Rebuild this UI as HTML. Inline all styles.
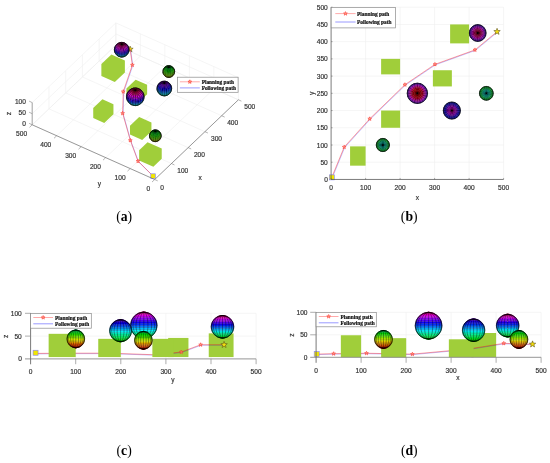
<!DOCTYPE html>
<html><head><meta charset="utf-8"><title>Path planning results</title>
<style>html,body{margin:0;padding:0;background:#fff;width:550px;height:463px;overflow:hidden}svg{display:block}</style>
</head><body>
<svg width="550" height="463" viewBox="0 0 550 463"><defs></defs><rect width="550" height="463" fill="#fff"/><line x1="365.6" y1="179.45" x2="365.6" y2="7.2" stroke="#efefef" stroke-width="0.6"/><line x1="400.1" y1="179.45" x2="400.1" y2="7.2" stroke="#efefef" stroke-width="0.6"/><line x1="434.6" y1="179.45" x2="434.6" y2="7.2" stroke="#efefef" stroke-width="0.6"/><line x1="469.1" y1="179.45" x2="469.1" y2="7.2" stroke="#efefef" stroke-width="0.6"/><line x1="503.6" y1="179.45" x2="503.6" y2="7.2" stroke="#efefef" stroke-width="0.6"/><line x1="331.1" y1="162.22" x2="503.6" y2="162.22" stroke="#efefef" stroke-width="0.6"/><line x1="331.1" y1="145" x2="503.6" y2="145" stroke="#efefef" stroke-width="0.6"/><line x1="331.1" y1="127.77" x2="503.6" y2="127.77" stroke="#efefef" stroke-width="0.6"/><line x1="331.1" y1="110.55" x2="503.6" y2="110.55" stroke="#efefef" stroke-width="0.6"/><line x1="331.1" y1="93.32" x2="503.6" y2="93.32" stroke="#efefef" stroke-width="0.6"/><line x1="331.1" y1="76.1" x2="503.6" y2="76.1" stroke="#efefef" stroke-width="0.6"/><line x1="331.1" y1="58.88" x2="503.6" y2="58.88" stroke="#efefef" stroke-width="0.6"/><line x1="331.1" y1="41.65" x2="503.6" y2="41.65" stroke="#efefef" stroke-width="0.6"/><line x1="331.1" y1="24.43" x2="503.6" y2="24.43" stroke="#efefef" stroke-width="0.6"/><line x1="331.1" y1="7.2" x2="503.6" y2="7.2" stroke="#efefef" stroke-width="0.6"/><rect x="350.08" y="146.38" width="15.52" height="19.29" fill="#a0ce3a"/><rect x="381.12" y="58.88" width="18.98" height="15.5" fill="#a0ce3a"/><rect x="381.12" y="110.55" width="18.98" height="17.22" fill="#a0ce3a"/><rect x="432.88" y="70.24" width="18.98" height="16.19" fill="#a0ce3a"/><rect x="450.12" y="24.43" width="18.98" height="18.95" fill="#a0ce3a"/><polyline points="332.24,177.83 344.66,147.52 370.19,119.27 405.38,85.16 435.4,64.84 475.42,50.37 497.5,32.11" fill="none" stroke="#0000ff" stroke-width="0.6" stroke-linejoin="round" stroke-opacity="0.4"/><polyline points="331.79,177.38 344.21,147.07 369.74,118.82 404.93,84.71 434.95,64.39 474.97,49.92 497.05,31.66" fill="none" stroke="#ff1010" stroke-width="0.65" stroke-linejoin="round" stroke-opacity="0.62"/><polygon points="344.21,145.07 344.7,146.39 346.11,146.45 345.01,147.33 345.39,148.69 344.21,147.91 343.03,148.69 343.41,147.33 342.31,146.45 343.72,146.39" fill="#f89a70" stroke="#ff3030" stroke-width="0.55" fill-opacity="0.75"/><polygon points="369.74,116.82 370.23,118.14 371.64,118.2 370.54,119.08 370.92,120.44 369.74,119.66 368.56,120.44 368.94,119.08 367.84,118.2 369.25,118.14" fill="#f89a70" stroke="#ff3030" stroke-width="0.55" fill-opacity="0.75"/><polygon points="404.93,82.71 405.42,84.03 406.83,84.09 405.73,84.97 406.11,86.33 404.93,85.55 403.75,86.33 404.13,84.97 403.03,84.09 404.44,84.03" fill="#f89a70" stroke="#ff3030" stroke-width="0.55" fill-opacity="0.75"/><polygon points="434.95,62.39 435.44,63.71 436.85,63.77 435.74,64.65 436.12,66.01 434.95,65.23 433.77,66.01 434.15,64.65 433.04,63.77 434.45,63.71" fill="#f89a70" stroke="#ff3030" stroke-width="0.55" fill-opacity="0.75"/><polygon points="474.97,47.92 475.46,49.24 476.87,49.3 475.76,50.18 476.14,51.54 474.97,50.76 473.79,51.54 474.17,50.18 473.06,49.3 474.47,49.24" fill="#f89a70" stroke="#ff3030" stroke-width="0.55" fill-opacity="0.75"/><path d="M376.2 145.0L376.6 147.0L376.7 147.0L376.3 145.0ZM376.6 147.0L377.5 148.9L377.6 148.8L376.7 147.0ZM377.5 148.9L379.0 150.3L379.0 150.3L377.6 148.8ZM379.0 150.3L380.8 151.3L380.8 151.2L379.0 150.3ZM380.8 151.3L382.9 151.6L382.9 151.5L380.8 151.2ZM382.9 151.6L384.9 151.3L384.9 151.2L382.9 151.5ZM384.9 151.3L386.7 150.3L386.7 150.3L384.9 151.2ZM386.7 150.3L388.2 148.9L388.1 148.8L386.7 150.3ZM388.2 148.9L389.1 147.0L389.0 147.0L388.1 148.8ZM389.1 147.0L389.5 145.0L389.4 145.0L389.0 147.0ZM389.5 145.0L389.1 143.0L389.0 143.0L389.4 145.0ZM389.1 143.0L388.2 141.1L388.1 141.2L389.0 143.0ZM388.2 141.1L386.7 139.7L386.7 139.7L388.1 141.2ZM386.7 139.7L384.9 138.7L384.9 138.8L386.7 139.7ZM384.9 138.7L382.9 138.4L382.9 138.5L384.9 138.8ZM382.9 138.4L380.8 138.7L380.8 138.8L382.9 138.5ZM380.8 138.7L379.0 139.7L379.0 139.7L380.8 138.8ZM379.0 139.7L377.5 141.1L377.6 141.2L379.0 139.7ZM377.5 141.1L376.6 143.0L376.7 143.0L377.6 141.2ZM376.6 143.0L376.2 145.0L376.3 145.0L376.7 143.0Z" fill="#00d91d" stroke="#000" stroke-opacity="0.85" stroke-width="0.25" stroke-linejoin="round"/><path d="M376.3 145.0L376.7 147.0L376.9 146.9L376.6 145.0ZM376.7 147.0L377.6 148.8L377.8 148.7L376.9 146.9ZM377.6 148.8L379.0 150.3L379.2 150.1L377.8 148.7ZM379.0 150.3L380.8 151.2L380.9 151.0L379.2 150.1ZM380.8 151.2L382.9 151.5L382.9 151.3L380.9 151.0ZM382.9 151.5L384.9 151.2L384.8 151.0L382.9 151.3ZM384.9 151.2L386.7 150.3L386.5 150.1L384.8 151.0ZM386.7 150.3L388.1 148.8L387.9 148.7L386.5 150.1ZM388.1 148.8L389.0 147.0L388.8 146.9L387.9 148.7ZM389.0 147.0L389.4 145.0L389.1 145.0L388.8 146.9ZM389.4 145.0L389.0 143.0L388.8 143.1L389.1 145.0ZM389.0 143.0L388.1 141.2L387.9 141.3L388.8 143.1ZM388.1 141.2L386.7 139.7L386.5 139.9L387.9 141.3ZM386.7 139.7L384.9 138.8L384.8 139.0L386.5 139.9ZM384.9 138.8L382.9 138.5L382.9 138.7L384.8 139.0ZM382.9 138.5L380.8 138.8L380.9 139.0L382.9 138.7ZM380.8 138.8L379.0 139.7L379.2 139.9L380.9 139.0ZM379.0 139.7L377.6 141.2L377.8 141.3L379.2 139.9ZM377.6 141.2L376.7 143.0L376.9 143.1L377.8 141.3ZM376.7 143.0L376.3 145.0L376.6 145.0L376.9 143.1Z" fill="#00d921" stroke="#000" stroke-opacity="0.85" stroke-width="0.25" stroke-linejoin="round"/><path d="M376.6 145.0L376.9 146.9L377.3 146.8L377.0 145.0ZM376.9 146.9L377.8 148.7L378.1 148.5L377.3 146.8ZM377.8 148.7L379.2 150.1L379.4 149.8L378.1 148.5ZM379.2 150.1L380.9 151.0L381.0 150.6L379.4 149.8ZM380.9 151.0L382.9 151.3L382.9 150.9L381.0 150.6ZM382.9 151.3L384.8 151.0L384.7 150.6L382.9 150.9ZM384.8 151.0L386.5 150.1L386.3 149.8L384.7 150.6ZM386.5 150.1L387.9 148.7L387.6 148.5L386.3 149.8ZM387.9 148.7L388.8 146.9L388.4 146.8L387.6 148.5ZM388.8 146.9L389.1 145.0L388.7 145.0L388.4 146.8ZM389.1 145.0L388.8 143.1L388.4 143.2L388.7 145.0ZM388.8 143.1L387.9 141.3L387.6 141.5L388.4 143.2ZM387.9 141.3L386.5 139.9L386.3 140.2L387.6 141.5ZM386.5 139.9L384.8 139.0L384.7 139.4L386.3 140.2ZM384.8 139.0L382.9 138.7L382.9 139.1L384.7 139.4ZM382.9 138.7L380.9 139.0L381.0 139.4L382.9 139.1ZM380.9 139.0L379.2 139.9L379.4 140.2L381.0 139.4ZM379.2 139.9L377.8 141.3L378.1 141.5L379.4 140.2ZM377.8 141.3L376.9 143.1L377.3 143.2L378.1 141.5ZM376.9 143.1L376.6 145.0L377.0 145.0L377.3 143.2Z" fill="#00d928" stroke="#000" stroke-opacity="0.85" stroke-width="0.25" stroke-linejoin="round"/><path d="M377.0 145.0L377.3 146.8L377.8 146.7L377.5 145.0ZM377.3 146.8L378.1 148.5L378.5 148.1L377.8 146.7ZM378.1 148.5L379.4 149.8L379.7 149.3L378.5 148.1ZM379.4 149.8L381.0 150.6L381.2 150.1L379.7 149.3ZM381.0 150.6L382.9 150.9L382.9 150.3L381.2 150.1ZM382.9 150.9L384.7 150.6L384.5 150.1L382.9 150.3ZM384.7 150.6L386.3 149.8L386.0 149.3L384.5 150.1ZM386.3 149.8L387.6 148.5L387.2 148.1L386.0 149.3ZM387.6 148.5L388.4 146.8L387.9 146.7L387.2 148.1ZM388.4 146.8L388.7 145.0L388.2 145.0L387.9 146.7ZM388.7 145.0L388.4 143.2L387.9 143.3L388.2 145.0ZM388.4 143.2L387.6 141.5L387.2 141.9L387.9 143.3ZM387.6 141.5L386.3 140.2L386.0 140.7L387.2 141.9ZM386.3 140.2L384.7 139.4L384.5 139.9L386.0 140.7ZM384.7 139.4L382.9 139.1L382.9 139.7L384.5 139.9ZM382.9 139.1L381.0 139.4L381.2 139.9L382.9 139.7ZM381.0 139.4L379.4 140.2L379.7 140.7L381.2 139.9ZM379.4 140.2L378.1 141.5L378.5 141.9L379.7 140.7ZM378.1 141.5L377.3 143.2L377.8 143.3L378.5 141.9ZM377.3 143.2L377.0 145.0L377.5 145.0L377.8 143.3Z" fill="#00d932" stroke="#000" stroke-opacity="0.85" stroke-width="0.25" stroke-linejoin="round"/><path d="M377.5 145.0L377.8 146.7L378.4 146.4L378.2 145.0ZM377.8 146.7L378.5 148.1L379.1 147.7L378.4 146.4ZM378.5 148.1L379.7 149.3L380.1 148.8L379.1 147.7ZM379.7 149.3L381.2 150.1L381.4 149.4L380.1 148.8ZM381.2 150.1L382.9 150.3L382.9 149.7L381.4 149.4ZM382.9 150.3L384.5 150.1L384.3 149.4L382.9 149.7ZM384.5 150.1L386.0 149.3L385.6 148.8L384.3 149.4ZM386.0 149.3L387.2 148.1L386.6 147.7L385.6 148.8ZM387.2 148.1L387.9 146.7L387.3 146.4L386.6 147.7ZM387.9 146.7L388.2 145.0L387.5 145.0L387.3 146.4ZM388.2 145.0L387.9 143.3L387.3 143.6L387.5 145.0ZM387.9 143.3L387.2 141.9L386.6 142.3L387.3 143.6ZM387.2 141.9L386.0 140.7L385.6 141.2L386.6 142.3ZM386.0 140.7L384.5 139.9L384.3 140.6L385.6 141.2ZM384.5 139.9L382.9 139.7L382.9 140.3L384.3 140.6ZM382.9 139.7L381.2 139.9L381.4 140.6L382.9 140.3ZM381.2 139.9L379.7 140.7L380.1 141.2L381.4 140.6ZM379.7 140.7L378.5 141.9L379.1 142.3L380.1 141.2ZM378.5 141.9L377.8 143.3L378.4 143.6L379.1 142.3ZM377.8 143.3L377.5 145.0L378.2 145.0L378.4 143.6Z" fill="#00d940" stroke="#000" stroke-opacity="0.85" stroke-width="0.25" stroke-linejoin="round"/><path d="M378.2 145.0L378.4 146.4L379.2 146.2L379.0 145.0ZM378.4 146.4L379.1 147.7L379.7 147.3L379.2 146.2ZM379.1 147.7L380.1 148.8L380.6 148.1L379.7 147.3ZM380.1 148.8L381.4 149.4L381.7 148.7L380.6 148.1ZM381.4 149.4L382.9 149.7L382.9 148.9L381.7 148.7ZM382.9 149.7L384.3 149.4L384.0 148.7L382.9 148.9ZM384.3 149.4L385.6 148.8L385.1 148.1L384.0 148.7ZM385.6 148.8L386.6 147.7L386.0 147.3L385.1 148.1ZM386.6 147.7L387.3 146.4L386.5 146.2L386.0 147.3ZM387.3 146.4L387.5 145.0L386.7 145.0L386.5 146.2ZM387.5 145.0L387.3 143.6L386.5 143.8L386.7 145.0ZM387.3 143.6L386.6 142.3L386.0 142.7L386.5 143.8ZM386.6 142.3L385.6 141.2L385.1 141.9L386.0 142.7ZM385.6 141.2L384.3 140.6L384.0 141.3L385.1 141.9ZM384.3 140.6L382.9 140.3L382.9 141.1L384.0 141.3ZM382.9 140.3L381.4 140.6L381.7 141.3L382.9 141.1ZM381.4 140.6L380.1 141.2L380.6 141.9L381.7 141.3ZM380.1 141.2L379.1 142.3L379.7 142.7L380.6 141.9ZM379.1 142.3L378.4 143.6L379.2 143.8L379.7 142.7ZM378.4 143.6L378.2 145.0L379.0 145.0L379.2 143.8Z" fill="#00d96d" stroke="#000" stroke-opacity="0.85" stroke-width="0.25" stroke-linejoin="round"/><path d="M379.0 145.0L379.2 146.2L380.0 145.9L379.9 145.0ZM379.2 146.2L379.7 147.3L380.4 146.8L380.0 145.9ZM379.7 147.3L380.6 148.1L381.1 147.4L380.4 146.8ZM380.6 148.1L381.7 148.7L381.9 147.8L381.1 147.4ZM381.7 148.7L382.9 148.9L382.9 148.0L381.9 147.8ZM382.9 148.9L384.0 148.7L383.8 147.8L382.9 148.0ZM384.0 148.7L385.1 148.1L384.6 147.4L383.8 147.8ZM385.1 148.1L386.0 147.3L385.3 146.8L384.6 147.4ZM386.0 147.3L386.5 146.2L385.7 145.9L385.3 146.8ZM386.5 146.2L386.7 145.0L385.8 145.0L385.7 145.9ZM386.7 145.0L386.5 143.8L385.7 144.1L385.8 145.0ZM386.5 143.8L386.0 142.7L385.3 143.2L385.7 144.1ZM386.0 142.7L385.1 141.9L384.6 142.6L385.3 143.2ZM385.1 141.9L384.0 141.3L383.8 142.2L384.6 142.6ZM384.0 141.3L382.9 141.1L382.9 142.0L383.8 142.2ZM382.9 141.1L381.7 141.3L381.9 142.2L382.9 142.0ZM381.7 141.3L380.6 141.9L381.1 142.6L381.9 142.2ZM380.6 141.9L379.7 142.7L380.4 143.2L381.1 142.6ZM379.7 142.7L379.2 143.8L380.0 144.1L380.4 143.2ZM379.2 143.8L379.0 145.0L379.9 145.0L380.0 144.1Z" fill="#00d9a4" stroke="#000" stroke-opacity="0.85" stroke-width="0.25" stroke-linejoin="round"/><path d="M379.9 145.0L380.0 145.9L380.9 145.6L380.8 145.0ZM380.0 145.9L380.4 146.8L381.2 146.2L380.9 145.6ZM380.4 146.8L381.1 147.4L381.7 146.7L381.2 146.2ZM381.1 147.4L381.9 147.8L382.2 146.9L381.7 146.7ZM381.9 147.8L382.9 148.0L382.9 147.0L382.2 146.9ZM382.9 148.0L383.8 147.8L383.5 146.9L382.9 147.0ZM383.8 147.8L384.6 147.4L384.0 146.7L383.5 146.9ZM384.6 147.4L385.3 146.8L384.5 146.2L384.0 146.7ZM385.3 146.8L385.7 145.9L384.8 145.6L384.5 146.2ZM385.7 145.9L385.8 145.0L384.9 145.0L384.8 145.6ZM385.8 145.0L385.7 144.1L384.8 144.4L384.9 145.0ZM385.7 144.1L385.3 143.2L384.5 143.8L384.8 144.4ZM385.3 143.2L384.6 142.6L384.0 143.3L384.5 143.8ZM384.6 142.6L383.8 142.2L383.5 143.1L384.0 143.3ZM383.8 142.2L382.9 142.0L382.9 143.0L383.5 143.1ZM382.9 142.0L381.9 142.2L382.2 143.1L382.9 143.0ZM381.9 142.2L381.1 142.6L381.7 143.3L382.2 143.1ZM381.1 142.6L380.4 143.2L381.2 143.8L381.7 143.3ZM380.4 143.2L380.0 144.1L380.9 144.4L381.2 143.8ZM380.0 144.1L379.9 145.0L380.8 145.0L380.9 144.4Z" fill="#00d9bc" stroke="#000" stroke-opacity="0.85" stroke-width="0.25" stroke-linejoin="round"/><path d="M380.8 145.0L380.9 145.6L381.9 145.3L381.8 145.0ZM380.9 145.6L381.2 146.2L382.0 145.6L381.9 145.3ZM381.2 146.2L381.7 146.7L382.2 145.8L382.0 145.6ZM381.7 146.7L382.2 146.9L382.5 146.0L382.2 145.8ZM382.2 146.9L382.9 147.0L382.9 146.0L382.5 146.0ZM382.9 147.0L383.5 146.9L383.2 146.0L382.9 146.0ZM383.5 146.9L384.0 146.7L383.5 145.8L383.2 146.0ZM384.0 146.7L384.5 146.2L383.7 145.6L383.5 145.8ZM384.5 146.2L384.8 145.6L383.8 145.3L383.7 145.6ZM384.8 145.6L384.9 145.0L383.9 145.0L383.8 145.3ZM384.9 145.0L384.8 144.4L383.8 144.7L383.9 145.0ZM384.8 144.4L384.5 143.8L383.7 144.4L383.8 144.7ZM384.5 143.8L384.0 143.3L383.5 144.2L383.7 144.4ZM384.0 143.3L383.5 143.1L383.2 144.0L383.5 144.2ZM383.5 143.1L382.9 143.0L382.9 144.0L383.2 144.0ZM382.9 143.0L382.2 143.1L382.5 144.0L382.9 144.0ZM382.2 143.1L381.7 143.3L382.2 144.2L382.5 144.0ZM381.7 143.3L381.2 143.8L382.0 144.4L382.2 144.2ZM381.2 143.8L380.9 144.4L381.9 144.7L382.0 144.4ZM380.9 144.4L380.8 145.0L381.8 145.0L381.9 144.7Z" fill="#00d9ce" stroke="#000" stroke-opacity="0.85" stroke-width="0.25" stroke-linejoin="round"/><path d="M381.8 145.0L381.9 145.3L382.9 145.0ZM381.9 145.3L382.0 145.6L382.9 145.0ZM382.0 145.6L382.2 145.8L382.9 145.0ZM382.2 145.8L382.5 146.0L382.9 145.0ZM382.5 146.0L382.9 146.0L382.9 145.0ZM382.9 146.0L383.2 146.0L382.9 145.0ZM383.2 146.0L383.5 145.8L382.9 145.0ZM383.5 145.8L383.7 145.6L382.9 145.0ZM383.7 145.6L383.8 145.3L382.9 145.0ZM383.8 145.3L383.9 145.0L382.9 145.0ZM383.9 145.0L383.8 144.7L382.9 145.0ZM383.8 144.7L383.7 144.4L382.9 145.0ZM383.7 144.4L383.5 144.2L382.9 145.0ZM383.5 144.2L383.2 144.0L382.9 145.0ZM383.2 144.0L382.9 144.0L382.9 145.0ZM382.9 144.0L382.5 144.0L382.9 145.0ZM382.5 144.0L382.2 144.2L382.9 145.0ZM382.2 144.2L382.0 144.4L382.9 145.0ZM382.0 144.4L381.9 144.7L382.9 145.0ZM381.9 144.7L381.8 145.0L382.9 145.0Z" fill="#00d0d9" stroke="#000" stroke-opacity="0.85" stroke-width="0.25" stroke-linejoin="round"/><circle cx="382.85" cy="145" r="6.6" fill="none" stroke="#000" stroke-width="0.5"/><path d="M479.5 93.3L479.8 95.5L479.9 95.4L479.5 93.3ZM479.8 95.5L480.8 97.4L480.8 97.3L479.9 95.4ZM480.8 97.4L482.3 98.9L482.3 98.8L480.8 97.3ZM482.3 98.9L484.2 99.9L484.2 99.8L482.3 98.8ZM484.2 99.9L486.4 100.2L486.4 100.1L484.2 99.8ZM486.4 100.2L488.5 99.9L488.5 99.8L486.4 100.1ZM488.5 99.9L490.4 98.9L490.4 98.8L488.5 99.8ZM490.4 98.9L491.9 97.4L491.9 97.3L490.4 98.8ZM491.9 97.4L492.9 95.5L492.8 95.4L491.9 97.3ZM492.9 95.5L493.2 93.3L493.2 93.3L492.8 95.4ZM493.2 93.3L492.9 91.2L492.8 91.2L493.2 93.3ZM492.9 91.2L491.9 89.3L491.9 89.3L492.8 91.2ZM491.9 89.3L490.4 87.7L490.4 87.8L491.9 89.3ZM490.4 87.7L488.5 86.8L488.5 86.8L490.4 87.8ZM488.5 86.8L486.4 86.4L486.4 86.5L488.5 86.8ZM486.4 86.4L484.2 86.8L484.2 86.8L486.4 86.5ZM484.2 86.8L482.3 87.7L482.3 87.8L484.2 86.8ZM482.3 87.7L480.8 89.3L480.8 89.3L482.3 87.8ZM480.8 89.3L479.8 91.2L479.9 91.2L480.8 89.3ZM479.8 91.2L479.5 93.3L479.5 93.3L479.9 91.2Z" fill="#00d91d" stroke="#000" stroke-opacity="0.85" stroke-width="0.25" stroke-linejoin="round"/><path d="M479.5 93.3L479.9 95.4L480.1 95.4L479.8 93.3ZM479.9 95.4L480.8 97.3L481.0 97.2L480.1 95.4ZM480.8 97.3L482.3 98.8L482.5 98.6L481.0 97.2ZM482.3 98.8L484.2 99.8L484.3 99.6L482.5 98.6ZM484.2 99.8L486.4 100.1L486.4 99.9L484.3 99.6ZM486.4 100.1L488.5 99.8L488.4 99.6L486.4 99.9ZM488.5 99.8L490.4 98.8L490.2 98.6L488.4 99.6ZM490.4 98.8L491.9 97.3L491.7 97.2L490.2 98.6ZM491.9 97.3L492.8 95.4L492.6 95.4L491.7 97.2ZM492.8 95.4L493.2 93.3L492.9 93.3L492.6 95.4ZM493.2 93.3L492.8 91.2L492.6 91.3L492.9 93.3ZM492.8 91.2L491.9 89.3L491.7 89.5L492.6 91.3ZM491.9 89.3L490.4 87.8L490.2 88.0L491.7 89.5ZM490.4 87.8L488.5 86.8L488.4 87.1L490.2 88.0ZM488.5 86.8L486.4 86.5L486.4 86.8L488.4 87.1ZM486.4 86.5L484.2 86.8L484.3 87.1L486.4 86.8ZM484.2 86.8L482.3 87.8L482.5 88.0L484.3 87.1ZM482.3 87.8L480.8 89.3L481.0 89.5L482.5 88.0ZM480.8 89.3L479.9 91.2L480.1 91.3L481.0 89.5ZM479.9 91.2L479.5 93.3L479.8 93.3L480.1 91.3Z" fill="#00d921" stroke="#000" stroke-opacity="0.85" stroke-width="0.25" stroke-linejoin="round"/><path d="M479.8 93.3L480.1 95.4L480.5 95.2L480.2 93.3ZM480.1 95.4L481.0 97.2L481.4 96.9L480.5 95.2ZM481.0 97.2L482.5 98.6L482.7 98.3L481.4 96.9ZM482.5 98.6L484.3 99.6L484.5 99.2L482.7 98.3ZM484.3 99.6L486.4 99.9L486.4 99.5L484.5 99.2ZM486.4 99.9L488.4 99.6L488.2 99.2L486.4 99.5ZM488.4 99.6L490.2 98.6L490.0 98.3L488.2 99.2ZM490.2 98.6L491.7 97.2L491.3 96.9L490.0 98.3ZM491.7 97.2L492.6 95.4L492.2 95.2L491.3 96.9ZM492.6 95.4L492.9 93.3L492.5 93.3L492.2 95.2ZM492.9 93.3L492.6 91.3L492.2 91.4L492.5 93.3ZM492.6 91.3L491.7 89.5L491.3 89.7L492.2 91.4ZM491.7 89.5L490.2 88.0L490.0 88.4L491.3 89.7ZM490.2 88.0L488.4 87.1L488.2 87.5L490.0 88.4ZM488.4 87.1L486.4 86.8L486.4 87.2L488.2 87.5ZM486.4 86.8L484.3 87.1L484.5 87.5L486.4 87.2ZM484.3 87.1L482.5 88.0L482.7 88.4L484.5 87.5ZM482.5 88.0L481.0 89.5L481.4 89.7L482.7 88.4ZM481.0 89.5L480.1 91.3L480.5 91.4L481.4 89.7ZM480.1 91.3L479.8 93.3L480.2 93.3L480.5 91.4Z" fill="#00d928" stroke="#000" stroke-opacity="0.85" stroke-width="0.25" stroke-linejoin="round"/><path d="M480.2 93.3L480.5 95.2L481.0 95.0L480.8 93.3ZM480.5 95.2L481.4 96.9L481.8 96.6L481.0 95.0ZM481.4 96.9L482.7 98.3L483.1 97.8L481.8 96.6ZM482.7 98.3L484.5 99.2L484.6 98.6L483.1 97.8ZM484.5 99.2L486.4 99.5L486.4 98.9L484.6 98.6ZM486.4 99.5L488.2 99.2L488.1 98.6L486.4 98.9ZM488.2 99.2L490.0 98.3L489.6 97.8L488.1 98.6ZM490.0 98.3L491.3 96.9L490.9 96.6L489.6 97.8ZM491.3 96.9L492.2 95.2L491.7 95.0L490.9 96.6ZM492.2 95.2L492.5 93.3L491.9 93.3L491.7 95.0ZM492.5 93.3L492.2 91.4L491.7 91.6L491.9 93.3ZM492.2 91.4L491.3 89.7L490.9 90.0L491.7 91.6ZM491.3 89.7L490.0 88.4L489.6 88.8L490.9 90.0ZM490.0 88.4L488.2 87.5L488.1 88.0L489.6 88.8ZM488.2 87.5L486.4 87.2L486.4 87.7L488.1 88.0ZM486.4 87.2L484.5 87.5L484.6 88.0L486.4 87.7ZM484.5 87.5L482.7 88.4L483.1 88.8L484.6 88.0ZM482.7 88.4L481.4 89.7L481.8 90.0L483.1 88.8ZM481.4 89.7L480.5 91.4L481.0 91.6L481.8 90.0ZM480.5 91.4L480.2 93.3L480.8 93.3L481.0 91.6Z" fill="#00d932" stroke="#000" stroke-opacity="0.85" stroke-width="0.25" stroke-linejoin="round"/><path d="M480.8 93.3L481.0 95.0L481.7 94.8L481.5 93.3ZM481.0 95.0L481.8 96.6L482.4 96.2L481.7 94.8ZM481.8 96.6L483.1 97.8L483.5 97.3L482.4 96.2ZM483.1 97.8L484.6 98.6L484.8 98.0L483.5 97.3ZM484.6 98.6L486.4 98.9L486.4 98.2L484.8 98.0ZM486.4 98.9L488.1 98.6L487.9 98.0L486.4 98.2ZM488.1 98.6L489.6 97.8L489.2 97.3L487.9 98.0ZM489.6 97.8L490.9 96.6L490.3 96.2L489.2 97.3ZM490.9 96.6L491.7 95.0L491.0 94.8L490.3 96.2ZM491.7 95.0L491.9 93.3L491.2 93.3L491.0 94.8ZM491.9 93.3L491.7 91.6L491.0 91.8L491.2 93.3ZM491.7 91.6L490.9 90.0L490.3 90.5L491.0 91.8ZM490.9 90.0L489.6 88.8L489.2 89.4L490.3 90.5ZM489.6 88.8L488.1 88.0L487.9 88.7L489.2 89.4ZM488.1 88.0L486.4 87.7L486.4 88.4L487.9 88.7ZM486.4 87.7L484.6 88.0L484.8 88.7L486.4 88.4ZM484.6 88.0L483.1 88.8L483.5 89.4L484.8 88.7ZM483.1 88.8L481.8 90.0L482.4 90.5L483.5 89.4ZM481.8 90.0L481.0 91.6L481.7 91.8L482.4 90.5ZM481.0 91.6L480.8 93.3L481.5 93.3L481.7 91.8Z" fill="#00d940" stroke="#000" stroke-opacity="0.85" stroke-width="0.25" stroke-linejoin="round"/><path d="M481.5 93.3L481.7 94.8L482.5 94.6L482.3 93.3ZM481.7 94.8L482.4 96.2L483.1 95.7L482.5 94.6ZM482.4 96.2L483.5 97.3L484.0 96.6L483.1 95.7ZM483.5 97.3L484.8 98.0L485.1 97.2L484.0 96.6ZM484.8 98.0L486.4 98.2L486.4 97.4L485.1 97.2ZM486.4 98.2L487.9 98.0L487.6 97.2L486.4 97.4ZM487.9 98.0L489.2 97.3L488.7 96.6L487.6 97.2ZM489.2 97.3L490.3 96.2L489.6 95.7L488.7 96.6ZM490.3 96.2L491.0 94.8L490.2 94.6L489.6 95.7ZM491.0 94.8L491.2 93.3L490.4 93.3L490.2 94.6ZM491.2 93.3L491.0 91.8L490.2 92.1L490.4 93.3ZM491.0 91.8L490.3 90.5L489.6 90.9L490.2 92.1ZM490.3 90.5L489.2 89.4L488.7 90.0L489.6 90.9ZM489.2 89.4L487.9 88.7L487.6 89.5L488.7 90.0ZM487.9 88.7L486.4 88.4L486.4 89.3L487.6 89.5ZM486.4 88.4L484.8 88.7L485.1 89.5L486.4 89.3ZM484.8 88.7L483.5 89.4L484.0 90.0L485.1 89.5ZM483.5 89.4L482.4 90.5L483.1 90.9L484.0 90.0ZM482.4 90.5L481.7 91.8L482.5 92.1L483.1 90.9ZM481.7 91.8L481.5 93.3L482.3 93.3L482.5 92.1Z" fill="#00d96d" stroke="#000" stroke-opacity="0.85" stroke-width="0.25" stroke-linejoin="round"/><path d="M482.3 93.3L482.5 94.6L483.4 94.3L483.2 93.3ZM482.5 94.6L483.1 95.7L483.8 95.2L483.4 94.3ZM483.1 95.7L484.0 96.6L484.5 95.9L483.8 95.2ZM484.0 96.6L485.1 97.2L485.4 96.3L484.5 95.9ZM485.1 97.2L486.4 97.4L486.4 96.5L485.4 96.3ZM486.4 97.4L487.6 97.2L487.3 96.3L486.4 96.5ZM487.6 97.2L488.7 96.6L488.2 95.9L487.3 96.3ZM488.7 96.6L489.6 95.7L488.9 95.2L488.2 95.9ZM489.6 95.7L490.2 94.6L489.3 94.3L488.9 95.2ZM490.2 94.6L490.4 93.3L489.5 93.3L489.3 94.3ZM490.4 93.3L490.2 92.1L489.3 92.4L489.5 93.3ZM490.2 92.1L489.6 90.9L488.9 91.5L489.3 92.4ZM489.6 90.9L488.7 90.0L488.2 90.8L488.9 91.5ZM488.7 90.0L487.6 89.5L487.3 90.3L488.2 90.8ZM487.6 89.5L486.4 89.3L486.4 90.2L487.3 90.3ZM486.4 89.3L485.1 89.5L485.4 90.3L486.4 90.2ZM485.1 89.5L484.0 90.0L484.5 90.8L485.4 90.3ZM484.0 90.0L483.1 90.9L483.8 91.5L484.5 90.8ZM483.1 90.9L482.5 92.1L483.4 92.4L483.8 91.5ZM482.5 92.1L482.3 93.3L483.2 93.3L483.4 92.4Z" fill="#00d9a4" stroke="#000" stroke-opacity="0.85" stroke-width="0.25" stroke-linejoin="round"/><path d="M483.2 93.3L483.4 94.3L484.3 94.0L484.2 93.3ZM483.4 94.3L483.8 95.2L484.6 94.6L484.3 94.0ZM483.8 95.2L484.5 95.9L485.1 95.0L484.6 94.6ZM484.5 95.9L485.4 96.3L485.7 95.4L485.1 95.0ZM485.4 96.3L486.4 96.5L486.4 95.5L485.7 95.4ZM486.4 96.5L487.3 96.3L487.0 95.4L486.4 95.5ZM487.3 96.3L488.2 95.9L487.6 95.0L487.0 95.4ZM488.2 95.9L488.9 95.2L488.1 94.6L487.6 95.0ZM488.9 95.2L489.3 94.3L488.4 94.0L488.1 94.6ZM489.3 94.3L489.5 93.3L488.5 93.3L488.4 94.0ZM489.5 93.3L489.3 92.4L488.4 92.7L488.5 93.3ZM489.3 92.4L488.9 91.5L488.1 92.1L488.4 92.7ZM488.9 91.5L488.2 90.8L487.6 91.6L488.1 92.1ZM488.2 90.8L487.3 90.3L487.0 91.3L487.6 91.6ZM487.3 90.3L486.4 90.2L486.4 91.2L487.0 91.3ZM486.4 90.2L485.4 90.3L485.7 91.3L486.4 91.2ZM485.4 90.3L484.5 90.8L485.1 91.6L485.7 91.3ZM484.5 90.8L483.8 91.5L484.6 92.1L485.1 91.6ZM483.8 91.5L483.4 92.4L484.3 92.7L484.6 92.1ZM483.4 92.4L483.2 93.3L484.2 93.3L484.3 92.7Z" fill="#00d9bc" stroke="#000" stroke-opacity="0.85" stroke-width="0.25" stroke-linejoin="round"/><path d="M484.2 93.3L484.3 94.0L485.3 93.7L485.3 93.3ZM484.3 94.0L484.6 94.6L485.5 94.0L485.3 93.7ZM484.6 94.6L485.1 95.0L485.7 94.2L485.5 94.0ZM485.1 95.0L485.7 95.4L486.0 94.4L485.7 94.2ZM485.7 95.4L486.4 95.5L486.4 94.4L486.0 94.4ZM486.4 95.5L487.0 95.4L486.7 94.4L486.4 94.4ZM487.0 95.4L487.6 95.0L487.0 94.2L486.7 94.4ZM487.6 95.0L488.1 94.6L487.2 94.0L487.0 94.2ZM488.1 94.6L488.4 94.0L487.4 93.7L487.2 94.0ZM488.4 94.0L488.5 93.3L487.4 93.3L487.4 93.7ZM488.5 93.3L488.4 92.7L487.4 93.0L487.4 93.3ZM488.4 92.7L488.1 92.1L487.2 92.7L487.4 93.0ZM488.1 92.1L487.6 91.6L487.0 92.5L487.2 92.7ZM487.6 91.6L487.0 91.3L486.7 92.3L487.0 92.5ZM487.0 91.3L486.4 91.2L486.4 92.2L486.7 92.3ZM486.4 91.2L485.7 91.3L486.0 92.3L486.4 92.2ZM485.7 91.3L485.1 91.6L485.7 92.5L486.0 92.3ZM485.1 91.6L484.6 92.1L485.5 92.7L485.7 92.5ZM484.6 92.1L484.3 92.7L485.3 93.0L485.5 92.7ZM484.3 92.7L484.2 93.3L485.3 93.3L485.3 93.0Z" fill="#00d9ce" stroke="#000" stroke-opacity="0.85" stroke-width="0.25" stroke-linejoin="round"/><path d="M485.3 93.3L485.3 93.7L486.4 93.3ZM485.3 93.7L485.5 94.0L486.4 93.3ZM485.5 94.0L485.7 94.2L486.4 93.3ZM485.7 94.2L486.0 94.4L486.4 93.3ZM486.0 94.4L486.4 94.4L486.4 93.3ZM486.4 94.4L486.7 94.4L486.4 93.3ZM486.7 94.4L487.0 94.2L486.4 93.3ZM487.0 94.2L487.2 94.0L486.4 93.3ZM487.2 94.0L487.4 93.7L486.4 93.3ZM487.4 93.7L487.4 93.3L486.4 93.3ZM487.4 93.3L487.4 93.0L486.4 93.3ZM487.4 93.0L487.2 92.7L486.4 93.3ZM487.2 92.7L487.0 92.5L486.4 93.3ZM487.0 92.5L486.7 92.3L486.4 93.3ZM486.7 92.3L486.4 92.2L486.4 93.3ZM486.4 92.2L486.0 92.3L486.4 93.3ZM486.0 92.3L485.7 92.5L486.4 93.3ZM485.7 92.5L485.5 92.7L486.4 93.3ZM485.5 92.7L485.3 93.0L486.4 93.3ZM485.3 93.0L485.3 93.3L486.4 93.3Z" fill="#00d0d9" stroke="#000" stroke-opacity="0.85" stroke-width="0.25" stroke-linejoin="round"/><circle cx="486.35" cy="93.32" r="6.9" fill="none" stroke="#000" stroke-width="0.5"/><path d="M407.2 93.3L407.6 96.5L407.8 96.4L407.3 93.3ZM407.6 96.5L409.1 99.3L409.2 99.2L407.8 96.4ZM409.1 99.3L411.4 101.6L411.4 101.5L409.2 99.2ZM411.4 101.6L414.2 103.0L414.2 102.9L411.4 101.5ZM414.2 103.0L417.4 103.5L417.4 103.4L414.2 102.9ZM417.4 103.5L420.5 103.0L420.5 102.9L417.4 103.4ZM420.5 103.0L423.3 101.6L423.3 101.5L420.5 102.9ZM423.3 101.6L425.6 99.3L425.5 99.2L423.3 101.5ZM425.6 99.3L427.1 96.5L426.9 96.4L425.5 99.2ZM427.1 96.5L427.6 93.3L427.4 93.3L426.9 96.4ZM427.6 93.3L427.1 90.2L426.9 90.2L427.4 93.3ZM427.1 90.2L425.6 87.3L425.5 87.4L426.9 90.2ZM425.6 87.3L423.3 85.1L423.3 85.2L425.5 87.4ZM423.3 85.1L420.5 83.6L420.5 83.7L423.3 85.2ZM420.5 83.6L417.4 83.1L417.4 83.3L420.5 83.7ZM417.4 83.1L414.2 83.6L414.2 83.7L417.4 83.3ZM414.2 83.6L411.4 85.1L411.4 85.2L414.2 83.7ZM411.4 85.1L409.1 87.3L409.2 87.4L411.4 85.2ZM409.1 87.3L407.6 90.2L407.8 90.2L409.2 87.4ZM407.6 90.2L407.2 93.3L407.3 93.3L407.8 90.2Z" fill="#2000d9" stroke="#000" stroke-opacity="0.85" stroke-width="0.25" stroke-linejoin="round"/><path d="M407.3 93.3L407.8 96.4L408.1 96.3L407.6 93.3ZM407.8 96.4L409.2 99.2L409.5 99.0L408.1 96.3ZM409.2 99.2L411.4 101.5L411.6 101.2L409.5 99.0ZM411.4 101.5L414.2 102.9L414.4 102.6L411.6 101.2ZM414.2 102.9L417.4 103.4L417.4 103.0L414.4 102.6ZM417.4 103.4L420.5 102.9L420.3 102.6L417.4 103.0ZM420.5 102.9L423.3 101.5L423.1 101.2L420.3 102.6ZM423.3 101.5L425.5 99.2L425.2 99.0L423.1 101.2ZM425.5 99.2L426.9 96.4L426.6 96.3L425.2 99.0ZM426.9 96.4L427.4 93.3L427.1 93.3L426.6 96.3ZM427.4 93.3L426.9 90.2L426.6 90.3L427.1 93.3ZM426.9 90.2L425.5 87.4L425.2 87.6L426.6 90.3ZM425.5 87.4L423.3 85.2L423.1 85.5L425.2 87.6ZM423.3 85.2L420.5 83.7L420.3 84.1L423.1 85.5ZM420.5 83.7L417.4 83.3L417.4 83.6L420.3 84.1ZM417.4 83.3L414.2 83.7L414.4 84.1L417.4 83.6ZM414.2 83.7L411.4 85.2L411.6 85.5L414.4 84.1ZM411.4 85.2L409.2 87.4L409.5 87.6L411.6 85.5ZM409.2 87.4L407.8 90.2L408.1 90.3L409.5 87.6ZM407.8 90.2L407.3 93.3L407.6 93.3L408.1 90.3Z" fill="#3800d9" stroke="#000" stroke-opacity="0.85" stroke-width="0.25" stroke-linejoin="round"/><path d="M407.6 93.3L408.1 96.3L408.7 96.1L408.3 93.3ZM408.1 96.3L409.5 99.0L410.0 98.7L408.7 96.1ZM409.5 99.0L411.6 101.2L412.0 100.7L410.0 98.7ZM411.6 101.2L414.4 102.6L414.5 102.0L412.0 100.7ZM414.4 102.6L417.4 103.0L417.4 102.4L414.5 102.0ZM417.4 103.0L420.3 102.6L420.2 102.0L417.4 102.4ZM420.3 102.6L423.1 101.2L422.7 100.7L420.2 102.0ZM423.1 101.2L425.2 99.0L424.7 98.7L422.7 100.7ZM425.2 99.0L426.6 96.3L426.0 96.1L424.7 98.7ZM426.6 96.3L427.1 93.3L426.4 93.3L426.0 96.1ZM427.1 93.3L426.6 90.3L426.0 90.5L426.4 93.3ZM426.6 90.3L425.2 87.6L424.7 88.0L426.0 90.5ZM425.2 87.6L423.1 85.5L422.7 86.0L424.7 88.0ZM423.1 85.5L420.3 84.1L420.2 84.7L422.7 86.0ZM420.3 84.1L417.4 83.6L417.4 84.2L420.2 84.7ZM417.4 83.6L414.4 84.1L414.5 84.7L417.4 84.2ZM414.4 84.1L411.6 85.5L412.0 86.0L414.5 84.7ZM411.6 85.5L409.5 87.6L410.0 88.0L412.0 86.0ZM409.5 87.6L408.1 90.3L408.7 90.5L410.0 88.0ZM408.1 90.3L407.6 93.3L408.3 93.3L408.7 90.5Z" fill="#6700d9" stroke="#000" stroke-opacity="0.85" stroke-width="0.25" stroke-linejoin="round"/><path d="M408.3 93.3L408.7 96.1L409.5 95.9L409.1 93.3ZM408.7 96.1L410.0 98.7L410.7 98.2L409.5 95.9ZM410.0 98.7L412.0 100.7L412.5 100.0L410.7 98.2ZM412.0 100.7L414.5 102.0L414.8 101.2L412.5 100.0ZM414.5 102.0L417.4 102.4L417.4 101.6L414.8 101.2ZM417.4 102.4L420.2 102.0L419.9 101.2L417.4 101.6ZM420.2 102.0L422.7 100.7L422.2 100.0L419.9 101.2ZM422.7 100.7L424.7 98.7L424.0 98.2L422.2 100.0ZM424.7 98.7L426.0 96.1L425.2 95.9L424.0 98.2ZM426.0 96.1L426.4 93.3L425.6 93.3L425.2 95.9ZM426.4 93.3L426.0 90.5L425.2 90.8L425.6 93.3ZM426.0 90.5L424.7 88.0L424.0 88.5L425.2 90.8ZM424.7 88.0L422.7 86.0L422.2 86.6L424.0 88.5ZM422.7 86.0L420.2 84.7L419.9 85.5L422.2 86.6ZM420.2 84.7L417.4 84.2L417.4 85.1L419.9 85.5ZM417.4 84.2L414.5 84.7L414.8 85.5L417.4 85.1ZM414.5 84.7L412.0 86.0L412.5 86.6L414.8 85.5ZM412.0 86.0L410.0 88.0L410.7 88.5L412.5 86.6ZM410.0 88.0L408.7 90.5L409.5 90.8L410.7 88.5ZM408.7 90.5L408.3 93.3L409.1 93.3L409.5 90.8Z" fill="#9b00d9" stroke="#000" stroke-opacity="0.85" stroke-width="0.25" stroke-linejoin="round"/><path d="M409.1 93.3L409.5 95.9L410.5 95.6L410.1 93.3ZM409.5 95.9L410.7 98.2L411.5 97.6L410.5 95.6ZM410.7 98.2L412.5 100.0L413.1 99.2L411.5 97.6ZM412.5 100.0L414.8 101.2L415.1 100.2L413.1 99.2ZM414.8 101.2L417.4 101.6L417.4 100.5L415.1 100.2ZM417.4 101.6L419.9 101.2L419.6 100.2L417.4 100.5ZM419.9 101.2L422.2 100.0L421.6 99.2L419.6 100.2ZM422.2 100.0L424.0 98.2L423.2 97.6L421.6 99.2ZM424.0 98.2L425.2 95.9L424.2 95.6L423.2 97.6ZM425.2 95.9L425.6 93.3L424.6 93.3L424.2 95.6ZM425.6 93.3L425.2 90.8L424.2 91.1L424.6 93.3ZM425.2 90.8L424.0 88.5L423.2 89.1L424.2 91.1ZM424.0 88.5L422.2 86.6L421.6 87.5L423.2 89.1ZM422.2 86.6L419.9 85.5L419.6 86.5L421.6 87.5ZM419.9 85.5L417.4 85.1L417.4 86.1L419.6 86.5ZM417.4 85.1L414.8 85.5L415.1 86.5L417.4 86.1ZM414.8 85.5L412.5 86.6L413.1 87.5L415.1 86.5ZM412.5 86.6L410.7 88.5L411.5 89.1L413.1 87.5ZM410.7 88.5L409.5 90.8L410.5 91.1L411.5 89.1ZM409.5 90.8L409.1 93.3L410.1 93.3L410.5 91.1Z" fill="#d200d9" stroke="#000" stroke-opacity="0.85" stroke-width="0.25" stroke-linejoin="round"/><path d="M410.1 93.3L410.5 95.6L411.6 95.2L411.4 93.3ZM410.5 95.6L411.5 97.6L412.5 96.8L411.6 95.2ZM411.5 97.6L413.1 99.2L413.8 98.2L412.5 96.8ZM413.1 99.2L415.1 100.2L415.5 99.0L413.8 98.2ZM415.1 100.2L417.4 100.5L417.4 99.3L415.5 99.0ZM417.4 100.5L419.6 100.2L419.2 99.0L417.4 99.3ZM419.6 100.2L421.6 99.2L420.9 98.2L419.2 99.0ZM421.6 99.2L423.2 97.6L422.2 96.8L420.9 98.2ZM423.2 97.6L424.2 95.6L423.1 95.2L422.2 96.8ZM424.2 95.6L424.6 93.3L423.3 93.3L423.1 95.2ZM424.6 93.3L424.2 91.1L423.1 91.5L423.3 93.3ZM424.2 91.1L423.2 89.1L422.2 89.8L423.1 91.5ZM423.2 89.1L421.6 87.5L420.9 88.5L422.2 89.8ZM421.6 87.5L419.6 86.5L419.2 87.6L420.9 88.5ZM419.6 86.5L417.4 86.1L417.4 87.3L419.2 87.6ZM417.4 86.1L415.1 86.5L415.5 87.6L417.4 87.3ZM415.1 86.5L413.1 87.5L413.8 88.5L415.5 87.6ZM413.1 87.5L411.5 89.1L412.5 89.8L413.8 88.5ZM411.5 89.1L410.5 91.1L411.6 91.5L412.5 89.8ZM410.5 91.1L410.1 93.3L411.4 93.3L411.6 91.5Z" fill="#d90084" stroke="#000" stroke-opacity="0.85" stroke-width="0.25" stroke-linejoin="round"/><path d="M411.4 93.3L411.6 95.2L412.9 94.8L412.7 93.3ZM411.6 95.2L412.5 96.8L413.6 96.0L412.9 94.8ZM412.5 96.8L413.8 98.2L414.6 97.1L413.6 96.0ZM413.8 98.2L415.5 99.0L415.9 97.7L414.6 97.1ZM415.5 99.0L417.4 99.3L417.4 98.0L415.9 97.7ZM417.4 99.3L419.2 99.0L418.8 97.7L417.4 98.0ZM419.2 99.0L420.9 98.2L420.1 97.1L418.8 97.7ZM420.9 98.2L422.2 96.8L421.1 96.0L420.1 97.1ZM422.2 96.8L423.1 95.2L421.8 94.8L421.1 96.0ZM423.1 95.2L423.3 93.3L422.0 93.3L421.8 94.8ZM423.3 93.3L423.1 91.5L421.8 91.9L422.0 93.3ZM423.1 91.5L422.2 89.8L421.1 90.6L421.8 91.9ZM422.2 89.8L420.9 88.5L420.1 89.6L421.1 90.6ZM420.9 88.5L419.2 87.6L418.8 88.9L420.1 89.6ZM419.2 87.6L417.4 87.3L417.4 88.7L418.8 88.9ZM417.4 87.3L415.5 87.6L415.9 88.9L417.4 88.7ZM415.5 87.6L413.8 88.5L414.6 89.6L415.9 88.9ZM413.8 88.5L412.5 89.8L413.6 90.6L414.6 89.6ZM412.5 89.8L411.6 91.5L412.9 91.9L413.6 90.6ZM411.6 91.5L411.4 93.3L412.7 93.3L412.9 91.9Z" fill="#d90035" stroke="#000" stroke-opacity="0.85" stroke-width="0.25" stroke-linejoin="round"/><path d="M412.7 93.3L412.9 94.8L414.4 94.3L414.2 93.3ZM412.9 94.8L413.6 96.0L414.8 95.2L414.4 94.3ZM413.6 96.0L414.6 97.1L415.5 95.9L414.8 95.2ZM414.6 97.1L415.9 97.7L416.4 96.3L415.5 95.9ZM415.9 97.7L417.4 98.0L417.4 96.5L416.4 96.3ZM417.4 98.0L418.8 97.7L418.3 96.3L417.4 96.5ZM418.8 97.7L420.1 97.1L419.2 95.9L418.3 96.3ZM420.1 97.1L421.1 96.0L419.9 95.2L419.2 95.9ZM421.1 96.0L421.8 94.8L420.3 94.3L419.9 95.2ZM421.8 94.8L422.0 93.3L420.5 93.3L420.3 94.3ZM422.0 93.3L421.8 91.9L420.3 92.4L420.5 93.3ZM421.8 91.9L421.1 90.6L419.9 91.5L420.3 92.4ZM421.1 90.6L420.1 89.6L419.2 90.8L419.9 91.5ZM420.1 89.6L418.8 88.9L418.3 90.3L419.2 90.8ZM418.8 88.9L417.4 88.7L417.4 90.2L418.3 90.3ZM417.4 88.7L415.9 88.9L416.4 90.3L417.4 90.2ZM415.9 88.9L414.6 89.6L415.5 90.8L416.4 90.3ZM414.6 89.6L413.6 90.6L414.8 91.5L415.5 90.8ZM413.6 90.6L412.9 91.9L414.4 92.4L414.8 91.5ZM412.9 91.9L412.7 93.3L414.2 93.3L414.4 92.4Z" fill="#d9000f" stroke="#000" stroke-opacity="0.85" stroke-width="0.25" stroke-linejoin="round"/><path d="M414.2 93.3L414.4 94.3L415.8 93.8L415.8 93.3ZM414.4 94.3L414.8 95.2L416.1 94.3L415.8 93.8ZM414.8 95.2L415.5 95.9L416.4 94.6L416.1 94.3ZM415.5 95.9L416.4 96.3L416.9 94.8L416.4 94.6ZM416.4 96.3L417.4 96.5L417.4 94.9L416.9 94.8ZM417.4 96.5L418.3 96.3L417.8 94.8L417.4 94.9ZM418.3 96.3L419.2 95.9L418.3 94.6L417.8 94.8ZM419.2 95.9L419.9 95.2L418.6 94.3L418.3 94.6ZM419.9 95.2L420.3 94.3L418.9 93.8L418.6 94.3ZM420.3 94.3L420.5 93.3L418.9 93.3L418.9 93.8ZM420.5 93.3L420.3 92.4L418.9 92.8L418.9 93.3ZM420.3 92.4L419.9 91.5L418.6 92.4L418.9 92.8ZM419.9 91.5L419.2 90.8L418.3 92.0L418.6 92.4ZM419.2 90.8L418.3 90.3L417.8 91.8L418.3 92.0ZM418.3 90.3L417.4 90.2L417.4 91.7L417.8 91.8ZM417.4 90.2L416.4 90.3L416.9 91.8L417.4 91.7ZM416.4 90.3L415.5 90.8L416.4 92.0L416.9 91.8ZM415.5 90.8L414.8 91.5L416.1 92.4L416.4 92.0ZM414.8 91.5L414.4 92.4L415.8 92.8L416.1 92.4ZM414.4 92.4L414.2 93.3L415.8 93.3L415.8 92.8Z" fill="#d90009" stroke="#000" stroke-opacity="0.85" stroke-width="0.25" stroke-linejoin="round"/><path d="M415.8 93.3L415.8 93.8L417.4 93.3ZM415.8 93.8L416.1 94.3L417.4 93.3ZM416.1 94.3L416.4 94.6L417.4 93.3ZM416.4 94.6L416.9 94.8L417.4 93.3ZM416.9 94.8L417.4 94.9L417.4 93.3ZM417.4 94.9L417.8 94.8L417.4 93.3ZM417.8 94.8L418.3 94.6L417.4 93.3ZM418.3 94.6L418.6 94.3L417.4 93.3ZM418.6 94.3L418.9 93.8L417.4 93.3ZM418.9 93.8L418.9 93.3L417.4 93.3ZM418.9 93.3L418.9 92.8L417.4 93.3ZM418.9 92.8L418.6 92.4L417.4 93.3ZM418.6 92.4L418.3 92.0L417.4 93.3ZM418.3 92.0L417.8 91.8L417.4 93.3ZM417.8 91.8L417.4 91.7L417.4 93.3ZM417.4 91.7L416.9 91.8L417.4 93.3ZM416.9 91.8L416.4 92.0L417.4 93.3ZM416.4 92.0L416.1 92.4L417.4 93.3ZM416.1 92.4L415.8 92.8L417.4 93.3ZM415.8 92.8L415.8 93.3L417.4 93.3Z" fill="#d90003" stroke="#000" stroke-opacity="0.85" stroke-width="0.25" stroke-linejoin="round"/><circle cx="417.35" cy="93.32" r="10.2" fill="none" stroke="#000" stroke-width="0.5"/><path d="M443.2 110.5L443.7 113.2L443.8 113.2L443.4 110.5ZM443.7 113.2L444.9 115.6L445.0 115.5L443.8 113.2ZM444.9 115.6L446.8 117.5L446.9 117.4L445.0 115.5ZM446.8 117.5L449.2 118.7L449.2 118.6L446.9 117.4ZM449.2 118.7L451.9 119.1L451.9 119.0L449.2 118.6ZM451.9 119.1L454.5 118.7L454.5 118.6L451.9 119.0ZM454.5 118.7L456.9 117.5L456.8 117.4L454.5 118.6ZM456.9 117.5L458.8 115.6L458.7 115.5L456.8 117.4ZM458.8 115.6L460.0 113.2L459.9 113.2L458.7 115.5ZM460.0 113.2L460.5 110.5L460.3 110.5L459.9 113.2ZM460.5 110.5L460.0 107.9L459.9 107.9L460.3 110.5ZM460.0 107.9L458.8 105.5L458.7 105.6L459.9 107.9ZM458.8 105.5L456.9 103.6L456.8 103.7L458.7 105.6ZM456.9 103.6L454.5 102.4L454.5 102.5L456.8 103.7ZM454.5 102.4L451.9 102.0L451.9 102.1L454.5 102.5ZM451.9 102.0L449.2 102.4L449.2 102.5L451.9 102.1ZM449.2 102.4L446.8 103.6L446.9 103.7L449.2 102.5ZM446.8 103.6L444.9 105.5L445.0 105.6L446.9 103.7ZM444.9 105.5L443.7 107.9L443.8 107.9L445.0 105.6ZM443.7 107.9L443.2 110.5L443.4 110.5L443.8 107.9Z" fill="#0012d9" stroke="#000" stroke-opacity="0.85" stroke-width="0.25" stroke-linejoin="round"/><path d="M443.4 110.5L443.8 113.2L444.1 113.1L443.7 110.5ZM443.8 113.2L445.0 115.5L445.2 115.4L444.1 113.1ZM445.0 115.5L446.9 117.4L447.0 117.2L445.2 115.4ZM446.9 117.4L449.2 118.6L449.3 118.3L447.0 117.2ZM449.2 118.6L451.9 119.0L451.9 118.7L449.3 118.3ZM451.9 119.0L454.5 118.6L454.4 118.3L451.9 118.7ZM454.5 118.6L456.8 117.4L456.7 117.2L454.4 118.3ZM456.8 117.4L458.7 115.5L458.5 115.4L456.7 117.2ZM458.7 115.5L459.9 113.2L459.6 113.1L458.5 115.4ZM459.9 113.2L460.3 110.5L460.0 110.5L459.6 113.1ZM460.3 110.5L459.9 107.9L459.6 108.0L460.0 110.5ZM459.9 107.9L458.7 105.6L458.5 105.7L459.6 108.0ZM458.7 105.6L456.8 103.7L456.7 103.9L458.5 105.7ZM456.8 103.7L454.5 102.5L454.4 102.8L456.7 103.9ZM454.5 102.5L451.9 102.1L451.9 102.4L454.4 102.8ZM451.9 102.1L449.2 102.5L449.3 102.8L451.9 102.4ZM449.2 102.5L446.9 103.7L447.0 103.9L449.3 102.8ZM446.9 103.7L445.0 105.6L445.2 105.7L447.0 103.9ZM445.0 105.6L443.8 107.9L444.1 108.0L445.2 105.7ZM443.8 107.9L443.4 110.5L443.7 110.5L444.1 108.0Z" fill="#000ed9" stroke="#000" stroke-opacity="0.85" stroke-width="0.25" stroke-linejoin="round"/><path d="M443.7 110.5L444.1 113.1L444.6 112.9L444.2 110.5ZM444.1 113.1L445.2 115.4L445.7 115.1L444.6 112.9ZM445.2 115.4L447.0 117.2L447.3 116.7L445.7 115.1ZM447.0 117.2L449.3 118.3L449.5 117.8L447.3 116.7ZM449.3 118.3L451.9 118.7L451.9 118.2L449.5 117.8ZM451.9 118.7L454.4 118.3L454.2 117.8L451.9 118.2ZM454.4 118.3L456.7 117.2L456.4 116.7L454.2 117.8ZM456.7 117.2L458.5 115.4L458.0 115.1L456.4 116.7ZM458.5 115.4L459.6 113.1L459.1 112.9L458.0 115.1ZM459.6 113.1L460.0 110.5L459.5 110.5L459.1 112.9ZM460.0 110.5L459.6 108.0L459.1 108.2L459.5 110.5ZM459.6 108.0L458.5 105.7L458.0 106.0L459.1 108.2ZM458.5 105.7L456.7 103.9L456.4 104.4L458.0 106.0ZM456.7 103.9L454.4 102.8L454.2 103.3L456.4 104.4ZM454.4 102.8L451.9 102.4L451.9 102.9L454.2 103.3ZM451.9 102.4L449.3 102.8L449.5 103.3L451.9 102.9ZM449.3 102.8L447.0 103.9L447.3 104.4L449.5 103.3ZM447.0 103.9L445.2 105.7L445.7 106.0L447.3 104.4ZM445.2 105.7L444.1 108.0L444.6 108.2L445.7 106.0ZM444.1 108.0L443.7 110.5L444.2 110.5L444.6 108.2Z" fill="#0007d9" stroke="#000" stroke-opacity="0.85" stroke-width="0.25" stroke-linejoin="round"/><path d="M444.2 110.5L444.6 112.9L445.2 112.7L444.9 110.5ZM444.6 112.9L445.7 115.1L446.2 114.6L445.2 112.7ZM445.7 115.1L447.3 116.7L447.8 116.2L446.2 114.6ZM447.3 116.7L449.5 117.8L449.7 117.2L447.8 116.2ZM449.5 117.8L451.9 118.2L451.9 117.5L449.7 117.2ZM451.9 118.2L454.2 117.8L454.0 117.2L451.9 117.5ZM454.2 117.8L456.4 116.7L455.9 116.2L454.0 117.2ZM456.4 116.7L458.0 115.1L457.5 114.6L455.9 116.2ZM458.0 115.1L459.1 112.9L458.5 112.7L457.5 114.6ZM459.1 112.9L459.5 110.5L458.8 110.5L458.5 112.7ZM459.5 110.5L459.1 108.2L458.5 108.4L458.8 110.5ZM459.1 108.2L458.0 106.0L457.5 106.5L458.5 108.4ZM458.0 106.0L456.4 104.4L455.9 104.9L457.5 106.5ZM456.4 104.4L454.2 103.3L454.0 103.9L455.9 104.9ZM454.2 103.3L451.9 102.9L451.9 103.6L454.0 103.9ZM451.9 102.9L449.5 103.3L449.7 103.9L451.9 103.6ZM449.5 103.3L447.3 104.4L447.8 104.9L449.7 103.9ZM447.3 104.4L445.7 106.0L446.2 106.5L447.8 104.9ZM445.7 106.0L444.6 108.2L445.2 108.4L446.2 106.5ZM444.6 108.2L444.2 110.5L444.9 110.5L445.2 108.4Z" fill="#0300d9" stroke="#000" stroke-opacity="0.85" stroke-width="0.25" stroke-linejoin="round"/><path d="M444.9 110.5L445.2 112.7L446.1 112.4L445.8 110.5ZM445.2 112.7L446.2 114.6L446.9 114.1L446.1 112.4ZM446.2 114.6L447.8 116.2L448.3 115.5L446.9 114.1ZM447.8 116.2L449.7 117.2L450.0 116.3L448.3 115.5ZM449.7 117.2L451.9 117.5L451.9 116.6L450.0 116.3ZM451.9 117.5L454.0 117.2L453.7 116.3L451.9 116.6ZM454.0 117.2L455.9 116.2L455.4 115.5L453.7 116.3ZM455.9 116.2L457.5 114.6L456.8 114.1L455.4 115.5ZM457.5 114.6L458.5 112.7L457.6 112.4L456.8 114.1ZM458.5 112.7L458.8 110.5L457.9 110.5L457.6 112.4ZM458.8 110.5L458.5 108.4L457.6 108.7L457.9 110.5ZM458.5 108.4L457.5 106.5L456.8 107.0L457.6 108.7ZM457.5 106.5L455.9 104.9L455.4 105.6L456.8 107.0ZM455.9 104.9L454.0 103.9L453.7 104.8L455.4 105.6ZM454.0 103.9L451.9 103.6L451.9 104.5L453.7 104.8ZM451.9 103.6L449.7 103.9L450.0 104.8L451.9 104.5ZM449.7 103.9L447.8 104.9L448.3 105.6L450.0 104.8ZM447.8 104.9L446.2 106.5L446.9 107.0L448.3 105.6ZM446.2 106.5L445.2 108.4L446.1 108.7L446.9 107.0ZM445.2 108.4L444.9 110.5L445.8 110.5L446.1 108.7Z" fill="#1100d9" stroke="#000" stroke-opacity="0.85" stroke-width="0.25" stroke-linejoin="round"/><path d="M445.8 110.5L446.1 112.4L447.0 112.1L446.8 110.5ZM446.1 112.4L446.9 114.1L447.8 113.5L447.0 112.1ZM446.9 114.1L448.3 115.5L448.9 114.6L447.8 113.5ZM448.3 115.5L450.0 116.3L450.3 115.4L448.9 114.6ZM450.0 116.3L451.9 116.6L451.9 115.6L450.3 115.4ZM451.9 116.6L453.7 116.3L453.4 115.4L451.9 115.6ZM453.7 116.3L455.4 115.5L454.8 114.6L453.4 115.4ZM455.4 115.5L456.8 114.1L455.9 113.5L454.8 114.6ZM456.8 114.1L457.6 112.4L456.7 112.1L455.9 113.5ZM457.6 112.4L457.9 110.5L456.9 110.5L456.7 112.1ZM457.9 110.5L457.6 108.7L456.7 109.0L456.9 110.5ZM457.6 108.7L456.8 107.0L455.9 107.6L456.7 109.0ZM456.8 107.0L455.4 105.6L454.8 106.5L455.9 107.6ZM455.4 105.6L453.7 104.8L453.4 105.7L454.8 106.5ZM453.7 104.8L451.9 104.5L451.9 105.5L453.4 105.7ZM451.9 104.5L450.0 104.8L450.3 105.7L451.9 105.5ZM450.0 104.8L448.3 105.6L448.9 106.5L450.3 105.7ZM448.3 105.6L446.9 107.0L447.8 107.6L448.9 106.5ZM446.9 107.0L446.1 108.7L447.0 109.0L447.8 107.6ZM446.1 108.7L445.8 110.5L446.8 110.5L447.0 109.0Z" fill="#5200d9" stroke="#000" stroke-opacity="0.85" stroke-width="0.25" stroke-linejoin="round"/><path d="M446.8 110.5L447.0 112.1L448.1 111.8L447.9 110.5ZM447.0 112.1L447.8 113.5L448.7 112.8L448.1 111.8ZM447.8 113.5L448.9 114.6L449.6 113.7L448.7 112.8ZM448.9 114.6L450.3 115.4L450.6 114.3L449.6 113.7ZM450.3 115.4L451.9 115.6L451.9 114.5L450.6 114.3ZM451.9 115.6L453.4 115.4L453.1 114.3L451.9 114.5ZM453.4 115.4L454.8 114.6L454.1 113.7L453.1 114.3ZM454.8 114.6L455.9 113.5L455.0 112.8L454.1 113.7ZM455.9 113.5L456.7 112.1L455.6 111.8L455.0 112.8ZM456.7 112.1L456.9 110.5L455.8 110.5L455.6 111.8ZM456.9 110.5L456.7 109.0L455.6 109.3L455.8 110.5ZM456.7 109.0L455.9 107.6L455.0 108.3L455.6 109.3ZM455.9 107.6L454.8 106.5L454.1 107.4L455.0 108.3ZM454.8 106.5L453.4 105.7L453.1 106.8L454.1 107.4ZM453.4 105.7L451.9 105.5L451.9 106.6L453.1 106.8ZM451.9 105.5L450.3 105.7L450.6 106.8L451.9 106.6ZM450.3 105.7L448.9 106.5L449.6 107.4L450.6 106.8ZM448.9 106.5L447.8 107.6L448.7 108.3L449.6 107.4ZM447.8 107.6L447.0 109.0L448.1 109.3L448.7 108.3ZM447.0 109.0L446.8 110.5L447.9 110.5L448.1 109.3Z" fill="#9800d9" stroke="#000" stroke-opacity="0.85" stroke-width="0.25" stroke-linejoin="round"/><path d="M447.9 110.5L448.1 111.8L449.3 111.4L449.2 110.5ZM448.1 111.8L448.7 112.8L449.7 112.1L449.3 111.4ZM448.7 112.8L449.6 113.7L450.3 112.7L449.7 112.1ZM449.6 113.7L450.6 114.3L451.0 113.1L450.3 112.7ZM450.6 114.3L451.9 114.5L451.9 113.2L451.0 113.1ZM451.9 114.5L453.1 114.3L452.7 113.1L451.9 113.2ZM453.1 114.3L454.1 113.7L453.4 112.7L452.7 113.1ZM454.1 113.7L455.0 112.8L454.0 112.1L453.4 112.7ZM455.0 112.8L455.6 111.8L454.4 111.4L454.0 112.1ZM455.6 111.8L455.8 110.5L454.5 110.5L454.4 111.4ZM455.8 110.5L455.6 109.3L454.4 109.7L454.5 110.5ZM455.6 109.3L455.0 108.3L454.0 109.0L454.4 109.7ZM455.0 108.3L454.1 107.4L453.4 108.4L454.0 109.0ZM454.1 107.4L453.1 106.8L452.7 108.0L453.4 108.4ZM453.1 106.8L451.9 106.6L451.9 107.9L452.7 108.0ZM451.9 106.6L450.6 106.8L451.0 108.0L451.9 107.9ZM450.6 106.8L449.6 107.4L450.3 108.4L451.0 108.0ZM449.6 107.4L448.7 108.3L449.7 109.0L450.3 108.4ZM448.7 108.3L448.1 109.3L449.3 109.7L449.7 109.0ZM448.1 109.3L447.9 110.5L449.2 110.5L449.3 109.7Z" fill="#c100d9" stroke="#000" stroke-opacity="0.85" stroke-width="0.25" stroke-linejoin="round"/><path d="M449.2 110.5L449.3 111.4L450.6 111.0L450.5 110.5ZM449.3 111.4L449.7 112.1L450.8 111.3L450.6 111.0ZM449.7 112.1L450.3 112.7L451.1 111.6L450.8 111.3ZM450.3 112.7L451.0 113.1L451.4 111.8L451.1 111.6ZM451.0 113.1L451.9 113.2L451.9 111.9L451.4 111.8ZM451.9 113.2L452.7 113.1L452.3 111.8L451.9 111.9ZM452.7 113.1L453.4 112.7L452.6 111.6L452.3 111.8ZM453.4 112.7L454.0 112.1L452.9 111.3L452.6 111.6ZM454.0 112.1L454.4 111.4L453.1 111.0L452.9 111.3ZM454.4 111.4L454.5 110.5L453.2 110.5L453.1 111.0ZM454.5 110.5L454.4 109.7L453.1 110.1L453.2 110.5ZM454.4 109.7L454.0 109.0L452.9 109.8L453.1 110.1ZM454.0 109.0L453.4 108.4L452.6 109.5L452.9 109.8ZM453.4 108.4L452.7 108.0L452.3 109.3L452.6 109.5ZM452.7 108.0L451.9 107.9L451.9 109.2L452.3 109.3ZM451.9 107.9L451.0 108.0L451.4 109.3L451.9 109.2ZM451.0 108.0L450.3 108.4L451.1 109.5L451.4 109.3ZM450.3 108.4L449.7 109.0L450.8 109.8L451.1 109.5ZM449.7 109.0L449.3 109.7L450.6 110.1L450.8 109.8ZM449.3 109.7L449.2 110.5L450.5 110.5L450.6 110.1Z" fill="#d900d1" stroke="#000" stroke-opacity="0.85" stroke-width="0.25" stroke-linejoin="round"/><path d="M450.5 110.5L450.6 111.0L451.9 110.5ZM450.6 111.0L450.8 111.3L451.9 110.5ZM450.8 111.3L451.1 111.6L451.9 110.5ZM451.1 111.6L451.4 111.8L451.9 110.5ZM451.4 111.8L451.9 111.9L451.9 110.5ZM451.9 111.9L452.3 111.8L451.9 110.5ZM452.3 111.8L452.6 111.6L451.9 110.5ZM452.6 111.6L452.9 111.3L451.9 110.5ZM452.9 111.3L453.1 111.0L451.9 110.5ZM453.1 111.0L453.2 110.5L451.9 110.5ZM453.2 110.5L453.1 110.1L451.9 110.5ZM453.1 110.1L452.9 109.8L451.9 110.5ZM452.9 109.8L452.6 109.5L451.9 110.5ZM452.6 109.5L452.3 109.3L451.9 110.5ZM452.3 109.3L451.9 109.2L451.9 110.5ZM451.9 109.2L451.4 109.3L451.9 110.5ZM451.4 109.3L451.1 109.5L451.9 110.5ZM451.1 109.5L450.8 109.8L451.9 110.5ZM450.8 109.8L450.6 110.1L451.9 110.5ZM450.6 110.1L450.5 110.5L451.9 110.5Z" fill="#d900be" stroke="#000" stroke-opacity="0.85" stroke-width="0.25" stroke-linejoin="round"/><circle cx="451.85" cy="110.55" r="8.6" fill="none" stroke="#000" stroke-width="0.5"/><path d="M469.3 33.0L469.7 35.6L469.8 35.6L469.4 33.0ZM469.7 35.6L470.9 38.0L471.0 37.9L469.8 35.6ZM470.9 38.0L472.8 39.8L472.8 39.7L471.0 37.9ZM472.8 39.8L475.1 41.0L475.2 40.9L472.8 39.7ZM475.1 41.0L477.7 41.4L477.7 41.3L475.2 40.9ZM477.7 41.4L480.3 41.0L480.3 40.9L477.7 41.3ZM480.3 41.0L482.7 39.8L482.6 39.7L480.3 40.9ZM482.7 39.8L484.5 38.0L484.4 37.9L482.6 39.7ZM484.5 38.0L485.7 35.6L485.6 35.6L484.4 37.9ZM485.7 35.6L486.1 33.0L486.0 33.0L485.6 35.6ZM486.1 33.0L485.7 30.4L485.6 30.5L486.0 33.0ZM485.7 30.4L484.5 28.1L484.4 28.2L485.6 30.5ZM484.5 28.1L482.7 26.2L482.6 26.3L484.4 28.2ZM482.7 26.2L480.3 25.0L480.3 25.1L482.6 26.3ZM480.3 25.0L477.7 24.6L477.7 24.7L480.3 25.1ZM477.7 24.6L475.1 25.0L475.2 25.1L477.7 24.7ZM475.1 25.0L472.8 26.2L472.8 26.3L475.2 25.1ZM472.8 26.2L470.9 28.1L471.0 28.2L472.8 26.3ZM470.9 28.1L469.7 30.4L469.8 30.5L471.0 28.2ZM469.7 30.4L469.3 33.0L469.4 33.0L469.8 30.5Z" fill="#2600d9" stroke="#000" stroke-opacity="0.85" stroke-width="0.25" stroke-linejoin="round"/><path d="M469.4 33.0L469.8 35.6L470.1 35.5L469.7 33.0ZM469.8 35.6L471.0 37.9L471.3 37.7L470.1 35.5ZM471.0 37.9L472.8 39.7L473.0 39.5L471.3 37.7ZM472.8 39.7L475.2 40.9L475.3 40.6L473.0 39.5ZM475.2 40.9L477.7 41.3L477.7 41.0L475.3 40.6ZM477.7 41.3L480.3 40.9L480.2 40.6L477.7 41.0ZM480.3 40.9L482.6 39.7L482.4 39.5L480.2 40.6ZM482.6 39.7L484.4 37.9L484.2 37.7L482.4 39.5ZM484.4 37.9L485.6 35.6L485.3 35.5L484.2 37.7ZM485.6 35.6L486.0 33.0L485.7 33.0L485.3 35.5ZM486.0 33.0L485.6 30.5L485.3 30.6L485.7 33.0ZM485.6 30.5L484.4 28.2L484.2 28.3L485.3 30.6ZM484.4 28.2L482.6 26.3L482.4 26.6L484.2 28.3ZM482.6 26.3L480.3 25.1L480.2 25.4L482.4 26.6ZM480.3 25.1L477.7 24.7L477.7 25.0L480.2 25.4ZM477.7 24.7L475.2 25.1L475.3 25.4L477.7 25.0ZM475.2 25.1L472.8 26.3L473.0 26.6L475.3 25.4ZM472.8 26.3L471.0 28.2L471.3 28.3L473.0 26.6ZM471.0 28.2L469.8 30.5L470.1 30.6L471.3 28.3ZM469.8 30.5L469.4 33.0L469.7 33.0L470.1 30.6Z" fill="#3300d9" stroke="#000" stroke-opacity="0.85" stroke-width="0.25" stroke-linejoin="round"/><path d="M469.7 33.0L470.1 35.5L470.6 35.4L470.2 33.0ZM470.1 35.5L471.3 37.7L471.7 37.4L470.6 35.4ZM471.3 37.7L473.0 39.5L473.3 39.1L471.7 37.4ZM473.0 39.5L475.3 40.6L475.4 40.2L473.3 39.1ZM475.3 40.6L477.7 41.0L477.7 40.5L475.4 40.2ZM477.7 41.0L480.2 40.6L480.0 40.2L477.7 40.5ZM480.2 40.6L482.4 39.5L482.1 39.1L480.0 40.2ZM482.4 39.5L484.2 37.7L483.8 37.4L482.1 39.1ZM484.2 37.7L485.3 35.5L484.8 35.4L483.8 37.4ZM485.3 35.5L485.7 33.0L485.2 33.0L484.8 35.4ZM485.7 33.0L485.3 30.6L484.8 30.7L485.2 33.0ZM485.3 30.6L484.2 28.3L483.8 28.6L484.8 30.7ZM484.2 28.3L482.4 26.6L482.1 27.0L483.8 28.6ZM482.4 26.6L480.2 25.4L480.0 25.9L482.1 27.0ZM480.2 25.4L477.7 25.0L477.7 25.6L480.0 25.9ZM477.7 25.0L475.3 25.4L475.4 25.9L477.7 25.6ZM475.3 25.4L473.0 26.6L473.3 27.0L475.4 25.9ZM473.0 26.6L471.3 28.3L471.7 28.6L473.3 27.0ZM471.3 28.3L470.1 30.6L470.6 30.7L471.7 28.6ZM470.1 30.6L469.7 33.0L470.2 33.0L470.6 30.7Z" fill="#4d00d9" stroke="#000" stroke-opacity="0.85" stroke-width="0.25" stroke-linejoin="round"/><path d="M470.2 33.0L470.6 35.4L471.3 35.1L470.9 33.0ZM470.6 35.4L471.7 37.4L472.2 37.0L471.3 35.1ZM471.7 37.4L473.3 39.1L473.7 38.5L472.2 37.0ZM473.3 39.1L475.4 40.2L475.6 39.5L473.7 38.5ZM475.4 40.2L477.7 40.5L477.7 39.8L475.6 39.5ZM477.7 40.5L480.0 40.2L479.8 39.5L477.7 39.8ZM480.0 40.2L482.1 39.1L481.7 38.5L479.8 39.5ZM482.1 39.1L483.8 37.4L483.2 37.0L481.7 38.5ZM483.8 37.4L484.8 35.4L484.2 35.1L483.2 37.0ZM484.8 35.4L485.2 33.0L484.5 33.0L484.2 35.1ZM485.2 33.0L484.8 30.7L484.2 30.9L484.5 33.0ZM484.8 30.7L483.8 28.6L483.2 29.0L484.2 30.9ZM483.8 28.6L482.1 27.0L481.7 27.5L483.2 29.0ZM482.1 27.0L480.0 25.9L479.8 26.6L481.7 27.5ZM480.0 25.9L477.7 25.6L477.7 26.2L479.8 26.6ZM477.7 25.6L475.4 25.9L475.6 26.6L477.7 26.2ZM475.4 25.9L473.3 27.0L473.7 27.5L475.6 26.6ZM473.3 27.0L471.7 28.6L472.2 29.0L473.7 27.5ZM471.7 28.6L470.6 30.7L471.3 30.9L472.2 29.0ZM470.6 30.7L470.2 33.0L470.9 33.0L471.3 30.9Z" fill="#7400d9" stroke="#000" stroke-opacity="0.85" stroke-width="0.25" stroke-linejoin="round"/><path d="M470.9 33.0L471.3 35.1L472.1 34.9L471.8 33.0ZM471.3 35.1L472.2 37.0L472.9 36.5L472.1 34.9ZM472.2 37.0L473.7 38.5L474.2 37.8L472.9 36.5ZM473.7 38.5L475.6 39.5L475.9 38.7L474.2 37.8ZM475.6 39.5L477.7 39.8L477.7 39.0L475.9 38.7ZM477.7 39.8L479.8 39.5L479.6 38.7L477.7 39.0ZM479.8 39.5L481.7 38.5L481.2 37.8L479.6 38.7ZM481.7 38.5L483.2 37.0L482.5 36.5L481.2 37.8ZM483.2 37.0L484.2 35.1L483.4 34.9L482.5 36.5ZM484.2 35.1L484.5 33.0L483.7 33.0L483.4 34.9ZM484.5 33.0L484.2 30.9L483.4 31.2L483.7 33.0ZM484.2 30.9L483.2 29.0L482.5 29.5L483.4 31.2ZM483.2 29.0L481.7 27.5L481.2 28.2L482.5 29.5ZM481.7 27.5L479.8 26.6L479.6 27.4L481.2 28.2ZM479.8 26.6L477.7 26.2L477.7 27.1L479.6 27.4ZM477.7 26.2L475.6 26.6L475.9 27.4L477.7 27.1ZM475.6 26.6L473.7 27.5L474.2 28.2L475.9 27.4ZM473.7 27.5L472.2 29.0L472.9 29.5L474.2 28.2ZM472.2 29.0L471.3 30.9L472.1 31.2L472.9 29.5ZM471.3 30.9L470.9 33.0L471.8 33.0L472.1 31.2Z" fill="#a500d9" stroke="#000" stroke-opacity="0.85" stroke-width="0.25" stroke-linejoin="round"/><path d="M471.8 33.0L472.1 34.9L473.0 34.6L472.8 33.0ZM472.1 34.9L472.9 36.5L473.7 35.9L473.0 34.6ZM472.9 36.5L474.2 37.8L474.8 37.0L473.7 35.9ZM474.2 37.8L475.9 38.7L476.2 37.7L474.8 37.0ZM475.9 38.7L477.7 39.0L477.7 38.0L476.2 37.7ZM477.7 39.0L479.6 38.7L479.3 37.7L477.7 38.0ZM479.6 38.7L481.2 37.8L480.6 37.0L479.3 37.7ZM481.2 37.8L482.5 36.5L481.7 35.9L480.6 37.0ZM482.5 36.5L483.4 34.9L482.4 34.6L481.7 35.9ZM483.4 34.9L483.7 33.0L482.7 33.0L482.4 34.6ZM483.7 33.0L483.4 31.2L482.4 31.5L482.7 33.0ZM483.4 31.2L482.5 29.5L481.7 30.1L482.4 31.5ZM482.5 29.5L481.2 28.2L480.6 29.0L481.7 30.1ZM481.2 28.2L479.6 27.4L479.3 28.3L480.6 29.0ZM479.6 27.4L477.7 27.1L477.7 28.1L479.3 28.3ZM477.7 27.1L475.9 27.4L476.2 28.3L477.7 28.1ZM475.9 27.4L474.2 28.2L474.8 29.0L476.2 28.3ZM474.2 28.2L472.9 29.5L473.7 30.1L474.8 29.0ZM472.9 29.5L472.1 31.2L473.0 31.5L473.7 30.1ZM472.1 31.2L471.8 33.0L472.8 33.0L473.0 31.5Z" fill="#d900d5" stroke="#000" stroke-opacity="0.85" stroke-width="0.25" stroke-linejoin="round"/><path d="M472.8 33.0L473.0 34.6L474.1 34.2L473.9 33.0ZM473.0 34.6L473.7 35.9L474.6 35.3L474.1 34.2ZM473.7 35.9L474.8 37.0L475.5 36.1L474.6 35.3ZM474.8 37.0L476.2 37.7L476.5 36.7L475.5 36.1ZM476.2 37.7L477.7 38.0L477.7 36.9L476.5 36.7ZM477.7 38.0L479.3 37.7L478.9 36.7L477.7 36.9ZM479.3 37.7L480.6 37.0L480.0 36.1L478.9 36.7ZM480.6 37.0L481.7 35.9L480.8 35.3L480.0 36.1ZM481.7 35.9L482.4 34.6L481.4 34.2L480.8 35.3ZM482.4 34.6L482.7 33.0L481.5 33.0L481.4 34.2ZM482.7 33.0L482.4 31.5L481.4 31.9L481.5 33.0ZM482.4 31.5L481.7 30.1L480.8 30.8L481.4 31.9ZM481.7 30.1L480.6 29.0L480.0 30.0L480.8 30.8ZM480.6 29.0L479.3 28.3L478.9 29.4L480.0 30.0ZM479.3 28.3L477.7 28.1L477.7 29.2L478.9 29.4ZM477.7 28.1L476.2 28.3L476.5 29.4L477.7 29.2ZM476.2 28.3L474.8 29.0L475.5 30.0L476.5 29.4ZM474.8 29.0L473.7 30.1L474.6 30.8L475.5 30.0ZM473.7 30.1L473.0 31.5L474.1 31.9L474.6 30.8ZM473.0 31.5L472.8 33.0L473.9 33.0L474.1 31.9Z" fill="#d90099" stroke="#000" stroke-opacity="0.85" stroke-width="0.25" stroke-linejoin="round"/><path d="M473.9 33.0L474.1 34.2L475.3 33.8L475.1 33.0ZM474.1 34.2L474.6 35.3L475.6 34.6L475.3 33.8ZM474.6 35.3L475.5 36.1L476.2 35.1L475.6 34.6ZM475.5 36.1L476.5 36.7L476.9 35.5L476.2 35.1ZM476.5 36.7L477.7 36.9L477.7 35.6L476.9 35.5ZM477.7 36.9L478.9 36.7L478.5 35.5L477.7 35.6ZM478.9 36.7L480.0 36.1L479.3 35.1L478.5 35.5ZM480.0 36.1L480.8 35.3L479.8 34.6L479.3 35.1ZM480.8 35.3L481.4 34.2L480.2 33.8L479.8 34.6ZM481.4 34.2L481.5 33.0L480.3 33.0L480.2 33.8ZM481.5 33.0L481.4 31.9L480.2 32.2L480.3 33.0ZM481.4 31.9L480.8 30.8L479.8 31.5L480.2 32.2ZM480.8 30.8L480.0 30.0L479.3 30.9L479.8 31.5ZM480.0 30.0L478.9 29.4L478.5 30.6L479.3 30.9ZM478.9 29.4L477.7 29.2L477.7 30.4L478.5 30.6ZM477.7 29.2L476.5 29.4L476.9 30.6L477.7 30.4ZM476.5 29.4L475.5 30.0L476.2 30.9L476.9 30.6ZM475.5 30.0L474.6 30.8L475.6 31.5L476.2 30.9ZM474.6 30.8L474.1 31.9L475.3 32.2L475.6 31.5ZM474.1 31.9L473.9 33.0L475.1 33.0L475.3 32.2Z" fill="#d90066" stroke="#000" stroke-opacity="0.85" stroke-width="0.25" stroke-linejoin="round"/><path d="M475.1 33.0L475.3 33.8L476.5 33.4L476.4 33.0ZM475.3 33.8L475.6 34.6L476.7 33.8L476.5 33.4ZM475.6 34.6L476.2 35.1L477.0 34.1L476.7 33.8ZM476.2 35.1L476.9 35.5L477.3 34.3L477.0 34.1ZM476.9 35.5L477.7 35.6L477.7 34.4L477.3 34.3ZM477.7 35.6L478.5 35.5L478.1 34.3L477.7 34.4ZM478.5 35.5L479.3 35.1L478.5 34.1L478.1 34.3ZM479.3 35.1L479.8 34.6L478.8 33.8L478.5 34.1ZM479.8 34.6L480.2 33.8L479.0 33.4L478.8 33.8ZM480.2 33.8L480.3 33.0L479.0 33.0L479.0 33.4ZM480.3 33.0L480.2 32.2L479.0 32.6L479.0 33.0ZM480.2 32.2L479.8 31.5L478.8 32.3L479.0 32.6ZM479.8 31.5L479.3 30.9L478.5 32.0L478.8 32.3ZM479.3 30.9L478.5 30.6L478.1 31.8L478.5 32.0ZM478.5 30.6L477.7 30.4L477.7 31.7L478.1 31.8ZM477.7 30.4L476.9 30.6L477.3 31.8L477.7 31.7ZM476.9 30.6L476.2 30.9L477.0 32.0L477.3 31.8ZM476.2 30.9L475.6 31.5L476.7 32.3L477.0 32.0ZM475.6 31.5L475.3 32.2L476.5 32.6L476.7 32.3ZM475.3 32.2L475.1 33.0L476.4 33.0L476.5 32.6Z" fill="#d90044" stroke="#000" stroke-opacity="0.85" stroke-width="0.25" stroke-linejoin="round"/><path d="M476.4 33.0L476.5 33.4L477.7 33.0ZM476.5 33.4L476.7 33.8L477.7 33.0ZM476.7 33.8L477.0 34.1L477.7 33.0ZM477.0 34.1L477.3 34.3L477.7 33.0ZM477.3 34.3L477.7 34.4L477.7 33.0ZM477.7 34.4L478.1 34.3L477.7 33.0ZM478.1 34.3L478.5 34.1L477.7 33.0ZM478.5 34.1L478.8 33.8L477.7 33.0ZM478.8 33.8L479.0 33.4L477.7 33.0ZM479.0 33.4L479.0 33.0L477.7 33.0ZM479.0 33.0L479.0 32.6L477.7 33.0ZM479.0 32.6L478.8 32.3L477.7 33.0ZM478.8 32.3L478.5 32.0L477.7 33.0ZM478.5 32.0L478.1 31.8L477.7 33.0ZM478.1 31.8L477.7 31.7L477.7 33.0ZM477.7 31.7L477.3 31.8L477.7 33.0ZM477.3 31.8L477.0 32.0L477.7 33.0ZM477.0 32.0L476.7 32.3L477.7 33.0ZM476.7 32.3L476.5 32.6L477.7 33.0ZM476.5 32.6L476.4 33.0L477.7 33.0Z" fill="#d9003b" stroke="#000" stroke-opacity="0.85" stroke-width="0.25" stroke-linejoin="round"/><circle cx="477.73" cy="33.04" r="8.4" fill="none" stroke="#000" stroke-width="0.5"/><rect x="329.29" y="174.88" width="5" height="5" fill="#f2e600" stroke="#8080ff" stroke-width="0.6"/><polygon points="497.05,28.26 497.88,30.5 500.28,30.61 498.4,32.1 499.04,34.41 497.05,33.09 495.05,34.41 495.69,32.1 493.81,30.61 496.21,30.5" fill="#f2dc10" stroke="#4a4010" stroke-width="0.5"/><line x1="331.1" y1="179.45" x2="503.6" y2="179.45" stroke="#5a5a5a" stroke-width="0.8"/><line x1="331.1" y1="179.45" x2="331.1" y2="7.2" stroke="#5a5a5a" stroke-width="0.8"/><line x1="331.1" y1="179.45" x2="331.1" y2="177.95" stroke="#5a5a5a" stroke-width="0.5"/><text x="331.1" y="187.6" font-family="Liberation Sans, sans-serif" font-size="6.6" font-weight="normal" text-anchor="middle" dominant-baseline="central" fill="#333333" stroke="#333333" stroke-width="0.18">0</text><line x1="365.6" y1="179.45" x2="365.6" y2="177.95" stroke="#5a5a5a" stroke-width="0.5"/><text x="365.6" y="187.6" font-family="Liberation Sans, sans-serif" font-size="6.6" font-weight="normal" text-anchor="middle" dominant-baseline="central" fill="#333333" stroke="#333333" stroke-width="0.18">100</text><line x1="400.1" y1="179.45" x2="400.1" y2="177.95" stroke="#5a5a5a" stroke-width="0.5"/><text x="400.1" y="187.6" font-family="Liberation Sans, sans-serif" font-size="6.6" font-weight="normal" text-anchor="middle" dominant-baseline="central" fill="#333333" stroke="#333333" stroke-width="0.18">200</text><line x1="434.6" y1="179.45" x2="434.6" y2="177.95" stroke="#5a5a5a" stroke-width="0.5"/><text x="434.6" y="187.6" font-family="Liberation Sans, sans-serif" font-size="6.6" font-weight="normal" text-anchor="middle" dominant-baseline="central" fill="#333333" stroke="#333333" stroke-width="0.18">300</text><line x1="469.1" y1="179.45" x2="469.1" y2="177.95" stroke="#5a5a5a" stroke-width="0.5"/><text x="469.1" y="187.6" font-family="Liberation Sans, sans-serif" font-size="6.6" font-weight="normal" text-anchor="middle" dominant-baseline="central" fill="#333333" stroke="#333333" stroke-width="0.18">400</text><line x1="503.6" y1="179.45" x2="503.6" y2="177.95" stroke="#5a5a5a" stroke-width="0.5"/><text x="503.6" y="187.6" font-family="Liberation Sans, sans-serif" font-size="6.6" font-weight="normal" text-anchor="middle" dominant-baseline="central" fill="#333333" stroke="#333333" stroke-width="0.18">500</text><line x1="331.1" y1="179.45" x2="332.6" y2="179.45" stroke="#5a5a5a" stroke-width="0.5"/><text x="327.8" y="179.45" font-family="Liberation Sans, sans-serif" font-size="6.6" font-weight="normal" text-anchor="end" dominant-baseline="central" fill="#333333" stroke="#333333" stroke-width="0.18">0</text><line x1="331.1" y1="162.22" x2="332.6" y2="162.22" stroke="#5a5a5a" stroke-width="0.5"/><text x="327.8" y="162.22" font-family="Liberation Sans, sans-serif" font-size="6.6" font-weight="normal" text-anchor="end" dominant-baseline="central" fill="#333333" stroke="#333333" stroke-width="0.18">50</text><line x1="331.1" y1="145" x2="332.6" y2="145" stroke="#5a5a5a" stroke-width="0.5"/><text x="327.8" y="145" font-family="Liberation Sans, sans-serif" font-size="6.6" font-weight="normal" text-anchor="end" dominant-baseline="central" fill="#333333" stroke="#333333" stroke-width="0.18">100</text><line x1="331.1" y1="127.77" x2="332.6" y2="127.77" stroke="#5a5a5a" stroke-width="0.5"/><text x="327.8" y="127.77" font-family="Liberation Sans, sans-serif" font-size="6.6" font-weight="normal" text-anchor="end" dominant-baseline="central" fill="#333333" stroke="#333333" stroke-width="0.18">150</text><line x1="331.1" y1="110.55" x2="332.6" y2="110.55" stroke="#5a5a5a" stroke-width="0.5"/><text x="327.8" y="110.55" font-family="Liberation Sans, sans-serif" font-size="6.6" font-weight="normal" text-anchor="end" dominant-baseline="central" fill="#333333" stroke="#333333" stroke-width="0.18">200</text><line x1="331.1" y1="93.32" x2="332.6" y2="93.32" stroke="#5a5a5a" stroke-width="0.5"/><text x="327.8" y="93.32" font-family="Liberation Sans, sans-serif" font-size="6.6" font-weight="normal" text-anchor="end" dominant-baseline="central" fill="#333333" stroke="#333333" stroke-width="0.18">250</text><line x1="331.1" y1="76.1" x2="332.6" y2="76.1" stroke="#5a5a5a" stroke-width="0.5"/><text x="327.8" y="76.1" font-family="Liberation Sans, sans-serif" font-size="6.6" font-weight="normal" text-anchor="end" dominant-baseline="central" fill="#333333" stroke="#333333" stroke-width="0.18">300</text><line x1="331.1" y1="58.88" x2="332.6" y2="58.88" stroke="#5a5a5a" stroke-width="0.5"/><text x="327.8" y="58.88" font-family="Liberation Sans, sans-serif" font-size="6.6" font-weight="normal" text-anchor="end" dominant-baseline="central" fill="#333333" stroke="#333333" stroke-width="0.18">350</text><line x1="331.1" y1="41.65" x2="332.6" y2="41.65" stroke="#5a5a5a" stroke-width="0.5"/><text x="327.8" y="41.65" font-family="Liberation Sans, sans-serif" font-size="6.6" font-weight="normal" text-anchor="end" dominant-baseline="central" fill="#333333" stroke="#333333" stroke-width="0.18">400</text><line x1="331.1" y1="24.43" x2="332.6" y2="24.43" stroke="#5a5a5a" stroke-width="0.5"/><text x="327.8" y="24.43" font-family="Liberation Sans, sans-serif" font-size="6.6" font-weight="normal" text-anchor="end" dominant-baseline="central" fill="#333333" stroke="#333333" stroke-width="0.18">450</text><line x1="331.1" y1="7.2" x2="332.6" y2="7.2" stroke="#5a5a5a" stroke-width="0.5"/><text x="327.8" y="7.2" font-family="Liberation Sans, sans-serif" font-size="6.6" font-weight="normal" text-anchor="end" dominant-baseline="central" fill="#333333" stroke="#333333" stroke-width="0.18">500</text><text x="417.3" y="197.7" font-family="Liberation Sans, sans-serif" font-size="6.6" font-weight="normal" text-anchor="middle" dominant-baseline="central" fill="#333333" stroke="#333333" stroke-width="0.18">x</text><text x="311.7" y="93.4" font-family="Liberation Sans, sans-serif" font-size="6.6" font-weight="normal" text-anchor="middle" dominant-baseline="central" fill="#333333" stroke="#333333" stroke-width="0.18" transform="rotate(-90 311.7 93.4)">y</text><rect x="331.2" y="7.5" width="64.4" height="20.4" fill="#ffffff" stroke="#8a8a8a" stroke-width="0.7"/><line x1="335.3" y1="13.6" x2="355.6" y2="13.6" stroke="#ff7070" stroke-width="0.6"/><polygon points="345.45,11.6 345.94,12.92 347.35,12.98 346.25,13.86 346.63,15.22 345.45,14.44 344.27,15.22 344.65,13.86 343.55,12.98 344.96,12.92" fill="#f89a70" stroke="#ff3030" stroke-width="0.55" fill-opacity="0.75"/><line x1="335.3" y1="22" x2="355.6" y2="22" stroke="#8080ff" stroke-width="0.8"/><text x="357.1" y="13.6" font-family="Liberation Serif, sans-serif" font-size="5.35" font-weight="bold" text-anchor="start" dominant-baseline="central" fill="#111" stroke="#111" stroke-width="0.18">Planning path</text><text x="357.1" y="22" font-family="Liberation Serif, sans-serif" font-size="5.35" font-weight="bold" text-anchor="start" dominant-baseline="central" fill="#111" stroke="#111" stroke-width="0.18">Following path</text><line x1="75.7" y1="358.9" x2="75.7" y2="313.3" stroke="#efefef" stroke-width="0.6"/><line x1="120.8" y1="358.9" x2="120.8" y2="313.3" stroke="#efefef" stroke-width="0.6"/><line x1="165.9" y1="358.9" x2="165.9" y2="313.3" stroke="#efefef" stroke-width="0.6"/><line x1="211" y1="358.9" x2="211" y2="313.3" stroke="#efefef" stroke-width="0.6"/><line x1="256.1" y1="358.9" x2="256.1" y2="313.3" stroke="#efefef" stroke-width="0.6"/><line x1="30.6" y1="336.1" x2="256.1" y2="336.1" stroke="#efefef" stroke-width="0.6"/><line x1="30.6" y1="313.3" x2="256.1" y2="313.3" stroke="#efefef" stroke-width="0.6"/><rect x="168.16" y="337.92" width="20.29" height="19.15" fill="#a0ce3a"/><rect x="208.75" y="333.36" width="24.81" height="23.71" fill="#a0ce3a"/><polyline points="34.66,353.88 73.44,353.65 110.43,353.65 155.98,355.25 181.68,352.51 201.08,345.21 224.53,345.21" fill="none" stroke="#0000ff" stroke-width="0.6" stroke-linejoin="round" stroke-opacity="0.4"/><polyline points="34.21,353.43 72.99,353.2 109.98,353.2 155.53,354.8 181.23,352.06 200.63,344.76 224.08,344.76" fill="none" stroke="#ff1010" stroke-width="0.65" stroke-linejoin="round" stroke-opacity="0.62"/><polygon points="72.99,351.2 73.49,352.52 74.9,352.58 73.79,353.46 74.17,354.82 72.99,354.04 71.82,354.82 72.2,353.46 71.09,352.58 72.5,352.52" fill="#f89a70" stroke="#ff3030" stroke-width="0.55" fill-opacity="0.75"/><polygon points="109.98,351.2 110.47,352.52 111.88,352.58 110.77,353.46 111.15,354.82 109.98,354.04 108.8,354.82 109.18,353.46 108.07,352.58 109.48,352.52" fill="#f89a70" stroke="#ff3030" stroke-width="0.55" fill-opacity="0.75"/><polygon points="155.53,352.8 156.02,354.12 157.43,354.18 156.33,355.06 156.7,356.41 155.53,355.64 154.35,356.41 154.73,355.06 153.62,354.18 155.03,354.12" fill="#f89a70" stroke="#ff3030" stroke-width="0.55" fill-opacity="0.75"/><polygon points="181.23,350.06 181.73,351.38 183.14,351.44 182.03,352.32 182.41,353.68 181.23,352.9 180.06,353.68 180.44,352.32 179.33,351.44 180.74,351.38" fill="#f89a70" stroke="#ff3030" stroke-width="0.55" fill-opacity="0.75"/><polygon points="200.63,342.76 201.12,344.08 202.53,344.15 201.43,345.02 201.8,346.38 200.63,345.6 199.45,346.38 199.83,345.02 198.72,344.15 200.13,344.08" fill="#f89a70" stroke="#ff3030" stroke-width="0.55" fill-opacity="0.75"/><rect x="48.64" y="333.82" width="27.06" height="23.26" fill="#a0ce3a"/><rect x="98.25" y="338.84" width="22.55" height="18.24" fill="#a0ce3a"/><rect x="152.37" y="338.84" width="21.2" height="18.24" fill="#a0ce3a"/><rect x="33.06" y="350.24" width="5" height="5" fill="#f2e600" stroke="#8080ff" stroke-width="0.6"/><polygon points="224.08,341.36 224.92,343.61 227.31,343.71 225.44,345.21 226.08,347.51 224.08,346.19 222.08,347.51 222.72,345.21 220.85,343.71 223.24,343.61" fill="#f2dc10" stroke="#4a4010" stroke-width="0.5"/><path d="M143.8 338.7L141.7 338.5L141.8 338.5ZM143.8 338.7L141.8 338.5L141.7 338.5ZM143.8 338.7L142.1 338.5L141.8 338.5ZM143.8 338.7L142.6 338.5L142.1 338.5ZM143.8 338.7L143.2 338.5L142.6 338.5ZM143.8 338.7L143.8 338.5L143.2 338.5ZM143.8 338.7L144.4 338.5L143.8 338.5ZM143.8 338.7L145.0 338.5L144.4 338.5ZM143.8 338.7L145.5 338.5L145.0 338.5ZM143.8 338.7L145.8 338.5L145.5 338.5ZM143.8 338.7L145.9 338.5L145.8 338.5ZM143.8 338.7L145.8 338.5L145.9 338.5Z" fill="#00ff15" stroke="#00ff15" stroke-width="0.2"/><path d="M141.7 338.5L141.8 338.5L139.9 338.0L139.7 338.0ZM141.8 338.5L142.1 338.5L140.5 338.0L139.9 338.0ZM142.1 338.5L142.6 338.5L141.4 338.0L140.5 338.0ZM142.6 338.5L143.2 338.5L142.5 338.0L141.4 338.0ZM143.2 338.5L143.8 338.5L143.8 338.0L142.5 338.0ZM143.8 338.5L144.4 338.5L145.1 338.0L143.8 338.0ZM144.4 338.5L145.0 338.5L146.2 338.0L145.1 338.0ZM145.0 338.5L145.5 338.5L147.1 338.0L146.2 338.0ZM145.5 338.5L145.8 338.5L147.7 338.0L147.1 338.0ZM145.8 338.5L145.9 338.5L147.9 338.0L147.7 338.0Z" fill="#00ff1b" stroke="#00ff1b" stroke-width="0.2"/><path d="M139.7 338.0L139.9 338.0L138.1 337.3L137.8 337.3ZM139.9 338.0L140.5 338.0L138.9 337.3L138.1 337.3ZM140.5 338.0L141.4 338.0L140.3 337.3L138.9 337.3ZM141.4 338.0L142.5 338.0L141.9 337.3L140.3 337.3ZM142.5 338.0L143.8 338.0L143.8 337.3L141.9 337.3ZM143.8 338.0L145.1 338.0L145.7 337.3L143.8 337.3ZM145.1 338.0L146.2 338.0L147.3 337.3L145.7 337.3ZM146.2 338.0L147.1 338.0L148.7 337.3L147.3 337.3ZM147.1 338.0L147.7 338.0L149.5 337.3L148.7 337.3ZM147.7 338.0L147.9 338.0L149.8 337.3L149.5 337.3Z" fill="#00ff2b" stroke="#00ff2b" stroke-width="0.2"/><path d="M137.8 337.3L138.1 337.3L136.4 336.2L136.0 336.2ZM138.1 337.3L138.9 337.3L137.5 336.2L136.4 336.2ZM138.9 337.3L140.3 337.3L139.2 336.2L137.5 336.2ZM140.3 337.3L141.9 337.3L141.4 336.2L139.2 336.2ZM141.9 337.3L143.8 337.3L143.8 336.2L141.4 336.2ZM143.8 337.3L145.7 337.3L146.2 336.2L143.8 336.2ZM145.7 337.3L147.3 337.3L148.4 336.2L146.2 336.2ZM147.3 337.3L148.7 337.3L150.1 336.2L148.4 336.2ZM148.7 337.3L149.5 337.3L151.2 336.2L150.1 336.2ZM149.5 337.3L149.8 337.3L151.6 336.2L151.2 336.2Z" fill="#00ff45" stroke="#00ff45" stroke-width="0.2"/><path d="M136.0 336.2L136.4 336.2L134.9 334.8L134.4 334.8ZM136.4 336.2L137.5 336.2L136.2 334.8L134.9 334.8ZM137.5 336.2L139.2 336.2L138.3 334.8L136.2 334.8ZM139.2 336.2L141.4 336.2L140.9 334.8L138.3 334.8ZM141.4 336.2L143.8 336.2L143.8 334.8L140.9 334.8ZM143.8 336.2L146.2 336.2L146.7 334.8L143.8 334.8ZM146.2 336.2L148.4 336.2L149.3 334.8L146.7 334.8ZM148.4 336.2L150.1 336.2L151.4 334.8L149.3 334.8ZM150.1 336.2L151.2 336.2L152.7 334.8L151.4 334.8ZM151.2 336.2L151.6 336.2L153.2 334.8L152.7 334.8Z" fill="#00ff68" stroke="#00ff68" stroke-width="0.2"/><path d="M134.4 334.8L134.9 334.8L133.6 333.2L133.0 333.2ZM134.9 334.8L136.2 334.8L135.1 333.2L133.6 333.2ZM136.2 334.8L138.3 334.8L137.5 333.2L135.1 333.2ZM138.3 334.8L140.9 334.8L140.5 333.2L137.5 333.2ZM140.9 334.8L143.8 334.8L143.8 333.2L140.5 333.2ZM143.8 334.8L146.7 334.8L147.1 333.2L143.8 333.2ZM146.7 334.8L149.3 334.8L150.1 333.2L147.1 333.2ZM149.3 334.8L151.4 334.8L152.5 333.2L150.1 333.2ZM151.4 334.8L152.7 334.8L154.0 333.2L152.5 333.2ZM152.7 334.8L153.2 334.8L154.6 333.2L154.0 333.2Z" fill="#00ff95" stroke="#00ff95" stroke-width="0.2"/><path d="M133.0 333.2L133.6 333.2L132.5 331.4L131.9 331.4ZM133.6 333.2L135.1 333.2L134.2 331.4L132.5 331.4ZM135.1 333.2L137.5 333.2L136.8 331.4L134.2 331.4ZM137.5 333.2L140.5 333.2L140.1 331.4L136.8 331.4ZM140.5 333.2L143.8 333.2L143.8 331.4L140.1 331.4ZM143.8 333.2L147.1 333.2L147.5 331.4L143.8 331.4ZM147.1 333.2L150.1 333.2L150.8 331.4L147.5 331.4ZM150.1 333.2L152.5 333.2L153.4 331.4L150.8 331.4ZM152.5 333.2L154.0 333.2L155.1 331.4L153.4 331.4ZM154.0 333.2L154.6 333.2L155.7 331.4L155.1 331.4Z" fill="#00ffc9" stroke="#00ffc9" stroke-width="0.2"/><path d="M131.9 331.4L132.5 331.4L131.8 329.5L131.2 329.5ZM132.5 331.4L134.2 331.4L133.6 329.5L131.8 329.5ZM134.2 331.4L136.8 331.4L136.4 329.5L133.6 329.5ZM136.8 331.4L140.1 331.4L139.9 329.5L136.4 329.5ZM140.1 331.4L143.8 331.4L143.8 329.5L139.9 329.5ZM143.8 331.4L147.5 331.4L147.7 329.5L143.8 329.5ZM147.5 331.4L150.8 331.4L151.2 329.5L147.7 329.5ZM150.8 331.4L153.4 331.4L154.0 329.5L151.2 329.5ZM153.4 331.4L155.1 331.4L155.8 329.5L154.0 329.5ZM155.1 331.4L155.7 331.4L156.4 329.5L155.8 329.5Z" fill="#00fbff" stroke="#00fbff" stroke-width="0.2"/><path d="M131.2 329.5L131.8 329.5L131.3 327.5L130.7 327.5ZM131.8 329.5L133.6 329.5L133.2 327.5L131.3 327.5ZM133.6 329.5L136.4 329.5L136.1 327.5L133.2 327.5ZM136.4 329.5L139.9 329.5L139.7 327.5L136.1 327.5ZM139.9 329.5L143.8 329.5L143.8 327.5L139.7 327.5ZM143.8 329.5L147.7 329.5L147.9 327.5L143.8 327.5ZM147.7 329.5L151.2 329.5L151.5 327.5L147.9 327.5ZM151.2 329.5L154.0 329.5L154.4 327.5L151.5 327.5ZM154.0 329.5L155.8 329.5L156.3 327.5L154.4 327.5ZM155.8 329.5L156.4 329.5L156.9 327.5L156.3 327.5Z" fill="#00bcff" stroke="#00bcff" stroke-width="0.2"/><path d="M130.7 327.5L131.3 327.5L131.2 325.4L130.5 325.4ZM131.3 327.5L133.2 327.5L133.0 325.4L131.2 325.4ZM133.2 327.5L136.1 327.5L136.0 325.4L133.0 325.4ZM136.1 327.5L139.7 327.5L139.7 325.4L136.0 325.4ZM139.7 327.5L143.8 327.5L143.8 325.4L139.7 325.4ZM143.8 327.5L147.9 327.5L147.9 325.4L143.8 325.4ZM147.9 327.5L151.5 327.5L151.6 325.4L147.9 325.4ZM151.5 327.5L154.4 327.5L154.6 325.4L151.6 325.4ZM154.4 327.5L156.3 327.5L156.4 325.4L154.6 325.4ZM156.3 327.5L156.9 327.5L157.1 325.4L156.4 325.4Z" fill="#0079ff" stroke="#0079ff" stroke-width="0.2"/><path d="M130.5 325.4L131.2 325.4L131.3 323.3L130.7 323.3ZM131.2 325.4L133.0 325.4L133.2 323.3L131.3 323.3ZM133.0 325.4L136.0 325.4L136.1 323.3L133.2 323.3ZM136.0 325.4L139.7 325.4L139.7 323.3L136.1 323.3ZM139.7 325.4L143.8 325.4L143.8 323.3L139.7 323.3ZM143.8 325.4L147.9 325.4L147.9 323.3L143.8 323.3ZM147.9 325.4L151.6 325.4L151.5 323.3L147.9 323.3ZM151.6 325.4L154.6 325.4L154.4 323.3L151.5 323.3ZM154.6 325.4L156.4 325.4L156.3 323.3L154.4 323.3ZM156.4 325.4L157.1 325.4L156.9 323.3L156.3 323.3Z" fill="#0035ff" stroke="#0035ff" stroke-width="0.2"/><path d="M130.7 323.3L131.3 323.3L131.8 321.3L131.2 321.3ZM131.3 323.3L133.2 323.3L133.6 321.3L131.8 321.3ZM133.2 323.3L136.1 323.3L136.4 321.3L133.6 321.3ZM136.1 323.3L139.7 323.3L139.9 321.3L136.4 321.3ZM139.7 323.3L143.8 323.3L143.8 321.3L139.9 321.3ZM143.8 323.3L147.9 323.3L147.7 321.3L143.8 321.3ZM147.9 323.3L151.5 323.3L151.2 321.3L147.7 321.3ZM151.5 323.3L154.4 323.3L154.0 321.3L151.2 321.3ZM154.4 323.3L156.3 323.3L155.8 321.3L154.0 321.3ZM156.3 323.3L156.9 323.3L156.4 321.3L155.8 321.3Z" fill="#0f00ff" stroke="#0f00ff" stroke-width="0.2"/><path d="M131.2 321.3L131.8 321.3L132.5 319.4L131.9 319.4ZM131.8 321.3L133.6 321.3L134.2 319.4L132.5 319.4ZM133.6 321.3L136.4 321.3L136.8 319.4L134.2 319.4ZM136.4 321.3L139.9 321.3L140.1 319.4L136.8 319.4ZM139.9 321.3L143.8 321.3L143.8 319.4L140.1 319.4ZM143.8 321.3L147.7 321.3L147.5 319.4L143.8 319.4ZM147.7 321.3L151.2 321.3L150.8 319.4L147.5 319.4ZM151.2 321.3L154.0 321.3L153.4 319.4L150.8 319.4ZM154.0 321.3L155.8 321.3L155.1 319.4L153.4 319.4ZM155.8 321.3L156.4 321.3L155.7 319.4L155.1 319.4Z" fill="#5100ff" stroke="#5100ff" stroke-width="0.2"/><path d="M131.9 319.4L132.5 319.4L133.6 317.6L133.0 317.6ZM132.5 319.4L134.2 319.4L135.1 317.6L133.6 317.6ZM134.2 319.4L136.8 319.4L137.5 317.6L135.1 317.6ZM136.8 319.4L140.1 319.4L140.5 317.6L137.5 317.6ZM140.1 319.4L143.8 319.4L143.8 317.6L140.5 317.6ZM143.8 319.4L147.5 319.4L147.1 317.6L143.8 317.6ZM147.5 319.4L150.8 319.4L150.1 317.6L147.1 317.6ZM150.8 319.4L153.4 319.4L152.5 317.6L150.1 317.6ZM153.4 319.4L155.1 319.4L154.0 317.6L152.5 317.6ZM155.1 319.4L155.7 319.4L154.6 317.6L154.0 317.6Z" fill="#9100ff" stroke="#9100ff" stroke-width="0.2"/><path d="M133.0 317.6L133.6 317.6L134.9 316.0L134.4 316.0ZM133.6 317.6L135.1 317.6L136.2 316.0L134.9 316.0ZM135.1 317.6L137.5 317.6L138.3 316.0L136.2 316.0ZM137.5 317.6L140.5 317.6L140.9 316.0L138.3 316.0ZM140.5 317.6L143.8 317.6L143.8 316.0L140.9 316.0ZM143.8 317.6L147.1 317.6L146.7 316.0L143.8 316.0ZM147.1 317.6L150.1 317.6L149.3 316.0L146.7 316.0ZM150.1 317.6L152.5 317.6L151.4 316.0L149.3 316.0ZM152.5 317.6L154.0 317.6L152.7 316.0L151.4 316.0ZM154.0 317.6L154.6 317.6L153.2 316.0L152.7 316.0Z" fill="#cb00ff" stroke="#cb00ff" stroke-width="0.2"/><path d="M134.4 316.0L134.9 316.0L136.4 314.6L136.0 314.6ZM134.9 316.0L136.2 316.0L137.5 314.6L136.4 314.6ZM136.2 316.0L138.3 316.0L139.2 314.6L137.5 314.6ZM138.3 316.0L140.9 316.0L141.4 314.6L139.2 314.6ZM140.9 316.0L143.8 316.0L143.8 314.6L141.4 314.6ZM143.8 316.0L146.7 316.0L146.2 314.6L143.8 314.6ZM146.7 316.0L149.3 316.0L148.4 314.6L146.2 314.6ZM149.3 316.0L151.4 316.0L150.1 314.6L148.4 314.6ZM151.4 316.0L152.7 316.0L151.2 314.6L150.1 314.6ZM152.7 316.0L153.2 316.0L151.6 314.6L151.2 314.6Z" fill="#ff00ff" stroke="#ff00ff" stroke-width="0.2"/><path d="M136.0 314.6L136.4 314.6L138.1 313.5L137.8 313.5ZM136.4 314.6L137.5 314.6L138.9 313.5L138.1 313.5ZM137.5 314.6L139.2 314.6L140.3 313.5L138.9 313.5ZM139.2 314.6L141.4 314.6L141.9 313.5L140.3 313.5ZM141.4 314.6L143.8 314.6L143.8 313.5L141.9 313.5ZM143.8 314.6L146.2 314.6L145.7 313.5L143.8 313.5ZM146.2 314.6L148.4 314.6L147.3 313.5L145.7 313.5ZM148.4 314.6L150.1 314.6L148.7 313.5L147.3 313.5ZM150.1 314.6L151.2 314.6L149.5 313.5L148.7 313.5ZM151.2 314.6L151.6 314.6L149.8 313.5L149.5 313.5Z" fill="#ff00d3" stroke="#ff00d3" stroke-width="0.2"/><path d="M137.8 313.5L138.1 313.5L139.9 312.8L139.7 312.8ZM138.1 313.5L138.9 313.5L140.5 312.8L139.9 312.8ZM138.9 313.5L140.3 313.5L141.4 312.8L140.5 312.8ZM140.3 313.5L141.9 313.5L142.5 312.8L141.4 312.8ZM141.9 313.5L143.8 313.5L143.8 312.8L142.5 312.8ZM143.8 313.5L145.7 313.5L145.1 312.8L143.8 312.8ZM145.7 313.5L147.3 313.5L146.2 312.8L145.1 312.8ZM147.3 313.5L148.7 313.5L147.1 312.8L146.2 312.8ZM148.7 313.5L149.5 313.5L147.7 312.8L147.1 312.8ZM149.5 313.5L149.8 313.5L147.9 312.8L147.7 312.8Z" fill="#ff00af" stroke="#ff00af" stroke-width="0.2"/><path d="M139.7 312.8L139.9 312.8L141.8 312.3L141.7 312.3ZM139.9 312.8L140.5 312.8L142.1 312.3L141.8 312.3ZM140.5 312.8L141.4 312.8L142.6 312.3L142.1 312.3ZM141.4 312.8L142.5 312.8L143.2 312.3L142.6 312.3ZM142.5 312.8L143.8 312.8L143.8 312.3L143.2 312.3ZM143.8 312.8L145.1 312.8L144.4 312.3L143.8 312.3ZM145.1 312.8L146.2 312.8L145.0 312.3L144.4 312.3ZM146.2 312.8L147.1 312.8L145.5 312.3L145.0 312.3ZM147.1 312.8L147.7 312.8L145.8 312.3L145.5 312.3ZM147.7 312.8L147.9 312.8L145.9 312.3L145.8 312.3Z" fill="#ff0095" stroke="#ff0095" stroke-width="0.2"/><path d="M141.8 312.3L141.7 312.3L143.8 312.1ZM141.7 312.3L141.8 312.3L143.8 312.1ZM141.8 312.3L142.1 312.3L143.8 312.1ZM142.1 312.3L142.6 312.3L143.8 312.1ZM142.6 312.3L143.2 312.3L143.8 312.1ZM143.2 312.3L143.8 312.3L143.8 312.1ZM143.8 312.3L144.4 312.3L143.8 312.1ZM144.4 312.3L145.0 312.3L143.8 312.1ZM145.0 312.3L145.5 312.3L143.8 312.1ZM145.5 312.3L145.8 312.3L143.8 312.1ZM145.8 312.3L145.9 312.3L143.8 312.1ZM145.9 312.3L145.8 312.3L143.8 312.1Z" fill="#ff0085" stroke="#ff0085" stroke-width="0.2"/><path d="M143.8 338.7L141.7 338.5L139.7 338.0L137.8 337.3L136.0 336.2L134.4 334.8L133.0 333.2L131.9 331.4L131.2 329.5L130.7 327.5L130.5 325.4L130.7 323.3L131.2 321.3L131.9 319.4L133.0 317.6L134.4 316.0L136.0 314.6L137.8 313.5L139.7 312.8L141.7 312.3L143.8 312.1M143.8 338.7L141.8 338.5L139.9 338.0L138.1 337.3L136.4 336.2L134.9 334.8L133.6 333.2L132.5 331.4L131.8 329.5L131.3 327.5L131.2 325.4L131.3 323.3L131.8 321.3L132.5 319.4L133.6 317.6L134.9 316.0L136.4 314.6L138.1 313.5L139.9 312.8L141.8 312.3L143.8 312.1M143.8 338.7L142.1 338.5L140.5 338.0L138.9 337.3L137.5 336.2L136.2 334.8L135.1 333.2L134.2 331.4L133.6 329.5L133.2 327.5L133.0 325.4L133.2 323.3L133.6 321.3L134.2 319.4L135.1 317.6L136.2 316.0L137.5 314.6L138.9 313.5L140.5 312.8L142.1 312.3L143.8 312.1M143.8 338.7L142.6 338.5L141.4 338.0L140.3 337.3L139.2 336.2L138.3 334.8L137.5 333.2L136.8 331.4L136.4 329.5L136.1 327.5L136.0 325.4L136.1 323.3L136.4 321.3L136.8 319.4L137.5 317.6L138.3 316.0L139.2 314.6L140.3 313.5L141.4 312.8L142.6 312.3L143.8 312.1M143.8 338.7L143.2 338.5L142.5 338.0L141.9 337.3L141.4 336.2L140.9 334.8L140.5 333.2L140.1 331.4L139.9 329.5L139.7 327.5L139.7 325.4L139.7 323.3L139.9 321.3L140.1 319.4L140.5 317.6L140.9 316.0L141.4 314.6L141.9 313.5L142.5 312.8L143.2 312.3L143.8 312.1M143.8 338.7L143.8 338.5L143.8 338.0L143.8 337.3L143.8 336.2L143.8 334.8L143.8 333.2L143.8 331.4L143.8 329.5L143.8 327.5L143.8 325.4L143.8 323.3L143.8 321.3L143.8 319.4L143.8 317.6L143.8 316.0L143.8 314.6L143.8 313.5L143.8 312.8L143.8 312.3L143.8 312.1M143.8 338.7L144.4 338.5L145.1 338.0L145.7 337.3L146.2 336.2L146.7 334.8L147.1 333.2L147.5 331.4L147.7 329.5L147.9 327.5L147.9 325.4L147.9 323.3L147.7 321.3L147.5 319.4L147.1 317.6L146.7 316.0L146.2 314.6L145.7 313.5L145.1 312.8L144.4 312.3L143.8 312.1M143.8 338.7L145.0 338.5L146.2 338.0L147.3 337.3L148.4 336.2L149.3 334.8L150.1 333.2L150.8 331.4L151.2 329.5L151.5 327.5L151.6 325.4L151.5 323.3L151.2 321.3L150.8 319.4L150.1 317.6L149.3 316.0L148.4 314.6L147.3 313.5L146.2 312.8L145.0 312.3L143.8 312.1M143.8 338.7L145.5 338.5L147.1 338.0L148.7 337.3L150.1 336.2L151.4 334.8L152.5 333.2L153.4 331.4L154.0 329.5L154.4 327.5L154.6 325.4L154.4 323.3L154.0 321.3L153.4 319.4L152.5 317.6L151.4 316.0L150.1 314.6L148.7 313.5L147.1 312.8L145.5 312.3L143.8 312.1M143.8 338.7L145.8 338.5L147.7 338.0L149.5 337.3L151.2 336.2L152.7 334.8L154.0 333.2L155.1 331.4L155.8 329.5L156.3 327.5L156.4 325.4L156.3 323.3L155.8 321.3L155.1 319.4L154.0 317.6L152.7 316.0L151.2 314.6L149.5 313.5L147.7 312.8L145.8 312.3L143.8 312.1M143.8 338.7L145.9 338.5L147.9 338.0L149.8 337.3L151.6 336.2L153.2 334.8L154.6 333.2L155.7 331.4L156.4 329.5L156.9 327.5L157.1 325.4L156.9 323.3L156.4 321.3L155.7 319.4L154.6 317.6L153.2 316.0L151.6 314.6L149.8 313.5L147.9 312.8L145.9 312.3L143.8 312.1" fill="none" stroke="#000" stroke-opacity="0.95" stroke-width="0.38"/><path d="M141.7 338.5L141.8 338.5L142.1 338.5L142.6 338.5L143.2 338.5L143.8 338.5L144.4 338.5L145.0 338.5L145.5 338.5L145.8 338.5L145.9 338.5M139.7 338.0L139.9 338.0L140.5 338.0L141.4 338.0L142.5 338.0L143.8 338.0L145.1 338.0L146.2 338.0L147.1 338.0L147.7 338.0L147.9 338.0M137.8 337.3L138.1 337.3L138.9 337.3L140.3 337.3L141.9 337.3L143.8 337.3L145.7 337.3L147.3 337.3L148.7 337.3L149.5 337.3L149.8 337.3M136.0 336.2L136.4 336.2L137.5 336.2L139.2 336.2L141.4 336.2L143.8 336.2L146.2 336.2L148.4 336.2L150.1 336.2L151.2 336.2L151.6 336.2M134.4 334.8L134.9 334.8L136.2 334.8L138.3 334.8L140.9 334.8L143.8 334.8L146.7 334.8L149.3 334.8L151.4 334.8L152.7 334.8L153.2 334.8M133.0 333.2L133.6 333.2L135.1 333.2L137.5 333.2L140.5 333.2L143.8 333.2L147.1 333.2L150.1 333.2L152.5 333.2L154.0 333.2L154.6 333.2M131.9 331.4L132.5 331.4L134.2 331.4L136.8 331.4L140.1 331.4L143.8 331.4L147.5 331.4L150.8 331.4L153.4 331.4L155.1 331.4L155.7 331.4M131.2 329.5L131.8 329.5L133.6 329.5L136.4 329.5L139.9 329.5L143.8 329.5L147.7 329.5L151.2 329.5L154.0 329.5L155.8 329.5L156.4 329.5M130.7 327.5L131.3 327.5L133.2 327.5L136.1 327.5L139.7 327.5L143.8 327.5L147.9 327.5L151.5 327.5L154.4 327.5L156.3 327.5L156.9 327.5M130.5 325.4L131.2 325.4L133.0 325.4L136.0 325.4L139.7 325.4L143.8 325.4L147.9 325.4L151.6 325.4L154.6 325.4L156.4 325.4L157.1 325.4M130.7 323.3L131.3 323.3L133.2 323.3L136.1 323.3L139.7 323.3L143.8 323.3L147.9 323.3L151.5 323.3L154.4 323.3L156.3 323.3L156.9 323.3M131.2 321.3L131.8 321.3L133.6 321.3L136.4 321.3L139.9 321.3L143.8 321.3L147.7 321.3L151.2 321.3L154.0 321.3L155.8 321.3L156.4 321.3M131.9 319.4L132.5 319.4L134.2 319.4L136.8 319.4L140.1 319.4L143.8 319.4L147.5 319.4L150.8 319.4L153.4 319.4L155.1 319.4L155.7 319.4M133.0 317.6L133.6 317.6L135.1 317.6L137.5 317.6L140.5 317.6L143.8 317.6L147.1 317.6L150.1 317.6L152.5 317.6L154.0 317.6L154.6 317.6M134.4 316.0L134.9 316.0L136.2 316.0L138.3 316.0L140.9 316.0L143.8 316.0L146.7 316.0L149.3 316.0L151.4 316.0L152.7 316.0L153.2 316.0M136.0 314.6L136.4 314.6L137.5 314.6L139.2 314.6L141.4 314.6L143.8 314.6L146.2 314.6L148.4 314.6L150.1 314.6L151.2 314.6L151.6 314.6M137.8 313.5L138.1 313.5L138.9 313.5L140.3 313.5L141.9 313.5L143.8 313.5L145.7 313.5L147.3 313.5L148.7 313.5L149.5 313.5L149.8 313.5M139.7 312.8L139.9 312.8L140.5 312.8L141.4 312.8L142.5 312.8L143.8 312.8L145.1 312.8L146.2 312.8L147.1 312.8L147.7 312.8L147.9 312.8M141.7 312.3L141.8 312.3L142.1 312.3L142.6 312.3L143.2 312.3L143.8 312.3L144.4 312.3L145.0 312.3L145.5 312.3L145.8 312.3L145.9 312.3" fill="none" stroke="#000" stroke-opacity="0.75" stroke-width="0.25"/><circle cx="143.8" cy="325.4" r="13.3" fill="none" stroke="#000" stroke-width="0.5"/><path d="M75.8 347.8L74.4 347.6L74.5 347.6ZM75.8 347.8L74.5 347.6L74.4 347.6ZM75.8 347.8L74.7 347.6L74.5 347.6ZM75.8 347.8L75.0 347.6L74.7 347.6ZM75.8 347.8L75.4 347.6L75.0 347.6ZM75.8 347.8L75.8 347.6L75.4 347.6ZM75.8 347.8L76.2 347.6L75.8 347.6ZM75.8 347.8L76.6 347.6L76.2 347.6ZM75.8 347.8L76.9 347.6L76.6 347.6ZM75.8 347.8L77.1 347.6L76.9 347.6ZM75.8 347.8L77.2 347.6L77.1 347.6ZM75.8 347.8L77.1 347.6L77.2 347.6Z" fill="#ff0000" stroke="#ff0000" stroke-width="0.2"/><path d="M74.4 347.6L74.5 347.6L73.2 347.3L73.1 347.3ZM74.5 347.6L74.7 347.6L73.6 347.3L73.2 347.3ZM74.7 347.6L75.0 347.6L74.2 347.3L73.6 347.3ZM75.0 347.6L75.4 347.6L75.0 347.3L74.2 347.3ZM75.4 347.6L75.8 347.6L75.8 347.3L75.0 347.3ZM75.8 347.6L76.2 347.6L76.6 347.3L75.8 347.3ZM76.2 347.6L76.6 347.6L77.4 347.3L76.6 347.3ZM76.6 347.6L76.9 347.6L78.0 347.3L77.4 347.3ZM76.9 347.6L77.1 347.6L78.4 347.3L78.0 347.3ZM77.1 347.6L77.2 347.6L78.5 347.3L78.4 347.3Z" fill="#ff0400" stroke="#ff0400" stroke-width="0.2"/><path d="M73.1 347.3L73.2 347.3L72.0 346.8L71.8 346.8ZM73.2 347.3L73.6 347.3L72.5 346.8L72.0 346.8ZM73.6 347.3L74.2 347.3L73.4 346.8L72.5 346.8ZM74.2 347.3L75.0 347.3L74.6 346.8L73.4 346.8ZM75.0 347.3L75.8 347.3L75.8 346.8L74.6 346.8ZM75.8 347.3L76.6 347.3L77.0 346.8L75.8 346.8ZM76.6 347.3L77.4 347.3L78.2 346.8L77.0 346.8ZM77.4 347.3L78.0 347.3L79.1 346.8L78.2 346.8ZM78.0 347.3L78.4 347.3L79.6 346.8L79.1 346.8ZM78.4 347.3L78.5 347.3L79.8 346.8L79.6 346.8Z" fill="#ff1000" stroke="#ff1000" stroke-width="0.2"/><path d="M71.8 346.8L72.0 346.8L70.9 346.1L70.6 346.1ZM72.0 346.8L72.5 346.8L71.6 346.1L70.9 346.1ZM72.5 346.8L73.4 346.8L72.7 346.1L71.6 346.1ZM73.4 346.8L74.6 346.8L74.2 346.1L72.7 346.1ZM74.6 346.8L75.8 346.8L75.8 346.1L74.2 346.1ZM75.8 346.8L77.0 346.8L77.4 346.1L75.8 346.1ZM77.0 346.8L78.2 346.8L78.9 346.1L77.4 346.1ZM78.2 346.8L79.1 346.8L80.0 346.1L78.9 346.1ZM79.1 346.8L79.6 346.8L80.7 346.1L80.0 346.1ZM79.6 346.8L79.8 346.8L81.0 346.1L80.7 346.1Z" fill="#ff2300" stroke="#ff2300" stroke-width="0.2"/><path d="M70.6 346.1L70.9 346.1L69.8 345.2L69.5 345.2ZM70.9 346.1L71.6 346.1L70.7 345.2L69.8 345.2ZM71.6 346.1L72.7 346.1L72.1 345.2L70.7 345.2ZM72.7 346.1L74.2 346.1L73.9 345.2L72.1 345.2ZM74.2 346.1L75.8 346.1L75.8 345.2L73.9 345.2ZM75.8 346.1L77.4 346.1L77.7 345.2L75.8 345.2ZM77.4 346.1L78.9 346.1L79.5 345.2L77.7 345.2ZM78.9 346.1L80.0 346.1L80.9 345.2L79.5 345.2ZM80.0 346.1L80.7 346.1L81.8 345.2L80.9 345.2ZM80.7 346.1L81.0 346.1L82.1 345.2L81.8 345.2Z" fill="#ff3d00" stroke="#ff3d00" stroke-width="0.2"/><path d="M69.5 345.2L69.8 345.2L69.0 344.1L68.6 344.1ZM69.8 345.2L70.7 345.2L70.0 344.1L69.0 344.1ZM70.7 345.2L72.1 345.2L71.6 344.1L70.0 344.1ZM72.1 345.2L73.9 345.2L73.6 344.1L71.6 344.1ZM73.9 345.2L75.8 345.2L75.8 344.1L73.6 344.1ZM75.8 345.2L77.7 345.2L78.0 344.1L75.8 344.1ZM77.7 345.2L79.5 345.2L80.0 344.1L78.0 344.1ZM79.5 345.2L80.9 345.2L81.6 344.1L80.0 344.1ZM80.9 345.2L81.8 345.2L82.6 344.1L81.6 344.1ZM81.8 345.2L82.1 345.2L83.0 344.1L82.6 344.1Z" fill="#ff5d00" stroke="#ff5d00" stroke-width="0.2"/><path d="M68.6 344.1L69.0 344.1L68.3 342.9L67.9 342.9ZM69.0 344.1L70.0 344.1L69.4 342.9L68.3 342.9ZM70.0 344.1L71.6 344.1L71.2 342.9L69.4 342.9ZM71.6 344.1L73.6 344.1L73.4 342.9L71.2 342.9ZM73.6 344.1L75.8 344.1L75.8 342.9L73.4 342.9ZM75.8 344.1L78.0 344.1L78.2 342.9L75.8 342.9ZM78.0 344.1L80.0 344.1L80.4 342.9L78.2 342.9ZM80.0 344.1L81.6 344.1L82.2 342.9L80.4 342.9ZM81.6 344.1L82.6 344.1L83.3 342.9L82.2 342.9ZM82.6 344.1L83.0 344.1L83.7 342.9L83.3 342.9Z" fill="#ff8300" stroke="#ff8300" stroke-width="0.2"/><path d="M67.9 342.9L68.3 342.9L67.8 341.6L67.4 341.6ZM68.3 342.9L69.4 342.9L69.0 341.6L67.8 341.6ZM69.4 342.9L71.2 342.9L70.9 341.6L69.0 341.6ZM71.2 342.9L73.4 342.9L73.2 341.6L70.9 341.6ZM73.4 342.9L75.8 342.9L75.8 341.6L73.2 341.6ZM75.8 342.9L78.2 342.9L78.4 341.6L75.8 341.6ZM78.2 342.9L80.4 342.9L80.7 341.6L78.4 341.6ZM80.4 342.9L82.2 342.9L82.6 341.6L80.7 341.6ZM82.2 342.9L83.3 342.9L83.8 341.6L82.6 341.6ZM83.3 342.9L83.7 342.9L84.2 341.6L83.8 341.6Z" fill="#ffae00" stroke="#ffae00" stroke-width="0.2"/><path d="M67.4 341.6L67.8 341.6L67.5 340.3L67.1 340.3ZM67.8 341.6L69.0 341.6L68.7 340.3L67.5 340.3ZM69.0 341.6L70.9 341.6L70.7 340.3L68.7 340.3ZM70.9 341.6L73.2 341.6L73.1 340.3L70.7 340.3ZM73.2 341.6L75.8 341.6L75.8 340.3L73.1 340.3ZM75.8 341.6L78.4 341.6L78.5 340.3L75.8 340.3ZM78.4 341.6L80.7 341.6L80.9 340.3L78.5 340.3ZM80.7 341.6L82.6 341.6L82.9 340.3L80.9 340.3ZM82.6 341.6L83.8 341.6L84.1 340.3L82.9 340.3ZM83.8 341.6L84.2 341.6L84.5 340.3L84.1 340.3Z" fill="#ffdc00" stroke="#ffdc00" stroke-width="0.2"/><path d="M67.1 340.3L67.5 340.3L67.4 338.9L67.0 338.9ZM67.5 340.3L68.7 340.3L68.6 338.9L67.4 338.9ZM68.7 340.3L70.7 340.3L70.6 338.9L68.6 338.9ZM70.7 340.3L73.1 340.3L73.1 338.9L70.6 338.9ZM73.1 340.3L75.8 340.3L75.8 338.9L73.1 338.9ZM75.8 340.3L78.5 340.3L78.5 338.9L75.8 338.9ZM78.5 340.3L80.9 340.3L81.0 338.9L78.5 338.9ZM80.9 340.3L82.9 340.3L83.0 338.9L81.0 338.9ZM82.9 340.3L84.1 340.3L84.2 338.9L83.0 338.9ZM84.1 340.3L84.5 340.3L84.6 338.9L84.2 338.9Z" fill="#f1ff00" stroke="#f1ff00" stroke-width="0.2"/><path d="M67.0 338.9L67.4 338.9L67.5 337.5L67.1 337.5ZM67.4 338.9L68.6 338.9L68.7 337.5L67.5 337.5ZM68.6 338.9L70.6 338.9L70.7 337.5L68.7 337.5ZM70.6 338.9L73.1 338.9L73.1 337.5L70.7 337.5ZM73.1 338.9L75.8 338.9L75.8 337.5L73.1 337.5ZM75.8 338.9L78.5 338.9L78.5 337.5L75.8 337.5ZM78.5 338.9L81.0 338.9L80.9 337.5L78.5 337.5ZM81.0 338.9L83.0 338.9L82.9 337.5L80.9 337.5ZM83.0 338.9L84.2 338.9L84.1 337.5L82.9 337.5ZM84.2 338.9L84.6 338.9L84.5 337.5L84.1 337.5Z" fill="#bfff00" stroke="#bfff00" stroke-width="0.2"/><path d="M67.1 337.5L67.5 337.5L67.8 336.2L67.4 336.2ZM67.5 337.5L68.7 337.5L69.0 336.2L67.8 336.2ZM68.7 337.5L70.7 337.5L70.9 336.2L69.0 336.2ZM70.7 337.5L73.1 337.5L73.2 336.2L70.9 336.2ZM73.1 337.5L75.8 337.5L75.8 336.2L73.2 336.2ZM75.8 337.5L78.5 337.5L78.4 336.2L75.8 336.2ZM78.5 337.5L80.9 337.5L80.7 336.2L78.4 336.2ZM80.9 337.5L82.9 337.5L82.6 336.2L80.7 336.2ZM82.9 337.5L84.1 337.5L83.8 336.2L82.6 336.2ZM84.1 337.5L84.5 337.5L84.2 336.2L83.8 336.2Z" fill="#8dff00" stroke="#8dff00" stroke-width="0.2"/><path d="M67.4 336.2L67.8 336.2L68.3 334.9L67.9 334.9ZM67.8 336.2L69.0 336.2L69.4 334.9L68.3 334.9ZM69.0 336.2L70.9 336.2L71.2 334.9L69.4 334.9ZM70.9 336.2L73.2 336.2L73.4 334.9L71.2 334.9ZM73.2 336.2L75.8 336.2L75.8 334.9L73.4 334.9ZM75.8 336.2L78.4 336.2L78.2 334.9L75.8 334.9ZM78.4 336.2L80.7 336.2L80.4 334.9L78.2 334.9ZM80.7 336.2L82.6 336.2L82.2 334.9L80.4 334.9ZM82.6 336.2L83.8 336.2L83.3 334.9L82.2 334.9ZM83.8 336.2L84.2 336.2L83.7 334.9L83.3 334.9Z" fill="#5dff00" stroke="#5dff00" stroke-width="0.2"/><path d="M67.9 334.9L68.3 334.9L69.0 333.7L68.6 333.7ZM68.3 334.9L69.4 334.9L70.0 333.7L69.0 333.7ZM69.4 334.9L71.2 334.9L71.6 333.7L70.0 333.7ZM71.2 334.9L73.4 334.9L73.6 333.7L71.6 333.7ZM73.4 334.9L75.8 334.9L75.8 333.7L73.6 333.7ZM75.8 334.9L78.2 334.9L78.0 333.7L75.8 333.7ZM78.2 334.9L80.4 334.9L80.0 333.7L78.0 333.7ZM80.4 334.9L82.2 334.9L81.6 333.7L80.0 333.7ZM82.2 334.9L83.3 334.9L82.6 333.7L81.6 333.7ZM83.3 334.9L83.7 334.9L83.0 333.7L82.6 333.7Z" fill="#2fff00" stroke="#2fff00" stroke-width="0.2"/><path d="M68.6 333.7L69.0 333.7L69.8 332.6L69.5 332.6ZM69.0 333.7L70.0 333.7L70.7 332.6L69.8 332.6ZM70.0 333.7L71.6 333.7L72.1 332.6L70.7 332.6ZM71.6 333.7L73.6 333.7L73.9 332.6L72.1 332.6ZM73.6 333.7L75.8 333.7L75.8 332.6L73.9 332.6ZM75.8 333.7L78.0 333.7L77.7 332.6L75.8 332.6ZM78.0 333.7L80.0 333.7L79.5 332.6L77.7 332.6ZM80.0 333.7L81.6 333.7L80.9 332.6L79.5 332.6ZM81.6 333.7L82.6 333.7L81.8 332.6L80.9 332.6ZM82.6 333.7L83.0 333.7L82.1 332.6L81.8 332.6Z" fill="#04ff00" stroke="#04ff00" stroke-width="0.2"/><path d="M69.5 332.6L69.8 332.6L70.9 331.7L70.6 331.7ZM69.8 332.6L70.7 332.6L71.6 331.7L70.9 331.7ZM70.7 332.6L72.1 332.6L72.7 331.7L71.6 331.7ZM72.1 332.6L73.9 332.6L74.2 331.7L72.7 331.7ZM73.9 332.6L75.8 332.6L75.8 331.7L74.2 331.7ZM75.8 332.6L77.7 332.6L77.4 331.7L75.8 331.7ZM77.7 332.6L79.5 332.6L78.9 331.7L77.4 331.7ZM79.5 332.6L80.9 332.6L80.0 331.7L78.9 331.7ZM80.9 332.6L81.8 332.6L80.7 331.7L80.0 331.7ZM81.8 332.6L82.1 332.6L81.0 331.7L80.7 331.7Z" fill="#00ff22" stroke="#00ff22" stroke-width="0.2"/><path d="M70.6 331.7L70.9 331.7L72.0 331.0L71.8 331.0ZM70.9 331.7L71.6 331.7L72.5 331.0L72.0 331.0ZM71.6 331.7L72.7 331.7L73.4 331.0L72.5 331.0ZM72.7 331.7L74.2 331.7L74.6 331.0L73.4 331.0ZM74.2 331.7L75.8 331.7L75.8 331.0L74.6 331.0ZM75.8 331.7L77.4 331.7L77.0 331.0L75.8 331.0ZM77.4 331.7L78.9 331.7L78.2 331.0L77.0 331.0ZM78.9 331.7L80.0 331.7L79.1 331.0L78.2 331.0ZM80.0 331.7L80.7 331.7L79.6 331.0L79.1 331.0ZM80.7 331.7L81.0 331.7L79.8 331.0L79.6 331.0Z" fill="#00ff43" stroke="#00ff43" stroke-width="0.2"/><path d="M71.8 331.0L72.0 331.0L73.2 330.5L73.1 330.5ZM72.0 331.0L72.5 331.0L73.6 330.5L73.2 330.5ZM72.5 331.0L73.4 331.0L74.2 330.5L73.6 330.5ZM73.4 331.0L74.6 331.0L75.0 330.5L74.2 330.5ZM74.6 331.0L75.8 331.0L75.8 330.5L75.0 330.5ZM75.8 331.0L77.0 331.0L76.6 330.5L75.8 330.5ZM77.0 331.0L78.2 331.0L77.4 330.5L76.6 330.5ZM78.2 331.0L79.1 331.0L78.0 330.5L77.4 330.5ZM79.1 331.0L79.6 331.0L78.4 330.5L78.0 330.5ZM79.6 331.0L79.8 331.0L78.5 330.5L78.4 330.5Z" fill="#00ff5d" stroke="#00ff5d" stroke-width="0.2"/><path d="M73.1 330.5L73.2 330.5L74.5 330.2L74.4 330.2ZM73.2 330.5L73.6 330.5L74.7 330.2L74.5 330.2ZM73.6 330.5L74.2 330.5L75.0 330.2L74.7 330.2ZM74.2 330.5L75.0 330.5L75.4 330.2L75.0 330.2ZM75.0 330.5L75.8 330.5L75.8 330.2L75.4 330.2ZM75.8 330.5L76.6 330.5L76.2 330.2L75.8 330.2ZM76.6 330.5L77.4 330.5L76.6 330.2L76.2 330.2ZM77.4 330.5L78.0 330.5L76.9 330.2L76.6 330.2ZM78.0 330.5L78.4 330.5L77.1 330.2L76.9 330.2ZM78.4 330.5L78.5 330.5L77.2 330.2L77.1 330.2Z" fill="#00ff70" stroke="#00ff70" stroke-width="0.2"/><path d="M74.5 330.2L74.4 330.2L75.8 330.0ZM74.4 330.2L74.5 330.2L75.8 330.0ZM74.5 330.2L74.7 330.2L75.8 330.0ZM74.7 330.2L75.0 330.2L75.8 330.0ZM75.0 330.2L75.4 330.2L75.8 330.0ZM75.4 330.2L75.8 330.2L75.8 330.0ZM75.8 330.2L76.2 330.2L75.8 330.0ZM76.2 330.2L76.6 330.2L75.8 330.0ZM76.6 330.2L76.9 330.2L75.8 330.0ZM76.9 330.2L77.1 330.2L75.8 330.0ZM77.1 330.2L77.2 330.2L75.8 330.0ZM77.2 330.2L77.1 330.2L75.8 330.0Z" fill="#00ff7c" stroke="#00ff7c" stroke-width="0.2"/><path d="M75.8 347.8L74.4 347.6L73.1 347.3L71.8 346.8L70.6 346.1L69.5 345.2L68.6 344.1L67.9 342.9L67.4 341.6L67.1 340.3L67.0 338.9L67.1 337.5L67.4 336.2L67.9 334.9L68.6 333.7L69.5 332.6L70.6 331.7L71.8 331.0L73.1 330.5L74.4 330.2L75.8 330.0M75.8 347.8L74.5 347.6L73.2 347.3L72.0 346.8L70.9 346.1L69.8 345.2L69.0 344.1L68.3 342.9L67.8 341.6L67.5 340.3L67.4 338.9L67.5 337.5L67.8 336.2L68.3 334.9L69.0 333.7L69.8 332.6L70.9 331.7L72.0 331.0L73.2 330.5L74.5 330.2L75.8 330.0M75.8 347.8L74.7 347.6L73.6 347.3L72.5 346.8L71.6 346.1L70.7 345.2L70.0 344.1L69.4 342.9L69.0 341.6L68.7 340.3L68.6 338.9L68.7 337.5L69.0 336.2L69.4 334.9L70.0 333.7L70.7 332.6L71.6 331.7L72.5 331.0L73.6 330.5L74.7 330.2L75.8 330.0M75.8 347.8L75.0 347.6L74.2 347.3L73.4 346.8L72.7 346.1L72.1 345.2L71.6 344.1L71.2 342.9L70.9 341.6L70.7 340.3L70.6 338.9L70.7 337.5L70.9 336.2L71.2 334.9L71.6 333.7L72.1 332.6L72.7 331.7L73.4 331.0L74.2 330.5L75.0 330.2L75.8 330.0M75.8 347.8L75.4 347.6L75.0 347.3L74.6 346.8L74.2 346.1L73.9 345.2L73.6 344.1L73.4 342.9L73.2 341.6L73.1 340.3L73.1 338.9L73.1 337.5L73.2 336.2L73.4 334.9L73.6 333.7L73.9 332.6L74.2 331.7L74.6 331.0L75.0 330.5L75.4 330.2L75.8 330.0M75.8 347.8L75.8 347.6L75.8 347.3L75.8 346.8L75.8 346.1L75.8 345.2L75.8 344.1L75.8 342.9L75.8 341.6L75.8 340.3L75.8 338.9L75.8 337.5L75.8 336.2L75.8 334.9L75.8 333.7L75.8 332.6L75.8 331.7L75.8 331.0L75.8 330.5L75.8 330.2L75.8 330.0M75.8 347.8L76.2 347.6L76.6 347.3L77.0 346.8L77.4 346.1L77.7 345.2L78.0 344.1L78.2 342.9L78.4 341.6L78.5 340.3L78.5 338.9L78.5 337.5L78.4 336.2L78.2 334.9L78.0 333.7L77.7 332.6L77.4 331.7L77.0 331.0L76.6 330.5L76.2 330.2L75.8 330.0M75.8 347.8L76.6 347.6L77.4 347.3L78.2 346.8L78.9 346.1L79.5 345.2L80.0 344.1L80.4 342.9L80.7 341.6L80.9 340.3L81.0 338.9L80.9 337.5L80.7 336.2L80.4 334.9L80.0 333.7L79.5 332.6L78.9 331.7L78.2 331.0L77.4 330.5L76.6 330.2L75.8 330.0M75.8 347.8L76.9 347.6L78.0 347.3L79.1 346.8L80.0 346.1L80.9 345.2L81.6 344.1L82.2 342.9L82.6 341.6L82.9 340.3L83.0 338.9L82.9 337.5L82.6 336.2L82.2 334.9L81.6 333.7L80.9 332.6L80.0 331.7L79.1 331.0L78.0 330.5L76.9 330.2L75.8 330.0M75.8 347.8L77.1 347.6L78.4 347.3L79.6 346.8L80.7 346.1L81.8 345.2L82.6 344.1L83.3 342.9L83.8 341.6L84.1 340.3L84.2 338.9L84.1 337.5L83.8 336.2L83.3 334.9L82.6 333.7L81.8 332.6L80.7 331.7L79.6 331.0L78.4 330.5L77.1 330.2L75.8 330.0M75.8 347.8L77.2 347.6L78.5 347.3L79.8 346.8L81.0 346.1L82.1 345.2L83.0 344.1L83.7 342.9L84.2 341.6L84.5 340.3L84.6 338.9L84.5 337.5L84.2 336.2L83.7 334.9L83.0 333.7L82.1 332.6L81.0 331.7L79.8 331.0L78.5 330.5L77.2 330.2L75.8 330.0" fill="none" stroke="#000" stroke-opacity="0.95" stroke-width="0.38"/><path d="M74.4 347.6L74.5 347.6L74.7 347.6L75.0 347.6L75.4 347.6L75.8 347.6L76.2 347.6L76.6 347.6L76.9 347.6L77.1 347.6L77.2 347.6M73.1 347.3L73.2 347.3L73.6 347.3L74.2 347.3L75.0 347.3L75.8 347.3L76.6 347.3L77.4 347.3L78.0 347.3L78.4 347.3L78.5 347.3M71.8 346.8L72.0 346.8L72.5 346.8L73.4 346.8L74.6 346.8L75.8 346.8L77.0 346.8L78.2 346.8L79.1 346.8L79.6 346.8L79.8 346.8M70.6 346.1L70.9 346.1L71.6 346.1L72.7 346.1L74.2 346.1L75.8 346.1L77.4 346.1L78.9 346.1L80.0 346.1L80.7 346.1L81.0 346.1M69.5 345.2L69.8 345.2L70.7 345.2L72.1 345.2L73.9 345.2L75.8 345.2L77.7 345.2L79.5 345.2L80.9 345.2L81.8 345.2L82.1 345.2M68.6 344.1L69.0 344.1L70.0 344.1L71.6 344.1L73.6 344.1L75.8 344.1L78.0 344.1L80.0 344.1L81.6 344.1L82.6 344.1L83.0 344.1M67.9 342.9L68.3 342.9L69.4 342.9L71.2 342.9L73.4 342.9L75.8 342.9L78.2 342.9L80.4 342.9L82.2 342.9L83.3 342.9L83.7 342.9M67.4 341.6L67.8 341.6L69.0 341.6L70.9 341.6L73.2 341.6L75.8 341.6L78.4 341.6L80.7 341.6L82.6 341.6L83.8 341.6L84.2 341.6M67.1 340.3L67.5 340.3L68.7 340.3L70.7 340.3L73.1 340.3L75.8 340.3L78.5 340.3L80.9 340.3L82.9 340.3L84.1 340.3L84.5 340.3M67.0 338.9L67.4 338.9L68.6 338.9L70.6 338.9L73.1 338.9L75.8 338.9L78.5 338.9L81.0 338.9L83.0 338.9L84.2 338.9L84.6 338.9M67.1 337.5L67.5 337.5L68.7 337.5L70.7 337.5L73.1 337.5L75.8 337.5L78.5 337.5L80.9 337.5L82.9 337.5L84.1 337.5L84.5 337.5M67.4 336.2L67.8 336.2L69.0 336.2L70.9 336.2L73.2 336.2L75.8 336.2L78.4 336.2L80.7 336.2L82.6 336.2L83.8 336.2L84.2 336.2M67.9 334.9L68.3 334.9L69.4 334.9L71.2 334.9L73.4 334.9L75.8 334.9L78.2 334.9L80.4 334.9L82.2 334.9L83.3 334.9L83.7 334.9M68.6 333.7L69.0 333.7L70.0 333.7L71.6 333.7L73.6 333.7L75.8 333.7L78.0 333.7L80.0 333.7L81.6 333.7L82.6 333.7L83.0 333.7M69.5 332.6L69.8 332.6L70.7 332.6L72.1 332.6L73.9 332.6L75.8 332.6L77.7 332.6L79.5 332.6L80.9 332.6L81.8 332.6L82.1 332.6M70.6 331.7L70.9 331.7L71.6 331.7L72.7 331.7L74.2 331.7L75.8 331.7L77.4 331.7L78.9 331.7L80.0 331.7L80.7 331.7L81.0 331.7M71.8 331.0L72.0 331.0L72.5 331.0L73.4 331.0L74.6 331.0L75.8 331.0L77.0 331.0L78.2 331.0L79.1 331.0L79.6 331.0L79.8 331.0M73.1 330.5L73.2 330.5L73.6 330.5L74.2 330.5L75.0 330.5L75.8 330.5L76.6 330.5L77.4 330.5L78.0 330.5L78.4 330.5L78.5 330.5M74.4 330.2L74.5 330.2L74.7 330.2L75.0 330.2L75.4 330.2L75.8 330.2L76.2 330.2L76.6 330.2L76.9 330.2L77.1 330.2L77.2 330.2" fill="none" stroke="#000" stroke-opacity="0.75" stroke-width="0.25"/><circle cx="75.8" cy="338.9" r="8.85" fill="none" stroke="#000" stroke-width="0.5"/><path d="M120.6 341.7L118.9 341.6L119.0 341.6ZM120.6 341.7L119.0 341.6L118.9 341.6ZM120.6 341.7L119.2 341.6L119.0 341.6ZM120.6 341.7L119.6 341.6L119.2 341.6ZM120.6 341.7L120.1 341.6L119.6 341.6ZM120.6 341.7L120.6 341.6L120.1 341.6ZM120.6 341.7L121.1 341.6L120.6 341.6ZM120.6 341.7L121.6 341.6L121.1 341.6ZM120.6 341.7L122.0 341.6L121.6 341.6ZM120.6 341.7L122.2 341.6L122.0 341.6ZM120.6 341.7L122.3 341.6L122.2 341.6ZM120.6 341.7L122.2 341.6L122.3 341.6Z" fill="#15ff00" stroke="#15ff00" stroke-width="0.2"/><path d="M118.9 341.6L119.0 341.6L117.4 341.2L117.2 341.2ZM119.0 341.6L119.2 341.6L117.8 341.2L117.4 341.2ZM119.2 341.6L119.6 341.6L118.6 341.2L117.8 341.2ZM119.6 341.6L120.1 341.6L119.5 341.2L118.6 341.2ZM120.1 341.6L120.6 341.6L120.6 341.2L119.5 341.2ZM120.6 341.6L121.1 341.6L121.7 341.2L120.6 341.2ZM121.1 341.6L121.6 341.6L122.6 341.2L121.7 341.2ZM121.6 341.6L122.0 341.6L123.3 341.2L122.6 341.2ZM122.0 341.6L122.2 341.6L123.8 341.2L123.3 341.2ZM122.2 341.6L122.3 341.6L124.0 341.2L123.8 341.2Z" fill="#11ff00" stroke="#11ff00" stroke-width="0.2"/><path d="M117.2 341.2L117.4 341.2L115.9 340.5L115.6 340.5ZM117.4 341.2L117.8 341.2L116.6 340.5L115.9 340.5ZM117.8 341.2L118.6 341.2L117.7 340.5L116.6 340.5ZM118.6 341.2L119.5 341.2L119.1 340.5L117.7 340.5ZM119.5 341.2L120.6 341.2L120.6 340.5L119.1 340.5ZM120.6 341.2L121.7 341.2L122.1 340.5L120.6 340.5ZM121.7 341.2L122.6 341.2L123.5 340.5L122.1 340.5ZM122.6 341.2L123.3 341.2L124.6 340.5L123.5 340.5ZM123.3 341.2L123.8 341.2L125.3 340.5L124.6 340.5ZM123.8 341.2L124.0 341.2L125.6 340.5L125.3 340.5Z" fill="#05ff00" stroke="#05ff00" stroke-width="0.2"/><path d="M115.6 340.5L115.9 340.5L114.5 339.6L114.1 339.6ZM115.9 340.5L116.6 340.5L115.4 339.6L114.5 339.6ZM116.6 340.5L117.7 340.5L116.8 339.6L115.4 339.6ZM117.7 340.5L119.1 340.5L118.6 339.6L116.8 339.6ZM119.1 340.5L120.6 340.5L120.6 339.6L118.6 339.6ZM120.6 340.5L122.1 340.5L122.6 339.6L120.6 339.6ZM122.1 340.5L123.5 340.5L124.4 339.6L122.6 339.6ZM123.5 340.5L124.6 340.5L125.8 339.6L124.4 339.6ZM124.6 340.5L125.3 340.5L126.7 339.6L125.8 339.6ZM125.3 340.5L125.6 340.5L127.1 339.6L126.7 339.6Z" fill="#00ff0f" stroke="#00ff0f" stroke-width="0.2"/><path d="M114.1 339.6L114.5 339.6L113.2 338.5L112.8 338.5ZM114.5 339.6L115.4 339.6L114.3 338.5L113.2 338.5ZM115.4 339.6L116.8 339.6L116.0 338.5L114.3 338.5ZM116.8 339.6L118.6 339.6L118.2 338.5L116.0 338.5ZM118.6 339.6L120.6 339.6L120.6 338.5L118.2 338.5ZM120.6 339.6L122.6 339.6L123.0 338.5L120.6 338.5ZM122.6 339.6L124.4 339.6L125.2 338.5L123.0 338.5ZM124.4 339.6L125.8 339.6L126.9 338.5L125.2 338.5ZM125.8 339.6L126.7 339.6L128.0 338.5L126.9 338.5ZM126.7 339.6L127.1 339.6L128.4 338.5L128.0 338.5Z" fill="#00ff2a" stroke="#00ff2a" stroke-width="0.2"/><path d="M112.8 338.5L113.2 338.5L112.1 337.2L111.7 337.2ZM113.2 338.5L114.3 338.5L113.4 337.2L112.1 337.2ZM114.3 338.5L116.0 338.5L115.4 337.2L113.4 337.2ZM116.0 338.5L118.2 338.5L117.8 337.2L115.4 337.2ZM118.2 338.5L120.6 338.5L120.6 337.2L117.8 337.2ZM120.6 338.5L123.0 338.5L123.3 337.2L120.6 337.2ZM123.0 338.5L125.2 338.5L125.8 337.2L123.3 337.2ZM125.2 338.5L126.9 338.5L127.8 337.2L125.8 337.2ZM126.9 338.5L128.0 338.5L129.1 337.2L127.8 337.2ZM128.0 338.5L128.4 338.5L129.5 337.2L129.1 337.2Z" fill="#00ff4b" stroke="#00ff4b" stroke-width="0.2"/><path d="M111.7 337.2L112.1 337.2L111.3 335.7L110.8 335.7ZM112.1 337.2L113.4 337.2L112.7 335.7L111.3 335.7ZM113.4 337.2L115.4 337.2L114.8 335.7L112.7 335.7ZM115.4 337.2L117.8 337.2L117.6 335.7L114.8 335.7ZM117.8 337.2L120.6 337.2L120.6 335.7L117.6 335.7ZM120.6 337.2L123.3 337.2L123.6 335.7L120.6 335.7ZM123.3 337.2L125.8 337.2L126.4 335.7L123.6 335.7ZM125.8 337.2L127.8 337.2L128.5 335.7L126.4 335.7ZM127.8 337.2L129.1 337.2L129.9 335.7L128.5 335.7ZM129.1 337.2L129.5 337.2L130.4 335.7L129.9 335.7Z" fill="#00ff73" stroke="#00ff73" stroke-width="0.2"/><path d="M110.8 335.7L111.3 335.7L110.7 334.1L110.1 334.1ZM111.3 335.7L112.7 335.7L112.1 334.1L110.7 334.1ZM112.7 335.7L114.8 335.7L114.5 334.1L112.1 334.1ZM114.8 335.7L117.6 335.7L117.4 334.1L114.5 334.1ZM117.6 335.7L120.6 335.7L120.6 334.1L117.4 334.1ZM120.6 335.7L123.6 335.7L123.8 334.1L120.6 334.1ZM123.6 335.7L126.4 335.7L126.7 334.1L123.8 334.1ZM126.4 335.7L128.5 335.7L129.1 334.1L126.7 334.1ZM128.5 335.7L129.9 335.7L130.5 334.1L129.1 334.1ZM129.9 335.7L130.4 335.7L131.1 334.1L130.5 334.1Z" fill="#00ff9f" stroke="#00ff9f" stroke-width="0.2"/><path d="M110.1 334.1L110.7 334.1L110.3 332.4L109.7 332.4ZM110.7 334.1L112.1 334.1L111.8 332.4L110.3 332.4ZM112.1 334.1L114.5 334.1L114.2 332.4L111.8 332.4ZM114.5 334.1L117.4 334.1L117.2 332.4L114.2 332.4ZM117.4 334.1L120.6 334.1L120.6 332.4L117.2 332.4ZM120.6 334.1L123.8 334.1L124.0 332.4L120.6 332.4ZM123.8 334.1L126.7 334.1L127.0 332.4L124.0 332.4ZM126.7 334.1L129.1 334.1L129.4 332.4L127.0 332.4ZM129.1 334.1L130.5 334.1L130.9 332.4L129.4 332.4ZM130.5 334.1L131.1 334.1L131.5 332.4L130.9 332.4Z" fill="#00ffce" stroke="#00ffce" stroke-width="0.2"/><path d="M109.7 332.4L110.3 332.4L110.1 330.7L109.6 330.7ZM110.3 332.4L111.8 332.4L111.7 330.7L110.1 330.7ZM111.8 332.4L114.2 332.4L114.1 330.7L111.7 330.7ZM114.2 332.4L117.2 332.4L117.2 330.7L114.1 330.7ZM117.2 332.4L120.6 332.4L120.6 330.7L117.2 330.7ZM120.6 332.4L124.0 332.4L124.0 330.7L120.6 330.7ZM124.0 332.4L127.0 332.4L127.1 330.7L124.0 330.7ZM127.0 332.4L129.4 332.4L129.5 330.7L127.1 330.7ZM129.4 332.4L130.9 332.4L131.1 330.7L129.5 330.7ZM130.9 332.4L131.5 332.4L131.6 330.7L131.1 330.7Z" fill="#00fdff" stroke="#00fdff" stroke-width="0.2"/><path d="M109.6 330.7L110.1 330.7L110.3 329.0L109.7 329.0ZM110.1 330.7L111.7 330.7L111.8 329.0L110.3 329.0ZM111.7 330.7L114.1 330.7L114.2 329.0L111.8 329.0ZM114.1 330.7L117.2 330.7L117.2 329.0L114.2 329.0ZM117.2 330.7L120.6 330.7L120.6 329.0L117.2 329.0ZM120.6 330.7L124.0 330.7L124.0 329.0L120.6 329.0ZM124.0 330.7L127.1 330.7L127.0 329.0L124.0 329.0ZM127.1 330.7L129.5 330.7L129.4 329.0L127.0 329.0ZM129.5 330.7L131.1 330.7L130.9 329.0L129.4 329.0ZM131.1 330.7L131.6 330.7L131.5 329.0L130.9 329.0Z" fill="#00caff" stroke="#00caff" stroke-width="0.2"/><path d="M109.7 329.0L110.3 329.0L110.7 327.3L110.1 327.3ZM110.3 329.0L111.8 329.0L112.1 327.3L110.7 327.3ZM111.8 329.0L114.2 329.0L114.5 327.3L112.1 327.3ZM114.2 329.0L117.2 329.0L117.4 327.3L114.5 327.3ZM117.2 329.0L120.6 329.0L120.6 327.3L117.4 327.3ZM120.6 329.0L124.0 329.0L123.8 327.3L120.6 327.3ZM124.0 329.0L127.0 329.0L126.7 327.3L123.8 327.3ZM127.0 329.0L129.4 329.0L129.1 327.3L126.7 327.3ZM129.4 329.0L130.9 329.0L130.5 327.3L129.1 327.3ZM130.9 329.0L131.5 329.0L131.1 327.3L130.5 327.3Z" fill="#0096ff" stroke="#0096ff" stroke-width="0.2"/><path d="M110.1 327.3L110.7 327.3L111.3 325.7L110.8 325.7ZM110.7 327.3L112.1 327.3L112.7 325.7L111.3 325.7ZM112.1 327.3L114.5 327.3L114.8 325.7L112.7 325.7ZM114.5 327.3L117.4 327.3L117.6 325.7L114.8 325.7ZM117.4 327.3L120.6 327.3L120.6 325.7L117.6 325.7ZM120.6 327.3L123.8 327.3L123.6 325.7L120.6 325.7ZM123.8 327.3L126.7 327.3L126.4 325.7L123.6 325.7ZM126.7 327.3L129.1 327.3L128.5 325.7L126.4 325.7ZM129.1 327.3L130.5 327.3L129.9 325.7L128.5 325.7ZM130.5 327.3L131.1 327.3L130.4 325.7L129.9 325.7Z" fill="#0064ff" stroke="#0064ff" stroke-width="0.2"/><path d="M110.8 325.7L111.3 325.7L112.1 324.2L111.7 324.2ZM111.3 325.7L112.7 325.7L113.4 324.2L112.1 324.2ZM112.7 325.7L114.8 325.7L115.4 324.2L113.4 324.2ZM114.8 325.7L117.6 325.7L117.8 324.2L115.4 324.2ZM117.6 325.7L120.6 325.7L120.6 324.2L117.8 324.2ZM120.6 325.7L123.6 325.7L123.3 324.2L120.6 324.2ZM123.6 325.7L126.4 325.7L125.8 324.2L123.3 324.2ZM126.4 325.7L128.5 325.7L127.8 324.2L125.8 324.2ZM128.5 325.7L129.9 325.7L129.1 324.2L127.8 324.2ZM129.9 325.7L130.4 325.7L129.5 324.2L129.1 324.2Z" fill="#0034ff" stroke="#0034ff" stroke-width="0.2"/><path d="M111.7 324.2L112.1 324.2L113.2 322.9L112.8 322.9ZM112.1 324.2L113.4 324.2L114.3 322.9L113.2 322.9ZM113.4 324.2L115.4 324.2L116.0 322.9L114.3 322.9ZM115.4 324.2L117.8 324.2L118.2 322.9L116.0 322.9ZM117.8 324.2L120.6 324.2L120.6 322.9L118.2 322.9ZM120.6 324.2L123.3 324.2L123.0 322.9L120.6 322.9ZM123.3 324.2L125.8 324.2L125.2 322.9L123.0 322.9ZM125.8 324.2L127.8 324.2L126.9 322.9L125.2 322.9ZM127.8 324.2L129.1 324.2L128.0 322.9L126.9 322.9ZM129.1 324.2L129.5 324.2L128.4 322.9L128.0 322.9Z" fill="#0008ff" stroke="#0008ff" stroke-width="0.2"/><path d="M112.8 322.9L113.2 322.9L114.5 321.8L114.1 321.8ZM113.2 322.9L114.3 322.9L115.4 321.8L114.5 321.8ZM114.3 322.9L116.0 322.9L116.8 321.8L115.4 321.8ZM116.0 322.9L118.2 322.9L118.6 321.8L116.8 321.8ZM118.2 322.9L120.6 322.9L120.6 321.8L118.6 321.8ZM120.6 322.9L123.0 322.9L122.6 321.8L120.6 321.8ZM123.0 322.9L125.2 322.9L124.4 321.8L122.6 321.8ZM125.2 322.9L126.9 322.9L125.8 321.8L124.4 321.8ZM126.9 322.9L128.0 322.9L126.7 321.8L125.8 321.8ZM128.0 322.9L128.4 322.9L127.1 321.8L126.7 321.8Z" fill="#1f00ff" stroke="#1f00ff" stroke-width="0.2"/><path d="M114.1 321.8L114.5 321.8L115.9 320.9L115.6 320.9ZM114.5 321.8L115.4 321.8L116.6 320.9L115.9 320.9ZM115.4 321.8L116.8 321.8L117.7 320.9L116.6 320.9ZM116.8 321.8L118.6 321.8L119.1 320.9L117.7 320.9ZM118.6 321.8L120.6 321.8L120.6 320.9L119.1 320.9ZM120.6 321.8L122.6 321.8L122.1 320.9L120.6 320.9ZM122.6 321.8L124.4 321.8L123.5 320.9L122.1 320.9ZM124.4 321.8L125.8 321.8L124.6 320.9L123.5 320.9ZM125.8 321.8L126.7 321.8L125.3 320.9L124.6 320.9ZM126.7 321.8L127.1 321.8L125.6 320.9L125.3 320.9Z" fill="#4100ff" stroke="#4100ff" stroke-width="0.2"/><path d="M115.6 320.9L115.9 320.9L117.4 320.2L117.2 320.2ZM115.9 320.9L116.6 320.9L117.8 320.2L117.4 320.2ZM116.6 320.9L117.7 320.9L118.6 320.2L117.8 320.2ZM117.7 320.9L119.1 320.9L119.5 320.2L118.6 320.2ZM119.1 320.9L120.6 320.9L120.6 320.2L119.5 320.2ZM120.6 320.9L122.1 320.9L121.7 320.2L120.6 320.2ZM122.1 320.9L123.5 320.9L122.6 320.2L121.7 320.2ZM123.5 320.9L124.6 320.9L123.3 320.2L122.6 320.2ZM124.6 320.9L125.3 320.9L123.8 320.2L123.3 320.2ZM125.3 320.9L125.6 320.9L124.0 320.2L123.8 320.2Z" fill="#5c00ff" stroke="#5c00ff" stroke-width="0.2"/><path d="M117.2 320.2L117.4 320.2L119.0 319.8L118.9 319.8ZM117.4 320.2L117.8 320.2L119.2 319.8L119.0 319.8ZM117.8 320.2L118.6 320.2L119.6 319.8L119.2 319.8ZM118.6 320.2L119.5 320.2L120.1 319.8L119.6 319.8ZM119.5 320.2L120.6 320.2L120.6 319.8L120.1 319.8ZM120.6 320.2L121.7 320.2L121.1 319.8L120.6 319.8ZM121.7 320.2L122.6 320.2L121.6 319.8L121.1 319.8ZM122.6 320.2L123.3 320.2L122.0 319.8L121.6 319.8ZM123.3 320.2L123.8 320.2L122.2 319.8L122.0 319.8ZM123.8 320.2L124.0 320.2L122.3 319.8L122.2 319.8Z" fill="#6f00ff" stroke="#6f00ff" stroke-width="0.2"/><path d="M119.0 319.8L118.9 319.8L120.6 319.7ZM118.9 319.8L119.0 319.8L120.6 319.7ZM119.0 319.8L119.2 319.8L120.6 319.7ZM119.2 319.8L119.6 319.8L120.6 319.7ZM119.6 319.8L120.1 319.8L120.6 319.7ZM120.1 319.8L120.6 319.8L120.6 319.7ZM120.6 319.8L121.1 319.8L120.6 319.7ZM121.1 319.8L121.6 319.8L120.6 319.7ZM121.6 319.8L122.0 319.8L120.6 319.7ZM122.0 319.8L122.2 319.8L120.6 319.7ZM122.2 319.8L122.3 319.8L120.6 319.7ZM122.3 319.8L122.2 319.8L120.6 319.7Z" fill="#7b00ff" stroke="#7b00ff" stroke-width="0.2"/><path d="M120.6 341.7L118.9 341.6L117.2 341.2L115.6 340.5L114.1 339.6L112.8 338.5L111.7 337.2L110.8 335.7L110.1 334.1L109.7 332.4L109.6 330.7L109.7 329.0L110.1 327.3L110.8 325.7L111.7 324.2L112.8 322.9L114.1 321.8L115.6 320.9L117.2 320.2L118.9 319.8L120.6 319.7M120.6 341.7L119.0 341.6L117.4 341.2L115.9 340.5L114.5 339.6L113.2 338.5L112.1 337.2L111.3 335.7L110.7 334.1L110.3 332.4L110.1 330.7L110.3 329.0L110.7 327.3L111.3 325.7L112.1 324.2L113.2 322.9L114.5 321.8L115.9 320.9L117.4 320.2L119.0 319.8L120.6 319.7M120.6 341.7L119.2 341.6L117.8 341.2L116.6 340.5L115.4 339.6L114.3 338.5L113.4 337.2L112.7 335.7L112.1 334.1L111.8 332.4L111.7 330.7L111.8 329.0L112.1 327.3L112.7 325.7L113.4 324.2L114.3 322.9L115.4 321.8L116.6 320.9L117.8 320.2L119.2 319.8L120.6 319.7M120.6 341.7L119.6 341.6L118.6 341.2L117.7 340.5L116.8 339.6L116.0 338.5L115.4 337.2L114.8 335.7L114.5 334.1L114.2 332.4L114.1 330.7L114.2 329.0L114.5 327.3L114.8 325.7L115.4 324.2L116.0 322.9L116.8 321.8L117.7 320.9L118.6 320.2L119.6 319.8L120.6 319.7M120.6 341.7L120.1 341.6L119.5 341.2L119.1 340.5L118.6 339.6L118.2 338.5L117.8 337.2L117.6 335.7L117.4 334.1L117.2 332.4L117.2 330.7L117.2 329.0L117.4 327.3L117.6 325.7L117.8 324.2L118.2 322.9L118.6 321.8L119.1 320.9L119.5 320.2L120.1 319.8L120.6 319.7M120.6 341.7L120.6 341.6L120.6 341.2L120.6 340.5L120.6 339.6L120.6 338.5L120.6 337.2L120.6 335.7L120.6 334.1L120.6 332.4L120.6 330.7L120.6 329.0L120.6 327.3L120.6 325.7L120.6 324.2L120.6 322.9L120.6 321.8L120.6 320.9L120.6 320.2L120.6 319.8L120.6 319.7M120.6 341.7L121.1 341.6L121.7 341.2L122.1 340.5L122.6 339.6L123.0 338.5L123.3 337.2L123.6 335.7L123.8 334.1L124.0 332.4L124.0 330.7L124.0 329.0L123.8 327.3L123.6 325.7L123.3 324.2L123.0 322.9L122.6 321.8L122.1 320.9L121.7 320.2L121.1 319.8L120.6 319.7M120.6 341.7L121.6 341.6L122.6 341.2L123.5 340.5L124.4 339.6L125.2 338.5L125.8 337.2L126.4 335.7L126.7 334.1L127.0 332.4L127.1 330.7L127.0 329.0L126.7 327.3L126.4 325.7L125.8 324.2L125.2 322.9L124.4 321.8L123.5 320.9L122.6 320.2L121.6 319.8L120.6 319.7M120.6 341.7L122.0 341.6L123.3 341.2L124.6 340.5L125.8 339.6L126.9 338.5L127.8 337.2L128.5 335.7L129.1 334.1L129.4 332.4L129.5 330.7L129.4 329.0L129.1 327.3L128.5 325.7L127.8 324.2L126.9 322.9L125.8 321.8L124.6 320.9L123.3 320.2L122.0 319.8L120.6 319.7M120.6 341.7L122.2 341.6L123.8 341.2L125.3 340.5L126.7 339.6L128.0 338.5L129.1 337.2L129.9 335.7L130.5 334.1L130.9 332.4L131.1 330.7L130.9 329.0L130.5 327.3L129.9 325.7L129.1 324.2L128.0 322.9L126.7 321.8L125.3 320.9L123.8 320.2L122.2 319.8L120.6 319.7M120.6 341.7L122.3 341.6L124.0 341.2L125.6 340.5L127.1 339.6L128.4 338.5L129.5 337.2L130.4 335.7L131.1 334.1L131.5 332.4L131.6 330.7L131.5 329.0L131.1 327.3L130.4 325.7L129.5 324.2L128.4 322.9L127.1 321.8L125.6 320.9L124.0 320.2L122.3 319.8L120.6 319.7" fill="none" stroke="#000" stroke-opacity="0.95" stroke-width="0.38"/><path d="M118.9 341.6L119.0 341.6L119.2 341.6L119.6 341.6L120.1 341.6L120.6 341.6L121.1 341.6L121.6 341.6L122.0 341.6L122.2 341.6L122.3 341.6M117.2 341.2L117.4 341.2L117.8 341.2L118.6 341.2L119.5 341.2L120.6 341.2L121.7 341.2L122.6 341.2L123.3 341.2L123.8 341.2L124.0 341.2M115.6 340.5L115.9 340.5L116.6 340.5L117.7 340.5L119.1 340.5L120.6 340.5L122.1 340.5L123.5 340.5L124.6 340.5L125.3 340.5L125.6 340.5M114.1 339.6L114.5 339.6L115.4 339.6L116.8 339.6L118.6 339.6L120.6 339.6L122.6 339.6L124.4 339.6L125.8 339.6L126.7 339.6L127.1 339.6M112.8 338.5L113.2 338.5L114.3 338.5L116.0 338.5L118.2 338.5L120.6 338.5L123.0 338.5L125.2 338.5L126.9 338.5L128.0 338.5L128.4 338.5M111.7 337.2L112.1 337.2L113.4 337.2L115.4 337.2L117.8 337.2L120.6 337.2L123.3 337.2L125.8 337.2L127.8 337.2L129.1 337.2L129.5 337.2M110.8 335.7L111.3 335.7L112.7 335.7L114.8 335.7L117.6 335.7L120.6 335.7L123.6 335.7L126.4 335.7L128.5 335.7L129.9 335.7L130.4 335.7M110.1 334.1L110.7 334.1L112.1 334.1L114.5 334.1L117.4 334.1L120.6 334.1L123.8 334.1L126.7 334.1L129.1 334.1L130.5 334.1L131.1 334.1M109.7 332.4L110.3 332.4L111.8 332.4L114.2 332.4L117.2 332.4L120.6 332.4L124.0 332.4L127.0 332.4L129.4 332.4L130.9 332.4L131.5 332.4M109.6 330.7L110.1 330.7L111.7 330.7L114.1 330.7L117.2 330.7L120.6 330.7L124.0 330.7L127.1 330.7L129.5 330.7L131.1 330.7L131.6 330.7M109.7 329.0L110.3 329.0L111.8 329.0L114.2 329.0L117.2 329.0L120.6 329.0L124.0 329.0L127.0 329.0L129.4 329.0L130.9 329.0L131.5 329.0M110.1 327.3L110.7 327.3L112.1 327.3L114.5 327.3L117.4 327.3L120.6 327.3L123.8 327.3L126.7 327.3L129.1 327.3L130.5 327.3L131.1 327.3M110.8 325.7L111.3 325.7L112.7 325.7L114.8 325.7L117.6 325.7L120.6 325.7L123.6 325.7L126.4 325.7L128.5 325.7L129.9 325.7L130.4 325.7M111.7 324.2L112.1 324.2L113.4 324.2L115.4 324.2L117.8 324.2L120.6 324.2L123.3 324.2L125.8 324.2L127.8 324.2L129.1 324.2L129.5 324.2M112.8 322.9L113.2 322.9L114.3 322.9L116.0 322.9L118.2 322.9L120.6 322.9L123.0 322.9L125.2 322.9L126.9 322.9L128.0 322.9L128.4 322.9M114.1 321.8L114.5 321.8L115.4 321.8L116.8 321.8L118.6 321.8L120.6 321.8L122.6 321.8L124.4 321.8L125.8 321.8L126.7 321.8L127.1 321.8M115.6 320.9L115.9 320.9L116.6 320.9L117.7 320.9L119.1 320.9L120.6 320.9L122.1 320.9L123.5 320.9L124.6 320.9L125.3 320.9L125.6 320.9M117.2 320.2L117.4 320.2L117.8 320.2L118.6 320.2L119.5 320.2L120.6 320.2L121.7 320.2L122.6 320.2L123.3 320.2L123.8 320.2L124.0 320.2M118.9 319.8L119.0 319.8L119.2 319.8L119.6 319.8L120.1 319.8L120.6 319.8L121.1 319.8L121.6 319.8L122.0 319.8L122.2 319.8L122.3 319.8" fill="none" stroke="#000" stroke-opacity="0.75" stroke-width="0.25"/><circle cx="120.6" cy="330.7" r="11" fill="none" stroke="#000" stroke-width="0.5"/><path d="M222.5 338.1L220.7 338.0L220.8 338.0ZM222.5 338.1L220.8 338.0L220.7 338.0ZM222.5 338.1L221.1 338.0L220.8 338.0ZM222.5 338.1L221.5 338.0L221.1 338.0ZM222.5 338.1L222.0 338.0L221.5 338.0ZM222.5 338.1L222.5 338.0L222.0 338.0ZM222.5 338.1L223.0 338.0L222.5 338.0ZM222.5 338.1L223.5 338.0L223.0 338.0ZM222.5 338.1L223.9 338.0L223.5 338.0ZM222.5 338.1L224.2 338.0L223.9 338.0ZM222.5 338.1L224.3 338.0L224.2 338.0ZM222.5 338.1L224.2 338.0L224.3 338.0Z" fill="#00ff15" stroke="#00ff15" stroke-width="0.2"/><path d="M220.7 338.0L220.8 338.0L219.2 337.5L219.0 337.5ZM220.8 338.0L221.1 338.0L219.7 337.5L219.2 337.5ZM221.1 338.0L221.5 338.0L220.4 337.5L219.7 337.5ZM221.5 338.0L222.0 338.0L221.4 337.5L220.4 337.5ZM222.0 338.0L222.5 338.0L222.5 337.5L221.4 337.5ZM222.5 338.0L223.0 338.0L223.6 337.5L222.5 337.5ZM223.0 338.0L223.5 338.0L224.6 337.5L223.6 337.5ZM223.5 338.0L223.9 338.0L225.3 337.5L224.6 337.5ZM223.9 338.0L224.2 338.0L225.8 337.5L225.3 337.5ZM224.2 338.0L224.3 338.0L226.0 337.5L225.8 337.5Z" fill="#00ff1b" stroke="#00ff1b" stroke-width="0.2"/><path d="M219.0 337.5L219.2 337.5L217.6 336.9L217.4 336.9ZM219.2 337.5L219.7 337.5L218.3 336.9L217.6 336.9ZM219.7 337.5L220.4 337.5L219.5 336.9L218.3 336.9ZM220.4 337.5L221.4 337.5L220.9 336.9L219.5 336.9ZM221.4 337.5L222.5 337.5L222.5 336.9L220.9 336.9ZM222.5 337.5L223.6 337.5L224.1 336.9L222.5 336.9ZM223.6 337.5L224.6 337.5L225.5 336.9L224.1 336.9ZM224.6 337.5L225.3 337.5L226.7 336.9L225.5 336.9ZM225.3 337.5L225.8 337.5L227.4 336.9L226.7 336.9ZM225.8 337.5L226.0 337.5L227.6 336.9L227.4 336.9Z" fill="#00ff2b" stroke="#00ff2b" stroke-width="0.2"/><path d="M217.4 336.9L217.6 336.9L216.2 335.9L215.9 335.9ZM217.6 336.9L218.3 336.9L217.1 335.9L216.2 335.9ZM218.3 336.9L219.5 336.9L218.6 335.9L217.1 335.9ZM219.5 336.9L220.9 336.9L220.4 335.9L218.6 335.9ZM220.9 336.9L222.5 336.9L222.5 335.9L220.4 335.9ZM222.5 336.9L224.1 336.9L224.6 335.9L222.5 335.9ZM224.1 336.9L225.5 336.9L226.4 335.9L224.6 335.9ZM225.5 336.9L226.7 336.9L227.9 335.9L226.4 335.9ZM226.7 336.9L227.4 336.9L228.8 335.9L227.9 335.9ZM227.4 336.9L227.6 336.9L229.1 335.9L228.8 335.9Z" fill="#00ff45" stroke="#00ff45" stroke-width="0.2"/><path d="M215.9 335.9L216.2 335.9L214.9 334.8L214.5 334.8ZM216.2 335.9L217.1 335.9L216.0 334.8L214.9 334.8ZM217.1 335.9L218.6 335.9L217.8 334.8L216.0 334.8ZM218.6 335.9L220.4 335.9L220.0 334.8L217.8 334.8ZM220.4 335.9L222.5 335.9L222.5 334.8L220.0 334.8ZM222.5 335.9L224.6 335.9L225.0 334.8L222.5 334.8ZM224.6 335.9L226.4 335.9L227.2 334.8L225.0 334.8ZM226.4 335.9L227.9 335.9L229.0 334.8L227.2 334.8ZM227.9 335.9L228.8 335.9L230.1 334.8L229.0 334.8ZM228.8 335.9L229.1 335.9L230.5 334.8L230.1 334.8Z" fill="#00ff69" stroke="#00ff69" stroke-width="0.2"/><path d="M214.5 334.8L214.9 334.8L213.8 333.4L213.4 333.4ZM214.9 334.8L216.0 334.8L215.1 333.4L213.8 333.4ZM216.0 334.8L217.8 334.8L217.1 333.4L215.1 333.4ZM217.8 334.8L220.0 334.8L219.7 333.4L217.1 333.4ZM220.0 334.8L222.5 334.8L222.5 333.4L219.7 333.4ZM222.5 334.8L225.0 334.8L225.3 333.4L222.5 333.4ZM225.0 334.8L227.2 334.8L227.9 333.4L225.3 333.4ZM227.2 334.8L229.0 334.8L229.9 333.4L227.9 333.4ZM229.0 334.8L230.1 334.8L231.2 333.4L229.9 333.4ZM230.1 334.8L230.5 334.8L231.6 333.4L231.2 333.4Z" fill="#00ff96" stroke="#00ff96" stroke-width="0.2"/><path d="M213.4 333.4L213.8 333.4L212.9 331.9L212.4 331.9ZM213.8 333.4L215.1 333.4L214.4 331.9L212.9 331.9ZM215.1 333.4L217.1 333.4L216.6 331.9L214.4 331.9ZM217.1 333.4L219.7 333.4L219.4 331.9L216.6 331.9ZM219.7 333.4L222.5 333.4L222.5 331.9L219.4 331.9ZM222.5 333.4L225.3 333.4L225.6 331.9L222.5 331.9ZM225.3 333.4L227.9 333.4L228.4 331.9L225.6 331.9ZM227.9 333.4L229.9 333.4L230.6 331.9L228.4 331.9ZM229.9 333.4L231.2 333.4L232.1 331.9L230.6 331.9ZM231.2 333.4L231.6 333.4L232.6 331.9L232.1 331.9Z" fill="#00ffcb" stroke="#00ffcb" stroke-width="0.2"/><path d="M212.4 331.9L212.9 331.9L212.3 330.3L211.8 330.3ZM212.9 331.9L214.4 331.9L213.8 330.3L212.3 330.3ZM214.4 331.9L216.6 331.9L216.2 330.3L213.8 330.3ZM216.6 331.9L219.4 331.9L219.2 330.3L216.2 330.3ZM219.4 331.9L222.5 331.9L222.5 330.3L219.2 330.3ZM222.5 331.9L225.6 331.9L225.8 330.3L222.5 330.3ZM225.6 331.9L228.4 331.9L228.8 330.3L225.8 330.3ZM228.4 331.9L230.6 331.9L231.2 330.3L228.8 330.3ZM230.6 331.9L232.1 331.9L232.7 330.3L231.2 330.3ZM232.1 331.9L232.6 331.9L233.2 330.3L232.7 330.3Z" fill="#00f9ff" stroke="#00f9ff" stroke-width="0.2"/><path d="M211.8 330.3L212.3 330.3L211.9 328.6L211.3 328.6ZM212.3 330.3L213.8 330.3L213.5 328.6L211.9 328.6ZM213.8 330.3L216.2 330.3L215.9 328.6L213.5 328.6ZM216.2 330.3L219.2 330.3L219.1 328.6L215.9 328.6ZM219.2 330.3L222.5 330.3L222.5 328.6L219.1 328.6ZM222.5 330.3L225.8 330.3L225.9 328.6L222.5 328.6ZM225.8 330.3L228.8 330.3L229.1 328.6L225.9 328.6ZM228.8 330.3L231.2 330.3L231.5 328.6L229.1 328.6ZM231.2 330.3L232.7 330.3L233.1 328.6L231.5 328.6ZM232.7 330.3L233.2 330.3L233.7 328.6L233.1 328.6Z" fill="#00b9ff" stroke="#00b9ff" stroke-width="0.2"/><path d="M211.3 328.6L211.9 328.6L211.8 326.8L211.2 326.8ZM211.9 328.6L213.5 328.6L213.4 326.8L211.8 326.8ZM213.5 328.6L215.9 328.6L215.9 326.8L213.4 326.8ZM215.9 328.6L219.1 328.6L219.0 326.8L215.9 326.8ZM219.1 328.6L222.5 328.6L222.5 326.8L219.0 326.8ZM222.5 328.6L225.9 328.6L226.0 326.8L222.5 326.8ZM225.9 328.6L229.1 328.6L229.1 326.8L226.0 326.8ZM229.1 328.6L231.5 328.6L231.6 326.8L229.1 326.8ZM231.5 328.6L233.1 328.6L233.2 326.8L231.6 326.8ZM233.1 328.6L233.7 328.6L233.8 326.8L233.2 326.8Z" fill="#0076ff" stroke="#0076ff" stroke-width="0.2"/><path d="M211.2 326.8L211.8 326.8L211.9 325.0L211.3 325.0ZM211.8 326.8L213.4 326.8L213.5 325.0L211.9 325.0ZM213.4 326.8L215.9 326.8L215.9 325.0L213.5 325.0ZM215.9 326.8L219.0 326.8L219.1 325.0L215.9 325.0ZM219.0 326.8L222.5 326.8L222.5 325.0L219.1 325.0ZM222.5 326.8L226.0 326.8L225.9 325.0L222.5 325.0ZM226.0 326.8L229.1 326.8L229.1 325.0L225.9 325.0ZM229.1 326.8L231.6 326.8L231.5 325.0L229.1 325.0ZM231.6 326.8L233.2 326.8L233.1 325.0L231.5 325.0ZM233.2 326.8L233.8 326.8L233.7 325.0L233.1 325.0Z" fill="#0031ff" stroke="#0031ff" stroke-width="0.2"/><path d="M211.3 325.0L211.9 325.0L212.3 323.3L211.8 323.3ZM211.9 325.0L213.5 325.0L213.8 323.3L212.3 323.3ZM213.5 325.0L215.9 325.0L216.2 323.3L213.8 323.3ZM215.9 325.0L219.1 325.0L219.2 323.3L216.2 323.3ZM219.1 325.0L222.5 325.0L222.5 323.3L219.2 323.3ZM222.5 325.0L225.9 325.0L225.8 323.3L222.5 323.3ZM225.9 325.0L229.1 325.0L228.8 323.3L225.8 323.3ZM229.1 325.0L231.5 325.0L231.2 323.3L228.8 323.3ZM231.5 325.0L233.1 325.0L232.7 323.3L231.2 323.3ZM233.1 325.0L233.7 325.0L233.2 323.3L232.7 323.3Z" fill="#1400ff" stroke="#1400ff" stroke-width="0.2"/><path d="M211.8 323.3L212.3 323.3L212.9 321.7L212.4 321.7ZM212.3 323.3L213.8 323.3L214.4 321.7L212.9 321.7ZM213.8 323.3L216.2 323.3L216.6 321.7L214.4 321.7ZM216.2 323.3L219.2 323.3L219.4 321.7L216.6 321.7ZM219.2 323.3L222.5 323.3L222.5 321.7L219.4 321.7ZM222.5 323.3L225.8 323.3L225.6 321.7L222.5 321.7ZM225.8 323.3L228.8 323.3L228.4 321.7L225.6 321.7ZM228.8 323.3L231.2 323.3L230.6 321.7L228.4 321.7ZM231.2 323.3L232.7 323.3L232.1 321.7L230.6 321.7ZM232.7 323.3L233.2 323.3L232.6 321.7L232.1 321.7Z" fill="#5700ff" stroke="#5700ff" stroke-width="0.2"/><path d="M212.4 321.7L212.9 321.7L213.8 320.2L213.4 320.2ZM212.9 321.7L214.4 321.7L215.1 320.2L213.8 320.2ZM214.4 321.7L216.6 321.7L217.1 320.2L215.1 320.2ZM216.6 321.7L219.4 321.7L219.7 320.2L217.1 320.2ZM219.4 321.7L222.5 321.7L222.5 320.2L219.7 320.2ZM222.5 321.7L225.6 321.7L225.3 320.2L222.5 320.2ZM225.6 321.7L228.4 321.7L227.9 320.2L225.3 320.2ZM228.4 321.7L230.6 321.7L229.9 320.2L227.9 320.2ZM230.6 321.7L232.1 321.7L231.2 320.2L229.9 320.2ZM232.1 321.7L232.6 321.7L231.6 320.2L231.2 320.2Z" fill="#9700ff" stroke="#9700ff" stroke-width="0.2"/><path d="M213.4 320.2L213.8 320.2L214.9 318.8L214.5 318.8ZM213.8 320.2L215.1 320.2L216.0 318.8L214.9 318.8ZM215.1 320.2L217.1 320.2L217.8 318.8L216.0 318.8ZM217.1 320.2L219.7 320.2L220.0 318.8L217.8 318.8ZM219.7 320.2L222.5 320.2L222.5 318.8L220.0 318.8ZM222.5 320.2L225.3 320.2L225.0 318.8L222.5 318.8ZM225.3 320.2L227.9 320.2L227.2 318.8L225.0 318.8ZM227.9 320.2L229.9 320.2L229.0 318.8L227.2 318.8ZM229.9 320.2L231.2 320.2L230.1 318.8L229.0 318.8ZM231.2 320.2L231.6 320.2L230.5 318.8L230.1 318.8Z" fill="#d200ff" stroke="#d200ff" stroke-width="0.2"/><path d="M214.5 318.8L214.9 318.8L216.2 317.7L215.9 317.7ZM214.9 318.8L216.0 318.8L217.1 317.7L216.2 317.7ZM216.0 318.8L217.8 318.8L218.6 317.7L217.1 317.7ZM217.8 318.8L220.0 318.8L220.4 317.7L218.6 317.7ZM220.0 318.8L222.5 318.8L222.5 317.7L220.4 317.7ZM222.5 318.8L225.0 318.8L224.6 317.7L222.5 317.7ZM225.0 318.8L227.2 318.8L226.4 317.7L224.6 317.7ZM227.2 318.8L229.0 318.8L227.9 317.7L226.4 317.7ZM229.0 318.8L230.1 318.8L228.8 317.7L227.9 317.7ZM230.1 318.8L230.5 318.8L229.1 317.7L228.8 317.7Z" fill="#ff00f8" stroke="#ff00f8" stroke-width="0.2"/><path d="M215.9 317.7L216.2 317.7L217.6 316.7L217.4 316.7ZM216.2 317.7L217.1 317.7L218.3 316.7L217.6 316.7ZM217.1 317.7L218.6 317.7L219.5 316.7L218.3 316.7ZM218.6 317.7L220.4 317.7L220.9 316.7L219.5 316.7ZM220.4 317.7L222.5 317.7L222.5 316.7L220.9 316.7ZM222.5 317.7L224.6 317.7L224.1 316.7L222.5 316.7ZM224.6 317.7L226.4 317.7L225.5 316.7L224.1 316.7ZM226.4 317.7L227.9 317.7L226.7 316.7L225.5 316.7ZM227.9 317.7L228.8 317.7L227.4 316.7L226.7 316.7ZM228.8 317.7L229.1 317.7L227.6 316.7L227.4 316.7Z" fill="#ff00cb" stroke="#ff00cb" stroke-width="0.2"/><path d="M217.4 316.7L217.6 316.7L219.2 316.1L219.0 316.1ZM217.6 316.7L218.3 316.7L219.7 316.1L219.2 316.1ZM218.3 316.7L219.5 316.7L220.4 316.1L219.7 316.1ZM219.5 316.7L220.9 316.7L221.4 316.1L220.4 316.1ZM220.9 316.7L222.5 316.7L222.5 316.1L221.4 316.1ZM222.5 316.7L224.1 316.7L223.6 316.1L222.5 316.1ZM224.1 316.7L225.5 316.7L224.6 316.1L223.6 316.1ZM225.5 316.7L226.7 316.7L225.3 316.1L224.6 316.1ZM226.7 316.7L227.4 316.7L225.8 316.1L225.3 316.1ZM227.4 316.7L227.6 316.7L226.0 316.1L225.8 316.1Z" fill="#ff00a7" stroke="#ff00a7" stroke-width="0.2"/><path d="M219.0 316.1L219.2 316.1L220.8 315.6L220.7 315.6ZM219.2 316.1L219.7 316.1L221.1 315.6L220.8 315.6ZM219.7 316.1L220.4 316.1L221.5 315.6L221.1 315.6ZM220.4 316.1L221.4 316.1L222.0 315.6L221.5 315.6ZM221.4 316.1L222.5 316.1L222.5 315.6L222.0 315.6ZM222.5 316.1L223.6 316.1L223.0 315.6L222.5 315.6ZM223.6 316.1L224.6 316.1L223.5 315.6L223.0 315.6ZM224.6 316.1L225.3 316.1L223.9 315.6L223.5 315.6ZM225.3 316.1L225.8 316.1L224.2 315.6L223.9 315.6ZM225.8 316.1L226.0 316.1L224.3 315.6L224.2 315.6Z" fill="#ff008d" stroke="#ff008d" stroke-width="0.2"/><path d="M220.8 315.6L220.7 315.6L222.5 315.5ZM220.7 315.6L220.8 315.6L222.5 315.5ZM220.8 315.6L221.1 315.6L222.5 315.5ZM221.1 315.6L221.5 315.6L222.5 315.5ZM221.5 315.6L222.0 315.6L222.5 315.5ZM222.0 315.6L222.5 315.6L222.5 315.5ZM222.5 315.6L223.0 315.6L222.5 315.5ZM223.0 315.6L223.5 315.6L222.5 315.5ZM223.5 315.6L223.9 315.6L222.5 315.5ZM223.9 315.6L224.2 315.6L222.5 315.5ZM224.2 315.6L224.3 315.6L222.5 315.5ZM224.3 315.6L224.2 315.6L222.5 315.5Z" fill="#ff007c" stroke="#ff007c" stroke-width="0.2"/><path d="M222.5 338.1L220.7 338.0L219.0 337.5L217.4 336.9L215.9 335.9L214.5 334.8L213.4 333.4L212.4 331.9L211.8 330.3L211.3 328.6L211.2 326.8L211.3 325.0L211.8 323.3L212.4 321.7L213.4 320.2L214.5 318.8L215.9 317.7L217.4 316.7L219.0 316.1L220.7 315.6L222.5 315.5M222.5 338.1L220.8 338.0L219.2 337.5L217.6 336.9L216.2 335.9L214.9 334.8L213.8 333.4L212.9 331.9L212.3 330.3L211.9 328.6L211.8 326.8L211.9 325.0L212.3 323.3L212.9 321.7L213.8 320.2L214.9 318.8L216.2 317.7L217.6 316.7L219.2 316.1L220.8 315.6L222.5 315.5M222.5 338.1L221.1 338.0L219.7 337.5L218.3 336.9L217.1 335.9L216.0 334.8L215.1 333.4L214.4 331.9L213.8 330.3L213.5 328.6L213.4 326.8L213.5 325.0L213.8 323.3L214.4 321.7L215.1 320.2L216.0 318.8L217.1 317.7L218.3 316.7L219.7 316.1L221.1 315.6L222.5 315.5M222.5 338.1L221.5 338.0L220.4 337.5L219.5 336.9L218.6 335.9L217.8 334.8L217.1 333.4L216.6 331.9L216.2 330.3L215.9 328.6L215.9 326.8L215.9 325.0L216.2 323.3L216.6 321.7L217.1 320.2L217.8 318.8L218.6 317.7L219.5 316.7L220.4 316.1L221.5 315.6L222.5 315.5M222.5 338.1L222.0 338.0L221.4 337.5L220.9 336.9L220.4 335.9L220.0 334.8L219.7 333.4L219.4 331.9L219.2 330.3L219.1 328.6L219.0 326.8L219.1 325.0L219.2 323.3L219.4 321.7L219.7 320.2L220.0 318.8L220.4 317.7L220.9 316.7L221.4 316.1L222.0 315.6L222.5 315.5M222.5 338.1L222.5 338.0L222.5 337.5L222.5 336.9L222.5 335.9L222.5 334.8L222.5 333.4L222.5 331.9L222.5 330.3L222.5 328.6L222.5 326.8L222.5 325.0L222.5 323.3L222.5 321.7L222.5 320.2L222.5 318.8L222.5 317.7L222.5 316.7L222.5 316.1L222.5 315.6L222.5 315.5M222.5 338.1L223.0 338.0L223.6 337.5L224.1 336.9L224.6 335.9L225.0 334.8L225.3 333.4L225.6 331.9L225.8 330.3L225.9 328.6L226.0 326.8L225.9 325.0L225.8 323.3L225.6 321.7L225.3 320.2L225.0 318.8L224.6 317.7L224.1 316.7L223.6 316.1L223.0 315.6L222.5 315.5M222.5 338.1L223.5 338.0L224.6 337.5L225.5 336.9L226.4 335.9L227.2 334.8L227.9 333.4L228.4 331.9L228.8 330.3L229.1 328.6L229.1 326.8L229.1 325.0L228.8 323.3L228.4 321.7L227.9 320.2L227.2 318.8L226.4 317.7L225.5 316.7L224.6 316.1L223.5 315.6L222.5 315.5M222.5 338.1L223.9 338.0L225.3 337.5L226.7 336.9L227.9 335.9L229.0 334.8L229.9 333.4L230.6 331.9L231.2 330.3L231.5 328.6L231.6 326.8L231.5 325.0L231.2 323.3L230.6 321.7L229.9 320.2L229.0 318.8L227.9 317.7L226.7 316.7L225.3 316.1L223.9 315.6L222.5 315.5M222.5 338.1L224.2 338.0L225.8 337.5L227.4 336.9L228.8 335.9L230.1 334.8L231.2 333.4L232.1 331.9L232.7 330.3L233.1 328.6L233.2 326.8L233.1 325.0L232.7 323.3L232.1 321.7L231.2 320.2L230.1 318.8L228.8 317.7L227.4 316.7L225.8 316.1L224.2 315.6L222.5 315.5M222.5 338.1L224.3 338.0L226.0 337.5L227.6 336.9L229.1 335.9L230.5 334.8L231.6 333.4L232.6 331.9L233.2 330.3L233.7 328.6L233.8 326.8L233.7 325.0L233.2 323.3L232.6 321.7L231.6 320.2L230.5 318.8L229.1 317.7L227.6 316.7L226.0 316.1L224.3 315.6L222.5 315.5" fill="none" stroke="#000" stroke-opacity="0.95" stroke-width="0.38"/><path d="M220.7 338.0L220.8 338.0L221.1 338.0L221.5 338.0L222.0 338.0L222.5 338.0L223.0 338.0L223.5 338.0L223.9 338.0L224.2 338.0L224.3 338.0M219.0 337.5L219.2 337.5L219.7 337.5L220.4 337.5L221.4 337.5L222.5 337.5L223.6 337.5L224.6 337.5L225.3 337.5L225.8 337.5L226.0 337.5M217.4 336.9L217.6 336.9L218.3 336.9L219.5 336.9L220.9 336.9L222.5 336.9L224.1 336.9L225.5 336.9L226.7 336.9L227.4 336.9L227.6 336.9M215.9 335.9L216.2 335.9L217.1 335.9L218.6 335.9L220.4 335.9L222.5 335.9L224.6 335.9L226.4 335.9L227.9 335.9L228.8 335.9L229.1 335.9M214.5 334.8L214.9 334.8L216.0 334.8L217.8 334.8L220.0 334.8L222.5 334.8L225.0 334.8L227.2 334.8L229.0 334.8L230.1 334.8L230.5 334.8M213.4 333.4L213.8 333.4L215.1 333.4L217.1 333.4L219.7 333.4L222.5 333.4L225.3 333.4L227.9 333.4L229.9 333.4L231.2 333.4L231.6 333.4M212.4 331.9L212.9 331.9L214.4 331.9L216.6 331.9L219.4 331.9L222.5 331.9L225.6 331.9L228.4 331.9L230.6 331.9L232.1 331.9L232.6 331.9M211.8 330.3L212.3 330.3L213.8 330.3L216.2 330.3L219.2 330.3L222.5 330.3L225.8 330.3L228.8 330.3L231.2 330.3L232.7 330.3L233.2 330.3M211.3 328.6L211.9 328.6L213.5 328.6L215.9 328.6L219.1 328.6L222.5 328.6L225.9 328.6L229.1 328.6L231.5 328.6L233.1 328.6L233.7 328.6M211.2 326.8L211.8 326.8L213.4 326.8L215.9 326.8L219.0 326.8L222.5 326.8L226.0 326.8L229.1 326.8L231.6 326.8L233.2 326.8L233.8 326.8M211.3 325.0L211.9 325.0L213.5 325.0L215.9 325.0L219.1 325.0L222.5 325.0L225.9 325.0L229.1 325.0L231.5 325.0L233.1 325.0L233.7 325.0M211.8 323.3L212.3 323.3L213.8 323.3L216.2 323.3L219.2 323.3L222.5 323.3L225.8 323.3L228.8 323.3L231.2 323.3L232.7 323.3L233.2 323.3M212.4 321.7L212.9 321.7L214.4 321.7L216.6 321.7L219.4 321.7L222.5 321.7L225.6 321.7L228.4 321.7L230.6 321.7L232.1 321.7L232.6 321.7M213.4 320.2L213.8 320.2L215.1 320.2L217.1 320.2L219.7 320.2L222.5 320.2L225.3 320.2L227.9 320.2L229.9 320.2L231.2 320.2L231.6 320.2M214.5 318.8L214.9 318.8L216.0 318.8L217.8 318.8L220.0 318.8L222.5 318.8L225.0 318.8L227.2 318.8L229.0 318.8L230.1 318.8L230.5 318.8M215.9 317.7L216.2 317.7L217.1 317.7L218.6 317.7L220.4 317.7L222.5 317.7L224.6 317.7L226.4 317.7L227.9 317.7L228.8 317.7L229.1 317.7M217.4 316.7L217.6 316.7L218.3 316.7L219.5 316.7L220.9 316.7L222.5 316.7L224.1 316.7L225.5 316.7L226.7 316.7L227.4 316.7L227.6 316.7M219.0 316.1L219.2 316.1L219.7 316.1L220.4 316.1L221.4 316.1L222.5 316.1L223.6 316.1L224.6 316.1L225.3 316.1L225.8 316.1L226.0 316.1M220.7 315.6L220.8 315.6L221.1 315.6L221.5 315.6L222.0 315.6L222.5 315.6L223.0 315.6L223.5 315.6L223.9 315.6L224.2 315.6L224.3 315.6" fill="none" stroke="#000" stroke-opacity="0.75" stroke-width="0.25"/><circle cx="222.5" cy="326.8" r="11.3" fill="none" stroke="#000" stroke-width="0.5"/><path d="M143.4 349.2L142.0 349.0L142.1 349.0ZM143.4 349.2L142.1 349.0L142.0 349.0ZM143.4 349.2L142.3 349.0L142.1 349.0ZM143.4 349.2L142.6 349.0L142.3 349.0ZM143.4 349.2L143.0 349.0L142.6 349.0ZM143.4 349.2L143.4 349.0L143.0 349.0ZM143.4 349.2L143.8 349.0L143.4 349.0ZM143.4 349.2L144.2 349.0L143.8 349.0ZM143.4 349.2L144.5 349.0L144.2 349.0ZM143.4 349.2L144.7 349.0L144.5 349.0ZM143.4 349.2L144.8 349.0L144.7 349.0ZM143.4 349.2L144.7 349.0L144.8 349.0Z" fill="#ff0000" stroke="#ff0000" stroke-width="0.2"/><path d="M142.0 349.0L142.1 349.0L140.8 348.7L140.7 348.7ZM142.1 349.0L142.3 349.0L141.2 348.7L140.8 348.7ZM142.3 349.0L142.6 349.0L141.8 348.7L141.2 348.7ZM142.6 349.0L143.0 349.0L142.6 348.7L141.8 348.7ZM143.0 349.0L143.4 349.0L143.4 348.7L142.6 348.7ZM143.4 349.0L143.8 349.0L144.2 348.7L143.4 348.7ZM143.8 349.0L144.2 349.0L145.0 348.7L144.2 348.7ZM144.2 349.0L144.5 349.0L145.6 348.7L145.0 348.7ZM144.5 349.0L144.7 349.0L146.0 348.7L145.6 348.7ZM144.7 349.0L144.8 349.0L146.1 348.7L146.0 348.7Z" fill="#ff0400" stroke="#ff0400" stroke-width="0.2"/><path d="M140.7 348.7L140.8 348.7L139.6 348.2L139.4 348.2ZM140.8 348.7L141.2 348.7L140.1 348.2L139.6 348.2ZM141.2 348.7L141.8 348.7L141.0 348.2L140.1 348.2ZM141.8 348.7L142.6 348.7L142.2 348.2L141.0 348.2ZM142.6 348.7L143.4 348.7L143.4 348.2L142.2 348.2ZM143.4 348.7L144.2 348.7L144.6 348.2L143.4 348.2ZM144.2 348.7L145.0 348.7L145.8 348.2L144.6 348.2ZM145.0 348.7L145.6 348.7L146.7 348.2L145.8 348.2ZM145.6 348.7L146.0 348.7L147.2 348.2L146.7 348.2ZM146.0 348.7L146.1 348.7L147.4 348.2L147.2 348.2Z" fill="#ff1000" stroke="#ff1000" stroke-width="0.2"/><path d="M139.4 348.2L139.6 348.2L138.5 347.5L138.2 347.5ZM139.6 348.2L140.1 348.2L139.2 347.5L138.5 347.5ZM140.1 348.2L141.0 348.2L140.3 347.5L139.2 347.5ZM141.0 348.2L142.2 348.2L141.8 347.5L140.3 347.5ZM142.2 348.2L143.4 348.2L143.4 347.5L141.8 347.5ZM143.4 348.2L144.6 348.2L145.0 347.5L143.4 347.5ZM144.6 348.2L145.8 348.2L146.5 347.5L145.0 347.5ZM145.8 348.2L146.7 348.2L147.6 347.5L146.5 347.5ZM146.7 348.2L147.2 348.2L148.3 347.5L147.6 347.5ZM147.2 348.2L147.4 348.2L148.6 347.5L148.3 347.5Z" fill="#ff2300" stroke="#ff2300" stroke-width="0.2"/><path d="M138.2 347.5L138.5 347.5L137.4 346.6L137.1 346.6ZM138.5 347.5L139.2 347.5L138.3 346.6L137.4 346.6ZM139.2 347.5L140.3 347.5L139.7 346.6L138.3 346.6ZM140.3 347.5L141.8 347.5L141.5 346.6L139.7 346.6ZM141.8 347.5L143.4 347.5L143.4 346.6L141.5 346.6ZM143.4 347.5L145.0 347.5L145.3 346.6L143.4 346.6ZM145.0 347.5L146.5 347.5L147.1 346.6L145.3 346.6ZM146.5 347.5L147.6 347.5L148.5 346.6L147.1 346.6ZM147.6 347.5L148.3 347.5L149.4 346.6L148.5 346.6ZM148.3 347.5L148.6 347.5L149.7 346.6L149.4 346.6Z" fill="#ff3d00" stroke="#ff3d00" stroke-width="0.2"/><path d="M137.1 346.6L137.4 346.6L136.6 345.5L136.2 345.5ZM137.4 346.6L138.3 346.6L137.6 345.5L136.6 345.5ZM138.3 346.6L139.7 346.6L139.2 345.5L137.6 345.5ZM139.7 346.6L141.5 346.6L141.2 345.5L139.2 345.5ZM141.5 346.6L143.4 346.6L143.4 345.5L141.2 345.5ZM143.4 346.6L145.3 346.6L145.6 345.5L143.4 345.5ZM145.3 346.6L147.1 346.6L147.6 345.5L145.6 345.5ZM147.1 346.6L148.5 346.6L149.2 345.5L147.6 345.5ZM148.5 346.6L149.4 346.6L150.2 345.5L149.2 345.5ZM149.4 346.6L149.7 346.6L150.6 345.5L150.2 345.5Z" fill="#ff5d00" stroke="#ff5d00" stroke-width="0.2"/><path d="M136.2 345.5L136.6 345.5L135.9 344.3L135.5 344.3ZM136.6 345.5L137.6 345.5L137.0 344.3L135.9 344.3ZM137.6 345.5L139.2 345.5L138.8 344.3L137.0 344.3ZM139.2 345.5L141.2 345.5L141.0 344.3L138.8 344.3ZM141.2 345.5L143.4 345.5L143.4 344.3L141.0 344.3ZM143.4 345.5L145.6 345.5L145.8 344.3L143.4 344.3ZM145.6 345.5L147.6 345.5L148.0 344.3L145.8 344.3ZM147.6 345.5L149.2 345.5L149.8 344.3L148.0 344.3ZM149.2 345.5L150.2 345.5L150.9 344.3L149.8 344.3ZM150.2 345.5L150.6 345.5L151.3 344.3L150.9 344.3Z" fill="#ff8300" stroke="#ff8300" stroke-width="0.2"/><path d="M135.5 344.3L135.9 344.3L135.4 343.0L135.0 343.0ZM135.9 344.3L137.0 344.3L136.6 343.0L135.4 343.0ZM137.0 344.3L138.8 344.3L138.5 343.0L136.6 343.0ZM138.8 344.3L141.0 344.3L140.8 343.0L138.5 343.0ZM141.0 344.3L143.4 344.3L143.4 343.0L140.8 343.0ZM143.4 344.3L145.8 344.3L146.0 343.0L143.4 343.0ZM145.8 344.3L148.0 344.3L148.3 343.0L146.0 343.0ZM148.0 344.3L149.8 344.3L150.2 343.0L148.3 343.0ZM149.8 344.3L150.9 344.3L151.4 343.0L150.2 343.0ZM150.9 344.3L151.3 344.3L151.8 343.0L151.4 343.0Z" fill="#ffae00" stroke="#ffae00" stroke-width="0.2"/><path d="M135.0 343.0L135.4 343.0L135.1 341.7L134.7 341.7ZM135.4 343.0L136.6 343.0L136.3 341.7L135.1 341.7ZM136.6 343.0L138.5 343.0L138.3 341.7L136.3 341.7ZM138.5 343.0L140.8 343.0L140.7 341.7L138.3 341.7ZM140.8 343.0L143.4 343.0L143.4 341.7L140.7 341.7ZM143.4 343.0L146.0 343.0L146.1 341.7L143.4 341.7ZM146.0 343.0L148.3 343.0L148.5 341.7L146.1 341.7ZM148.3 343.0L150.2 343.0L150.5 341.7L148.5 341.7ZM150.2 343.0L151.4 343.0L151.7 341.7L150.5 341.7ZM151.4 343.0L151.8 343.0L152.1 341.7L151.7 341.7Z" fill="#ffdc00" stroke="#ffdc00" stroke-width="0.2"/><path d="M134.7 341.7L135.1 341.7L135.0 340.3L134.6 340.3ZM135.1 341.7L136.3 341.7L136.2 340.3L135.0 340.3ZM136.3 341.7L138.3 341.7L138.2 340.3L136.2 340.3ZM138.3 341.7L140.7 341.7L140.7 340.3L138.2 340.3ZM140.7 341.7L143.4 341.7L143.4 340.3L140.7 340.3ZM143.4 341.7L146.1 341.7L146.1 340.3L143.4 340.3ZM146.1 341.7L148.5 341.7L148.6 340.3L146.1 340.3ZM148.5 341.7L150.5 341.7L150.6 340.3L148.6 340.3ZM150.5 341.7L151.7 341.7L151.8 340.3L150.6 340.3ZM151.7 341.7L152.1 341.7L152.2 340.3L151.8 340.3Z" fill="#f1ff00" stroke="#f1ff00" stroke-width="0.2"/><path d="M134.6 340.3L135.0 340.3L135.1 338.9L134.7 338.9ZM135.0 340.3L136.2 340.3L136.3 338.9L135.1 338.9ZM136.2 340.3L138.2 340.3L138.3 338.9L136.3 338.9ZM138.2 340.3L140.7 340.3L140.7 338.9L138.3 338.9ZM140.7 340.3L143.4 340.3L143.4 338.9L140.7 338.9ZM143.4 340.3L146.1 340.3L146.1 338.9L143.4 338.9ZM146.1 340.3L148.6 340.3L148.5 338.9L146.1 338.9ZM148.6 340.3L150.6 340.3L150.5 338.9L148.5 338.9ZM150.6 340.3L151.8 340.3L151.7 338.9L150.5 338.9ZM151.8 340.3L152.2 340.3L152.1 338.9L151.7 338.9Z" fill="#bfff00" stroke="#bfff00" stroke-width="0.2"/><path d="M134.7 338.9L135.1 338.9L135.4 337.6L135.0 337.6ZM135.1 338.9L136.3 338.9L136.6 337.6L135.4 337.6ZM136.3 338.9L138.3 338.9L138.5 337.6L136.6 337.6ZM138.3 338.9L140.7 338.9L140.8 337.6L138.5 337.6ZM140.7 338.9L143.4 338.9L143.4 337.6L140.8 337.6ZM143.4 338.9L146.1 338.9L146.0 337.6L143.4 337.6ZM146.1 338.9L148.5 338.9L148.3 337.6L146.0 337.6ZM148.5 338.9L150.5 338.9L150.2 337.6L148.3 337.6ZM150.5 338.9L151.7 338.9L151.4 337.6L150.2 337.6ZM151.7 338.9L152.1 338.9L151.8 337.6L151.4 337.6Z" fill="#8dff00" stroke="#8dff00" stroke-width="0.2"/><path d="M135.0 337.6L135.4 337.6L135.9 336.3L135.5 336.3ZM135.4 337.6L136.6 337.6L137.0 336.3L135.9 336.3ZM136.6 337.6L138.5 337.6L138.8 336.3L137.0 336.3ZM138.5 337.6L140.8 337.6L141.0 336.3L138.8 336.3ZM140.8 337.6L143.4 337.6L143.4 336.3L141.0 336.3ZM143.4 337.6L146.0 337.6L145.8 336.3L143.4 336.3ZM146.0 337.6L148.3 337.6L148.0 336.3L145.8 336.3ZM148.3 337.6L150.2 337.6L149.8 336.3L148.0 336.3ZM150.2 337.6L151.4 337.6L150.9 336.3L149.8 336.3ZM151.4 337.6L151.8 337.6L151.3 336.3L150.9 336.3Z" fill="#5dff00" stroke="#5dff00" stroke-width="0.2"/><path d="M135.5 336.3L135.9 336.3L136.6 335.1L136.2 335.1ZM135.9 336.3L137.0 336.3L137.6 335.1L136.6 335.1ZM137.0 336.3L138.8 336.3L139.2 335.1L137.6 335.1ZM138.8 336.3L141.0 336.3L141.2 335.1L139.2 335.1ZM141.0 336.3L143.4 336.3L143.4 335.1L141.2 335.1ZM143.4 336.3L145.8 336.3L145.6 335.1L143.4 335.1ZM145.8 336.3L148.0 336.3L147.6 335.1L145.6 335.1ZM148.0 336.3L149.8 336.3L149.2 335.1L147.6 335.1ZM149.8 336.3L150.9 336.3L150.2 335.1L149.2 335.1ZM150.9 336.3L151.3 336.3L150.6 335.1L150.2 335.1Z" fill="#2fff00" stroke="#2fff00" stroke-width="0.2"/><path d="M136.2 335.1L136.6 335.1L137.4 334.0L137.1 334.0ZM136.6 335.1L137.6 335.1L138.3 334.0L137.4 334.0ZM137.6 335.1L139.2 335.1L139.7 334.0L138.3 334.0ZM139.2 335.1L141.2 335.1L141.5 334.0L139.7 334.0ZM141.2 335.1L143.4 335.1L143.4 334.0L141.5 334.0ZM143.4 335.1L145.6 335.1L145.3 334.0L143.4 334.0ZM145.6 335.1L147.6 335.1L147.1 334.0L145.3 334.0ZM147.6 335.1L149.2 335.1L148.5 334.0L147.1 334.0ZM149.2 335.1L150.2 335.1L149.4 334.0L148.5 334.0ZM150.2 335.1L150.6 335.1L149.7 334.0L149.4 334.0Z" fill="#04ff00" stroke="#04ff00" stroke-width="0.2"/><path d="M137.1 334.0L137.4 334.0L138.5 333.1L138.2 333.1ZM137.4 334.0L138.3 334.0L139.2 333.1L138.5 333.1ZM138.3 334.0L139.7 334.0L140.3 333.1L139.2 333.1ZM139.7 334.0L141.5 334.0L141.8 333.1L140.3 333.1ZM141.5 334.0L143.4 334.0L143.4 333.1L141.8 333.1ZM143.4 334.0L145.3 334.0L145.0 333.1L143.4 333.1ZM145.3 334.0L147.1 334.0L146.5 333.1L145.0 333.1ZM147.1 334.0L148.5 334.0L147.6 333.1L146.5 333.1ZM148.5 334.0L149.4 334.0L148.3 333.1L147.6 333.1ZM149.4 334.0L149.7 334.0L148.6 333.1L148.3 333.1Z" fill="#00ff22" stroke="#00ff22" stroke-width="0.2"/><path d="M138.2 333.1L138.5 333.1L139.6 332.4L139.4 332.4ZM138.5 333.1L139.2 333.1L140.1 332.4L139.6 332.4ZM139.2 333.1L140.3 333.1L141.0 332.4L140.1 332.4ZM140.3 333.1L141.8 333.1L142.2 332.4L141.0 332.4ZM141.8 333.1L143.4 333.1L143.4 332.4L142.2 332.4ZM143.4 333.1L145.0 333.1L144.6 332.4L143.4 332.4ZM145.0 333.1L146.5 333.1L145.8 332.4L144.6 332.4ZM146.5 333.1L147.6 333.1L146.7 332.4L145.8 332.4ZM147.6 333.1L148.3 333.1L147.2 332.4L146.7 332.4ZM148.3 333.1L148.6 333.1L147.4 332.4L147.2 332.4Z" fill="#00ff43" stroke="#00ff43" stroke-width="0.2"/><path d="M139.4 332.4L139.6 332.4L140.8 331.9L140.7 331.9ZM139.6 332.4L140.1 332.4L141.2 331.9L140.8 331.9ZM140.1 332.4L141.0 332.4L141.8 331.9L141.2 331.9ZM141.0 332.4L142.2 332.4L142.6 331.9L141.8 331.9ZM142.2 332.4L143.4 332.4L143.4 331.9L142.6 331.9ZM143.4 332.4L144.6 332.4L144.2 331.9L143.4 331.9ZM144.6 332.4L145.8 332.4L145.0 331.9L144.2 331.9ZM145.8 332.4L146.7 332.4L145.6 331.9L145.0 331.9ZM146.7 332.4L147.2 332.4L146.0 331.9L145.6 331.9ZM147.2 332.4L147.4 332.4L146.1 331.9L146.0 331.9Z" fill="#00ff5d" stroke="#00ff5d" stroke-width="0.2"/><path d="M140.7 331.9L140.8 331.9L142.1 331.6L142.0 331.6ZM140.8 331.9L141.2 331.9L142.3 331.6L142.1 331.6ZM141.2 331.9L141.8 331.9L142.6 331.6L142.3 331.6ZM141.8 331.9L142.6 331.9L143.0 331.6L142.6 331.6ZM142.6 331.9L143.4 331.9L143.4 331.6L143.0 331.6ZM143.4 331.9L144.2 331.9L143.8 331.6L143.4 331.6ZM144.2 331.9L145.0 331.9L144.2 331.6L143.8 331.6ZM145.0 331.9L145.6 331.9L144.5 331.6L144.2 331.6ZM145.6 331.9L146.0 331.9L144.7 331.6L144.5 331.6ZM146.0 331.9L146.1 331.9L144.8 331.6L144.7 331.6Z" fill="#00ff70" stroke="#00ff70" stroke-width="0.2"/><path d="M142.1 331.6L142.0 331.6L143.4 331.4ZM142.0 331.6L142.1 331.6L143.4 331.4ZM142.1 331.6L142.3 331.6L143.4 331.4ZM142.3 331.6L142.6 331.6L143.4 331.4ZM142.6 331.6L143.0 331.6L143.4 331.4ZM143.0 331.6L143.4 331.6L143.4 331.4ZM143.4 331.6L143.8 331.6L143.4 331.4ZM143.8 331.6L144.2 331.6L143.4 331.4ZM144.2 331.6L144.5 331.6L143.4 331.4ZM144.5 331.6L144.7 331.6L143.4 331.4ZM144.7 331.6L144.8 331.6L143.4 331.4ZM144.8 331.6L144.7 331.6L143.4 331.4Z" fill="#00ff7c" stroke="#00ff7c" stroke-width="0.2"/><path d="M143.4 349.2L142.0 349.0L140.7 348.7L139.4 348.2L138.2 347.5L137.1 346.6L136.2 345.5L135.5 344.3L135.0 343.0L134.7 341.7L134.6 340.3L134.7 338.9L135.0 337.6L135.5 336.3L136.2 335.1L137.1 334.0L138.2 333.1L139.4 332.4L140.7 331.9L142.0 331.6L143.4 331.4M143.4 349.2L142.1 349.0L140.8 348.7L139.6 348.2L138.5 347.5L137.4 346.6L136.6 345.5L135.9 344.3L135.4 343.0L135.1 341.7L135.0 340.3L135.1 338.9L135.4 337.6L135.9 336.3L136.6 335.1L137.4 334.0L138.5 333.1L139.6 332.4L140.8 331.9L142.1 331.6L143.4 331.4M143.4 349.2L142.3 349.0L141.2 348.7L140.1 348.2L139.2 347.5L138.3 346.6L137.6 345.5L137.0 344.3L136.6 343.0L136.3 341.7L136.2 340.3L136.3 338.9L136.6 337.6L137.0 336.3L137.6 335.1L138.3 334.0L139.2 333.1L140.1 332.4L141.2 331.9L142.3 331.6L143.4 331.4M143.4 349.2L142.6 349.0L141.8 348.7L141.0 348.2L140.3 347.5L139.7 346.6L139.2 345.5L138.8 344.3L138.5 343.0L138.3 341.7L138.2 340.3L138.3 338.9L138.5 337.6L138.8 336.3L139.2 335.1L139.7 334.0L140.3 333.1L141.0 332.4L141.8 331.9L142.6 331.6L143.4 331.4M143.4 349.2L143.0 349.0L142.6 348.7L142.2 348.2L141.8 347.5L141.5 346.6L141.2 345.5L141.0 344.3L140.8 343.0L140.7 341.7L140.7 340.3L140.7 338.9L140.8 337.6L141.0 336.3L141.2 335.1L141.5 334.0L141.8 333.1L142.2 332.4L142.6 331.9L143.0 331.6L143.4 331.4M143.4 349.2L143.4 349.0L143.4 348.7L143.4 348.2L143.4 347.5L143.4 346.6L143.4 345.5L143.4 344.3L143.4 343.0L143.4 341.7L143.4 340.3L143.4 338.9L143.4 337.6L143.4 336.3L143.4 335.1L143.4 334.0L143.4 333.1L143.4 332.4L143.4 331.9L143.4 331.6L143.4 331.4M143.4 349.2L143.8 349.0L144.2 348.7L144.6 348.2L145.0 347.5L145.3 346.6L145.6 345.5L145.8 344.3L146.0 343.0L146.1 341.7L146.1 340.3L146.1 338.9L146.0 337.6L145.8 336.3L145.6 335.1L145.3 334.0L145.0 333.1L144.6 332.4L144.2 331.9L143.8 331.6L143.4 331.4M143.4 349.2L144.2 349.0L145.0 348.7L145.8 348.2L146.5 347.5L147.1 346.6L147.6 345.5L148.0 344.3L148.3 343.0L148.5 341.7L148.6 340.3L148.5 338.9L148.3 337.6L148.0 336.3L147.6 335.1L147.1 334.0L146.5 333.1L145.8 332.4L145.0 331.9L144.2 331.6L143.4 331.4M143.4 349.2L144.5 349.0L145.6 348.7L146.7 348.2L147.6 347.5L148.5 346.6L149.2 345.5L149.8 344.3L150.2 343.0L150.5 341.7L150.6 340.3L150.5 338.9L150.2 337.6L149.8 336.3L149.2 335.1L148.5 334.0L147.6 333.1L146.7 332.4L145.6 331.9L144.5 331.6L143.4 331.4M143.4 349.2L144.7 349.0L146.0 348.7L147.2 348.2L148.3 347.5L149.4 346.6L150.2 345.5L150.9 344.3L151.4 343.0L151.7 341.7L151.8 340.3L151.7 338.9L151.4 337.6L150.9 336.3L150.2 335.1L149.4 334.0L148.3 333.1L147.2 332.4L146.0 331.9L144.7 331.6L143.4 331.4M143.4 349.2L144.8 349.0L146.1 348.7L147.4 348.2L148.6 347.5L149.7 346.6L150.6 345.5L151.3 344.3L151.8 343.0L152.1 341.7L152.2 340.3L152.1 338.9L151.8 337.6L151.3 336.3L150.6 335.1L149.7 334.0L148.6 333.1L147.4 332.4L146.1 331.9L144.8 331.6L143.4 331.4" fill="none" stroke="#000" stroke-opacity="0.95" stroke-width="0.38"/><path d="M142.0 349.0L142.1 349.0L142.3 349.0L142.6 349.0L143.0 349.0L143.4 349.0L143.8 349.0L144.2 349.0L144.5 349.0L144.7 349.0L144.8 349.0M140.7 348.7L140.8 348.7L141.2 348.7L141.8 348.7L142.6 348.7L143.4 348.7L144.2 348.7L145.0 348.7L145.6 348.7L146.0 348.7L146.1 348.7M139.4 348.2L139.6 348.2L140.1 348.2L141.0 348.2L142.2 348.2L143.4 348.2L144.6 348.2L145.8 348.2L146.7 348.2L147.2 348.2L147.4 348.2M138.2 347.5L138.5 347.5L139.2 347.5L140.3 347.5L141.8 347.5L143.4 347.5L145.0 347.5L146.5 347.5L147.6 347.5L148.3 347.5L148.6 347.5M137.1 346.6L137.4 346.6L138.3 346.6L139.7 346.6L141.5 346.6L143.4 346.6L145.3 346.6L147.1 346.6L148.5 346.6L149.4 346.6L149.7 346.6M136.2 345.5L136.6 345.5L137.6 345.5L139.2 345.5L141.2 345.5L143.4 345.5L145.6 345.5L147.6 345.5L149.2 345.5L150.2 345.5L150.6 345.5M135.5 344.3L135.9 344.3L137.0 344.3L138.8 344.3L141.0 344.3L143.4 344.3L145.8 344.3L148.0 344.3L149.8 344.3L150.9 344.3L151.3 344.3M135.0 343.0L135.4 343.0L136.6 343.0L138.5 343.0L140.8 343.0L143.4 343.0L146.0 343.0L148.3 343.0L150.2 343.0L151.4 343.0L151.8 343.0M134.7 341.7L135.1 341.7L136.3 341.7L138.3 341.7L140.7 341.7L143.4 341.7L146.1 341.7L148.5 341.7L150.5 341.7L151.7 341.7L152.1 341.7M134.6 340.3L135.0 340.3L136.2 340.3L138.2 340.3L140.7 340.3L143.4 340.3L146.1 340.3L148.6 340.3L150.6 340.3L151.8 340.3L152.2 340.3M134.7 338.9L135.1 338.9L136.3 338.9L138.3 338.9L140.7 338.9L143.4 338.9L146.1 338.9L148.5 338.9L150.5 338.9L151.7 338.9L152.1 338.9M135.0 337.6L135.4 337.6L136.6 337.6L138.5 337.6L140.8 337.6L143.4 337.6L146.0 337.6L148.3 337.6L150.2 337.6L151.4 337.6L151.8 337.6M135.5 336.3L135.9 336.3L137.0 336.3L138.8 336.3L141.0 336.3L143.4 336.3L145.8 336.3L148.0 336.3L149.8 336.3L150.9 336.3L151.3 336.3M136.2 335.1L136.6 335.1L137.6 335.1L139.2 335.1L141.2 335.1L143.4 335.1L145.6 335.1L147.6 335.1L149.2 335.1L150.2 335.1L150.6 335.1M137.1 334.0L137.4 334.0L138.3 334.0L139.7 334.0L141.5 334.0L143.4 334.0L145.3 334.0L147.1 334.0L148.5 334.0L149.4 334.0L149.7 334.0M138.2 333.1L138.5 333.1L139.2 333.1L140.3 333.1L141.8 333.1L143.4 333.1L145.0 333.1L146.5 333.1L147.6 333.1L148.3 333.1L148.6 333.1M139.4 332.4L139.6 332.4L140.1 332.4L141.0 332.4L142.2 332.4L143.4 332.4L144.6 332.4L145.8 332.4L146.7 332.4L147.2 332.4L147.4 332.4M140.7 331.9L140.8 331.9L141.2 331.9L141.8 331.9L142.6 331.9L143.4 331.9L144.2 331.9L145.0 331.9L145.6 331.9L146.0 331.9L146.1 331.9M142.0 331.6L142.1 331.6L142.3 331.6L142.6 331.6L143.0 331.6L143.4 331.6L143.8 331.6L144.2 331.6L144.5 331.6L144.7 331.6L144.8 331.6" fill="none" stroke="#000" stroke-opacity="0.75" stroke-width="0.25"/><circle cx="143.4" cy="340.3" r="8.85" fill="none" stroke="#000" stroke-width="0.5"/><line x1="25" y1="358.9" x2="256.1" y2="358.9" stroke="#8a8a8a" stroke-width="0.9"/><line x1="30.6" y1="313.3" x2="30.6" y2="364.3" stroke="#6a6a6a" stroke-width="0.9"/><line x1="75.7" y1="358.9" x2="75.7" y2="364.2" stroke="#8a8a8a" stroke-width="0.7"/><line x1="120.8" y1="358.9" x2="120.8" y2="364.2" stroke="#8a8a8a" stroke-width="0.7"/><line x1="165.9" y1="358.9" x2="165.9" y2="364.2" stroke="#8a8a8a" stroke-width="0.7"/><line x1="211" y1="358.9" x2="211" y2="364.2" stroke="#8a8a8a" stroke-width="0.7"/><line x1="256.1" y1="358.9" x2="256.1" y2="364.2" stroke="#8a8a8a" stroke-width="0.7"/><line x1="25" y1="336.1" x2="30.6" y2="336.1" stroke="#8a8a8a" stroke-width="0.7"/><line x1="25" y1="313.3" x2="30.6" y2="313.3" stroke="#8a8a8a" stroke-width="0.7"/><text x="30.6" y="371.5" font-family="Liberation Sans, sans-serif" font-size="6.6" font-weight="normal" text-anchor="middle" dominant-baseline="central" fill="#333333" stroke="#333333" stroke-width="0.18">0</text><text x="75.7" y="371.5" font-family="Liberation Sans, sans-serif" font-size="6.6" font-weight="normal" text-anchor="middle" dominant-baseline="central" fill="#333333" stroke="#333333" stroke-width="0.18">100</text><text x="120.8" y="371.5" font-family="Liberation Sans, sans-serif" font-size="6.6" font-weight="normal" text-anchor="middle" dominant-baseline="central" fill="#333333" stroke="#333333" stroke-width="0.18">200</text><text x="165.9" y="371.5" font-family="Liberation Sans, sans-serif" font-size="6.6" font-weight="normal" text-anchor="middle" dominant-baseline="central" fill="#333333" stroke="#333333" stroke-width="0.18">300</text><text x="211" y="371.5" font-family="Liberation Sans, sans-serif" font-size="6.6" font-weight="normal" text-anchor="middle" dominant-baseline="central" fill="#333333" stroke="#333333" stroke-width="0.18">400</text><text x="256.1" y="371.5" font-family="Liberation Sans, sans-serif" font-size="6.6" font-weight="normal" text-anchor="middle" dominant-baseline="central" fill="#333333" stroke="#333333" stroke-width="0.18">500</text><text x="21.8" y="358.9" font-family="Liberation Sans, sans-serif" font-size="6.6" font-weight="normal" text-anchor="end" dominant-baseline="central" fill="#333333" stroke="#333333" stroke-width="0.18">0</text><text x="21.8" y="336.1" font-family="Liberation Sans, sans-serif" font-size="6.6" font-weight="normal" text-anchor="end" dominant-baseline="central" fill="#333333" stroke="#333333" stroke-width="0.18">50</text><text x="21.8" y="313.3" font-family="Liberation Sans, sans-serif" font-size="6.6" font-weight="normal" text-anchor="end" dominant-baseline="central" fill="#333333" stroke="#333333" stroke-width="0.18">100</text><text x="172.9" y="379.3" font-family="Liberation Sans, sans-serif" font-size="6.6" font-weight="normal" text-anchor="middle" dominant-baseline="central" fill="#333333" stroke="#333333" stroke-width="0.18">y</text><text x="5.2" y="336.3" font-family="Liberation Sans, sans-serif" font-size="6.6" font-weight="normal" text-anchor="middle" dominant-baseline="central" fill="#333333" stroke="#333333" stroke-width="0.18" transform="rotate(-90 5.2 336.3)">z</text><rect x="30.6" y="313.5" width="60.7" height="14.7" fill="#ffffff" stroke="#8a8a8a" stroke-width="0.7"/><line x1="33.3" y1="317.5" x2="53" y2="317.5" stroke="#ff7070" stroke-width="0.6"/><polygon points="43.15,315.5 43.64,316.82 45.05,316.88 43.95,317.76 44.33,319.12 43.15,318.34 41.97,319.12 42.35,317.76 41.25,316.88 42.66,316.82" fill="#f89a70" stroke="#ff3030" stroke-width="0.55" fill-opacity="0.75"/><line x1="33.3" y1="323.8" x2="53" y2="323.8" stroke="#8080ff" stroke-width="0.8"/><text x="55" y="317.5" font-family="Liberation Serif, sans-serif" font-size="5.35" font-weight="bold" text-anchor="start" dominant-baseline="central" fill="#111" stroke="#111" stroke-width="0.18">Planning path</text><text x="55" y="323.8" font-family="Liberation Serif, sans-serif" font-size="5.35" font-weight="bold" text-anchor="start" dominant-baseline="central" fill="#111" stroke="#111" stroke-width="0.18">Following path</text><line x1="361.1" y1="357.3" x2="361.1" y2="312.3" stroke="#efefef" stroke-width="0.6"/><line x1="406.1" y1="357.3" x2="406.1" y2="312.3" stroke="#efefef" stroke-width="0.6"/><line x1="451.1" y1="357.3" x2="451.1" y2="312.3" stroke="#efefef" stroke-width="0.6"/><line x1="496.1" y1="357.3" x2="496.1" y2="312.3" stroke="#efefef" stroke-width="0.6"/><line x1="541.1" y1="357.3" x2="541.1" y2="312.3" stroke="#efefef" stroke-width="0.6"/><line x1="316.1" y1="334.8" x2="541.1" y2="334.8" stroke="#efefef" stroke-width="0.6"/><line x1="316.1" y1="312.3" x2="541.1" y2="312.3" stroke="#efefef" stroke-width="0.6"/><rect x="471.35" y="333" width="24.75" height="24.3" fill="#a0ce3a"/><rect x="381.35" y="338.4" width="24.75" height="18.9" fill="#a0ce3a"/><polyline points="317,354.6 334.1,354.15 366.95,353.7 412.85,354.6 452,351 473.6,348.75 504.2,343.8 533,344.7" fill="none" stroke="#0000ff" stroke-width="0.6" stroke-linejoin="round" stroke-opacity="0.4"/><polyline points="316.55,354.15 333.65,353.7 366.5,353.25 412.4,354.15 451.55,350.55 473.15,348.3 503.75,343.35 532.55,344.25" fill="none" stroke="#ff1010" stroke-width="0.65" stroke-linejoin="round" stroke-opacity="0.62"/><rect x="448.85" y="339.3" width="24.75" height="18" fill="#a0ce3a"/><rect x="381.35" y="338.4" width="24.75" height="18.9" fill="#a0ce3a"/><rect x="340.85" y="335.25" width="20.25" height="22.05" fill="#a0ce3a"/><polygon points="333.65,351.7 334.14,353.02 335.55,353.08 334.45,353.96 334.83,355.32 333.65,354.54 332.47,355.32 332.85,353.96 331.75,353.08 333.16,353.02" fill="#f89a70" stroke="#ff3030" stroke-width="0.55" fill-opacity="0.75"/><polygon points="366.5,351.25 366.99,352.57 368.4,352.63 367.3,353.51 367.68,354.87 366.5,354.09 365.32,354.87 365.7,353.51 364.6,352.63 366.01,352.57" fill="#f89a70" stroke="#ff3030" stroke-width="0.55" fill-opacity="0.75"/><polygon points="412.4,352.15 412.89,353.47 414.3,353.53 413.2,354.41 413.58,355.77 412.4,354.99 411.22,355.77 411.6,354.41 410.5,353.53 411.91,353.47" fill="#f89a70" stroke="#ff3030" stroke-width="0.55" fill-opacity="0.75"/><polygon points="503.75,341.35 504.24,342.67 505.65,342.73 504.55,343.61 504.93,344.97 503.75,344.19 502.57,344.97 502.95,343.61 501.85,342.73 503.26,342.67" fill="#f89a70" stroke="#ff3030" stroke-width="0.55" fill-opacity="0.75"/><rect x="314.19" y="351.65" width="5" height="5" fill="#f2e600" stroke="#8080ff" stroke-width="0.6"/><polygon points="532.55,340.85 533.39,343.09 535.78,343.2 533.91,344.69 534.55,347 532.55,345.68 530.55,347 531.19,344.69 529.32,343.2 531.71,343.09" fill="#f2dc10" stroke="#4a4010" stroke-width="0.5"/><path d="M507.7 336.9L506.0 336.8L505.9 336.8ZM507.7 336.9L506.3 336.8L506.0 336.8ZM507.7 336.9L506.7 336.8L506.3 336.8ZM507.7 336.9L507.2 336.8L506.7 336.8ZM507.7 336.9L507.7 336.8L507.2 336.8ZM507.7 336.9L508.2 336.8L507.7 336.8ZM507.7 336.9L508.7 336.8L508.2 336.8ZM507.7 336.9L509.1 336.8L508.7 336.8ZM507.7 336.9L509.4 336.8L509.1 336.8ZM507.7 336.9L509.5 336.8L509.4 336.8ZM507.7 336.9L509.4 336.8L509.5 336.8ZM507.7 336.9L505.9 336.8L506.0 336.8Z" fill="#00ff15" stroke="#00ff15" stroke-width="0.2"/><path d="M505.9 336.8L506.0 336.8L504.4 336.3L504.2 336.3ZM506.0 336.8L506.3 336.8L504.9 336.3L504.4 336.3ZM506.3 336.8L506.7 336.8L505.6 336.3L504.9 336.3ZM506.7 336.8L507.2 336.8L506.6 336.3L505.6 336.3ZM507.2 336.8L507.7 336.8L507.7 336.3L506.6 336.3ZM507.7 336.8L508.2 336.8L508.8 336.3L507.7 336.3ZM508.2 336.8L508.7 336.8L509.8 336.3L508.8 336.3ZM508.7 336.8L509.1 336.8L510.5 336.3L509.8 336.3ZM509.1 336.8L509.4 336.8L511.0 336.3L510.5 336.3ZM509.4 336.8L509.5 336.8L511.2 336.3L511.0 336.3Z" fill="#00ff1b" stroke="#00ff1b" stroke-width="0.2"/><path d="M504.2 336.3L504.4 336.3L502.8 335.7L502.6 335.7ZM504.4 336.3L504.9 336.3L503.5 335.7L502.8 335.7ZM504.9 336.3L505.6 336.3L504.7 335.7L503.5 335.7ZM505.6 336.3L506.6 336.3L506.1 335.7L504.7 335.7ZM506.6 336.3L507.7 336.3L507.7 335.7L506.1 335.7ZM507.7 336.3L508.8 336.3L509.3 335.7L507.7 335.7ZM508.8 336.3L509.8 336.3L510.7 335.7L509.3 335.7ZM509.8 336.3L510.5 336.3L511.9 335.7L510.7 335.7ZM510.5 336.3L511.0 336.3L512.6 335.7L511.9 335.7ZM511.0 336.3L511.2 336.3L512.8 335.7L512.6 335.7Z" fill="#00ff2b" stroke="#00ff2b" stroke-width="0.2"/><path d="M502.6 335.7L502.8 335.7L501.4 334.7L501.1 334.7ZM502.8 335.7L503.5 335.7L502.3 334.7L501.4 334.7ZM503.5 335.7L504.7 335.7L503.8 334.7L502.3 334.7ZM504.7 335.7L506.1 335.7L505.6 334.7L503.8 334.7ZM506.1 335.7L507.7 335.7L507.7 334.7L505.6 334.7ZM507.7 335.7L509.3 335.7L509.8 334.7L507.7 334.7ZM509.3 335.7L510.7 335.7L511.6 334.7L509.8 334.7ZM510.7 335.7L511.9 335.7L513.1 334.7L511.6 334.7ZM511.9 335.7L512.6 335.7L514.0 334.7L513.1 334.7ZM512.6 335.7L512.8 335.7L514.3 334.7L514.0 334.7Z" fill="#00ff45" stroke="#00ff45" stroke-width="0.2"/><path d="M501.1 334.7L501.4 334.7L500.1 333.6L499.7 333.6ZM501.4 334.7L502.3 334.7L501.2 333.6L500.1 333.6ZM502.3 334.7L503.8 334.7L503.0 333.6L501.2 333.6ZM503.8 334.7L505.6 334.7L505.2 333.6L503.0 333.6ZM505.6 334.7L507.7 334.7L507.7 333.6L505.2 333.6ZM507.7 334.7L509.8 334.7L510.2 333.6L507.7 333.6ZM509.8 334.7L511.6 334.7L512.4 333.6L510.2 333.6ZM511.6 334.7L513.1 334.7L514.2 333.6L512.4 333.6ZM513.1 334.7L514.0 334.7L515.3 333.6L514.2 333.6ZM514.0 334.7L514.3 334.7L515.7 333.6L515.3 333.6Z" fill="#00ff69" stroke="#00ff69" stroke-width="0.2"/><path d="M499.7 333.6L500.1 333.6L499.0 332.2L498.6 332.2ZM500.1 333.6L501.2 333.6L500.3 332.2L499.0 332.2ZM501.2 333.6L503.0 333.6L502.3 332.2L500.3 332.2ZM503.0 333.6L505.2 333.6L504.9 332.2L502.3 332.2ZM505.2 333.6L507.7 333.6L507.7 332.2L504.9 332.2ZM507.7 333.6L510.2 333.6L510.5 332.2L507.7 332.2ZM510.2 333.6L512.4 333.6L513.1 332.2L510.5 332.2ZM512.4 333.6L514.2 333.6L515.1 332.2L513.1 332.2ZM514.2 333.6L515.3 333.6L516.4 332.2L515.1 332.2ZM515.3 333.6L515.7 333.6L516.8 332.2L516.4 332.2Z" fill="#00ff96" stroke="#00ff96" stroke-width="0.2"/><path d="M498.6 332.2L499.0 332.2L498.1 330.7L497.6 330.7ZM499.0 332.2L500.3 332.2L499.6 330.7L498.1 330.7ZM500.3 332.2L502.3 332.2L501.8 330.7L499.6 330.7ZM502.3 332.2L504.9 332.2L504.6 330.7L501.8 330.7ZM504.9 332.2L507.7 332.2L507.7 330.7L504.6 330.7ZM507.7 332.2L510.5 332.2L510.8 330.7L507.7 330.7ZM510.5 332.2L513.1 332.2L513.6 330.7L510.8 330.7ZM513.1 332.2L515.1 332.2L515.8 330.7L513.6 330.7ZM515.1 332.2L516.4 332.2L517.3 330.7L515.8 330.7ZM516.4 332.2L516.8 332.2L517.8 330.7L517.3 330.7Z" fill="#00ffcb" stroke="#00ffcb" stroke-width="0.2"/><path d="M497.6 330.7L498.1 330.7L497.5 329.1L497.0 329.1ZM498.1 330.7L499.6 330.7L499.0 329.1L497.5 329.1ZM499.6 330.7L501.8 330.7L501.4 329.1L499.0 329.1ZM501.8 330.7L504.6 330.7L504.4 329.1L501.4 329.1ZM504.6 330.7L507.7 330.7L507.7 329.1L504.4 329.1ZM507.7 330.7L510.8 330.7L511.0 329.1L507.7 329.1ZM510.8 330.7L513.6 330.7L514.0 329.1L511.0 329.1ZM513.6 330.7L515.8 330.7L516.4 329.1L514.0 329.1ZM515.8 330.7L517.3 330.7L517.9 329.1L516.4 329.1ZM517.3 330.7L517.8 330.7L518.4 329.1L517.9 329.1Z" fill="#00f9ff" stroke="#00f9ff" stroke-width="0.2"/><path d="M497.0 329.1L497.5 329.1L497.1 327.4L496.5 327.4ZM497.5 329.1L499.0 329.1L498.7 327.4L497.1 327.4ZM499.0 329.1L501.4 329.1L501.1 327.4L498.7 327.4ZM501.4 329.1L504.4 329.1L504.3 327.4L501.1 327.4ZM504.4 329.1L507.7 329.1L507.7 327.4L504.3 327.4ZM507.7 329.1L511.0 329.1L511.1 327.4L507.7 327.4ZM511.0 329.1L514.0 329.1L514.3 327.4L511.1 327.4ZM514.0 329.1L516.4 329.1L516.7 327.4L514.3 327.4ZM516.4 329.1L517.9 329.1L518.3 327.4L516.7 327.4ZM517.9 329.1L518.4 329.1L518.9 327.4L518.3 327.4Z" fill="#00b9ff" stroke="#00b9ff" stroke-width="0.2"/><path d="M496.5 327.4L497.1 327.4L497.0 325.6L496.4 325.6ZM497.1 327.4L498.7 327.4L498.6 325.6L497.0 325.6ZM498.7 327.4L501.1 327.4L501.1 325.6L498.6 325.6ZM501.1 327.4L504.3 327.4L504.2 325.6L501.1 325.6ZM504.3 327.4L507.7 327.4L507.7 325.6L504.2 325.6ZM507.7 327.4L511.1 327.4L511.2 325.6L507.7 325.6ZM511.1 327.4L514.3 327.4L514.3 325.6L511.2 325.6ZM514.3 327.4L516.7 327.4L516.8 325.6L514.3 325.6ZM516.7 327.4L518.3 327.4L518.4 325.6L516.8 325.6ZM518.3 327.4L518.9 327.4L519.0 325.6L518.4 325.6Z" fill="#0076ff" stroke="#0076ff" stroke-width="0.2"/><path d="M496.4 325.6L497.0 325.6L497.1 323.8L496.5 323.8ZM497.0 325.6L498.6 325.6L498.7 323.8L497.1 323.8ZM498.6 325.6L501.1 325.6L501.1 323.8L498.7 323.8ZM501.1 325.6L504.2 325.6L504.3 323.8L501.1 323.8ZM504.2 325.6L507.7 325.6L507.7 323.8L504.3 323.8ZM507.7 325.6L511.2 325.6L511.1 323.8L507.7 323.8ZM511.2 325.6L514.3 325.6L514.3 323.8L511.1 323.8ZM514.3 325.6L516.8 325.6L516.7 323.8L514.3 323.8ZM516.8 325.6L518.4 325.6L518.3 323.8L516.7 323.8ZM518.4 325.6L519.0 325.6L518.9 323.8L518.3 323.8Z" fill="#0031ff" stroke="#0031ff" stroke-width="0.2"/><path d="M496.5 323.8L497.1 323.8L497.5 322.1L497.0 322.1ZM497.1 323.8L498.7 323.8L499.0 322.1L497.5 322.1ZM498.7 323.8L501.1 323.8L501.4 322.1L499.0 322.1ZM501.1 323.8L504.3 323.8L504.4 322.1L501.4 322.1ZM504.3 323.8L507.7 323.8L507.7 322.1L504.4 322.1ZM507.7 323.8L511.1 323.8L511.0 322.1L507.7 322.1ZM511.1 323.8L514.3 323.8L514.0 322.1L511.0 322.1ZM514.3 323.8L516.7 323.8L516.4 322.1L514.0 322.1ZM516.7 323.8L518.3 323.8L517.9 322.1L516.4 322.1ZM518.3 323.8L518.9 323.8L518.4 322.1L517.9 322.1Z" fill="#1400ff" stroke="#1400ff" stroke-width="0.2"/><path d="M497.0 322.1L497.5 322.1L498.1 320.5L497.6 320.5ZM497.5 322.1L499.0 322.1L499.6 320.5L498.1 320.5ZM499.0 322.1L501.4 322.1L501.8 320.5L499.6 320.5ZM501.4 322.1L504.4 322.1L504.6 320.5L501.8 320.5ZM504.4 322.1L507.7 322.1L507.7 320.5L504.6 320.5ZM507.7 322.1L511.0 322.1L510.8 320.5L507.7 320.5ZM511.0 322.1L514.0 322.1L513.6 320.5L510.8 320.5ZM514.0 322.1L516.4 322.1L515.8 320.5L513.6 320.5ZM516.4 322.1L517.9 322.1L517.3 320.5L515.8 320.5ZM517.9 322.1L518.4 322.1L517.8 320.5L517.3 320.5Z" fill="#5700ff" stroke="#5700ff" stroke-width="0.2"/><path d="M497.6 320.5L498.1 320.5L499.0 319.0L498.6 319.0ZM498.1 320.5L499.6 320.5L500.3 319.0L499.0 319.0ZM499.6 320.5L501.8 320.5L502.3 319.0L500.3 319.0ZM501.8 320.5L504.6 320.5L504.9 319.0L502.3 319.0ZM504.6 320.5L507.7 320.5L507.7 319.0L504.9 319.0ZM507.7 320.5L510.8 320.5L510.5 319.0L507.7 319.0ZM510.8 320.5L513.6 320.5L513.1 319.0L510.5 319.0ZM513.6 320.5L515.8 320.5L515.1 319.0L513.1 319.0ZM515.8 320.5L517.3 320.5L516.4 319.0L515.1 319.0ZM517.3 320.5L517.8 320.5L516.8 319.0L516.4 319.0Z" fill="#9700ff" stroke="#9700ff" stroke-width="0.2"/><path d="M498.6 319.0L499.0 319.0L500.1 317.6L499.7 317.6ZM499.0 319.0L500.3 319.0L501.2 317.6L500.1 317.6ZM500.3 319.0L502.3 319.0L503.0 317.6L501.2 317.6ZM502.3 319.0L504.9 319.0L505.2 317.6L503.0 317.6ZM504.9 319.0L507.7 319.0L507.7 317.6L505.2 317.6ZM507.7 319.0L510.5 319.0L510.2 317.6L507.7 317.6ZM510.5 319.0L513.1 319.0L512.4 317.6L510.2 317.6ZM513.1 319.0L515.1 319.0L514.2 317.6L512.4 317.6ZM515.1 319.0L516.4 319.0L515.3 317.6L514.2 317.6ZM516.4 319.0L516.8 319.0L515.7 317.6L515.3 317.6Z" fill="#d200ff" stroke="#d200ff" stroke-width="0.2"/><path d="M499.7 317.6L500.1 317.6L501.4 316.5L501.1 316.5ZM500.1 317.6L501.2 317.6L502.3 316.5L501.4 316.5ZM501.2 317.6L503.0 317.6L503.8 316.5L502.3 316.5ZM503.0 317.6L505.2 317.6L505.6 316.5L503.8 316.5ZM505.2 317.6L507.7 317.6L507.7 316.5L505.6 316.5ZM507.7 317.6L510.2 317.6L509.8 316.5L507.7 316.5ZM510.2 317.6L512.4 317.6L511.6 316.5L509.8 316.5ZM512.4 317.6L514.2 317.6L513.1 316.5L511.6 316.5ZM514.2 317.6L515.3 317.6L514.0 316.5L513.1 316.5ZM515.3 317.6L515.7 317.6L514.3 316.5L514.0 316.5Z" fill="#ff00f8" stroke="#ff00f8" stroke-width="0.2"/><path d="M501.1 316.5L501.4 316.5L502.8 315.5L502.6 315.5ZM501.4 316.5L502.3 316.5L503.5 315.5L502.8 315.5ZM502.3 316.5L503.8 316.5L504.7 315.5L503.5 315.5ZM503.8 316.5L505.6 316.5L506.1 315.5L504.7 315.5ZM505.6 316.5L507.7 316.5L507.7 315.5L506.1 315.5ZM507.7 316.5L509.8 316.5L509.3 315.5L507.7 315.5ZM509.8 316.5L511.6 316.5L510.7 315.5L509.3 315.5ZM511.6 316.5L513.1 316.5L511.9 315.5L510.7 315.5ZM513.1 316.5L514.0 316.5L512.6 315.5L511.9 315.5ZM514.0 316.5L514.3 316.5L512.8 315.5L512.6 315.5Z" fill="#ff00cb" stroke="#ff00cb" stroke-width="0.2"/><path d="M502.6 315.5L502.8 315.5L504.4 314.9L504.2 314.9ZM502.8 315.5L503.5 315.5L504.9 314.9L504.4 314.9ZM503.5 315.5L504.7 315.5L505.6 314.9L504.9 314.9ZM504.7 315.5L506.1 315.5L506.6 314.9L505.6 314.9ZM506.1 315.5L507.7 315.5L507.7 314.9L506.6 314.9ZM507.7 315.5L509.3 315.5L508.8 314.9L507.7 314.9ZM509.3 315.5L510.7 315.5L509.8 314.9L508.8 314.9ZM510.7 315.5L511.9 315.5L510.5 314.9L509.8 314.9ZM511.9 315.5L512.6 315.5L511.0 314.9L510.5 314.9ZM512.6 315.5L512.8 315.5L511.2 314.9L511.0 314.9Z" fill="#ff00a7" stroke="#ff00a7" stroke-width="0.2"/><path d="M504.2 314.9L504.4 314.9L506.0 314.4L505.9 314.4ZM504.4 314.9L504.9 314.9L506.3 314.4L506.0 314.4ZM504.9 314.9L505.6 314.9L506.7 314.4L506.3 314.4ZM505.6 314.9L506.6 314.9L507.2 314.4L506.7 314.4ZM506.6 314.9L507.7 314.9L507.7 314.4L507.2 314.4ZM507.7 314.9L508.8 314.9L508.2 314.4L507.7 314.4ZM508.8 314.9L509.8 314.9L508.7 314.4L508.2 314.4ZM509.8 314.9L510.5 314.9L509.1 314.4L508.7 314.4ZM510.5 314.9L511.0 314.9L509.4 314.4L509.1 314.4ZM511.0 314.9L511.2 314.9L509.5 314.4L509.4 314.4Z" fill="#ff008d" stroke="#ff008d" stroke-width="0.2"/><path d="M505.9 314.4L506.0 314.4L507.7 314.3ZM506.0 314.4L506.3 314.4L507.7 314.3ZM506.3 314.4L506.7 314.4L507.7 314.3ZM506.7 314.4L507.2 314.4L507.7 314.3ZM507.2 314.4L507.7 314.4L507.7 314.3ZM507.7 314.4L508.2 314.4L507.7 314.3ZM508.2 314.4L508.7 314.4L507.7 314.3ZM508.7 314.4L509.1 314.4L507.7 314.3ZM509.1 314.4L509.4 314.4L507.7 314.3ZM509.4 314.4L509.5 314.4L507.7 314.3ZM509.5 314.4L509.4 314.4L507.7 314.3ZM506.0 314.4L505.9 314.4L507.7 314.3Z" fill="#ff007c" stroke="#ff007c" stroke-width="0.2"/><path d="M507.7 336.9L505.9 336.8L504.2 336.3L502.6 335.7L501.1 334.7L499.7 333.6L498.6 332.2L497.6 330.7L497.0 329.1L496.5 327.4L496.4 325.6L496.5 323.8L497.0 322.1L497.6 320.5L498.6 319.0L499.7 317.6L501.1 316.5L502.6 315.5L504.2 314.9L505.9 314.4L507.7 314.3M507.7 336.9L506.0 336.8L504.4 336.3L502.8 335.7L501.4 334.7L500.1 333.6L499.0 332.2L498.1 330.7L497.5 329.1L497.1 327.4L497.0 325.6L497.1 323.8L497.5 322.1L498.1 320.5L499.0 319.0L500.1 317.6L501.4 316.5L502.8 315.5L504.4 314.9L506.0 314.4L507.7 314.3M507.7 336.9L506.3 336.8L504.9 336.3L503.5 335.7L502.3 334.7L501.2 333.6L500.3 332.2L499.6 330.7L499.0 329.1L498.7 327.4L498.6 325.6L498.7 323.8L499.0 322.1L499.6 320.5L500.3 319.0L501.2 317.6L502.3 316.5L503.5 315.5L504.9 314.9L506.3 314.4L507.7 314.3M507.7 336.9L506.7 336.8L505.6 336.3L504.7 335.7L503.8 334.7L503.0 333.6L502.3 332.2L501.8 330.7L501.4 329.1L501.1 327.4L501.1 325.6L501.1 323.8L501.4 322.1L501.8 320.5L502.3 319.0L503.0 317.6L503.8 316.5L504.7 315.5L505.6 314.9L506.7 314.4L507.7 314.3M507.7 336.9L507.2 336.8L506.6 336.3L506.1 335.7L505.6 334.7L505.2 333.6L504.9 332.2L504.6 330.7L504.4 329.1L504.3 327.4L504.2 325.6L504.3 323.8L504.4 322.1L504.6 320.5L504.9 319.0L505.2 317.6L505.6 316.5L506.1 315.5L506.6 314.9L507.2 314.4L507.7 314.3M507.7 336.9L507.7 336.8L507.7 336.3L507.7 335.7L507.7 334.7L507.7 333.6L507.7 332.2L507.7 330.7L507.7 329.1L507.7 327.4L507.7 325.6L507.7 323.8L507.7 322.1L507.7 320.5L507.7 319.0L507.7 317.6L507.7 316.5L507.7 315.5L507.7 314.9L507.7 314.4L507.7 314.3M507.7 336.9L508.2 336.8L508.8 336.3L509.3 335.7L509.8 334.7L510.2 333.6L510.5 332.2L510.8 330.7L511.0 329.1L511.1 327.4L511.2 325.6L511.1 323.8L511.0 322.1L510.8 320.5L510.5 319.0L510.2 317.6L509.8 316.5L509.3 315.5L508.8 314.9L508.2 314.4L507.7 314.3M507.7 336.9L508.7 336.8L509.8 336.3L510.7 335.7L511.6 334.7L512.4 333.6L513.1 332.2L513.6 330.7L514.0 329.1L514.3 327.4L514.3 325.6L514.3 323.8L514.0 322.1L513.6 320.5L513.1 319.0L512.4 317.6L511.6 316.5L510.7 315.5L509.8 314.9L508.7 314.4L507.7 314.3M507.7 336.9L509.1 336.8L510.5 336.3L511.9 335.7L513.1 334.7L514.2 333.6L515.1 332.2L515.8 330.7L516.4 329.1L516.7 327.4L516.8 325.6L516.7 323.8L516.4 322.1L515.8 320.5L515.1 319.0L514.2 317.6L513.1 316.5L511.9 315.5L510.5 314.9L509.1 314.4L507.7 314.3M507.7 336.9L509.4 336.8L511.0 336.3L512.6 335.7L514.0 334.7L515.3 333.6L516.4 332.2L517.3 330.7L517.9 329.1L518.3 327.4L518.4 325.6L518.3 323.8L517.9 322.1L517.3 320.5L516.4 319.0L515.3 317.6L514.0 316.5L512.6 315.5L511.0 314.9L509.4 314.4L507.7 314.3M507.7 336.9L509.5 336.8L511.2 336.3L512.8 335.7L514.3 334.7L515.7 333.6L516.8 332.2L517.8 330.7L518.4 329.1L518.9 327.4L519.0 325.6L518.9 323.8L518.4 322.1L517.8 320.5L516.8 319.0L515.7 317.6L514.3 316.5L512.8 315.5L511.2 314.9L509.5 314.4L507.7 314.3" fill="none" stroke="#000" stroke-opacity="0.95" stroke-width="0.38"/><path d="M505.9 336.8L506.0 336.8L506.3 336.8L506.7 336.8L507.2 336.8L507.7 336.8L508.2 336.8L508.7 336.8L509.1 336.8L509.4 336.8L509.5 336.8M504.2 336.3L504.4 336.3L504.9 336.3L505.6 336.3L506.6 336.3L507.7 336.3L508.8 336.3L509.8 336.3L510.5 336.3L511.0 336.3L511.2 336.3M502.6 335.7L502.8 335.7L503.5 335.7L504.7 335.7L506.1 335.7L507.7 335.7L509.3 335.7L510.7 335.7L511.9 335.7L512.6 335.7L512.8 335.7M501.1 334.7L501.4 334.7L502.3 334.7L503.8 334.7L505.6 334.7L507.7 334.7L509.8 334.7L511.6 334.7L513.1 334.7L514.0 334.7L514.3 334.7M499.7 333.6L500.1 333.6L501.2 333.6L503.0 333.6L505.2 333.6L507.7 333.6L510.2 333.6L512.4 333.6L514.2 333.6L515.3 333.6L515.7 333.6M498.6 332.2L499.0 332.2L500.3 332.2L502.3 332.2L504.9 332.2L507.7 332.2L510.5 332.2L513.1 332.2L515.1 332.2L516.4 332.2L516.8 332.2M497.6 330.7L498.1 330.7L499.6 330.7L501.8 330.7L504.6 330.7L507.7 330.7L510.8 330.7L513.6 330.7L515.8 330.7L517.3 330.7L517.8 330.7M497.0 329.1L497.5 329.1L499.0 329.1L501.4 329.1L504.4 329.1L507.7 329.1L511.0 329.1L514.0 329.1L516.4 329.1L517.9 329.1L518.4 329.1M496.5 327.4L497.1 327.4L498.7 327.4L501.1 327.4L504.3 327.4L507.7 327.4L511.1 327.4L514.3 327.4L516.7 327.4L518.3 327.4L518.9 327.4M496.4 325.6L497.0 325.6L498.6 325.6L501.1 325.6L504.2 325.6L507.7 325.6L511.2 325.6L514.3 325.6L516.8 325.6L518.4 325.6L519.0 325.6M496.5 323.8L497.1 323.8L498.7 323.8L501.1 323.8L504.3 323.8L507.7 323.8L511.1 323.8L514.3 323.8L516.7 323.8L518.3 323.8L518.9 323.8M497.0 322.1L497.5 322.1L499.0 322.1L501.4 322.1L504.4 322.1L507.7 322.1L511.0 322.1L514.0 322.1L516.4 322.1L517.9 322.1L518.4 322.1M497.6 320.5L498.1 320.5L499.6 320.5L501.8 320.5L504.6 320.5L507.7 320.5L510.8 320.5L513.6 320.5L515.8 320.5L517.3 320.5L517.8 320.5M498.6 319.0L499.0 319.0L500.3 319.0L502.3 319.0L504.9 319.0L507.7 319.0L510.5 319.0L513.1 319.0L515.1 319.0L516.4 319.0L516.8 319.0M499.7 317.6L500.1 317.6L501.2 317.6L503.0 317.6L505.2 317.6L507.7 317.6L510.2 317.6L512.4 317.6L514.2 317.6L515.3 317.6L515.7 317.6M501.1 316.5L501.4 316.5L502.3 316.5L503.8 316.5L505.6 316.5L507.7 316.5L509.8 316.5L511.6 316.5L513.1 316.5L514.0 316.5L514.3 316.5M502.6 315.5L502.8 315.5L503.5 315.5L504.7 315.5L506.1 315.5L507.7 315.5L509.3 315.5L510.7 315.5L511.9 315.5L512.6 315.5L512.8 315.5M504.2 314.9L504.4 314.9L504.9 314.9L505.6 314.9L506.6 314.9L507.7 314.9L508.8 314.9L509.8 314.9L510.5 314.9L511.0 314.9L511.2 314.9M505.9 314.4L506.0 314.4L506.3 314.4L506.7 314.4L507.2 314.4L507.7 314.4L508.2 314.4L508.7 314.4L509.1 314.4L509.4 314.4L509.5 314.4" fill="none" stroke="#000" stroke-opacity="0.75" stroke-width="0.25"/><circle cx="507.7" cy="325.6" r="11.3" fill="none" stroke="#000" stroke-width="0.5"/><path d="M428.6 339.1L426.6 338.9L426.5 338.9ZM428.6 339.1L426.9 338.9L426.6 338.9ZM428.6 339.1L427.4 338.9L426.9 338.9ZM428.6 339.1L428.0 338.9L427.4 338.9ZM428.6 339.1L428.6 338.9L428.0 338.9ZM428.6 339.1L429.2 338.9L428.6 338.9ZM428.6 339.1L429.8 338.9L429.2 338.9ZM428.6 339.1L430.3 338.9L429.8 338.9ZM428.6 339.1L430.6 338.9L430.3 338.9ZM428.6 339.1L430.7 338.9L430.6 338.9ZM428.6 339.1L430.6 338.9L430.7 338.9ZM428.6 339.1L426.5 338.9L426.6 338.9Z" fill="#00ff15" stroke="#00ff15" stroke-width="0.2"/><path d="M426.5 338.9L426.6 338.9L424.7 338.4L424.5 338.4ZM426.6 338.9L426.9 338.9L425.2 338.4L424.7 338.4ZM426.9 338.9L427.4 338.9L426.2 338.4L425.2 338.4ZM427.4 338.9L428.0 338.9L427.3 338.4L426.2 338.4ZM428.0 338.9L428.6 338.9L428.6 338.4L427.3 338.4ZM428.6 338.9L429.2 338.9L429.9 338.4L428.6 338.4ZM429.2 338.9L429.8 338.9L431.0 338.4L429.9 338.4ZM429.8 338.9L430.3 338.9L432.0 338.4L431.0 338.4ZM430.3 338.9L430.6 338.9L432.5 338.4L432.0 338.4ZM430.6 338.9L430.7 338.9L432.7 338.4L432.5 338.4Z" fill="#00ff1b" stroke="#00ff1b" stroke-width="0.2"/><path d="M424.5 338.4L424.7 338.4L422.8 337.6L422.5 337.6ZM424.7 338.4L425.2 338.4L423.7 337.6L422.8 337.6ZM425.2 338.4L426.2 338.4L425.0 337.6L423.7 337.6ZM426.2 338.4L427.3 338.4L426.7 337.6L425.0 337.6ZM427.3 338.4L428.6 338.4L428.6 337.6L426.7 337.6ZM428.6 338.4L429.9 338.4L430.5 337.6L428.6 337.6ZM429.9 338.4L431.0 338.4L432.2 337.6L430.5 337.6ZM431.0 338.4L432.0 338.4L433.5 337.6L432.2 337.6ZM432.0 338.4L432.5 338.4L434.4 337.6L433.5 337.6ZM432.5 338.4L432.7 338.4L434.7 337.6L434.4 337.6Z" fill="#00ff2b" stroke="#00ff2b" stroke-width="0.2"/><path d="M422.5 337.6L422.8 337.6L421.1 336.5L420.7 336.5ZM422.8 337.6L423.7 337.6L422.2 336.5L421.1 336.5ZM423.7 337.6L425.0 337.6L424.0 336.5L422.2 336.5ZM425.0 337.6L426.7 337.6L426.2 336.5L424.0 336.5ZM426.7 337.6L428.6 337.6L428.6 336.5L426.2 336.5ZM428.6 337.6L430.5 337.6L431.0 336.5L428.6 336.5ZM430.5 337.6L432.2 337.6L433.2 336.5L431.0 336.5ZM432.2 337.6L433.5 337.6L435.0 336.5L433.2 336.5ZM433.5 337.6L434.4 337.6L436.1 336.5L435.0 336.5ZM434.4 337.6L434.7 337.6L436.5 336.5L436.1 336.5Z" fill="#00ff45" stroke="#00ff45" stroke-width="0.2"/><path d="M420.7 336.5L421.1 336.5L419.6 335.2L419.1 335.2ZM421.1 336.5L422.2 336.5L420.9 335.2L419.6 335.2ZM422.2 336.5L424.0 336.5L423.0 335.2L420.9 335.2ZM424.0 336.5L426.2 336.5L425.7 335.2L423.0 335.2ZM426.2 336.5L428.6 336.5L428.6 335.2L425.7 335.2ZM428.6 336.5L431.0 336.5L431.5 335.2L428.6 335.2ZM431.0 336.5L433.2 336.5L434.2 335.2L431.5 335.2ZM433.2 336.5L435.0 336.5L436.3 335.2L434.2 335.2ZM435.0 336.5L436.1 336.5L437.6 335.2L436.3 335.2ZM436.1 336.5L436.5 336.5L438.1 335.2L437.6 335.2Z" fill="#00ff68" stroke="#00ff68" stroke-width="0.2"/><path d="M419.1 335.2L419.6 335.2L418.3 333.6L417.8 333.6ZM419.6 335.2L420.9 335.2L419.8 333.6L418.3 333.6ZM420.9 335.2L423.0 335.2L422.2 333.6L419.8 333.6ZM423.0 335.2L425.7 335.2L425.2 333.6L422.2 333.6ZM425.7 335.2L428.6 335.2L428.6 333.6L425.2 333.6ZM428.6 335.2L431.5 335.2L432.0 333.6L428.6 333.6ZM431.5 335.2L434.2 335.2L435.0 333.6L432.0 333.6ZM434.2 335.2L436.3 335.2L437.4 333.6L435.0 333.6ZM436.3 335.2L437.6 335.2L438.9 333.6L437.4 333.6ZM437.6 335.2L438.1 335.2L439.4 333.6L438.9 333.6Z" fill="#00ff95" stroke="#00ff95" stroke-width="0.2"/><path d="M417.8 333.6L418.3 333.6L417.2 331.8L416.7 331.8ZM418.3 333.6L419.8 333.6L418.9 331.8L417.2 331.8ZM419.8 333.6L422.2 333.6L421.6 331.8L418.9 331.8ZM422.2 333.6L425.2 333.6L424.9 331.8L421.6 331.8ZM425.2 333.6L428.6 333.6L428.6 331.8L424.9 331.8ZM428.6 333.6L432.0 333.6L432.3 331.8L428.6 331.8ZM432.0 333.6L435.0 333.6L435.6 331.8L432.3 331.8ZM435.0 333.6L437.4 333.6L438.3 331.8L435.6 331.8ZM437.4 333.6L438.9 333.6L440.0 331.8L438.3 331.8ZM438.9 333.6L439.4 333.6L440.5 331.8L440.0 331.8Z" fill="#00ffc9" stroke="#00ffc9" stroke-width="0.2"/><path d="M416.7 331.8L417.2 331.8L416.5 329.8L415.9 329.8ZM417.2 331.8L418.9 331.8L418.3 329.8L416.5 329.8ZM418.9 331.8L421.6 331.8L421.1 329.8L418.3 329.8ZM421.6 331.8L424.9 331.8L424.7 329.8L421.1 329.8ZM424.9 331.8L428.6 331.8L428.6 329.8L424.7 329.8ZM428.6 331.8L432.3 331.8L432.5 329.8L428.6 329.8ZM432.3 331.8L435.6 331.8L436.1 329.8L432.5 329.8ZM435.6 331.8L438.3 331.8L438.9 329.8L436.1 329.8ZM438.3 331.8L440.0 331.8L440.7 329.8L438.9 329.8ZM440.0 331.8L440.5 331.8L441.3 329.8L440.7 329.8Z" fill="#00fbff" stroke="#00fbff" stroke-width="0.2"/><path d="M415.9 329.8L416.5 329.8L416.0 327.8L415.4 327.8ZM416.5 329.8L418.3 329.8L417.9 327.8L416.0 327.8ZM418.3 329.8L421.1 329.8L420.8 327.8L417.9 327.8ZM421.1 329.8L424.7 329.8L424.5 327.8L420.8 327.8ZM424.7 329.8L428.6 329.8L428.6 327.8L424.5 327.8ZM428.6 329.8L432.5 329.8L432.7 327.8L428.6 327.8ZM432.5 329.8L436.1 329.8L436.4 327.8L432.7 327.8ZM436.1 329.8L438.9 329.8L439.3 327.8L436.4 327.8ZM438.9 329.8L440.7 329.8L441.2 327.8L439.3 327.8ZM440.7 329.8L441.3 329.8L441.8 327.8L441.2 327.8Z" fill="#00bcff" stroke="#00bcff" stroke-width="0.2"/><path d="M415.4 327.8L416.0 327.8L415.9 325.7L415.2 325.7ZM416.0 327.8L417.9 327.8L417.8 325.7L415.9 325.7ZM417.9 327.8L420.8 327.8L420.7 325.7L417.8 325.7ZM420.8 327.8L424.5 327.8L424.5 325.7L420.7 325.7ZM424.5 327.8L428.6 327.8L428.6 325.7L424.5 325.7ZM428.6 327.8L432.7 327.8L432.7 325.7L428.6 325.7ZM432.7 327.8L436.4 327.8L436.5 325.7L432.7 325.7ZM436.4 327.8L439.3 327.8L439.4 325.7L436.5 325.7ZM439.3 327.8L441.2 327.8L441.3 325.7L439.4 325.7ZM441.2 327.8L441.8 327.8L442.0 325.7L441.3 325.7Z" fill="#0079ff" stroke="#0079ff" stroke-width="0.2"/><path d="M415.2 325.7L415.9 325.7L416.0 323.6L415.4 323.6ZM415.9 325.7L417.8 325.7L417.9 323.6L416.0 323.6ZM417.8 325.7L420.7 325.7L420.8 323.6L417.9 323.6ZM420.7 325.7L424.5 325.7L424.5 323.6L420.8 323.6ZM424.5 325.7L428.6 325.7L428.6 323.6L424.5 323.6ZM428.6 325.7L432.7 325.7L432.7 323.6L428.6 323.6ZM432.7 325.7L436.5 325.7L436.4 323.6L432.7 323.6ZM436.5 325.7L439.4 325.7L439.3 323.6L436.4 323.6ZM439.4 325.7L441.3 325.7L441.2 323.6L439.3 323.6ZM441.3 325.7L442.0 325.7L441.8 323.6L441.2 323.6Z" fill="#0035ff" stroke="#0035ff" stroke-width="0.2"/><path d="M415.4 323.6L416.0 323.6L416.5 321.6L415.9 321.6ZM416.0 323.6L417.9 323.6L418.3 321.6L416.5 321.6ZM417.9 323.6L420.8 323.6L421.1 321.6L418.3 321.6ZM420.8 323.6L424.5 323.6L424.7 321.6L421.1 321.6ZM424.5 323.6L428.6 323.6L428.6 321.6L424.7 321.6ZM428.6 323.6L432.7 323.6L432.5 321.6L428.6 321.6ZM432.7 323.6L436.4 323.6L436.1 321.6L432.5 321.6ZM436.4 323.6L439.3 323.6L438.9 321.6L436.1 321.6ZM439.3 323.6L441.2 323.6L440.7 321.6L438.9 321.6ZM441.2 323.6L441.8 323.6L441.3 321.6L440.7 321.6Z" fill="#0f00ff" stroke="#0f00ff" stroke-width="0.2"/><path d="M415.9 321.6L416.5 321.6L417.2 319.6L416.7 319.6ZM416.5 321.6L418.3 321.6L418.9 319.6L417.2 319.6ZM418.3 321.6L421.1 321.6L421.6 319.6L418.9 319.6ZM421.1 321.6L424.7 321.6L424.9 319.6L421.6 319.6ZM424.7 321.6L428.6 321.6L428.6 319.6L424.9 319.6ZM428.6 321.6L432.5 321.6L432.3 319.6L428.6 319.6ZM432.5 321.6L436.1 321.6L435.6 319.6L432.3 319.6ZM436.1 321.6L438.9 321.6L438.3 319.6L435.6 319.6ZM438.9 321.6L440.7 321.6L440.0 319.6L438.3 319.6ZM440.7 321.6L441.3 321.6L440.5 319.6L440.0 319.6Z" fill="#5100ff" stroke="#5100ff" stroke-width="0.2"/><path d="M416.7 319.6L417.2 319.6L418.3 317.8L417.8 317.8ZM417.2 319.6L418.9 319.6L419.8 317.8L418.3 317.8ZM418.9 319.6L421.6 319.6L422.2 317.8L419.8 317.8ZM421.6 319.6L424.9 319.6L425.2 317.8L422.2 317.8ZM424.9 319.6L428.6 319.6L428.6 317.8L425.2 317.8ZM428.6 319.6L432.3 319.6L432.0 317.8L428.6 317.8ZM432.3 319.6L435.6 319.6L435.0 317.8L432.0 317.8ZM435.6 319.6L438.3 319.6L437.4 317.8L435.0 317.8ZM438.3 319.6L440.0 319.6L438.9 317.8L437.4 317.8ZM440.0 319.6L440.5 319.6L439.4 317.8L438.9 317.8Z" fill="#9100ff" stroke="#9100ff" stroke-width="0.2"/><path d="M417.8 317.8L418.3 317.8L419.6 316.2L419.1 316.2ZM418.3 317.8L419.8 317.8L420.9 316.2L419.6 316.2ZM419.8 317.8L422.2 317.8L423.0 316.2L420.9 316.2ZM422.2 317.8L425.2 317.8L425.7 316.2L423.0 316.2ZM425.2 317.8L428.6 317.8L428.6 316.2L425.7 316.2ZM428.6 317.8L432.0 317.8L431.5 316.2L428.6 316.2ZM432.0 317.8L435.0 317.8L434.2 316.2L431.5 316.2ZM435.0 317.8L437.4 317.8L436.3 316.2L434.2 316.2ZM437.4 317.8L438.9 317.8L437.6 316.2L436.3 316.2ZM438.9 317.8L439.4 317.8L438.1 316.2L437.6 316.2Z" fill="#cb00ff" stroke="#cb00ff" stroke-width="0.2"/><path d="M419.1 316.2L419.6 316.2L421.1 314.9L420.7 314.9ZM419.6 316.2L420.9 316.2L422.2 314.9L421.1 314.9ZM420.9 316.2L423.0 316.2L424.0 314.9L422.2 314.9ZM423.0 316.2L425.7 316.2L426.2 314.9L424.0 314.9ZM425.7 316.2L428.6 316.2L428.6 314.9L426.2 314.9ZM428.6 316.2L431.5 316.2L431.0 314.9L428.6 314.9ZM431.5 316.2L434.2 316.2L433.2 314.9L431.0 314.9ZM434.2 316.2L436.3 316.2L435.0 314.9L433.2 314.9ZM436.3 316.2L437.6 316.2L436.1 314.9L435.0 314.9ZM437.6 316.2L438.1 316.2L436.5 314.9L436.1 314.9Z" fill="#ff00ff" stroke="#ff00ff" stroke-width="0.2"/><path d="M420.7 314.9L421.1 314.9L422.8 313.8L422.5 313.8ZM421.1 314.9L422.2 314.9L423.7 313.8L422.8 313.8ZM422.2 314.9L424.0 314.9L425.0 313.8L423.7 313.8ZM424.0 314.9L426.2 314.9L426.7 313.8L425.0 313.8ZM426.2 314.9L428.6 314.9L428.6 313.8L426.7 313.8ZM428.6 314.9L431.0 314.9L430.5 313.8L428.6 313.8ZM431.0 314.9L433.2 314.9L432.2 313.8L430.5 313.8ZM433.2 314.9L435.0 314.9L433.5 313.8L432.2 313.8ZM435.0 314.9L436.1 314.9L434.4 313.8L433.5 313.8ZM436.1 314.9L436.5 314.9L434.7 313.8L434.4 313.8Z" fill="#ff00d3" stroke="#ff00d3" stroke-width="0.2"/><path d="M422.5 313.8L422.8 313.8L424.7 313.0L424.5 313.0ZM422.8 313.8L423.7 313.8L425.2 313.0L424.7 313.0ZM423.7 313.8L425.0 313.8L426.2 313.0L425.2 313.0ZM425.0 313.8L426.7 313.8L427.3 313.0L426.2 313.0ZM426.7 313.8L428.6 313.8L428.6 313.0L427.3 313.0ZM428.6 313.8L430.5 313.8L429.9 313.0L428.6 313.0ZM430.5 313.8L432.2 313.8L431.0 313.0L429.9 313.0ZM432.2 313.8L433.5 313.8L432.0 313.0L431.0 313.0ZM433.5 313.8L434.4 313.8L432.5 313.0L432.0 313.0ZM434.4 313.8L434.7 313.8L432.7 313.0L432.5 313.0Z" fill="#ff00af" stroke="#ff00af" stroke-width="0.2"/><path d="M424.5 313.0L424.7 313.0L426.6 312.5L426.5 312.5ZM424.7 313.0L425.2 313.0L426.9 312.5L426.6 312.5ZM425.2 313.0L426.2 313.0L427.4 312.5L426.9 312.5ZM426.2 313.0L427.3 313.0L428.0 312.5L427.4 312.5ZM427.3 313.0L428.6 313.0L428.6 312.5L428.0 312.5ZM428.6 313.0L429.9 313.0L429.2 312.5L428.6 312.5ZM429.9 313.0L431.0 313.0L429.8 312.5L429.2 312.5ZM431.0 313.0L432.0 313.0L430.3 312.5L429.8 312.5ZM432.0 313.0L432.5 313.0L430.6 312.5L430.3 312.5ZM432.5 313.0L432.7 313.0L430.7 312.5L430.6 312.5Z" fill="#ff0095" stroke="#ff0095" stroke-width="0.2"/><path d="M426.5 312.5L426.6 312.5L428.6 312.3ZM426.6 312.5L426.9 312.5L428.6 312.3ZM426.9 312.5L427.4 312.5L428.6 312.3ZM427.4 312.5L428.0 312.5L428.6 312.3ZM428.0 312.5L428.6 312.5L428.6 312.3ZM428.6 312.5L429.2 312.5L428.6 312.3ZM429.2 312.5L429.8 312.5L428.6 312.3ZM429.8 312.5L430.3 312.5L428.6 312.3ZM430.3 312.5L430.6 312.5L428.6 312.3ZM430.6 312.5L430.7 312.5L428.6 312.3ZM430.7 312.5L430.6 312.5L428.6 312.3ZM426.6 312.5L426.5 312.5L428.6 312.3Z" fill="#ff0085" stroke="#ff0085" stroke-width="0.2"/><path d="M428.6 339.1L426.5 338.9L424.5 338.4L422.5 337.6L420.7 336.5L419.1 335.2L417.8 333.6L416.7 331.8L415.9 329.8L415.4 327.8L415.2 325.7L415.4 323.6L415.9 321.6L416.7 319.6L417.8 317.8L419.1 316.2L420.7 314.9L422.5 313.8L424.5 313.0L426.5 312.5L428.6 312.3M428.6 339.1L426.6 338.9L424.7 338.4L422.8 337.6L421.1 336.5L419.6 335.2L418.3 333.6L417.2 331.8L416.5 329.8L416.0 327.8L415.9 325.7L416.0 323.6L416.5 321.6L417.2 319.6L418.3 317.8L419.6 316.2L421.1 314.9L422.8 313.8L424.7 313.0L426.6 312.5L428.6 312.3M428.6 339.1L426.9 338.9L425.2 338.4L423.7 337.6L422.2 336.5L420.9 335.2L419.8 333.6L418.9 331.8L418.3 329.8L417.9 327.8L417.8 325.7L417.9 323.6L418.3 321.6L418.9 319.6L419.8 317.8L420.9 316.2L422.2 314.9L423.7 313.8L425.2 313.0L426.9 312.5L428.6 312.3M428.6 339.1L427.4 338.9L426.2 338.4L425.0 337.6L424.0 336.5L423.0 335.2L422.2 333.6L421.6 331.8L421.1 329.8L420.8 327.8L420.7 325.7L420.8 323.6L421.1 321.6L421.6 319.6L422.2 317.8L423.0 316.2L424.0 314.9L425.0 313.8L426.2 313.0L427.4 312.5L428.6 312.3M428.6 339.1L428.0 338.9L427.3 338.4L426.7 337.6L426.2 336.5L425.7 335.2L425.2 333.6L424.9 331.8L424.7 329.8L424.5 327.8L424.5 325.7L424.5 323.6L424.7 321.6L424.9 319.6L425.2 317.8L425.7 316.2L426.2 314.9L426.7 313.8L427.3 313.0L428.0 312.5L428.6 312.3M428.6 339.1L428.6 338.9L428.6 338.4L428.6 337.6L428.6 336.5L428.6 335.2L428.6 333.6L428.6 331.8L428.6 329.8L428.6 327.8L428.6 325.7L428.6 323.6L428.6 321.6L428.6 319.6L428.6 317.8L428.6 316.2L428.6 314.9L428.6 313.8L428.6 313.0L428.6 312.5L428.6 312.3M428.6 339.1L429.2 338.9L429.9 338.4L430.5 337.6L431.0 336.5L431.5 335.2L432.0 333.6L432.3 331.8L432.5 329.8L432.7 327.8L432.7 325.7L432.7 323.6L432.5 321.6L432.3 319.6L432.0 317.8L431.5 316.2L431.0 314.9L430.5 313.8L429.9 313.0L429.2 312.5L428.6 312.3M428.6 339.1L429.8 338.9L431.0 338.4L432.2 337.6L433.2 336.5L434.2 335.2L435.0 333.6L435.6 331.8L436.1 329.8L436.4 327.8L436.5 325.7L436.4 323.6L436.1 321.6L435.6 319.6L435.0 317.8L434.2 316.2L433.2 314.9L432.2 313.8L431.0 313.0L429.8 312.5L428.6 312.3M428.6 339.1L430.3 338.9L432.0 338.4L433.5 337.6L435.0 336.5L436.3 335.2L437.4 333.6L438.3 331.8L438.9 329.8L439.3 327.8L439.4 325.7L439.3 323.6L438.9 321.6L438.3 319.6L437.4 317.8L436.3 316.2L435.0 314.9L433.5 313.8L432.0 313.0L430.3 312.5L428.6 312.3M428.6 339.1L430.6 338.9L432.5 338.4L434.4 337.6L436.1 336.5L437.6 335.2L438.9 333.6L440.0 331.8L440.7 329.8L441.2 327.8L441.3 325.7L441.2 323.6L440.7 321.6L440.0 319.6L438.9 317.8L437.6 316.2L436.1 314.9L434.4 313.8L432.5 313.0L430.6 312.5L428.6 312.3M428.6 339.1L430.7 338.9L432.7 338.4L434.7 337.6L436.5 336.5L438.1 335.2L439.4 333.6L440.5 331.8L441.3 329.8L441.8 327.8L442.0 325.7L441.8 323.6L441.3 321.6L440.5 319.6L439.4 317.8L438.1 316.2L436.5 314.9L434.7 313.8L432.7 313.0L430.7 312.5L428.6 312.3" fill="none" stroke="#000" stroke-opacity="0.95" stroke-width="0.38"/><path d="M426.5 338.9L426.6 338.9L426.9 338.9L427.4 338.9L428.0 338.9L428.6 338.9L429.2 338.9L429.8 338.9L430.3 338.9L430.6 338.9L430.7 338.9M424.5 338.4L424.7 338.4L425.2 338.4L426.2 338.4L427.3 338.4L428.6 338.4L429.9 338.4L431.0 338.4L432.0 338.4L432.5 338.4L432.7 338.4M422.5 337.6L422.8 337.6L423.7 337.6L425.0 337.6L426.7 337.6L428.6 337.6L430.5 337.6L432.2 337.6L433.5 337.6L434.4 337.6L434.7 337.6M420.7 336.5L421.1 336.5L422.2 336.5L424.0 336.5L426.2 336.5L428.6 336.5L431.0 336.5L433.2 336.5L435.0 336.5L436.1 336.5L436.5 336.5M419.1 335.2L419.6 335.2L420.9 335.2L423.0 335.2L425.7 335.2L428.6 335.2L431.5 335.2L434.2 335.2L436.3 335.2L437.6 335.2L438.1 335.2M417.8 333.6L418.3 333.6L419.8 333.6L422.2 333.6L425.2 333.6L428.6 333.6L432.0 333.6L435.0 333.6L437.4 333.6L438.9 333.6L439.4 333.6M416.7 331.8L417.2 331.8L418.9 331.8L421.6 331.8L424.9 331.8L428.6 331.8L432.3 331.8L435.6 331.8L438.3 331.8L440.0 331.8L440.5 331.8M415.9 329.8L416.5 329.8L418.3 329.8L421.1 329.8L424.7 329.8L428.6 329.8L432.5 329.8L436.1 329.8L438.9 329.8L440.7 329.8L441.3 329.8M415.4 327.8L416.0 327.8L417.9 327.8L420.8 327.8L424.5 327.8L428.6 327.8L432.7 327.8L436.4 327.8L439.3 327.8L441.2 327.8L441.8 327.8M415.2 325.7L415.9 325.7L417.8 325.7L420.7 325.7L424.5 325.7L428.6 325.7L432.7 325.7L436.5 325.7L439.4 325.7L441.3 325.7L442.0 325.7M415.4 323.6L416.0 323.6L417.9 323.6L420.8 323.6L424.5 323.6L428.6 323.6L432.7 323.6L436.4 323.6L439.3 323.6L441.2 323.6L441.8 323.6M415.9 321.6L416.5 321.6L418.3 321.6L421.1 321.6L424.7 321.6L428.6 321.6L432.5 321.6L436.1 321.6L438.9 321.6L440.7 321.6L441.3 321.6M416.7 319.6L417.2 319.6L418.9 319.6L421.6 319.6L424.9 319.6L428.6 319.6L432.3 319.6L435.6 319.6L438.3 319.6L440.0 319.6L440.5 319.6M417.8 317.8L418.3 317.8L419.8 317.8L422.2 317.8L425.2 317.8L428.6 317.8L432.0 317.8L435.0 317.8L437.4 317.8L438.9 317.8L439.4 317.8M419.1 316.2L419.6 316.2L420.9 316.2L423.0 316.2L425.7 316.2L428.6 316.2L431.5 316.2L434.2 316.2L436.3 316.2L437.6 316.2L438.1 316.2M420.7 314.9L421.1 314.9L422.2 314.9L424.0 314.9L426.2 314.9L428.6 314.9L431.0 314.9L433.2 314.9L435.0 314.9L436.1 314.9L436.5 314.9M422.5 313.8L422.8 313.8L423.7 313.8L425.0 313.8L426.7 313.8L428.6 313.8L430.5 313.8L432.2 313.8L433.5 313.8L434.4 313.8L434.7 313.8M424.5 313.0L424.7 313.0L425.2 313.0L426.2 313.0L427.3 313.0L428.6 313.0L429.9 313.0L431.0 313.0L432.0 313.0L432.5 313.0L432.7 313.0M426.5 312.5L426.6 312.5L426.9 312.5L427.4 312.5L428.0 312.5L428.6 312.5L429.2 312.5L429.8 312.5L430.3 312.5L430.6 312.5L430.7 312.5" fill="none" stroke="#000" stroke-opacity="0.75" stroke-width="0.25"/><circle cx="428.6" cy="325.7" r="13.4" fill="none" stroke="#000" stroke-width="0.5"/><path d="M518.9 348.3L517.6 348.2L517.5 348.2ZM518.9 348.3L517.8 348.2L517.6 348.2ZM518.9 348.3L518.1 348.2L517.8 348.2ZM518.9 348.3L518.5 348.2L518.1 348.2ZM518.9 348.3L518.9 348.2L518.5 348.2ZM518.9 348.3L519.3 348.2L518.9 348.2ZM518.9 348.3L519.7 348.2L519.3 348.2ZM518.9 348.3L520.0 348.2L519.7 348.2ZM518.9 348.3L520.2 348.2L520.0 348.2ZM518.9 348.3L520.3 348.2L520.2 348.2ZM518.9 348.3L520.2 348.2L520.3 348.2ZM518.9 348.3L517.5 348.2L517.6 348.2Z" fill="#ff0000" stroke="#ff0000" stroke-width="0.2"/><path d="M517.5 348.2L517.6 348.2L516.3 347.9L516.1 347.9ZM517.6 348.2L517.8 348.2L516.7 347.9L516.3 347.9ZM517.8 348.2L518.1 348.2L517.3 347.9L516.7 347.9ZM518.1 348.2L518.5 348.2L518.1 347.9L517.3 347.9ZM518.5 348.2L518.9 348.2L518.9 347.9L518.1 347.9ZM518.9 348.2L519.3 348.2L519.7 347.9L518.9 347.9ZM519.3 348.2L519.7 348.2L520.5 347.9L519.7 347.9ZM519.7 348.2L520.0 348.2L521.1 347.9L520.5 347.9ZM520.0 348.2L520.2 348.2L521.5 347.9L521.1 347.9ZM520.2 348.2L520.3 348.2L521.7 347.9L521.5 347.9Z" fill="#ff0400" stroke="#ff0400" stroke-width="0.2"/><path d="M516.1 347.9L516.3 347.9L515.1 347.3L514.9 347.3ZM516.3 347.9L516.7 347.9L515.6 347.3L515.1 347.3ZM516.7 347.9L517.3 347.9L516.5 347.3L515.6 347.3ZM517.3 347.9L518.1 347.9L517.7 347.3L516.5 347.3ZM518.1 347.9L518.9 347.9L518.9 347.3L517.7 347.3ZM518.9 347.9L519.7 347.9L520.1 347.3L518.9 347.3ZM519.7 347.9L520.5 347.9L521.3 347.3L520.1 347.3ZM520.5 347.9L521.1 347.9L522.2 347.3L521.3 347.3ZM521.1 347.9L521.5 347.9L522.7 347.3L522.2 347.3ZM521.5 347.9L521.7 347.9L522.9 347.3L522.7 347.3Z" fill="#ff1000" stroke="#ff1000" stroke-width="0.2"/><path d="M514.9 347.3L515.1 347.3L513.9 346.6L513.7 346.6ZM515.1 347.3L515.6 347.3L514.7 346.6L513.9 346.6ZM515.6 347.3L516.5 347.3L515.8 346.6L514.7 346.6ZM516.5 347.3L517.7 347.3L517.3 346.6L515.8 346.6ZM517.7 347.3L518.9 347.3L518.9 346.6L517.3 346.6ZM518.9 347.3L520.1 347.3L520.5 346.6L518.9 346.6ZM520.1 347.3L521.3 347.3L522.0 346.6L520.5 346.6ZM521.3 347.3L522.2 347.3L523.1 346.6L522.0 346.6ZM522.2 347.3L522.7 347.3L523.9 346.6L523.1 346.6ZM522.7 347.3L522.9 347.3L524.1 346.6L523.9 346.6Z" fill="#ff2300" stroke="#ff2300" stroke-width="0.2"/><path d="M513.7 346.6L513.9 346.6L512.9 345.7L512.6 345.7ZM513.9 346.6L514.7 346.6L513.8 345.7L512.9 345.7ZM514.7 346.6L515.8 346.6L515.2 345.7L513.8 345.7ZM515.8 346.6L517.3 346.6L517.0 345.7L515.2 345.7ZM517.3 346.6L518.9 346.6L518.9 345.7L517.0 345.7ZM518.9 346.6L520.5 346.6L520.8 345.7L518.9 345.7ZM520.5 346.6L522.0 346.6L522.6 345.7L520.8 345.7ZM522.0 346.6L523.1 346.6L524.0 345.7L522.6 345.7ZM523.1 346.6L523.9 346.6L524.9 345.7L524.0 345.7ZM523.9 346.6L524.1 346.6L525.2 345.7L524.9 345.7Z" fill="#ff3d00" stroke="#ff3d00" stroke-width="0.2"/><path d="M512.6 345.7L512.9 345.7L512.1 344.6L511.7 344.6ZM512.9 345.7L513.8 345.7L513.1 344.6L512.1 344.6ZM513.8 345.7L515.2 345.7L514.7 344.6L513.1 344.6ZM515.2 345.7L517.0 345.7L516.7 344.6L514.7 344.6ZM517.0 345.7L518.9 345.7L518.9 344.6L516.7 344.6ZM518.9 345.7L520.8 345.7L521.1 344.6L518.9 344.6ZM520.8 345.7L522.6 345.7L523.1 344.6L521.1 344.6ZM522.6 345.7L524.0 345.7L524.7 344.6L523.1 344.6ZM524.0 345.7L524.9 345.7L525.7 344.6L524.7 344.6ZM524.9 345.7L525.2 345.7L526.1 344.6L525.7 344.6Z" fill="#ff5d00" stroke="#ff5d00" stroke-width="0.2"/><path d="M511.7 344.6L512.1 344.6L511.4 343.4L511.0 343.4ZM512.1 344.6L513.1 344.6L512.5 343.4L511.4 343.4ZM513.1 344.6L514.7 344.6L514.2 343.4L512.5 343.4ZM514.7 344.6L516.7 344.6L516.4 343.4L514.2 343.4ZM516.7 344.6L518.9 344.6L518.9 343.4L516.4 343.4ZM518.9 344.6L521.1 344.6L521.4 343.4L518.9 343.4ZM521.1 344.6L523.1 344.6L523.6 343.4L521.4 343.4ZM523.1 344.6L524.7 344.6L525.3 343.4L523.6 343.4ZM524.7 344.6L525.7 344.6L526.4 343.4L525.3 343.4ZM525.7 344.6L526.1 344.6L526.8 343.4L526.4 343.4Z" fill="#ff8300" stroke="#ff8300" stroke-width="0.2"/><path d="M511.0 343.4L511.4 343.4L510.8 342.2L510.4 342.2ZM511.4 343.4L512.5 343.4L512.1 342.2L510.8 342.2ZM512.5 343.4L514.2 343.4L513.9 342.2L512.1 342.2ZM514.2 343.4L516.4 343.4L516.3 342.2L513.9 342.2ZM516.4 343.4L518.9 343.4L518.9 342.2L516.3 342.2ZM518.9 343.4L521.4 343.4L521.5 342.2L518.9 342.2ZM521.4 343.4L523.6 343.4L523.9 342.2L521.5 342.2ZM523.6 343.4L525.3 343.4L525.7 342.2L523.9 342.2ZM525.3 343.4L526.4 343.4L527.0 342.2L525.7 342.2ZM526.4 343.4L526.8 343.4L527.4 342.2L527.0 342.2Z" fill="#ffae00" stroke="#ffae00" stroke-width="0.2"/><path d="M510.4 342.2L510.8 342.2L510.5 340.8L510.1 340.8ZM510.8 342.2L512.1 342.2L511.8 340.8L510.5 340.8ZM512.1 342.2L513.9 342.2L513.7 340.8L511.8 340.8ZM513.9 342.2L516.3 342.2L516.2 340.8L513.7 340.8ZM516.3 342.2L518.9 342.2L518.9 340.8L516.2 340.8ZM518.9 342.2L521.5 342.2L521.6 340.8L518.9 340.8ZM521.5 342.2L523.9 342.2L524.1 340.8L521.6 340.8ZM523.9 342.2L525.7 342.2L526.0 340.8L524.1 340.8ZM525.7 342.2L527.0 342.2L527.3 340.8L526.0 340.8ZM527.0 342.2L527.4 342.2L527.7 340.8L527.3 340.8Z" fill="#ffdc00" stroke="#ffdc00" stroke-width="0.2"/><path d="M510.1 340.8L510.5 340.8L510.4 339.4L510.0 339.4ZM510.5 340.8L511.8 340.8L511.7 339.4L510.4 339.4ZM511.8 340.8L513.7 340.8L513.7 339.4L511.7 339.4ZM513.7 340.8L516.2 340.8L516.1 339.4L513.7 339.4ZM516.2 340.8L518.9 340.8L518.9 339.4L516.1 339.4ZM518.9 340.8L521.6 340.8L521.7 339.4L518.9 339.4ZM521.6 340.8L524.1 340.8L524.1 339.4L521.7 339.4ZM524.1 340.8L526.0 340.8L526.1 339.4L524.1 339.4ZM526.0 340.8L527.3 340.8L527.4 339.4L526.1 339.4ZM527.3 340.8L527.7 340.8L527.8 339.4L527.4 339.4Z" fill="#f1ff00" stroke="#f1ff00" stroke-width="0.2"/><path d="M510.0 339.4L510.4 339.4L510.5 338.0L510.1 338.0ZM510.4 339.4L511.7 339.4L511.8 338.0L510.5 338.0ZM511.7 339.4L513.7 339.4L513.7 338.0L511.8 338.0ZM513.7 339.4L516.1 339.4L516.2 338.0L513.7 338.0ZM516.1 339.4L518.9 339.4L518.9 338.0L516.2 338.0ZM518.9 339.4L521.7 339.4L521.6 338.0L518.9 338.0ZM521.7 339.4L524.1 339.4L524.1 338.0L521.6 338.0ZM524.1 339.4L526.1 339.4L526.0 338.0L524.1 338.0ZM526.1 339.4L527.4 339.4L527.3 338.0L526.0 338.0ZM527.4 339.4L527.8 339.4L527.7 338.0L527.3 338.0Z" fill="#bfff00" stroke="#bfff00" stroke-width="0.2"/><path d="M510.1 338.0L510.5 338.0L510.8 336.6L510.4 336.6ZM510.5 338.0L511.8 338.0L512.1 336.6L510.8 336.6ZM511.8 338.0L513.7 338.0L513.9 336.6L512.1 336.6ZM513.7 338.0L516.2 338.0L516.3 336.6L513.9 336.6ZM516.2 338.0L518.9 338.0L518.9 336.6L516.3 336.6ZM518.9 338.0L521.6 338.0L521.5 336.6L518.9 336.6ZM521.6 338.0L524.1 338.0L523.9 336.6L521.5 336.6ZM524.1 338.0L526.0 338.0L525.7 336.6L523.9 336.6ZM526.0 338.0L527.3 338.0L527.0 336.6L525.7 336.6ZM527.3 338.0L527.7 338.0L527.4 336.6L527.0 336.6Z" fill="#8dff00" stroke="#8dff00" stroke-width="0.2"/><path d="M510.4 336.6L510.8 336.6L511.4 335.4L511.0 335.4ZM510.8 336.6L512.1 336.6L512.5 335.4L511.4 335.4ZM512.1 336.6L513.9 336.6L514.2 335.4L512.5 335.4ZM513.9 336.6L516.3 336.6L516.4 335.4L514.2 335.4ZM516.3 336.6L518.9 336.6L518.9 335.4L516.4 335.4ZM518.9 336.6L521.5 336.6L521.4 335.4L518.9 335.4ZM521.5 336.6L523.9 336.6L523.6 335.4L521.4 335.4ZM523.9 336.6L525.7 336.6L525.3 335.4L523.6 335.4ZM525.7 336.6L527.0 336.6L526.4 335.4L525.3 335.4ZM527.0 336.6L527.4 336.6L526.8 335.4L526.4 335.4Z" fill="#5dff00" stroke="#5dff00" stroke-width="0.2"/><path d="M511.0 335.4L511.4 335.4L512.1 334.2L511.7 334.2ZM511.4 335.4L512.5 335.4L513.1 334.2L512.1 334.2ZM512.5 335.4L514.2 335.4L514.7 334.2L513.1 334.2ZM514.2 335.4L516.4 335.4L516.7 334.2L514.7 334.2ZM516.4 335.4L518.9 335.4L518.9 334.2L516.7 334.2ZM518.9 335.4L521.4 335.4L521.1 334.2L518.9 334.2ZM521.4 335.4L523.6 335.4L523.1 334.2L521.1 334.2ZM523.6 335.4L525.3 335.4L524.7 334.2L523.1 334.2ZM525.3 335.4L526.4 335.4L525.7 334.2L524.7 334.2ZM526.4 335.4L526.8 335.4L526.1 334.2L525.7 334.2Z" fill="#2fff00" stroke="#2fff00" stroke-width="0.2"/><path d="M511.7 334.2L512.1 334.2L512.9 333.1L512.6 333.1ZM512.1 334.2L513.1 334.2L513.8 333.1L512.9 333.1ZM513.1 334.2L514.7 334.2L515.2 333.1L513.8 333.1ZM514.7 334.2L516.7 334.2L517.0 333.1L515.2 333.1ZM516.7 334.2L518.9 334.2L518.9 333.1L517.0 333.1ZM518.9 334.2L521.1 334.2L520.8 333.1L518.9 333.1ZM521.1 334.2L523.1 334.2L522.6 333.1L520.8 333.1ZM523.1 334.2L524.7 334.2L524.0 333.1L522.6 333.1ZM524.7 334.2L525.7 334.2L524.9 333.1L524.0 333.1ZM525.7 334.2L526.1 334.2L525.2 333.1L524.9 333.1Z" fill="#04ff00" stroke="#04ff00" stroke-width="0.2"/><path d="M512.6 333.1L512.9 333.1L513.9 332.2L513.7 332.2ZM512.9 333.1L513.8 333.1L514.7 332.2L513.9 332.2ZM513.8 333.1L515.2 333.1L515.8 332.2L514.7 332.2ZM515.2 333.1L517.0 333.1L517.3 332.2L515.8 332.2ZM517.0 333.1L518.9 333.1L518.9 332.2L517.3 332.2ZM518.9 333.1L520.8 333.1L520.5 332.2L518.9 332.2ZM520.8 333.1L522.6 333.1L522.0 332.2L520.5 332.2ZM522.6 333.1L524.0 333.1L523.1 332.2L522.0 332.2ZM524.0 333.1L524.9 333.1L523.9 332.2L523.1 332.2ZM524.9 333.1L525.2 333.1L524.1 332.2L523.9 332.2Z" fill="#00ff22" stroke="#00ff22" stroke-width="0.2"/><path d="M513.7 332.2L513.9 332.2L515.1 331.5L514.9 331.5ZM513.9 332.2L514.7 332.2L515.6 331.5L515.1 331.5ZM514.7 332.2L515.8 332.2L516.5 331.5L515.6 331.5ZM515.8 332.2L517.3 332.2L517.7 331.5L516.5 331.5ZM517.3 332.2L518.9 332.2L518.9 331.5L517.7 331.5ZM518.9 332.2L520.5 332.2L520.1 331.5L518.9 331.5ZM520.5 332.2L522.0 332.2L521.3 331.5L520.1 331.5ZM522.0 332.2L523.1 332.2L522.2 331.5L521.3 331.5ZM523.1 332.2L523.9 332.2L522.7 331.5L522.2 331.5ZM523.9 332.2L524.1 332.2L522.9 331.5L522.7 331.5Z" fill="#00ff43" stroke="#00ff43" stroke-width="0.2"/><path d="M514.9 331.5L515.1 331.5L516.3 330.9L516.1 330.9ZM515.1 331.5L515.6 331.5L516.7 330.9L516.3 330.9ZM515.6 331.5L516.5 331.5L517.3 330.9L516.7 330.9ZM516.5 331.5L517.7 331.5L518.1 330.9L517.3 330.9ZM517.7 331.5L518.9 331.5L518.9 330.9L518.1 330.9ZM518.9 331.5L520.1 331.5L519.7 330.9L518.9 330.9ZM520.1 331.5L521.3 331.5L520.5 330.9L519.7 330.9ZM521.3 331.5L522.2 331.5L521.1 330.9L520.5 330.9ZM522.2 331.5L522.7 331.5L521.5 330.9L521.1 330.9ZM522.7 331.5L522.9 331.5L521.7 330.9L521.5 330.9Z" fill="#00ff5d" stroke="#00ff5d" stroke-width="0.2"/><path d="M516.1 330.9L516.3 330.9L517.6 330.6L517.5 330.6ZM516.3 330.9L516.7 330.9L517.8 330.6L517.6 330.6ZM516.7 330.9L517.3 330.9L518.1 330.6L517.8 330.6ZM517.3 330.9L518.1 330.9L518.5 330.6L518.1 330.6ZM518.1 330.9L518.9 330.9L518.9 330.6L518.5 330.6ZM518.9 330.9L519.7 330.9L519.3 330.6L518.9 330.6ZM519.7 330.9L520.5 330.9L519.7 330.6L519.3 330.6ZM520.5 330.9L521.1 330.9L520.0 330.6L519.7 330.6ZM521.1 330.9L521.5 330.9L520.2 330.6L520.0 330.6ZM521.5 330.9L521.7 330.9L520.3 330.6L520.2 330.6Z" fill="#00ff70" stroke="#00ff70" stroke-width="0.2"/><path d="M517.5 330.6L517.6 330.6L518.9 330.5ZM517.6 330.6L517.8 330.6L518.9 330.5ZM517.8 330.6L518.1 330.6L518.9 330.5ZM518.1 330.6L518.5 330.6L518.9 330.5ZM518.5 330.6L518.9 330.6L518.9 330.5ZM518.9 330.6L519.3 330.6L518.9 330.5ZM519.3 330.6L519.7 330.6L518.9 330.5ZM519.7 330.6L520.0 330.6L518.9 330.5ZM520.0 330.6L520.2 330.6L518.9 330.5ZM520.2 330.6L520.3 330.6L518.9 330.5ZM520.3 330.6L520.2 330.6L518.9 330.5ZM517.6 330.6L517.5 330.6L518.9 330.5Z" fill="#00ff7c" stroke="#00ff7c" stroke-width="0.2"/><path d="M518.9 348.3L517.5 348.2L516.1 347.9L514.9 347.3L513.7 346.6L512.6 345.7L511.7 344.6L511.0 343.4L510.4 342.2L510.1 340.8L510.0 339.4L510.1 338.0L510.4 336.6L511.0 335.4L511.7 334.2L512.6 333.1L513.7 332.2L514.9 331.5L516.1 330.9L517.5 330.6L518.9 330.5M518.9 348.3L517.6 348.2L516.3 347.9L515.1 347.3L513.9 346.6L512.9 345.7L512.1 344.6L511.4 343.4L510.8 342.2L510.5 340.8L510.4 339.4L510.5 338.0L510.8 336.6L511.4 335.4L512.1 334.2L512.9 333.1L513.9 332.2L515.1 331.5L516.3 330.9L517.6 330.6L518.9 330.5M518.9 348.3L517.8 348.2L516.7 347.9L515.6 347.3L514.7 346.6L513.8 345.7L513.1 344.6L512.5 343.4L512.1 342.2L511.8 340.8L511.7 339.4L511.8 338.0L512.1 336.6L512.5 335.4L513.1 334.2L513.8 333.1L514.7 332.2L515.6 331.5L516.7 330.9L517.8 330.6L518.9 330.5M518.9 348.3L518.1 348.2L517.3 347.9L516.5 347.3L515.8 346.6L515.2 345.7L514.7 344.6L514.2 343.4L513.9 342.2L513.7 340.8L513.7 339.4L513.7 338.0L513.9 336.6L514.2 335.4L514.7 334.2L515.2 333.1L515.8 332.2L516.5 331.5L517.3 330.9L518.1 330.6L518.9 330.5M518.9 348.3L518.5 348.2L518.1 347.9L517.7 347.3L517.3 346.6L517.0 345.7L516.7 344.6L516.4 343.4L516.3 342.2L516.2 340.8L516.1 339.4L516.2 338.0L516.3 336.6L516.4 335.4L516.7 334.2L517.0 333.1L517.3 332.2L517.7 331.5L518.1 330.9L518.5 330.6L518.9 330.5M518.9 348.3L518.9 348.2L518.9 347.9L518.9 347.3L518.9 346.6L518.9 345.7L518.9 344.6L518.9 343.4L518.9 342.2L518.9 340.8L518.9 339.4L518.9 338.0L518.9 336.6L518.9 335.4L518.9 334.2L518.9 333.1L518.9 332.2L518.9 331.5L518.9 330.9L518.9 330.6L518.9 330.5M518.9 348.3L519.3 348.2L519.7 347.9L520.1 347.3L520.5 346.6L520.8 345.7L521.1 344.6L521.4 343.4L521.5 342.2L521.6 340.8L521.7 339.4L521.6 338.0L521.5 336.6L521.4 335.4L521.1 334.2L520.8 333.1L520.5 332.2L520.1 331.5L519.7 330.9L519.3 330.6L518.9 330.5M518.9 348.3L519.7 348.2L520.5 347.9L521.3 347.3L522.0 346.6L522.6 345.7L523.1 344.6L523.6 343.4L523.9 342.2L524.1 340.8L524.1 339.4L524.1 338.0L523.9 336.6L523.6 335.4L523.1 334.2L522.6 333.1L522.0 332.2L521.3 331.5L520.5 330.9L519.7 330.6L518.9 330.5M518.9 348.3L520.0 348.2L521.1 347.9L522.2 347.3L523.1 346.6L524.0 345.7L524.7 344.6L525.3 343.4L525.7 342.2L526.0 340.8L526.1 339.4L526.0 338.0L525.7 336.6L525.3 335.4L524.7 334.2L524.0 333.1L523.1 332.2L522.2 331.5L521.1 330.9L520.0 330.6L518.9 330.5M518.9 348.3L520.2 348.2L521.5 347.9L522.7 347.3L523.9 346.6L524.9 345.7L525.7 344.6L526.4 343.4L527.0 342.2L527.3 340.8L527.4 339.4L527.3 338.0L527.0 336.6L526.4 335.4L525.7 334.2L524.9 333.1L523.9 332.2L522.7 331.5L521.5 330.9L520.2 330.6L518.9 330.5M518.9 348.3L520.3 348.2L521.7 347.9L522.9 347.3L524.1 346.6L525.2 345.7L526.1 344.6L526.8 343.4L527.4 342.2L527.7 340.8L527.8 339.4L527.7 338.0L527.4 336.6L526.8 335.4L526.1 334.2L525.2 333.1L524.1 332.2L522.9 331.5L521.7 330.9L520.3 330.6L518.9 330.5" fill="none" stroke="#000" stroke-opacity="0.95" stroke-width="0.38"/><path d="M517.5 348.2L517.6 348.2L517.8 348.2L518.1 348.2L518.5 348.2L518.9 348.2L519.3 348.2L519.7 348.2L520.0 348.2L520.2 348.2L520.3 348.2M516.1 347.9L516.3 347.9L516.7 347.9L517.3 347.9L518.1 347.9L518.9 347.9L519.7 347.9L520.5 347.9L521.1 347.9L521.5 347.9L521.7 347.9M514.9 347.3L515.1 347.3L515.6 347.3L516.5 347.3L517.7 347.3L518.9 347.3L520.1 347.3L521.3 347.3L522.2 347.3L522.7 347.3L522.9 347.3M513.7 346.6L513.9 346.6L514.7 346.6L515.8 346.6L517.3 346.6L518.9 346.6L520.5 346.6L522.0 346.6L523.1 346.6L523.9 346.6L524.1 346.6M512.6 345.7L512.9 345.7L513.8 345.7L515.2 345.7L517.0 345.7L518.9 345.7L520.8 345.7L522.6 345.7L524.0 345.7L524.9 345.7L525.2 345.7M511.7 344.6L512.1 344.6L513.1 344.6L514.7 344.6L516.7 344.6L518.9 344.6L521.1 344.6L523.1 344.6L524.7 344.6L525.7 344.6L526.1 344.6M511.0 343.4L511.4 343.4L512.5 343.4L514.2 343.4L516.4 343.4L518.9 343.4L521.4 343.4L523.6 343.4L525.3 343.4L526.4 343.4L526.8 343.4M510.4 342.2L510.8 342.2L512.1 342.2L513.9 342.2L516.3 342.2L518.9 342.2L521.5 342.2L523.9 342.2L525.7 342.2L527.0 342.2L527.4 342.2M510.1 340.8L510.5 340.8L511.8 340.8L513.7 340.8L516.2 340.8L518.9 340.8L521.6 340.8L524.1 340.8L526.0 340.8L527.3 340.8L527.7 340.8M510.0 339.4L510.4 339.4L511.7 339.4L513.7 339.4L516.1 339.4L518.9 339.4L521.7 339.4L524.1 339.4L526.1 339.4L527.4 339.4L527.8 339.4M510.1 338.0L510.5 338.0L511.8 338.0L513.7 338.0L516.2 338.0L518.9 338.0L521.6 338.0L524.1 338.0L526.0 338.0L527.3 338.0L527.7 338.0M510.4 336.6L510.8 336.6L512.1 336.6L513.9 336.6L516.3 336.6L518.9 336.6L521.5 336.6L523.9 336.6L525.7 336.6L527.0 336.6L527.4 336.6M511.0 335.4L511.4 335.4L512.5 335.4L514.2 335.4L516.4 335.4L518.9 335.4L521.4 335.4L523.6 335.4L525.3 335.4L526.4 335.4L526.8 335.4M511.7 334.2L512.1 334.2L513.1 334.2L514.7 334.2L516.7 334.2L518.9 334.2L521.1 334.2L523.1 334.2L524.7 334.2L525.7 334.2L526.1 334.2M512.6 333.1L512.9 333.1L513.8 333.1L515.2 333.1L517.0 333.1L518.9 333.1L520.8 333.1L522.6 333.1L524.0 333.1L524.9 333.1L525.2 333.1M513.7 332.2L513.9 332.2L514.7 332.2L515.8 332.2L517.3 332.2L518.9 332.2L520.5 332.2L522.0 332.2L523.1 332.2L523.9 332.2L524.1 332.2M514.9 331.5L515.1 331.5L515.6 331.5L516.5 331.5L517.7 331.5L518.9 331.5L520.1 331.5L521.3 331.5L522.2 331.5L522.7 331.5L522.9 331.5M516.1 330.9L516.3 330.9L516.7 330.9L517.3 330.9L518.1 330.9L518.9 330.9L519.7 330.9L520.5 330.9L521.1 330.9L521.5 330.9L521.7 330.9M517.5 330.6L517.6 330.6L517.8 330.6L518.1 330.6L518.5 330.6L518.9 330.6L519.3 330.6L519.7 330.6L520.0 330.6L520.2 330.6L520.3 330.6" fill="none" stroke="#000" stroke-opacity="0.75" stroke-width="0.25"/><circle cx="518.9" cy="339.4" r="8.9" fill="none" stroke="#000" stroke-width="0.5"/><path d="M473.6 341.4L471.9 341.3L471.8 341.3ZM473.6 341.4L472.2 341.3L471.9 341.3ZM473.6 341.4L472.6 341.3L472.2 341.3ZM473.6 341.4L473.1 341.3L472.6 341.3ZM473.6 341.4L473.6 341.3L473.1 341.3ZM473.6 341.4L474.1 341.3L473.6 341.3ZM473.6 341.4L474.6 341.3L474.1 341.3ZM473.6 341.4L475.0 341.3L474.6 341.3ZM473.6 341.4L475.3 341.3L475.0 341.3ZM473.6 341.4L475.4 341.3L475.3 341.3ZM473.6 341.4L475.3 341.3L475.4 341.3ZM473.6 341.4L471.8 341.3L471.9 341.3Z" fill="#15ff00" stroke="#15ff00" stroke-width="0.2"/><path d="M471.8 341.3L471.9 341.3L470.3 340.9L470.1 340.9ZM471.9 341.3L472.2 341.3L470.8 340.9L470.3 340.9ZM472.2 341.3L472.6 341.3L471.6 340.9L470.8 340.9ZM472.6 341.3L473.1 341.3L472.5 340.9L471.6 340.9ZM473.1 341.3L473.6 341.3L473.6 340.9L472.5 340.9ZM473.6 341.3L474.1 341.3L474.7 340.9L473.6 340.9ZM474.1 341.3L474.6 341.3L475.6 340.9L474.7 340.9ZM474.6 341.3L475.0 341.3L476.4 340.9L475.6 340.9ZM475.0 341.3L475.3 341.3L476.9 340.9L476.4 340.9ZM475.3 341.3L475.4 341.3L477.1 340.9L476.9 340.9Z" fill="#11ff00" stroke="#11ff00" stroke-width="0.2"/><path d="M470.1 340.9L470.3 340.9L468.8 340.2L468.5 340.2ZM470.3 340.9L470.8 340.9L469.5 340.2L468.8 340.2ZM470.8 340.9L471.6 340.9L470.6 340.2L469.5 340.2ZM471.6 340.9L472.5 340.9L472.0 340.2L470.6 340.2ZM472.5 340.9L473.6 340.9L473.6 340.2L472.0 340.2ZM473.6 340.9L474.7 340.9L475.2 340.2L473.6 340.2ZM474.7 340.9L475.6 340.9L476.6 340.2L475.2 340.2ZM475.6 340.9L476.4 340.9L477.7 340.2L476.6 340.2ZM476.4 340.9L476.9 340.9L478.4 340.2L477.7 340.2ZM476.9 340.9L477.1 340.9L478.7 340.2L478.4 340.2Z" fill="#05ff00" stroke="#05ff00" stroke-width="0.2"/><path d="M468.5 340.2L468.8 340.2L467.3 339.3L467.0 339.3ZM468.8 340.2L469.5 340.2L468.3 339.3L467.3 339.3ZM469.5 340.2L470.6 340.2L469.7 339.3L468.3 339.3ZM470.6 340.2L472.0 340.2L471.6 339.3L469.7 339.3ZM472.0 340.2L473.6 340.2L473.6 339.3L471.6 339.3ZM473.6 340.2L475.2 340.2L475.6 339.3L473.6 339.3ZM475.2 340.2L476.6 340.2L477.5 339.3L475.6 339.3ZM476.6 340.2L477.7 340.2L478.9 339.3L477.5 339.3ZM477.7 340.2L478.4 340.2L479.9 339.3L478.9 339.3ZM478.4 340.2L478.7 340.2L480.2 339.3L479.9 339.3Z" fill="#00ff0f" stroke="#00ff0f" stroke-width="0.2"/><path d="M467.0 339.3L467.3 339.3L466.1 338.1L465.7 338.1ZM467.3 339.3L468.3 339.3L467.2 338.1L466.1 338.1ZM468.3 339.3L469.7 339.3L468.9 338.1L467.2 338.1ZM469.7 339.3L471.6 339.3L471.2 338.1L468.9 338.1ZM471.6 339.3L473.6 339.3L473.6 338.1L471.2 338.1ZM473.6 339.3L475.6 339.3L476.0 338.1L473.6 338.1ZM475.6 339.3L477.5 339.3L478.3 338.1L476.0 338.1ZM477.5 339.3L478.9 339.3L480.0 338.1L478.3 338.1ZM478.9 339.3L479.9 339.3L481.1 338.1L480.0 338.1ZM479.9 339.3L480.2 339.3L481.5 338.1L481.1 338.1Z" fill="#00ff2a" stroke="#00ff2a" stroke-width="0.2"/><path d="M465.7 338.1L466.1 338.1L465.0 336.8L464.5 336.8ZM466.1 338.1L467.2 338.1L466.3 336.8L465.0 336.8ZM467.2 338.1L468.9 338.1L468.3 336.8L466.3 336.8ZM468.9 338.1L471.2 338.1L470.8 336.8L468.3 336.8ZM471.2 338.1L473.6 338.1L473.6 336.8L470.8 336.8ZM473.6 338.1L476.0 338.1L476.4 336.8L473.6 336.8ZM476.0 338.1L478.3 338.1L478.9 336.8L476.4 336.8ZM478.3 338.1L480.0 338.1L480.9 336.8L478.9 336.8ZM480.0 338.1L481.1 338.1L482.2 336.8L480.9 336.8ZM481.1 338.1L481.5 338.1L482.7 336.8L482.2 336.8Z" fill="#00ff4b" stroke="#00ff4b" stroke-width="0.2"/><path d="M464.5 336.8L465.0 336.8L464.1 335.3L463.6 335.3ZM465.0 336.8L466.3 336.8L465.5 335.3L464.1 335.3ZM466.3 336.8L468.3 336.8L467.7 335.3L465.5 335.3ZM468.3 336.8L470.8 336.8L470.5 335.3L467.7 335.3ZM470.8 336.8L473.6 336.8L473.6 335.3L470.5 335.3ZM473.6 336.8L476.4 336.8L476.7 335.3L473.6 335.3ZM476.4 336.8L478.9 336.8L479.5 335.3L476.7 335.3ZM478.9 336.8L480.9 336.8L481.7 335.3L479.5 335.3ZM480.9 336.8L482.2 336.8L483.1 335.3L481.7 335.3ZM482.2 336.8L482.7 336.8L483.6 335.3L483.1 335.3Z" fill="#00ff73" stroke="#00ff73" stroke-width="0.2"/><path d="M463.6 335.3L464.1 335.3L463.5 333.7L462.9 333.7ZM464.1 335.3L465.5 335.3L465.0 333.7L463.5 333.7ZM465.5 335.3L467.7 335.3L467.3 333.7L465.0 333.7ZM467.7 335.3L470.5 335.3L470.3 333.7L467.3 333.7ZM470.5 335.3L473.6 335.3L473.6 333.7L470.3 333.7ZM473.6 335.3L476.7 335.3L476.9 333.7L473.6 333.7ZM476.7 335.3L479.5 335.3L479.9 333.7L476.9 333.7ZM479.5 335.3L481.7 335.3L482.2 333.7L479.9 333.7ZM481.7 335.3L483.1 335.3L483.7 333.7L482.2 333.7ZM483.1 335.3L483.6 335.3L484.3 333.7L483.7 333.7Z" fill="#00ff9f" stroke="#00ff9f" stroke-width="0.2"/><path d="M462.9 333.7L463.5 333.7L463.1 332.0L462.5 332.0ZM463.5 333.7L465.0 333.7L464.7 332.0L463.1 332.0ZM465.0 333.7L467.3 333.7L467.1 332.0L464.7 332.0ZM467.3 333.7L470.3 333.7L470.2 332.0L467.1 332.0ZM470.3 333.7L473.6 333.7L473.6 332.0L470.2 332.0ZM473.6 333.7L476.9 333.7L477.0 332.0L473.6 332.0ZM476.9 333.7L479.9 333.7L480.1 332.0L477.0 332.0ZM479.9 333.7L482.2 333.7L482.5 332.0L480.1 332.0ZM482.2 333.7L483.7 333.7L484.1 332.0L482.5 332.0ZM483.7 333.7L484.3 333.7L484.7 332.0L484.1 332.0Z" fill="#00ffce" stroke="#00ffce" stroke-width="0.2"/><path d="M462.5 332.0L463.1 332.0L462.9 330.2L462.4 330.2ZM463.1 332.0L464.7 332.0L464.5 330.2L462.9 330.2ZM464.7 332.0L467.1 332.0L467.0 330.2L464.5 330.2ZM467.1 332.0L470.2 332.0L470.1 330.2L467.0 330.2ZM470.2 332.0L473.6 332.0L473.6 330.2L470.1 330.2ZM473.6 332.0L477.0 332.0L477.1 330.2L473.6 330.2ZM477.0 332.0L480.1 332.0L480.2 330.2L477.1 330.2ZM480.1 332.0L482.5 332.0L482.7 330.2L480.2 330.2ZM482.5 332.0L484.1 332.0L484.3 330.2L482.7 330.2ZM484.1 332.0L484.7 332.0L484.8 330.2L484.3 330.2Z" fill="#00fdff" stroke="#00fdff" stroke-width="0.2"/><path d="M462.4 330.2L462.9 330.2L463.1 328.4L462.5 328.4ZM462.9 330.2L464.5 330.2L464.7 328.4L463.1 328.4ZM464.5 330.2L467.0 330.2L467.1 328.4L464.7 328.4ZM467.0 330.2L470.1 330.2L470.2 328.4L467.1 328.4ZM470.1 330.2L473.6 330.2L473.6 328.4L470.2 328.4ZM473.6 330.2L477.1 330.2L477.0 328.4L473.6 328.4ZM477.1 330.2L480.2 330.2L480.1 328.4L477.0 328.4ZM480.2 330.2L482.7 330.2L482.5 328.4L480.1 328.4ZM482.7 330.2L484.3 330.2L484.1 328.4L482.5 328.4ZM484.3 330.2L484.8 330.2L484.7 328.4L484.1 328.4Z" fill="#00caff" stroke="#00caff" stroke-width="0.2"/><path d="M462.5 328.4L463.1 328.4L463.5 326.7L462.9 326.7ZM463.1 328.4L464.7 328.4L465.0 326.7L463.5 326.7ZM464.7 328.4L467.1 328.4L467.3 326.7L465.0 326.7ZM467.1 328.4L470.2 328.4L470.3 326.7L467.3 326.7ZM470.2 328.4L473.6 328.4L473.6 326.7L470.3 326.7ZM473.6 328.4L477.0 328.4L476.9 326.7L473.6 326.7ZM477.0 328.4L480.1 328.4L479.9 326.7L476.9 326.7ZM480.1 328.4L482.5 328.4L482.2 326.7L479.9 326.7ZM482.5 328.4L484.1 328.4L483.7 326.7L482.2 326.7ZM484.1 328.4L484.7 328.4L484.3 326.7L483.7 326.7Z" fill="#0096ff" stroke="#0096ff" stroke-width="0.2"/><path d="M462.9 326.7L463.5 326.7L464.1 325.1L463.6 325.1ZM463.5 326.7L465.0 326.7L465.5 325.1L464.1 325.1ZM465.0 326.7L467.3 326.7L467.7 325.1L465.5 325.1ZM467.3 326.7L470.3 326.7L470.5 325.1L467.7 325.1ZM470.3 326.7L473.6 326.7L473.6 325.1L470.5 325.1ZM473.6 326.7L476.9 326.7L476.7 325.1L473.6 325.1ZM476.9 326.7L479.9 326.7L479.5 325.1L476.7 325.1ZM479.9 326.7L482.2 326.7L481.7 325.1L479.5 325.1ZM482.2 326.7L483.7 326.7L483.1 325.1L481.7 325.1ZM483.7 326.7L484.3 326.7L483.6 325.1L483.1 325.1Z" fill="#0064ff" stroke="#0064ff" stroke-width="0.2"/><path d="M463.6 325.1L464.1 325.1L465.0 323.6L464.5 323.6ZM464.1 325.1L465.5 325.1L466.3 323.6L465.0 323.6ZM465.5 325.1L467.7 325.1L468.3 323.6L466.3 323.6ZM467.7 325.1L470.5 325.1L470.8 323.6L468.3 323.6ZM470.5 325.1L473.6 325.1L473.6 323.6L470.8 323.6ZM473.6 325.1L476.7 325.1L476.4 323.6L473.6 323.6ZM476.7 325.1L479.5 325.1L478.9 323.6L476.4 323.6ZM479.5 325.1L481.7 325.1L480.9 323.6L478.9 323.6ZM481.7 325.1L483.1 325.1L482.2 323.6L480.9 323.6ZM483.1 325.1L483.6 325.1L482.7 323.6L482.2 323.6Z" fill="#0034ff" stroke="#0034ff" stroke-width="0.2"/><path d="M464.5 323.6L465.0 323.6L466.1 322.3L465.7 322.3ZM465.0 323.6L466.3 323.6L467.2 322.3L466.1 322.3ZM466.3 323.6L468.3 323.6L468.9 322.3L467.2 322.3ZM468.3 323.6L470.8 323.6L471.2 322.3L468.9 322.3ZM470.8 323.6L473.6 323.6L473.6 322.3L471.2 322.3ZM473.6 323.6L476.4 323.6L476.0 322.3L473.6 322.3ZM476.4 323.6L478.9 323.6L478.3 322.3L476.0 322.3ZM478.9 323.6L480.9 323.6L480.0 322.3L478.3 322.3ZM480.9 323.6L482.2 323.6L481.1 322.3L480.0 322.3ZM482.2 323.6L482.7 323.6L481.5 322.3L481.1 322.3Z" fill="#0008ff" stroke="#0008ff" stroke-width="0.2"/><path d="M465.7 322.3L466.1 322.3L467.3 321.1L467.0 321.1ZM466.1 322.3L467.2 322.3L468.3 321.1L467.3 321.1ZM467.2 322.3L468.9 322.3L469.7 321.1L468.3 321.1ZM468.9 322.3L471.2 322.3L471.6 321.1L469.7 321.1ZM471.2 322.3L473.6 322.3L473.6 321.1L471.6 321.1ZM473.6 322.3L476.0 322.3L475.6 321.1L473.6 321.1ZM476.0 322.3L478.3 322.3L477.5 321.1L475.6 321.1ZM478.3 322.3L480.0 322.3L478.9 321.1L477.5 321.1ZM480.0 322.3L481.1 322.3L479.9 321.1L478.9 321.1ZM481.1 322.3L481.5 322.3L480.2 321.1L479.9 321.1Z" fill="#1f00ff" stroke="#1f00ff" stroke-width="0.2"/><path d="M467.0 321.1L467.3 321.1L468.8 320.2L468.5 320.2ZM467.3 321.1L468.3 321.1L469.5 320.2L468.8 320.2ZM468.3 321.1L469.7 321.1L470.6 320.2L469.5 320.2ZM469.7 321.1L471.6 321.1L472.0 320.2L470.6 320.2ZM471.6 321.1L473.6 321.1L473.6 320.2L472.0 320.2ZM473.6 321.1L475.6 321.1L475.2 320.2L473.6 320.2ZM475.6 321.1L477.5 321.1L476.6 320.2L475.2 320.2ZM477.5 321.1L478.9 321.1L477.7 320.2L476.6 320.2ZM478.9 321.1L479.9 321.1L478.4 320.2L477.7 320.2ZM479.9 321.1L480.2 321.1L478.7 320.2L478.4 320.2Z" fill="#4100ff" stroke="#4100ff" stroke-width="0.2"/><path d="M468.5 320.2L468.8 320.2L470.3 319.5L470.1 319.5ZM468.8 320.2L469.5 320.2L470.8 319.5L470.3 319.5ZM469.5 320.2L470.6 320.2L471.6 319.5L470.8 319.5ZM470.6 320.2L472.0 320.2L472.5 319.5L471.6 319.5ZM472.0 320.2L473.6 320.2L473.6 319.5L472.5 319.5ZM473.6 320.2L475.2 320.2L474.7 319.5L473.6 319.5ZM475.2 320.2L476.6 320.2L475.6 319.5L474.7 319.5ZM476.6 320.2L477.7 320.2L476.4 319.5L475.6 319.5ZM477.7 320.2L478.4 320.2L476.9 319.5L476.4 319.5ZM478.4 320.2L478.7 320.2L477.1 319.5L476.9 319.5Z" fill="#5c00ff" stroke="#5c00ff" stroke-width="0.2"/><path d="M470.1 319.5L470.3 319.5L471.9 319.1L471.8 319.1ZM470.3 319.5L470.8 319.5L472.2 319.1L471.9 319.1ZM470.8 319.5L471.6 319.5L472.6 319.1L472.2 319.1ZM471.6 319.5L472.5 319.5L473.1 319.1L472.6 319.1ZM472.5 319.5L473.6 319.5L473.6 319.1L473.1 319.1ZM473.6 319.5L474.7 319.5L474.1 319.1L473.6 319.1ZM474.7 319.5L475.6 319.5L474.6 319.1L474.1 319.1ZM475.6 319.5L476.4 319.5L475.0 319.1L474.6 319.1ZM476.4 319.5L476.9 319.5L475.3 319.1L475.0 319.1ZM476.9 319.5L477.1 319.5L475.4 319.1L475.3 319.1Z" fill="#6f00ff" stroke="#6f00ff" stroke-width="0.2"/><path d="M471.8 319.1L471.9 319.1L473.6 319.0ZM471.9 319.1L472.2 319.1L473.6 319.0ZM472.2 319.1L472.6 319.1L473.6 319.0ZM472.6 319.1L473.1 319.1L473.6 319.0ZM473.1 319.1L473.6 319.1L473.6 319.0ZM473.6 319.1L474.1 319.1L473.6 319.0ZM474.1 319.1L474.6 319.1L473.6 319.0ZM474.6 319.1L475.0 319.1L473.6 319.0ZM475.0 319.1L475.3 319.1L473.6 319.0ZM475.3 319.1L475.4 319.1L473.6 319.0ZM475.4 319.1L475.3 319.1L473.6 319.0ZM471.9 319.1L471.8 319.1L473.6 319.0Z" fill="#7b00ff" stroke="#7b00ff" stroke-width="0.2"/><path d="M473.6 341.4L471.8 341.3L470.1 340.9L468.5 340.2L467.0 339.3L465.7 338.1L464.5 336.8L463.6 335.3L462.9 333.7L462.5 332.0L462.4 330.2L462.5 328.4L462.9 326.7L463.6 325.1L464.5 323.6L465.7 322.3L467.0 321.1L468.5 320.2L470.1 319.5L471.8 319.1L473.6 319.0M473.6 341.4L471.9 341.3L470.3 340.9L468.8 340.2L467.3 339.3L466.1 338.1L465.0 336.8L464.1 335.3L463.5 333.7L463.1 332.0L462.9 330.2L463.1 328.4L463.5 326.7L464.1 325.1L465.0 323.6L466.1 322.3L467.3 321.1L468.8 320.2L470.3 319.5L471.9 319.1L473.6 319.0M473.6 341.4L472.2 341.3L470.8 340.9L469.5 340.2L468.3 339.3L467.2 338.1L466.3 336.8L465.5 335.3L465.0 333.7L464.7 332.0L464.5 330.2L464.7 328.4L465.0 326.7L465.5 325.1L466.3 323.6L467.2 322.3L468.3 321.1L469.5 320.2L470.8 319.5L472.2 319.1L473.6 319.0M473.6 341.4L472.6 341.3L471.6 340.9L470.6 340.2L469.7 339.3L468.9 338.1L468.3 336.8L467.7 335.3L467.3 333.7L467.1 332.0L467.0 330.2L467.1 328.4L467.3 326.7L467.7 325.1L468.3 323.6L468.9 322.3L469.7 321.1L470.6 320.2L471.6 319.5L472.6 319.1L473.6 319.0M473.6 341.4L473.1 341.3L472.5 340.9L472.0 340.2L471.6 339.3L471.2 338.1L470.8 336.8L470.5 335.3L470.3 333.7L470.2 332.0L470.1 330.2L470.2 328.4L470.3 326.7L470.5 325.1L470.8 323.6L471.2 322.3L471.6 321.1L472.0 320.2L472.5 319.5L473.1 319.1L473.6 319.0M473.6 341.4L473.6 341.3L473.6 340.9L473.6 340.2L473.6 339.3L473.6 338.1L473.6 336.8L473.6 335.3L473.6 333.7L473.6 332.0L473.6 330.2L473.6 328.4L473.6 326.7L473.6 325.1L473.6 323.6L473.6 322.3L473.6 321.1L473.6 320.2L473.6 319.5L473.6 319.1L473.6 319.0M473.6 341.4L474.1 341.3L474.7 340.9L475.2 340.2L475.6 339.3L476.0 338.1L476.4 336.8L476.7 335.3L476.9 333.7L477.0 332.0L477.1 330.2L477.0 328.4L476.9 326.7L476.7 325.1L476.4 323.6L476.0 322.3L475.6 321.1L475.2 320.2L474.7 319.5L474.1 319.1L473.6 319.0M473.6 341.4L474.6 341.3L475.6 340.9L476.6 340.2L477.5 339.3L478.3 338.1L478.9 336.8L479.5 335.3L479.9 333.7L480.1 332.0L480.2 330.2L480.1 328.4L479.9 326.7L479.5 325.1L478.9 323.6L478.3 322.3L477.5 321.1L476.6 320.2L475.6 319.5L474.6 319.1L473.6 319.0M473.6 341.4L475.0 341.3L476.4 340.9L477.7 340.2L478.9 339.3L480.0 338.1L480.9 336.8L481.7 335.3L482.2 333.7L482.5 332.0L482.7 330.2L482.5 328.4L482.2 326.7L481.7 325.1L480.9 323.6L480.0 322.3L478.9 321.1L477.7 320.2L476.4 319.5L475.0 319.1L473.6 319.0M473.6 341.4L475.3 341.3L476.9 340.9L478.4 340.2L479.9 339.3L481.1 338.1L482.2 336.8L483.1 335.3L483.7 333.7L484.1 332.0L484.3 330.2L484.1 328.4L483.7 326.7L483.1 325.1L482.2 323.6L481.1 322.3L479.9 321.1L478.4 320.2L476.9 319.5L475.3 319.1L473.6 319.0M473.6 341.4L475.4 341.3L477.1 340.9L478.7 340.2L480.2 339.3L481.5 338.1L482.7 336.8L483.6 335.3L484.3 333.7L484.7 332.0L484.8 330.2L484.7 328.4L484.3 326.7L483.6 325.1L482.7 323.6L481.5 322.3L480.2 321.1L478.7 320.2L477.1 319.5L475.4 319.1L473.6 319.0" fill="none" stroke="#000" stroke-opacity="0.95" stroke-width="0.38"/><path d="M471.8 341.3L471.9 341.3L472.2 341.3L472.6 341.3L473.1 341.3L473.6 341.3L474.1 341.3L474.6 341.3L475.0 341.3L475.3 341.3L475.4 341.3M470.1 340.9L470.3 340.9L470.8 340.9L471.6 340.9L472.5 340.9L473.6 340.9L474.7 340.9L475.6 340.9L476.4 340.9L476.9 340.9L477.1 340.9M468.5 340.2L468.8 340.2L469.5 340.2L470.6 340.2L472.0 340.2L473.6 340.2L475.2 340.2L476.6 340.2L477.7 340.2L478.4 340.2L478.7 340.2M467.0 339.3L467.3 339.3L468.3 339.3L469.7 339.3L471.6 339.3L473.6 339.3L475.6 339.3L477.5 339.3L478.9 339.3L479.9 339.3L480.2 339.3M465.7 338.1L466.1 338.1L467.2 338.1L468.9 338.1L471.2 338.1L473.6 338.1L476.0 338.1L478.3 338.1L480.0 338.1L481.1 338.1L481.5 338.1M464.5 336.8L465.0 336.8L466.3 336.8L468.3 336.8L470.8 336.8L473.6 336.8L476.4 336.8L478.9 336.8L480.9 336.8L482.2 336.8L482.7 336.8M463.6 335.3L464.1 335.3L465.5 335.3L467.7 335.3L470.5 335.3L473.6 335.3L476.7 335.3L479.5 335.3L481.7 335.3L483.1 335.3L483.6 335.3M462.9 333.7L463.5 333.7L465.0 333.7L467.3 333.7L470.3 333.7L473.6 333.7L476.9 333.7L479.9 333.7L482.2 333.7L483.7 333.7L484.3 333.7M462.5 332.0L463.1 332.0L464.7 332.0L467.1 332.0L470.2 332.0L473.6 332.0L477.0 332.0L480.1 332.0L482.5 332.0L484.1 332.0L484.7 332.0M462.4 330.2L462.9 330.2L464.5 330.2L467.0 330.2L470.1 330.2L473.6 330.2L477.1 330.2L480.2 330.2L482.7 330.2L484.3 330.2L484.8 330.2M462.5 328.4L463.1 328.4L464.7 328.4L467.1 328.4L470.2 328.4L473.6 328.4L477.0 328.4L480.1 328.4L482.5 328.4L484.1 328.4L484.7 328.4M462.9 326.7L463.5 326.7L465.0 326.7L467.3 326.7L470.3 326.7L473.6 326.7L476.9 326.7L479.9 326.7L482.2 326.7L483.7 326.7L484.3 326.7M463.6 325.1L464.1 325.1L465.5 325.1L467.7 325.1L470.5 325.1L473.6 325.1L476.7 325.1L479.5 325.1L481.7 325.1L483.1 325.1L483.6 325.1M464.5 323.6L465.0 323.6L466.3 323.6L468.3 323.6L470.8 323.6L473.6 323.6L476.4 323.6L478.9 323.6L480.9 323.6L482.2 323.6L482.7 323.6M465.7 322.3L466.1 322.3L467.2 322.3L468.9 322.3L471.2 322.3L473.6 322.3L476.0 322.3L478.3 322.3L480.0 322.3L481.1 322.3L481.5 322.3M467.0 321.1L467.3 321.1L468.3 321.1L469.7 321.1L471.6 321.1L473.6 321.1L475.6 321.1L477.5 321.1L478.9 321.1L479.9 321.1L480.2 321.1M468.5 320.2L468.8 320.2L469.5 320.2L470.6 320.2L472.0 320.2L473.6 320.2L475.2 320.2L476.6 320.2L477.7 320.2L478.4 320.2L478.7 320.2M470.1 319.5L470.3 319.5L470.8 319.5L471.6 319.5L472.5 319.5L473.6 319.5L474.7 319.5L475.6 319.5L476.4 319.5L476.9 319.5L477.1 319.5M471.8 319.1L471.9 319.1L472.2 319.1L472.6 319.1L473.1 319.1L473.6 319.1L474.1 319.1L474.6 319.1L475.0 319.1L475.3 319.1L475.4 319.1" fill="none" stroke="#000" stroke-opacity="0.75" stroke-width="0.25"/><circle cx="473.6" cy="330.2" r="11.2" fill="none" stroke="#000" stroke-width="0.5"/><path d="M383.5 348.3L382.2 348.2L382.1 348.2ZM383.5 348.3L382.4 348.2L382.2 348.2ZM383.5 348.3L382.7 348.2L382.4 348.2ZM383.5 348.3L383.1 348.2L382.7 348.2ZM383.5 348.3L383.5 348.2L383.1 348.2ZM383.5 348.3L383.9 348.2L383.5 348.2ZM383.5 348.3L384.3 348.2L383.9 348.2ZM383.5 348.3L384.6 348.2L384.3 348.2ZM383.5 348.3L384.8 348.2L384.6 348.2ZM383.5 348.3L384.9 348.2L384.8 348.2ZM383.5 348.3L384.8 348.2L384.9 348.2ZM383.5 348.3L382.1 348.2L382.2 348.2Z" fill="#ff0000" stroke="#ff0000" stroke-width="0.2"/><path d="M382.1 348.2L382.2 348.2L380.9 347.9L380.7 347.9ZM382.2 348.2L382.4 348.2L381.3 347.9L380.9 347.9ZM382.4 348.2L382.7 348.2L381.9 347.9L381.3 347.9ZM382.7 348.2L383.1 348.2L382.7 347.9L381.9 347.9ZM383.1 348.2L383.5 348.2L383.5 347.9L382.7 347.9ZM383.5 348.2L383.9 348.2L384.3 347.9L383.5 347.9ZM383.9 348.2L384.3 348.2L385.1 347.9L384.3 347.9ZM384.3 348.2L384.6 348.2L385.7 347.9L385.1 347.9ZM384.6 348.2L384.8 348.2L386.1 347.9L385.7 347.9ZM384.8 348.2L384.9 348.2L386.3 347.9L386.1 347.9Z" fill="#ff0400" stroke="#ff0400" stroke-width="0.2"/><path d="M380.7 347.9L380.9 347.9L379.7 347.3L379.5 347.3ZM380.9 347.9L381.3 347.9L380.2 347.3L379.7 347.3ZM381.3 347.9L381.9 347.9L381.1 347.3L380.2 347.3ZM381.9 347.9L382.7 347.9L382.3 347.3L381.1 347.3ZM382.7 347.9L383.5 347.9L383.5 347.3L382.3 347.3ZM383.5 347.9L384.3 347.9L384.7 347.3L383.5 347.3ZM384.3 347.9L385.1 347.9L385.9 347.3L384.7 347.3ZM385.1 347.9L385.7 347.9L386.8 347.3L385.9 347.3ZM385.7 347.9L386.1 347.9L387.3 347.3L386.8 347.3ZM386.1 347.9L386.3 347.9L387.5 347.3L387.3 347.3Z" fill="#ff1000" stroke="#ff1000" stroke-width="0.2"/><path d="M379.5 347.3L379.7 347.3L378.5 346.6L378.3 346.6ZM379.7 347.3L380.2 347.3L379.3 346.6L378.5 346.6ZM380.2 347.3L381.1 347.3L380.4 346.6L379.3 346.6ZM381.1 347.3L382.3 347.3L381.9 346.6L380.4 346.6ZM382.3 347.3L383.5 347.3L383.5 346.6L381.9 346.6ZM383.5 347.3L384.7 347.3L385.1 346.6L383.5 346.6ZM384.7 347.3L385.9 347.3L386.6 346.6L385.1 346.6ZM385.9 347.3L386.8 347.3L387.7 346.6L386.6 346.6ZM386.8 347.3L387.3 347.3L388.5 346.6L387.7 346.6ZM387.3 347.3L387.5 347.3L388.7 346.6L388.5 346.6Z" fill="#ff2300" stroke="#ff2300" stroke-width="0.2"/><path d="M378.3 346.6L378.5 346.6L377.5 345.7L377.2 345.7ZM378.5 346.6L379.3 346.6L378.4 345.7L377.5 345.7ZM379.3 346.6L380.4 346.6L379.8 345.7L378.4 345.7ZM380.4 346.6L381.9 346.6L381.6 345.7L379.8 345.7ZM381.9 346.6L383.5 346.6L383.5 345.7L381.6 345.7ZM383.5 346.6L385.1 346.6L385.4 345.7L383.5 345.7ZM385.1 346.6L386.6 346.6L387.2 345.7L385.4 345.7ZM386.6 346.6L387.7 346.6L388.6 345.7L387.2 345.7ZM387.7 346.6L388.5 346.6L389.5 345.7L388.6 345.7ZM388.5 346.6L388.7 346.6L389.8 345.7L389.5 345.7Z" fill="#ff3d00" stroke="#ff3d00" stroke-width="0.2"/><path d="M377.2 345.7L377.5 345.7L376.7 344.6L376.3 344.6ZM377.5 345.7L378.4 345.7L377.7 344.6L376.7 344.6ZM378.4 345.7L379.8 345.7L379.3 344.6L377.7 344.6ZM379.8 345.7L381.6 345.7L381.3 344.6L379.3 344.6ZM381.6 345.7L383.5 345.7L383.5 344.6L381.3 344.6ZM383.5 345.7L385.4 345.7L385.7 344.6L383.5 344.6ZM385.4 345.7L387.2 345.7L387.7 344.6L385.7 344.6ZM387.2 345.7L388.6 345.7L389.3 344.6L387.7 344.6ZM388.6 345.7L389.5 345.7L390.3 344.6L389.3 344.6ZM389.5 345.7L389.8 345.7L390.7 344.6L390.3 344.6Z" fill="#ff5d00" stroke="#ff5d00" stroke-width="0.2"/><path d="M376.3 344.6L376.7 344.6L376.0 343.4L375.6 343.4ZM376.7 344.6L377.7 344.6L377.1 343.4L376.0 343.4ZM377.7 344.6L379.3 344.6L378.8 343.4L377.1 343.4ZM379.3 344.6L381.3 344.6L381.0 343.4L378.8 343.4ZM381.3 344.6L383.5 344.6L383.5 343.4L381.0 343.4ZM383.5 344.6L385.7 344.6L386.0 343.4L383.5 343.4ZM385.7 344.6L387.7 344.6L388.2 343.4L386.0 343.4ZM387.7 344.6L389.3 344.6L389.9 343.4L388.2 343.4ZM389.3 344.6L390.3 344.6L391.0 343.4L389.9 343.4ZM390.3 344.6L390.7 344.6L391.4 343.4L391.0 343.4Z" fill="#ff8300" stroke="#ff8300" stroke-width="0.2"/><path d="M375.6 343.4L376.0 343.4L375.4 342.2L375.0 342.2ZM376.0 343.4L377.1 343.4L376.7 342.2L375.4 342.2ZM377.1 343.4L378.8 343.4L378.5 342.2L376.7 342.2ZM378.8 343.4L381.0 343.4L380.9 342.2L378.5 342.2ZM381.0 343.4L383.5 343.4L383.5 342.2L380.9 342.2ZM383.5 343.4L386.0 343.4L386.1 342.2L383.5 342.2ZM386.0 343.4L388.2 343.4L388.5 342.2L386.1 342.2ZM388.2 343.4L389.9 343.4L390.3 342.2L388.5 342.2ZM389.9 343.4L391.0 343.4L391.6 342.2L390.3 342.2ZM391.0 343.4L391.4 343.4L392.0 342.2L391.6 342.2Z" fill="#ffae00" stroke="#ffae00" stroke-width="0.2"/><path d="M375.0 342.2L375.4 342.2L375.1 340.8L374.7 340.8ZM375.4 342.2L376.7 342.2L376.4 340.8L375.1 340.8ZM376.7 342.2L378.5 342.2L378.3 340.8L376.4 340.8ZM378.5 342.2L380.9 342.2L380.8 340.8L378.3 340.8ZM380.9 342.2L383.5 342.2L383.5 340.8L380.8 340.8ZM383.5 342.2L386.1 342.2L386.2 340.8L383.5 340.8ZM386.1 342.2L388.5 342.2L388.7 340.8L386.2 340.8ZM388.5 342.2L390.3 342.2L390.6 340.8L388.7 340.8ZM390.3 342.2L391.6 342.2L391.9 340.8L390.6 340.8ZM391.6 342.2L392.0 342.2L392.3 340.8L391.9 340.8Z" fill="#ffdc00" stroke="#ffdc00" stroke-width="0.2"/><path d="M374.7 340.8L375.1 340.8L375.0 339.4L374.6 339.4ZM375.1 340.8L376.4 340.8L376.3 339.4L375.0 339.4ZM376.4 340.8L378.3 340.8L378.3 339.4L376.3 339.4ZM378.3 340.8L380.8 340.8L380.7 339.4L378.3 339.4ZM380.8 340.8L383.5 340.8L383.5 339.4L380.7 339.4ZM383.5 340.8L386.2 340.8L386.3 339.4L383.5 339.4ZM386.2 340.8L388.7 340.8L388.7 339.4L386.3 339.4ZM388.7 340.8L390.6 340.8L390.7 339.4L388.7 339.4ZM390.6 340.8L391.9 340.8L392.0 339.4L390.7 339.4ZM391.9 340.8L392.3 340.8L392.4 339.4L392.0 339.4Z" fill="#f1ff00" stroke="#f1ff00" stroke-width="0.2"/><path d="M374.6 339.4L375.0 339.4L375.1 338.0L374.7 338.0ZM375.0 339.4L376.3 339.4L376.4 338.0L375.1 338.0ZM376.3 339.4L378.3 339.4L378.3 338.0L376.4 338.0ZM378.3 339.4L380.7 339.4L380.8 338.0L378.3 338.0ZM380.7 339.4L383.5 339.4L383.5 338.0L380.8 338.0ZM383.5 339.4L386.3 339.4L386.2 338.0L383.5 338.0ZM386.3 339.4L388.7 339.4L388.7 338.0L386.2 338.0ZM388.7 339.4L390.7 339.4L390.6 338.0L388.7 338.0ZM390.7 339.4L392.0 339.4L391.9 338.0L390.6 338.0ZM392.0 339.4L392.4 339.4L392.3 338.0L391.9 338.0Z" fill="#bfff00" stroke="#bfff00" stroke-width="0.2"/><path d="M374.7 338.0L375.1 338.0L375.4 336.6L375.0 336.6ZM375.1 338.0L376.4 338.0L376.7 336.6L375.4 336.6ZM376.4 338.0L378.3 338.0L378.5 336.6L376.7 336.6ZM378.3 338.0L380.8 338.0L380.9 336.6L378.5 336.6ZM380.8 338.0L383.5 338.0L383.5 336.6L380.9 336.6ZM383.5 338.0L386.2 338.0L386.1 336.6L383.5 336.6ZM386.2 338.0L388.7 338.0L388.5 336.6L386.1 336.6ZM388.7 338.0L390.6 338.0L390.3 336.6L388.5 336.6ZM390.6 338.0L391.9 338.0L391.6 336.6L390.3 336.6ZM391.9 338.0L392.3 338.0L392.0 336.6L391.6 336.6Z" fill="#8dff00" stroke="#8dff00" stroke-width="0.2"/><path d="M375.0 336.6L375.4 336.6L376.0 335.4L375.6 335.4ZM375.4 336.6L376.7 336.6L377.1 335.4L376.0 335.4ZM376.7 336.6L378.5 336.6L378.8 335.4L377.1 335.4ZM378.5 336.6L380.9 336.6L381.0 335.4L378.8 335.4ZM380.9 336.6L383.5 336.6L383.5 335.4L381.0 335.4ZM383.5 336.6L386.1 336.6L386.0 335.4L383.5 335.4ZM386.1 336.6L388.5 336.6L388.2 335.4L386.0 335.4ZM388.5 336.6L390.3 336.6L389.9 335.4L388.2 335.4ZM390.3 336.6L391.6 336.6L391.0 335.4L389.9 335.4ZM391.6 336.6L392.0 336.6L391.4 335.4L391.0 335.4Z" fill="#5dff00" stroke="#5dff00" stroke-width="0.2"/><path d="M375.6 335.4L376.0 335.4L376.7 334.2L376.3 334.2ZM376.0 335.4L377.1 335.4L377.7 334.2L376.7 334.2ZM377.1 335.4L378.8 335.4L379.3 334.2L377.7 334.2ZM378.8 335.4L381.0 335.4L381.3 334.2L379.3 334.2ZM381.0 335.4L383.5 335.4L383.5 334.2L381.3 334.2ZM383.5 335.4L386.0 335.4L385.7 334.2L383.5 334.2ZM386.0 335.4L388.2 335.4L387.7 334.2L385.7 334.2ZM388.2 335.4L389.9 335.4L389.3 334.2L387.7 334.2ZM389.9 335.4L391.0 335.4L390.3 334.2L389.3 334.2ZM391.0 335.4L391.4 335.4L390.7 334.2L390.3 334.2Z" fill="#2fff00" stroke="#2fff00" stroke-width="0.2"/><path d="M376.3 334.2L376.7 334.2L377.5 333.1L377.2 333.1ZM376.7 334.2L377.7 334.2L378.4 333.1L377.5 333.1ZM377.7 334.2L379.3 334.2L379.8 333.1L378.4 333.1ZM379.3 334.2L381.3 334.2L381.6 333.1L379.8 333.1ZM381.3 334.2L383.5 334.2L383.5 333.1L381.6 333.1ZM383.5 334.2L385.7 334.2L385.4 333.1L383.5 333.1ZM385.7 334.2L387.7 334.2L387.2 333.1L385.4 333.1ZM387.7 334.2L389.3 334.2L388.6 333.1L387.2 333.1ZM389.3 334.2L390.3 334.2L389.5 333.1L388.6 333.1ZM390.3 334.2L390.7 334.2L389.8 333.1L389.5 333.1Z" fill="#04ff00" stroke="#04ff00" stroke-width="0.2"/><path d="M377.2 333.1L377.5 333.1L378.5 332.2L378.3 332.2ZM377.5 333.1L378.4 333.1L379.3 332.2L378.5 332.2ZM378.4 333.1L379.8 333.1L380.4 332.2L379.3 332.2ZM379.8 333.1L381.6 333.1L381.9 332.2L380.4 332.2ZM381.6 333.1L383.5 333.1L383.5 332.2L381.9 332.2ZM383.5 333.1L385.4 333.1L385.1 332.2L383.5 332.2ZM385.4 333.1L387.2 333.1L386.6 332.2L385.1 332.2ZM387.2 333.1L388.6 333.1L387.7 332.2L386.6 332.2ZM388.6 333.1L389.5 333.1L388.5 332.2L387.7 332.2ZM389.5 333.1L389.8 333.1L388.7 332.2L388.5 332.2Z" fill="#00ff22" stroke="#00ff22" stroke-width="0.2"/><path d="M378.3 332.2L378.5 332.2L379.7 331.5L379.5 331.5ZM378.5 332.2L379.3 332.2L380.2 331.5L379.7 331.5ZM379.3 332.2L380.4 332.2L381.1 331.5L380.2 331.5ZM380.4 332.2L381.9 332.2L382.3 331.5L381.1 331.5ZM381.9 332.2L383.5 332.2L383.5 331.5L382.3 331.5ZM383.5 332.2L385.1 332.2L384.7 331.5L383.5 331.5ZM385.1 332.2L386.6 332.2L385.9 331.5L384.7 331.5ZM386.6 332.2L387.7 332.2L386.8 331.5L385.9 331.5ZM387.7 332.2L388.5 332.2L387.3 331.5L386.8 331.5ZM388.5 332.2L388.7 332.2L387.5 331.5L387.3 331.5Z" fill="#00ff43" stroke="#00ff43" stroke-width="0.2"/><path d="M379.5 331.5L379.7 331.5L380.9 330.9L380.7 330.9ZM379.7 331.5L380.2 331.5L381.3 330.9L380.9 330.9ZM380.2 331.5L381.1 331.5L381.9 330.9L381.3 330.9ZM381.1 331.5L382.3 331.5L382.7 330.9L381.9 330.9ZM382.3 331.5L383.5 331.5L383.5 330.9L382.7 330.9ZM383.5 331.5L384.7 331.5L384.3 330.9L383.5 330.9ZM384.7 331.5L385.9 331.5L385.1 330.9L384.3 330.9ZM385.9 331.5L386.8 331.5L385.7 330.9L385.1 330.9ZM386.8 331.5L387.3 331.5L386.1 330.9L385.7 330.9ZM387.3 331.5L387.5 331.5L386.3 330.9L386.1 330.9Z" fill="#00ff5d" stroke="#00ff5d" stroke-width="0.2"/><path d="M380.7 330.9L380.9 330.9L382.2 330.6L382.1 330.6ZM380.9 330.9L381.3 330.9L382.4 330.6L382.2 330.6ZM381.3 330.9L381.9 330.9L382.7 330.6L382.4 330.6ZM381.9 330.9L382.7 330.9L383.1 330.6L382.7 330.6ZM382.7 330.9L383.5 330.9L383.5 330.6L383.1 330.6ZM383.5 330.9L384.3 330.9L383.9 330.6L383.5 330.6ZM384.3 330.9L385.1 330.9L384.3 330.6L383.9 330.6ZM385.1 330.9L385.7 330.9L384.6 330.6L384.3 330.6ZM385.7 330.9L386.1 330.9L384.8 330.6L384.6 330.6ZM386.1 330.9L386.3 330.9L384.9 330.6L384.8 330.6Z" fill="#00ff70" stroke="#00ff70" stroke-width="0.2"/><path d="M382.1 330.6L382.2 330.6L383.5 330.5ZM382.2 330.6L382.4 330.6L383.5 330.5ZM382.4 330.6L382.7 330.6L383.5 330.5ZM382.7 330.6L383.1 330.6L383.5 330.5ZM383.1 330.6L383.5 330.6L383.5 330.5ZM383.5 330.6L383.9 330.6L383.5 330.5ZM383.9 330.6L384.3 330.6L383.5 330.5ZM384.3 330.6L384.6 330.6L383.5 330.5ZM384.6 330.6L384.8 330.6L383.5 330.5ZM384.8 330.6L384.9 330.6L383.5 330.5ZM384.9 330.6L384.8 330.6L383.5 330.5ZM382.2 330.6L382.1 330.6L383.5 330.5Z" fill="#00ff7c" stroke="#00ff7c" stroke-width="0.2"/><path d="M383.5 348.3L382.1 348.2L380.7 347.9L379.5 347.3L378.3 346.6L377.2 345.7L376.3 344.6L375.6 343.4L375.0 342.2L374.7 340.8L374.6 339.4L374.7 338.0L375.0 336.6L375.6 335.4L376.3 334.2L377.2 333.1L378.3 332.2L379.5 331.5L380.7 330.9L382.1 330.6L383.5 330.5M383.5 348.3L382.2 348.2L380.9 347.9L379.7 347.3L378.5 346.6L377.5 345.7L376.7 344.6L376.0 343.4L375.4 342.2L375.1 340.8L375.0 339.4L375.1 338.0L375.4 336.6L376.0 335.4L376.7 334.2L377.5 333.1L378.5 332.2L379.7 331.5L380.9 330.9L382.2 330.6L383.5 330.5M383.5 348.3L382.4 348.2L381.3 347.9L380.2 347.3L379.3 346.6L378.4 345.7L377.7 344.6L377.1 343.4L376.7 342.2L376.4 340.8L376.3 339.4L376.4 338.0L376.7 336.6L377.1 335.4L377.7 334.2L378.4 333.1L379.3 332.2L380.2 331.5L381.3 330.9L382.4 330.6L383.5 330.5M383.5 348.3L382.7 348.2L381.9 347.9L381.1 347.3L380.4 346.6L379.8 345.7L379.3 344.6L378.8 343.4L378.5 342.2L378.3 340.8L378.3 339.4L378.3 338.0L378.5 336.6L378.8 335.4L379.3 334.2L379.8 333.1L380.4 332.2L381.1 331.5L381.9 330.9L382.7 330.6L383.5 330.5M383.5 348.3L383.1 348.2L382.7 347.9L382.3 347.3L381.9 346.6L381.6 345.7L381.3 344.6L381.0 343.4L380.9 342.2L380.8 340.8L380.7 339.4L380.8 338.0L380.9 336.6L381.0 335.4L381.3 334.2L381.6 333.1L381.9 332.2L382.3 331.5L382.7 330.9L383.1 330.6L383.5 330.5M383.5 348.3L383.5 348.2L383.5 347.9L383.5 347.3L383.5 346.6L383.5 345.7L383.5 344.6L383.5 343.4L383.5 342.2L383.5 340.8L383.5 339.4L383.5 338.0L383.5 336.6L383.5 335.4L383.5 334.2L383.5 333.1L383.5 332.2L383.5 331.5L383.5 330.9L383.5 330.6L383.5 330.5M383.5 348.3L383.9 348.2L384.3 347.9L384.7 347.3L385.1 346.6L385.4 345.7L385.7 344.6L386.0 343.4L386.1 342.2L386.2 340.8L386.3 339.4L386.2 338.0L386.1 336.6L386.0 335.4L385.7 334.2L385.4 333.1L385.1 332.2L384.7 331.5L384.3 330.9L383.9 330.6L383.5 330.5M383.5 348.3L384.3 348.2L385.1 347.9L385.9 347.3L386.6 346.6L387.2 345.7L387.7 344.6L388.2 343.4L388.5 342.2L388.7 340.8L388.7 339.4L388.7 338.0L388.5 336.6L388.2 335.4L387.7 334.2L387.2 333.1L386.6 332.2L385.9 331.5L385.1 330.9L384.3 330.6L383.5 330.5M383.5 348.3L384.6 348.2L385.7 347.9L386.8 347.3L387.7 346.6L388.6 345.7L389.3 344.6L389.9 343.4L390.3 342.2L390.6 340.8L390.7 339.4L390.6 338.0L390.3 336.6L389.9 335.4L389.3 334.2L388.6 333.1L387.7 332.2L386.8 331.5L385.7 330.9L384.6 330.6L383.5 330.5M383.5 348.3L384.8 348.2L386.1 347.9L387.3 347.3L388.5 346.6L389.5 345.7L390.3 344.6L391.0 343.4L391.6 342.2L391.9 340.8L392.0 339.4L391.9 338.0L391.6 336.6L391.0 335.4L390.3 334.2L389.5 333.1L388.5 332.2L387.3 331.5L386.1 330.9L384.8 330.6L383.5 330.5M383.5 348.3L384.9 348.2L386.3 347.9L387.5 347.3L388.7 346.6L389.8 345.7L390.7 344.6L391.4 343.4L392.0 342.2L392.3 340.8L392.4 339.4L392.3 338.0L392.0 336.6L391.4 335.4L390.7 334.2L389.8 333.1L388.7 332.2L387.5 331.5L386.3 330.9L384.9 330.6L383.5 330.5" fill="none" stroke="#000" stroke-opacity="0.95" stroke-width="0.38"/><path d="M382.1 348.2L382.2 348.2L382.4 348.2L382.7 348.2L383.1 348.2L383.5 348.2L383.9 348.2L384.3 348.2L384.6 348.2L384.8 348.2L384.9 348.2M380.7 347.9L380.9 347.9L381.3 347.9L381.9 347.9L382.7 347.9L383.5 347.9L384.3 347.9L385.1 347.9L385.7 347.9L386.1 347.9L386.3 347.9M379.5 347.3L379.7 347.3L380.2 347.3L381.1 347.3L382.3 347.3L383.5 347.3L384.7 347.3L385.9 347.3L386.8 347.3L387.3 347.3L387.5 347.3M378.3 346.6L378.5 346.6L379.3 346.6L380.4 346.6L381.9 346.6L383.5 346.6L385.1 346.6L386.6 346.6L387.7 346.6L388.5 346.6L388.7 346.6M377.2 345.7L377.5 345.7L378.4 345.7L379.8 345.7L381.6 345.7L383.5 345.7L385.4 345.7L387.2 345.7L388.6 345.7L389.5 345.7L389.8 345.7M376.3 344.6L376.7 344.6L377.7 344.6L379.3 344.6L381.3 344.6L383.5 344.6L385.7 344.6L387.7 344.6L389.3 344.6L390.3 344.6L390.7 344.6M375.6 343.4L376.0 343.4L377.1 343.4L378.8 343.4L381.0 343.4L383.5 343.4L386.0 343.4L388.2 343.4L389.9 343.4L391.0 343.4L391.4 343.4M375.0 342.2L375.4 342.2L376.7 342.2L378.5 342.2L380.9 342.2L383.5 342.2L386.1 342.2L388.5 342.2L390.3 342.2L391.6 342.2L392.0 342.2M374.7 340.8L375.1 340.8L376.4 340.8L378.3 340.8L380.8 340.8L383.5 340.8L386.2 340.8L388.7 340.8L390.6 340.8L391.9 340.8L392.3 340.8M374.6 339.4L375.0 339.4L376.3 339.4L378.3 339.4L380.7 339.4L383.5 339.4L386.3 339.4L388.7 339.4L390.7 339.4L392.0 339.4L392.4 339.4M374.7 338.0L375.1 338.0L376.4 338.0L378.3 338.0L380.8 338.0L383.5 338.0L386.2 338.0L388.7 338.0L390.6 338.0L391.9 338.0L392.3 338.0M375.0 336.6L375.4 336.6L376.7 336.6L378.5 336.6L380.9 336.6L383.5 336.6L386.1 336.6L388.5 336.6L390.3 336.6L391.6 336.6L392.0 336.6M375.6 335.4L376.0 335.4L377.1 335.4L378.8 335.4L381.0 335.4L383.5 335.4L386.0 335.4L388.2 335.4L389.9 335.4L391.0 335.4L391.4 335.4M376.3 334.2L376.7 334.2L377.7 334.2L379.3 334.2L381.3 334.2L383.5 334.2L385.7 334.2L387.7 334.2L389.3 334.2L390.3 334.2L390.7 334.2M377.2 333.1L377.5 333.1L378.4 333.1L379.8 333.1L381.6 333.1L383.5 333.1L385.4 333.1L387.2 333.1L388.6 333.1L389.5 333.1L389.8 333.1M378.3 332.2L378.5 332.2L379.3 332.2L380.4 332.2L381.9 332.2L383.5 332.2L385.1 332.2L386.6 332.2L387.7 332.2L388.5 332.2L388.7 332.2M379.5 331.5L379.7 331.5L380.2 331.5L381.1 331.5L382.3 331.5L383.5 331.5L384.7 331.5L385.9 331.5L386.8 331.5L387.3 331.5L387.5 331.5M380.7 330.9L380.9 330.9L381.3 330.9L381.9 330.9L382.7 330.9L383.5 330.9L384.3 330.9L385.1 330.9L385.7 330.9L386.1 330.9L386.3 330.9M382.1 330.6L382.2 330.6L382.4 330.6L382.7 330.6L383.1 330.6L383.5 330.6L383.9 330.6L384.3 330.6L384.6 330.6L384.8 330.6L384.9 330.6" fill="none" stroke="#000" stroke-opacity="0.75" stroke-width="0.25"/><circle cx="383.5" cy="339.4" r="8.9" fill="none" stroke="#000" stroke-width="0.5"/><line x1="310.2" y1="357.3" x2="541.1" y2="357.3" stroke="#8a8a8a" stroke-width="0.9"/><line x1="316.1" y1="312.3" x2="316.1" y2="362.8" stroke="#6a6a6a" stroke-width="0.9"/><line x1="361.1" y1="357.3" x2="361.1" y2="362.8" stroke="#8a8a8a" stroke-width="0.7"/><line x1="406.1" y1="357.3" x2="406.1" y2="362.8" stroke="#8a8a8a" stroke-width="0.7"/><line x1="451.1" y1="357.3" x2="451.1" y2="362.8" stroke="#8a8a8a" stroke-width="0.7"/><line x1="496.1" y1="357.3" x2="496.1" y2="362.8" stroke="#8a8a8a" stroke-width="0.7"/><line x1="541.1" y1="357.3" x2="541.1" y2="362.8" stroke="#8a8a8a" stroke-width="0.7"/><line x1="310.2" y1="334.8" x2="316.1" y2="334.8" stroke="#8a8a8a" stroke-width="0.7"/><line x1="310.2" y1="312.3" x2="316.1" y2="312.3" stroke="#8a8a8a" stroke-width="0.7"/><text x="316.1" y="370.5" font-family="Liberation Sans, sans-serif" font-size="6.6" font-weight="normal" text-anchor="middle" dominant-baseline="central" fill="#333333" stroke="#333333" stroke-width="0.18">0</text><text x="361.1" y="370.5" font-family="Liberation Sans, sans-serif" font-size="6.6" font-weight="normal" text-anchor="middle" dominant-baseline="central" fill="#333333" stroke="#333333" stroke-width="0.18">100</text><text x="406.1" y="370.5" font-family="Liberation Sans, sans-serif" font-size="6.6" font-weight="normal" text-anchor="middle" dominant-baseline="central" fill="#333333" stroke="#333333" stroke-width="0.18">200</text><text x="451.1" y="370.5" font-family="Liberation Sans, sans-serif" font-size="6.6" font-weight="normal" text-anchor="middle" dominant-baseline="central" fill="#333333" stroke="#333333" stroke-width="0.18">300</text><text x="496.1" y="370.5" font-family="Liberation Sans, sans-serif" font-size="6.6" font-weight="normal" text-anchor="middle" dominant-baseline="central" fill="#333333" stroke="#333333" stroke-width="0.18">400</text><text x="541.1" y="370.5" font-family="Liberation Sans, sans-serif" font-size="6.6" font-weight="normal" text-anchor="middle" dominant-baseline="central" fill="#333333" stroke="#333333" stroke-width="0.18">500</text><text x="307.5" y="357.3" font-family="Liberation Sans, sans-serif" font-size="6.6" font-weight="normal" text-anchor="end" dominant-baseline="central" fill="#333333" stroke="#333333" stroke-width="0.18">0</text><text x="307.5" y="334.8" font-family="Liberation Sans, sans-serif" font-size="6.6" font-weight="normal" text-anchor="end" dominant-baseline="central" fill="#333333" stroke="#333333" stroke-width="0.18">50</text><text x="307.5" y="312.3" font-family="Liberation Sans, sans-serif" font-size="6.6" font-weight="normal" text-anchor="end" dominant-baseline="central" fill="#333333" stroke="#333333" stroke-width="0.18">100</text><text x="457.9" y="377.7" font-family="Liberation Sans, sans-serif" font-size="6.6" font-weight="normal" text-anchor="middle" dominant-baseline="central" fill="#333333" stroke="#333333" stroke-width="0.18">x</text><text x="291" y="335" font-family="Liberation Sans, sans-serif" font-size="6.6" font-weight="normal" text-anchor="middle" dominant-baseline="central" fill="#333333" stroke="#333333" stroke-width="0.18" transform="rotate(-90 291 335)">z</text><rect x="316.1" y="312.4" width="60.2" height="14.4" fill="#ffffff" stroke="#8a8a8a" stroke-width="0.7"/><line x1="318.8" y1="316.5" x2="338.5" y2="316.5" stroke="#ff7070" stroke-width="0.6"/><polygon points="328.65,314.5 329.14,315.82 330.55,315.88 329.45,316.76 329.83,318.12 328.65,317.34 327.47,318.12 327.85,316.76 326.75,315.88 328.16,315.82" fill="#f89a70" stroke="#ff3030" stroke-width="0.55" fill-opacity="0.75"/><line x1="318.8" y1="322.8" x2="338.5" y2="322.8" stroke="#8080ff" stroke-width="0.8"/><text x="340.4" y="316.5" font-family="Liberation Serif, sans-serif" font-size="5.35" font-weight="bold" text-anchor="start" dominant-baseline="central" fill="#111" stroke="#111" stroke-width="0.18">Planning path</text><text x="340.4" y="322.8" font-family="Liberation Serif, sans-serif" font-size="5.35" font-weight="bold" text-anchor="start" dominant-baseline="central" fill="#111" stroke="#111" stroke-width="0.18">Following path</text><line x1="154.7" y1="179.5" x2="32.2" y2="124.8" stroke="#efefef" stroke-width="0.6"/><line x1="154.7" y1="179.5" x2="238.4" y2="99.8" stroke="#efefef" stroke-width="0.6"/><line x1="171.44" y1="163.56" x2="48.94" y2="108.86" stroke="#efefef" stroke-width="0.6"/><line x1="130.2" y1="168.56" x2="213.9" y2="88.86" stroke="#efefef" stroke-width="0.6"/><line x1="188.18" y1="147.62" x2="65.68" y2="92.92" stroke="#efefef" stroke-width="0.6"/><line x1="105.7" y1="157.62" x2="189.4" y2="77.92" stroke="#efefef" stroke-width="0.6"/><line x1="204.92" y1="131.68" x2="82.42" y2="76.98" stroke="#efefef" stroke-width="0.6"/><line x1="81.2" y1="146.68" x2="164.9" y2="66.98" stroke="#efefef" stroke-width="0.6"/><line x1="221.66" y1="115.74" x2="99.16" y2="61.04" stroke="#efefef" stroke-width="0.6"/><line x1="56.7" y1="135.74" x2="140.4" y2="56.04" stroke="#efefef" stroke-width="0.6"/><line x1="238.4" y1="99.8" x2="115.9" y2="45.1" stroke="#efefef" stroke-width="0.6"/><line x1="32.2" y1="124.8" x2="115.9" y2="45.1" stroke="#efefef" stroke-width="0.6"/><line x1="238.4" y1="99.8" x2="238.4" y2="77.6" stroke="#efefef" stroke-width="0.6"/><line x1="32.2" y1="124.8" x2="32.2" y2="102.6" stroke="#efefef" stroke-width="0.6"/><line x1="213.9" y1="88.86" x2="213.9" y2="66.66" stroke="#efefef" stroke-width="0.6"/><line x1="48.94" y1="108.86" x2="48.94" y2="86.66" stroke="#efefef" stroke-width="0.6"/><line x1="189.4" y1="77.92" x2="189.4" y2="55.72" stroke="#efefef" stroke-width="0.6"/><line x1="65.68" y1="92.92" x2="65.68" y2="70.72" stroke="#efefef" stroke-width="0.6"/><line x1="164.9" y1="66.98" x2="164.9" y2="44.78" stroke="#efefef" stroke-width="0.6"/><line x1="82.42" y1="76.98" x2="82.42" y2="54.78" stroke="#efefef" stroke-width="0.6"/><line x1="140.4" y1="56.04" x2="140.4" y2="33.84" stroke="#efefef" stroke-width="0.6"/><line x1="99.16" y1="61.04" x2="99.16" y2="38.84" stroke="#efefef" stroke-width="0.6"/><line x1="115.9" y1="45.1" x2="115.9" y2="22.9" stroke="#efefef" stroke-width="0.6"/><line x1="115.9" y1="45.1" x2="115.9" y2="22.9" stroke="#efefef" stroke-width="0.6"/><line x1="238.4" y1="99.8" x2="115.9" y2="45.1" stroke="#efefef" stroke-width="0.6"/><line x1="32.2" y1="124.8" x2="115.9" y2="45.1" stroke="#efefef" stroke-width="0.6"/><line x1="238.4" y1="88.7" x2="115.9" y2="34" stroke="#efefef" stroke-width="0.6"/><line x1="32.2" y1="113.7" x2="115.9" y2="34" stroke="#efefef" stroke-width="0.6"/><line x1="238.4" y1="77.6" x2="115.9" y2="22.9" stroke="#efefef" stroke-width="0.6"/><line x1="32.2" y1="102.6" x2="115.9" y2="22.9" stroke="#efefef" stroke-width="0.6"/><polygon points="130.11,46.04 130.9,48.15 133.16,48.25 131.39,49.65 132,51.82 130.11,50.58 128.23,51.82 128.84,49.65 127.07,48.25 129.32,48.15" fill="#f2dc10" stroke="#4a4010" stroke-width="0.5"/><polygon points="101.37,64.09 111.41,54.52 124.88,60.54 124.88,72.53 114.84,82.09 101.37,76.07" fill="#a0ce3a" stroke="none" stroke-width="0"/><path d="M120.5 56.9L121.8 57.1L121.9 57.1L120.3 56.9ZM121.8 57.1L123.2 56.9L123.5 56.9L121.9 57.1Z" fill="#00ff7e" stroke="#000" stroke-opacity="0.85" stroke-width="0.3" stroke-linejoin="round"/><path d="M118.8 56.5L120.3 56.9L120.0 56.7L118.4 56.2ZM120.3 56.9L121.9 57.1L121.9 56.9L120.0 56.7ZM121.9 57.1L123.5 56.9L123.7 56.7L121.9 56.9ZM123.5 56.9L124.9 56.4L125.4 56.1L123.7 56.7ZM117.6 55.7L118.8 56.5L118.4 56.2L117.0 55.4Z" fill="#00ffaa" stroke="#000" stroke-opacity="0.85" stroke-width="0.3" stroke-linejoin="round"/><path d="M118.4 56.2L120.0 56.7L119.9 56.4L118.0 55.8ZM120.0 56.7L121.9 56.9L121.9 56.6L119.9 56.4ZM121.9 56.9L123.7 56.7L123.9 56.3L121.9 56.6ZM123.7 56.7L125.4 56.1L125.7 55.7L123.9 56.3ZM125.4 56.1L126.6 55.2L127.1 54.7L125.7 55.7ZM117.0 55.4L118.4 56.2L118.0 55.8L116.5 54.9Z" fill="#00ffde" stroke="#000" stroke-opacity="0.85" stroke-width="0.3" stroke-linejoin="round"/><path d="M118.0 55.8L119.9 56.4L119.7 55.9L117.8 55.2ZM119.9 56.4L121.9 56.6L121.9 56.0L119.7 55.9ZM121.9 56.6L123.9 56.3L124.1 55.8L121.9 56.0ZM123.9 56.3L125.7 55.7L126.0 55.1L124.1 55.8ZM125.7 55.7L127.1 54.7L127.5 54.0L126.0 55.1ZM127.1 54.7L128.0 53.5L128.5 52.7L127.5 54.0ZM115.5 53.7L116.5 54.9L116.2 54.2L115.1 53.0ZM116.5 54.9L118.0 55.8L117.8 55.2L116.2 54.2Z" fill="#00e6ff" stroke="#000" stroke-opacity="0.85" stroke-width="0.3" stroke-linejoin="round"/><path d="M117.8 55.2L119.7 55.9L119.7 55.2L117.6 54.5ZM119.7 55.9L121.9 56.0L121.9 55.4L119.7 55.2ZM121.9 56.0L124.1 55.8L124.2 55.1L121.9 55.4ZM124.1 55.8L126.0 55.1L126.2 54.4L124.2 55.1ZM126.0 55.1L127.5 54.0L127.7 53.3L126.2 54.4ZM127.5 54.0L128.5 52.7L128.7 51.9L127.7 53.3ZM114.7 51.6L115.1 53.0L114.9 52.2L114.4 50.7ZM115.1 53.0L116.2 54.2L116.0 53.5L114.9 52.2ZM116.2 54.2L117.8 55.2L117.6 54.5L116.0 53.5Z" fill="#00a6ff" stroke="#000" stroke-opacity="0.85" stroke-width="0.3" stroke-linejoin="round"/><path d="M117.6 54.5L119.7 55.2L119.6 54.4L117.6 53.7ZM119.7 55.2L121.9 55.4L121.9 54.6L119.6 54.4ZM121.9 55.4L124.2 55.1L124.2 54.3L121.9 54.6ZM124.2 55.1L126.2 54.4L126.2 53.6L124.2 54.3ZM126.2 54.4L127.7 53.3L127.8 52.5L126.2 53.6ZM127.7 53.3L128.7 51.9L128.8 51.1L127.8 52.5ZM128.7 51.9L129.0 50.5L129.1 49.6L128.8 51.1ZM114.4 50.7L114.9 52.2L114.8 51.3L114.3 49.8ZM114.9 52.2L116.0 53.5L115.9 52.7L114.8 51.3ZM116.0 53.5L117.6 54.5L117.6 53.7L115.9 52.7Z" fill="#0064ff" stroke="#000" stroke-opacity="0.85" stroke-width="0.3" stroke-linejoin="round"/><path d="M117.6 53.7L119.6 54.4L119.7 53.4L117.6 52.8ZM119.6 54.4L121.9 54.6L121.9 53.6L119.7 53.4ZM121.9 54.6L124.2 54.3L124.2 53.4L121.9 53.6ZM124.2 54.3L126.2 53.6L126.2 52.6L124.2 53.4ZM126.2 53.6L127.8 52.5L127.7 51.6L126.2 52.6ZM127.8 52.5L128.8 51.1L128.7 50.2L127.7 51.6ZM128.8 51.1L129.1 49.6L129.0 48.7L128.7 50.2ZM114.3 49.8L114.8 51.3L114.9 50.4L114.4 49.0ZM114.8 51.3L115.9 52.7L116.0 51.8L114.9 50.4ZM115.9 52.7L117.6 53.7L117.6 52.8L116.0 51.8Z" fill="#0020ff" stroke="#000" stroke-opacity="0.85" stroke-width="0.3" stroke-linejoin="round"/><path d="M117.6 52.8L119.7 53.4L119.7 52.4L117.8 51.8ZM119.7 53.4L121.9 53.6L121.9 52.6L119.7 52.4ZM121.9 53.6L124.2 53.4L124.1 52.3L121.9 52.6ZM124.2 53.4L126.2 52.6L126.0 51.7L124.1 52.3ZM126.2 52.6L127.7 51.6L127.5 50.6L126.0 51.7ZM127.7 51.6L128.7 50.2L128.5 49.3L127.5 50.6ZM128.7 50.2L129.0 48.7L128.7 47.9L128.5 49.3ZM129.0 48.7L128.6 47.3L128.3 46.5L128.7 47.9ZM114.7 47.5L114.4 49.0L114.7 48.1L115.0 46.7ZM114.4 49.0L114.9 50.4L115.1 49.5L114.7 48.1ZM114.9 50.4L116.0 51.8L116.2 50.8L115.1 49.5ZM116.0 51.8L117.6 52.8L117.8 51.8L116.2 50.8Z" fill="#2400ff" stroke="#000" stroke-opacity="0.85" stroke-width="0.3" stroke-linejoin="round"/><path d="M117.8 51.8L119.7 52.4L119.9 51.3L118.0 50.8ZM119.7 52.4L121.9 52.6L121.9 51.5L119.9 51.3ZM121.9 52.6L124.1 52.3L123.9 51.3L121.9 51.5ZM124.1 52.3L126.0 51.7L125.7 50.6L123.9 51.3ZM126.0 51.7L127.5 50.6L127.1 49.6L125.7 50.6ZM127.5 50.6L128.5 49.3L128.0 48.4L127.1 49.6ZM128.5 49.3L128.7 47.9L128.3 47.1L128.0 48.4ZM128.7 47.9L128.3 46.5L127.9 45.8L128.3 47.1ZM115.0 46.7L114.7 48.1L115.2 47.3L115.4 46.0ZM114.7 48.1L115.1 49.5L115.5 48.6L115.2 47.3ZM115.1 49.5L116.2 50.8L116.5 49.8L115.5 48.6ZM116.2 50.8L117.8 51.8L118.0 50.8L116.5 49.8Z" fill="#6700ff" stroke="#000" stroke-opacity="0.85" stroke-width="0.3" stroke-linejoin="round"/><path d="M118.0 50.8L119.9 51.3L120.0 50.2L118.4 49.7ZM119.9 51.3L121.9 51.5L121.9 50.4L120.0 50.2ZM121.9 51.5L123.9 51.3L123.7 50.1L121.9 50.4ZM123.9 51.3L125.7 50.6L125.4 49.6L123.7 50.1ZM125.7 50.6L127.1 49.6L126.6 48.7L125.4 49.6ZM127.1 49.6L128.0 48.4L127.4 47.6L126.6 48.7ZM128.0 48.4L128.3 47.1L127.7 46.3L127.4 47.6ZM128.3 47.1L127.9 45.8L127.3 45.1L127.7 46.3ZM127.9 45.8L126.9 44.6L126.4 44.1L127.3 45.1ZM116.3 44.8L115.4 46.0L116.0 45.3L116.8 44.2ZM115.4 46.0L115.2 47.3L115.8 46.6L116.0 45.3ZM115.2 47.3L115.5 48.6L116.1 47.8L115.8 46.6ZM115.5 48.6L116.5 49.8L117.0 48.8L116.1 47.8ZM116.5 49.8L118.0 50.8L118.4 49.7L117.0 48.8Z" fill="#a600ff" stroke="#000" stroke-opacity="0.85" stroke-width="0.3" stroke-linejoin="round"/><path d="M118.4 49.7L120.0 50.2L120.3 49.1L118.8 48.6ZM120.0 50.2L121.9 50.4L121.9 49.2L120.3 49.1ZM121.9 50.4L123.7 50.1L123.5 49.0L121.9 49.2ZM123.7 50.1L125.4 49.6L124.9 48.5L123.5 49.0ZM125.4 49.6L126.6 48.7L126.0 47.7L124.9 48.5ZM126.6 48.7L127.4 47.6L126.7 46.8L126.0 47.7ZM127.4 47.6L127.7 46.3L126.9 45.7L126.7 46.8ZM127.7 46.3L127.3 45.1L126.6 44.6L126.9 45.7ZM127.3 45.1L126.4 44.1L125.8 43.7L126.6 44.6ZM126.4 44.1L125.1 43.2L124.7 43.0L125.8 43.7ZM118.1 43.3L116.8 44.2L117.4 43.8L118.5 43.1ZM116.8 44.2L116.0 45.3L116.7 44.8L117.4 43.8ZM116.0 45.3L115.8 46.6L116.5 45.9L116.7 44.8ZM115.8 46.6L116.1 47.8L116.8 46.9L116.5 45.9ZM116.1 47.8L117.0 48.8L117.6 47.9L116.8 46.9ZM117.0 48.8L118.4 49.7L118.8 48.6L117.6 47.9Z" fill="#e000ff" stroke="#000" stroke-opacity="0.85" stroke-width="0.3" stroke-linejoin="round"/><path d="M118.8 48.6L120.3 49.1L120.5 48.0L119.3 47.6ZM120.3 49.1L121.9 49.2L121.8 48.1L120.5 48.0ZM121.9 49.2L123.5 49.0L123.2 47.9L121.8 48.1ZM123.5 49.0L124.9 48.5L124.4 47.5L123.2 47.9ZM124.9 48.5L126.0 47.7L125.3 46.8L124.4 47.5ZM126.0 47.7L126.7 46.8L125.9 46.0L125.3 46.8ZM126.7 46.8L126.9 45.7L126.1 45.1L125.9 46.0ZM126.9 45.7L126.6 44.6L125.8 44.3L126.1 45.1ZM126.6 44.6L125.8 43.7L125.2 43.5L125.8 44.3ZM125.8 43.7L124.7 43.0L124.2 42.9L125.2 43.5ZM124.7 43.0L123.2 42.5L122.9 42.5L124.2 42.9ZM123.2 42.5L121.6 42.4L121.6 42.4L122.9 42.5ZM121.6 42.4L120.0 42.6L120.3 42.5L121.6 42.4ZM120.0 42.6L118.5 43.1L119.1 43.0L120.3 42.5ZM118.5 43.1L117.4 43.8L118.1 43.6L119.1 43.0ZM117.4 43.8L116.7 44.8L117.6 44.4L118.1 43.6ZM116.7 44.8L116.5 45.9L117.4 45.3L117.6 44.4ZM116.5 45.9L116.8 46.9L117.6 46.2L117.4 45.3ZM116.8 46.9L117.6 47.9L118.3 47.0L117.6 46.2ZM117.6 47.9L118.8 48.6L119.3 47.6L118.3 47.0Z" fill="#ff00ea" stroke="#000" stroke-opacity="0.85" stroke-width="0.3" stroke-linejoin="round"/><path d="M119.3 47.6L120.5 48.0L120.8 46.9L119.8 46.6ZM120.5 48.0L121.8 48.1L121.8 47.0L120.8 46.9ZM121.8 48.1L123.2 47.9L122.8 46.8L121.8 47.0ZM123.2 47.9L124.4 47.5L123.8 46.5L122.8 46.8ZM124.4 47.5L125.3 46.8L124.5 46.0L123.8 46.5ZM125.3 46.8L125.9 46.0L124.9 45.4L124.5 46.0ZM125.9 46.0L126.1 45.1L125.1 44.7L124.9 45.4ZM126.1 45.1L125.8 44.3L124.9 44.0L125.1 44.7ZM125.8 44.3L125.2 43.5L124.4 43.4L124.9 44.0ZM125.2 43.5L124.2 42.9L123.6 43.0L124.4 43.4ZM124.2 42.9L122.9 42.5L122.7 42.7L123.6 43.0ZM122.9 42.5L121.6 42.4L121.6 42.6L122.7 42.7ZM121.6 42.4L120.3 42.5L120.6 42.7L121.6 42.6ZM120.3 42.5L119.1 43.0L119.7 43.0L120.6 42.7ZM119.1 43.0L118.1 43.6L119.0 43.5L119.7 43.0ZM118.1 43.6L117.6 44.4L118.5 44.1L119.0 43.5ZM117.6 44.4L117.4 45.3L118.4 44.8L118.5 44.1ZM117.4 45.3L117.6 46.2L118.6 45.5L118.4 44.8ZM117.6 46.2L118.3 47.0L119.1 46.1L118.6 45.5ZM118.3 47.0L119.3 47.6L119.8 46.6L119.1 46.1Z" fill="#ff00bd" stroke="#000" stroke-opacity="0.85" stroke-width="0.3" stroke-linejoin="round"/><path d="M119.8 46.6L120.8 46.9L121.1 45.9L120.4 45.7ZM120.8 46.9L121.8 47.0L121.8 45.9L121.1 45.9ZM121.8 47.0L122.8 46.8L122.5 45.8L121.8 45.9ZM122.8 46.8L123.8 46.5L123.1 45.6L122.5 45.8ZM123.8 46.5L124.5 46.0L123.6 45.3L123.1 45.6ZM124.5 46.0L124.9 45.4L123.9 44.9L123.6 45.3ZM124.9 45.4L125.1 44.7L124.0 44.4L123.9 44.9ZM125.1 44.7L124.9 44.0L123.9 43.9L124.0 44.4ZM124.9 44.0L124.4 43.4L123.5 43.5L123.9 43.9ZM124.4 43.4L123.6 43.0L123.0 43.2L123.5 43.5ZM123.6 43.0L122.7 42.7L122.4 43.0L123.0 43.2ZM122.7 42.7L121.6 42.6L121.7 42.9L122.4 43.0ZM121.6 42.6L120.6 42.7L121.0 43.0L121.7 42.9ZM120.6 42.7L119.7 43.0L120.3 43.2L121.0 43.0ZM119.7 43.0L119.0 43.5L119.8 43.6L120.3 43.2ZM119.0 43.5L118.5 44.1L119.5 44.0L119.8 43.6ZM118.5 44.1L118.4 44.8L119.4 44.5L119.5 44.0ZM118.4 44.8L118.6 45.5L119.6 44.9L119.4 44.5ZM118.6 45.5L119.1 46.1L119.9 45.3L119.6 44.9ZM119.1 46.1L119.8 46.6L120.4 45.7L119.9 45.3Z" fill="#ff009a" stroke="#000" stroke-opacity="0.85" stroke-width="0.3" stroke-linejoin="round"/><path d="M120.4 45.7L121.1 45.9L121.4 45.0L121.1 44.9ZM121.1 45.9L121.8 45.9L121.8 45.0L121.4 45.0ZM121.8 45.9L122.5 45.8L122.1 44.9L121.8 45.0ZM122.5 45.8L123.1 45.6L122.4 44.8L122.1 44.9ZM123.1 45.6L123.6 45.3L122.7 44.7L122.4 44.8ZM123.6 45.3L123.9 44.9L122.8 44.4L122.7 44.7ZM123.9 44.9L124.0 44.4L122.9 44.2L122.8 44.4ZM124.0 44.4L123.9 43.9L122.8 44.0L122.9 44.2ZM123.9 43.9L123.5 43.5L122.6 43.8L122.8 44.0ZM123.5 43.5L123.0 43.2L122.4 43.6L122.6 43.8ZM123.0 43.2L122.4 43.0L122.0 43.5L122.4 43.6ZM122.4 43.0L121.7 42.9L121.7 43.5L122.0 43.5ZM121.7 42.9L121.0 43.0L121.3 43.5L121.7 43.5ZM121.0 43.0L120.3 43.2L121.0 43.6L121.3 43.5ZM120.3 43.2L119.8 43.6L120.8 43.8L121.0 43.6ZM119.8 43.6L119.5 44.0L120.6 44.0L120.8 43.8ZM119.5 44.0L119.4 44.5L120.6 44.2L120.6 44.0ZM119.4 44.5L119.6 44.9L120.6 44.5L120.6 44.2ZM119.6 44.9L119.9 45.3L120.8 44.7L120.6 44.5ZM119.9 45.3L120.4 45.7L121.1 44.9L120.8 44.7Z" fill="#ff0080" stroke="#000" stroke-opacity="0.85" stroke-width="0.3" stroke-linejoin="round"/><path d="M121.1 44.9L121.4 45.0L121.7 44.2ZM121.4 45.0L121.8 45.0L121.7 44.2ZM121.8 45.0L122.1 44.9L121.7 44.2ZM122.1 44.9L122.4 44.8L121.7 44.2ZM122.4 44.8L122.7 44.7L121.7 44.2ZM122.7 44.7L122.8 44.4L121.7 44.2ZM122.8 44.4L122.9 44.2L121.7 44.2ZM122.9 44.2L122.8 44.0L121.7 44.2ZM122.8 44.0L122.6 43.8L121.7 44.2ZM122.6 43.8L122.4 43.6L121.7 44.2ZM122.4 43.6L122.0 43.5L121.7 44.2ZM122.0 43.5L121.7 43.5L121.7 44.2ZM121.7 43.5L121.3 43.5L121.7 44.2ZM121.3 43.5L121.0 43.6L121.7 44.2ZM121.0 43.6L120.8 43.8L121.7 44.2ZM120.8 43.8L120.6 44.0L121.7 44.2ZM120.6 44.0L120.6 44.2L121.7 44.2ZM120.6 44.2L120.6 44.5L121.7 44.2ZM120.6 44.5L120.8 44.7L121.7 44.2ZM120.8 44.7L121.1 44.9L121.7 44.2Z" fill="#ff0070" stroke="#000" stroke-opacity="0.85" stroke-width="0.3" stroke-linejoin="round"/><circle cx="121.72" cy="49.72" r="7.38" fill="none" stroke="#000" stroke-width="0.5"/><path d="M167.8 77.3L168.9 77.4L168.9 77.4L167.6 77.3ZM168.9 77.4L169.9 77.3L170.2 77.3L168.9 77.4Z" fill="#ffd100" stroke="#000" stroke-opacity="0.85" stroke-width="0.3" stroke-linejoin="round"/><path d="M166.4 76.9L167.6 77.3L167.4 77.2L166.1 76.7ZM167.6 77.3L168.9 77.4L168.9 77.3L167.4 77.2ZM168.9 77.4L170.2 77.3L170.4 77.1L168.9 77.3ZM170.2 77.3L171.3 76.9L171.7 76.6L170.4 77.1ZM165.5 76.4L166.4 76.9L166.1 76.7L165.0 76.1Z" fill="#ffe500" stroke="#000" stroke-opacity="0.85" stroke-width="0.3" stroke-linejoin="round"/><path d="M166.1 76.7L167.4 77.2L167.3 76.9L165.8 76.4ZM167.4 77.2L168.9 77.3L168.9 77.0L167.3 76.9ZM168.9 77.3L170.4 77.1L170.5 76.8L168.9 77.0ZM170.4 77.1L171.7 76.6L172.0 76.3L170.5 76.8ZM171.7 76.6L172.7 75.9L173.1 75.5L172.0 76.3ZM165.0 76.1L166.1 76.7L165.8 76.4L164.6 75.7Z" fill="#fffd00" stroke="#000" stroke-opacity="0.85" stroke-width="0.3" stroke-linejoin="round"/><path d="M165.8 76.4L167.3 76.9L167.2 76.4L165.6 76.0ZM167.3 76.9L168.9 77.0L168.9 76.6L167.2 76.4ZM168.9 77.0L170.5 76.8L170.7 76.4L168.9 76.6ZM170.5 76.8L172.0 76.3L172.2 75.8L170.7 76.4ZM172.0 76.3L173.1 75.5L173.4 75.0L172.2 75.8ZM173.1 75.5L173.8 74.5L174.2 74.0L173.4 75.0ZM163.8 74.7L164.6 75.7L164.3 75.2L163.5 74.1ZM164.6 75.7L165.8 76.4L165.6 76.0L164.3 75.2Z" fill="#e6ff00" stroke="#000" stroke-opacity="0.85" stroke-width="0.3" stroke-linejoin="round"/><path d="M165.6 76.0L167.2 76.4L167.1 75.9L165.5 75.4ZM167.2 76.4L168.9 76.6L168.9 76.1L167.1 75.9ZM168.9 76.6L170.7 76.4L170.7 75.8L168.9 76.1ZM170.7 76.4L172.2 75.8L172.3 75.3L170.7 75.8ZM172.2 75.8L173.4 75.0L173.6 74.4L172.3 75.3ZM173.4 75.0L174.2 74.0L174.4 73.3L173.6 74.4ZM163.2 73.0L163.5 74.1L163.3 73.5L163.0 72.3ZM163.5 74.1L164.3 75.2L164.2 74.6L163.3 73.5ZM164.3 75.2L165.6 76.0L165.5 75.4L164.2 74.6Z" fill="#c9ff00" stroke="#000" stroke-opacity="0.85" stroke-width="0.3" stroke-linejoin="round"/><path d="M165.5 75.4L167.1 75.9L167.1 75.3L165.5 74.7ZM167.1 75.9L168.9 76.1L169.0 75.4L167.1 75.3ZM168.9 76.1L170.7 75.8L170.8 75.2L169.0 75.4ZM170.7 75.8L172.3 75.3L172.4 74.6L170.8 75.2ZM172.3 75.3L173.6 74.4L173.7 73.7L172.4 74.6ZM173.6 74.4L174.4 73.3L174.4 72.6L173.7 73.7ZM174.4 73.3L174.6 72.1L174.7 71.4L174.4 72.6ZM163.0 72.3L163.3 73.5L163.2 72.8L162.9 71.6ZM163.3 73.5L164.2 74.6L164.1 73.9L163.2 72.8ZM164.2 74.6L165.5 75.4L165.5 74.7L164.1 73.9Z" fill="#aaff00" stroke="#000" stroke-opacity="0.85" stroke-width="0.3" stroke-linejoin="round"/><path d="M165.5 74.7L167.1 75.3L167.1 74.5L165.5 74.0ZM167.1 75.3L169.0 75.4L168.9 74.7L167.1 74.5ZM169.0 75.4L170.8 75.2L170.7 74.5L168.9 74.7ZM170.8 75.2L172.4 74.6L172.3 73.9L170.7 74.5ZM172.4 74.6L173.7 73.7L173.6 73.0L172.3 73.9ZM173.7 73.7L174.4 72.6L174.4 71.9L173.6 73.0ZM174.4 72.6L174.7 71.4L174.6 70.7L174.4 71.9ZM162.9 71.6L163.2 72.8L163.3 72.1L163.0 70.9ZM163.2 72.8L164.1 73.9L164.2 73.2L163.3 72.1ZM164.1 73.9L165.5 74.7L165.5 74.0L164.2 73.2Z" fill="#8aff00" stroke="#000" stroke-opacity="0.85" stroke-width="0.3" stroke-linejoin="round"/><path d="M165.5 74.0L167.1 74.5L167.2 73.7L165.6 73.2ZM167.1 74.5L168.9 74.7L168.9 73.8L167.2 73.7ZM168.9 74.7L170.7 74.5L170.7 73.6L168.9 73.8ZM170.7 74.5L172.3 73.9L172.2 73.1L170.7 73.6ZM172.3 73.9L173.6 73.0L173.4 72.3L172.2 73.1ZM173.6 73.0L174.4 71.9L174.2 71.2L173.4 72.3ZM174.4 71.9L174.6 70.7L174.4 70.1L174.2 71.2ZM174.6 70.7L174.3 69.6L174.1 68.9L174.4 70.1ZM163.2 69.8L163.0 70.9L163.2 70.3L163.4 69.1ZM163.0 70.9L163.3 72.1L163.5 71.4L163.2 70.3ZM163.3 72.1L164.2 73.2L164.3 72.4L163.5 71.4ZM164.2 73.2L165.5 74.0L165.6 73.2L164.3 72.4Z" fill="#6bff00" stroke="#000" stroke-opacity="0.85" stroke-width="0.3" stroke-linejoin="round"/><path d="M165.6 73.2L167.2 73.7L167.3 72.8L165.8 72.4ZM167.2 73.7L168.9 73.8L168.9 73.0L167.3 72.8ZM168.9 73.8L170.7 73.6L170.5 72.8L168.9 73.0ZM170.7 73.6L172.2 73.1L172.0 72.3L170.5 72.8ZM172.2 73.1L173.4 72.3L173.1 71.5L172.0 72.3ZM173.4 72.3L174.2 71.2L173.8 70.5L173.1 71.5ZM174.2 71.2L174.4 70.1L174.0 69.4L173.8 70.5ZM174.4 70.1L174.1 68.9L173.7 68.4L174.0 69.4ZM163.4 69.1L163.2 70.3L163.5 69.6L163.7 68.5ZM163.2 70.3L163.5 71.4L163.8 70.7L163.5 69.6ZM163.5 71.4L164.3 72.4L164.6 71.6L163.8 70.7ZM164.3 72.4L165.6 73.2L165.8 72.4L164.6 71.6Z" fill="#4cff00" stroke="#000" stroke-opacity="0.85" stroke-width="0.3" stroke-linejoin="round"/><path d="M165.8 72.4L167.3 72.8L167.4 71.9L166.1 71.5ZM167.3 72.8L168.9 73.0L168.9 72.1L167.4 71.9ZM168.9 73.0L170.5 72.8L170.4 71.9L168.9 72.1ZM170.5 72.8L172.0 72.3L171.7 71.4L170.4 71.9ZM172.0 72.3L173.1 71.5L172.7 70.7L171.7 71.4ZM173.1 71.5L173.8 70.5L173.4 69.8L172.7 70.7ZM173.8 70.5L174.0 69.4L173.6 68.8L173.4 69.8ZM174.0 69.4L173.7 68.4L173.3 67.9L173.6 68.8ZM173.7 68.4L172.9 67.4L172.6 67.0L173.3 67.9ZM164.4 67.6L163.7 68.5L164.2 68.0L164.8 67.2ZM163.7 68.5L163.5 69.6L164.0 69.0L164.2 68.0ZM163.5 69.6L163.8 70.7L164.3 70.0L164.0 69.0ZM163.8 70.7L164.6 71.6L165.0 70.8L164.3 70.0ZM164.6 71.6L165.8 72.4L166.1 71.5L165.0 70.8Z" fill="#2eff00" stroke="#000" stroke-opacity="0.85" stroke-width="0.3" stroke-linejoin="round"/><path d="M166.1 71.5L167.4 71.9L167.6 71.0L166.4 70.7ZM167.4 71.9L168.9 72.1L168.9 71.1L167.6 71.0ZM168.9 72.1L170.4 71.9L170.2 71.0L168.9 71.1ZM170.4 71.9L171.7 71.4L171.3 70.6L170.2 71.0ZM171.7 71.4L172.7 70.7L172.2 69.9L171.3 70.6ZM172.7 70.7L173.4 69.8L172.8 69.2L172.2 69.9ZM173.4 69.8L173.6 68.8L173.0 68.3L172.8 69.2ZM173.6 68.8L173.3 67.9L172.7 67.5L173.0 68.3ZM173.3 67.9L172.6 67.0L172.1 66.7L172.7 67.5ZM172.6 67.0L171.5 66.3L171.1 66.1L172.1 66.7ZM165.9 66.4L164.8 67.2L165.3 66.8L166.2 66.2ZM164.8 67.2L164.2 68.0L164.8 67.6L165.3 66.8ZM164.2 68.0L164.0 69.0L164.6 68.5L164.8 67.6ZM164.0 69.0L164.3 70.0L164.9 69.3L164.6 68.5ZM164.3 70.0L165.0 70.8L165.5 70.1L164.9 69.3ZM165.0 70.8L166.1 71.5L166.4 70.7L165.5 70.1Z" fill="#13ff00" stroke="#000" stroke-opacity="0.85" stroke-width="0.3" stroke-linejoin="round"/><path d="M166.4 70.7L167.6 71.0L167.8 70.1L166.8 69.8ZM167.6 71.0L168.9 71.1L168.9 70.2L167.8 70.1ZM168.9 71.1L170.2 71.0L169.9 70.1L168.9 70.2ZM170.2 71.0L171.3 70.6L170.9 69.7L169.9 70.1ZM171.3 70.6L172.2 69.9L171.6 69.2L170.9 69.7ZM172.2 69.9L172.8 69.2L172.1 68.6L171.6 69.2ZM172.8 69.2L173.0 68.3L172.2 67.9L172.1 68.6ZM173.0 68.3L172.7 67.5L172.0 67.2L172.2 67.9ZM172.7 67.5L172.1 66.7L171.5 66.6L172.0 67.2ZM172.1 66.7L171.1 66.1L170.7 66.1L171.5 66.6ZM171.1 66.1L170.0 65.8L169.8 65.8L170.7 66.1ZM170.0 65.8L168.7 65.7L168.7 65.7L169.8 65.8ZM168.7 65.7L167.4 65.8L167.6 65.8L168.7 65.7ZM167.4 65.8L166.2 66.2L166.7 66.1L167.6 65.8ZM166.2 66.2L165.3 66.8L165.9 66.7L166.7 66.1ZM165.3 66.8L164.8 67.6L165.5 67.3L165.9 66.7ZM164.8 67.6L164.6 68.5L165.3 68.0L165.5 67.3ZM164.6 68.5L164.9 69.3L165.5 68.7L165.3 68.0ZM164.9 69.3L165.5 70.1L166.0 69.3L165.5 68.7ZM165.5 70.1L166.4 70.7L166.8 69.8L166.0 69.3Z" fill="#00ff05" stroke="#000" stroke-opacity="0.85" stroke-width="0.3" stroke-linejoin="round"/><path d="M166.8 69.8L167.8 70.1L168.0 69.3L167.3 69.0ZM167.8 70.1L168.9 70.2L168.9 69.3L168.0 69.3ZM168.9 70.2L169.9 70.1L169.7 69.2L168.9 69.3ZM169.9 70.1L170.9 69.7L170.4 69.0L169.7 69.2ZM170.9 69.7L171.6 69.2L171.0 68.6L170.4 69.0ZM171.6 69.2L172.1 68.6L171.4 68.1L171.0 68.6ZM172.1 68.6L172.2 67.9L171.5 67.5L171.4 68.1ZM172.2 67.9L172.0 67.2L171.3 67.0L171.5 67.5ZM172.0 67.2L171.5 66.6L170.9 66.5L171.3 67.0ZM171.5 66.6L170.7 66.1L170.3 66.1L170.9 66.5ZM170.7 66.1L169.8 65.8L169.5 65.9L170.3 66.1ZM169.8 65.8L168.7 65.7L168.7 65.8L169.5 65.9ZM168.7 65.7L167.6 65.8L167.9 65.9L168.7 65.8ZM167.6 65.8L166.7 66.1L167.1 66.2L167.9 65.9ZM166.7 66.1L165.9 66.7L166.6 66.6L167.1 66.2ZM165.9 66.7L165.5 67.3L166.2 67.1L166.6 66.6ZM165.5 67.3L165.3 68.0L166.1 67.6L166.2 67.1ZM165.3 68.0L165.5 68.7L166.3 68.2L166.1 67.6ZM165.5 68.7L166.0 69.3L166.7 68.6L166.3 68.2ZM166.0 69.3L166.8 69.8L167.3 69.0L166.7 68.6Z" fill="#00ff19" stroke="#000" stroke-opacity="0.85" stroke-width="0.3" stroke-linejoin="round"/><path d="M167.3 69.0L168.0 69.3L168.3 68.5L167.8 68.3ZM168.0 69.3L168.9 69.3L168.8 68.5L168.3 68.5ZM168.9 69.3L169.7 69.2L169.4 68.4L168.8 68.5ZM169.7 69.2L170.4 69.0L169.9 68.3L169.4 68.4ZM170.4 69.0L171.0 68.6L170.3 68.0L169.9 68.3ZM171.0 68.6L171.4 68.1L170.5 67.6L170.3 68.0ZM171.4 68.1L171.5 67.5L170.6 67.3L170.5 67.6ZM171.5 67.5L171.3 67.0L170.5 66.9L170.6 67.3ZM171.3 67.0L170.9 66.5L170.2 66.6L170.5 66.9ZM170.9 66.5L170.3 66.1L169.8 66.3L170.2 66.6ZM170.3 66.1L169.5 65.9L169.3 66.2L169.8 66.3ZM169.5 65.9L168.7 65.8L168.7 66.1L169.3 66.2ZM168.7 65.8L167.9 65.9L168.2 66.2L168.7 66.1ZM167.9 65.9L167.1 66.2L167.7 66.4L168.2 66.2ZM167.1 66.2L166.6 66.6L167.3 66.6L167.7 66.4ZM166.6 66.6L166.2 67.1L167.0 67.0L167.3 66.6ZM166.2 67.1L166.1 67.6L167.0 67.3L167.0 67.0ZM166.1 67.6L166.3 68.2L167.1 67.7L167.0 67.3ZM166.3 68.2L166.7 68.6L167.3 68.0L167.1 67.7ZM166.7 68.6L167.3 69.0L167.8 68.3L167.3 68.0Z" fill="#00ff2a" stroke="#000" stroke-opacity="0.85" stroke-width="0.3" stroke-linejoin="round"/><path d="M167.8 68.3L168.3 68.5L168.5 67.7L168.3 67.6ZM168.3 68.5L168.8 68.5L168.8 67.8L168.5 67.7ZM168.8 68.5L169.4 68.4L169.1 67.7L168.8 67.8ZM169.4 68.4L169.9 68.3L169.3 67.6L169.1 67.7ZM169.9 68.3L170.3 68.0L169.5 67.5L169.3 67.6ZM170.3 68.0L170.5 67.6L169.7 67.3L169.5 67.5ZM170.5 67.6L170.6 67.3L169.7 67.1L169.7 67.3ZM170.6 67.3L170.5 66.9L169.6 66.9L169.7 67.1ZM170.5 66.9L170.2 66.6L169.5 66.8L169.6 66.9ZM170.2 66.6L169.8 66.3L169.3 66.6L169.5 66.8ZM169.8 66.3L169.3 66.2L169.0 66.6L169.3 66.6ZM169.3 66.2L168.7 66.1L168.8 66.5L169.0 66.6ZM168.7 66.1L168.2 66.2L168.5 66.6L168.8 66.5ZM168.2 66.2L167.7 66.4L168.2 66.7L168.5 66.6ZM167.7 66.4L167.3 66.6L168.0 66.8L168.2 66.7ZM167.3 66.6L167.0 67.0L167.9 67.0L168.0 66.8ZM167.0 67.0L167.0 67.3L167.9 67.2L167.9 67.0ZM167.0 67.3L167.1 67.7L167.9 67.3L167.9 67.2ZM167.1 67.7L167.3 68.0L168.0 67.5L167.9 67.3ZM167.3 68.0L167.8 68.3L168.3 67.6L168.0 67.5Z" fill="#00ff36" stroke="#000" stroke-opacity="0.85" stroke-width="0.3" stroke-linejoin="round"/><path d="M168.3 67.6L168.5 67.7L168.8 67.1ZM168.5 67.7L168.8 67.8L168.8 67.1ZM168.8 67.8L169.1 67.7L168.8 67.1ZM169.1 67.7L169.3 67.6L168.8 67.1ZM169.3 67.6L169.5 67.5L168.8 67.1ZM169.5 67.5L169.7 67.3L168.8 67.1ZM169.7 67.3L169.7 67.1L168.8 67.1ZM169.7 67.1L169.6 66.9L168.8 67.1ZM169.6 66.9L169.5 66.8L168.8 67.1ZM169.5 66.8L169.3 66.6L168.8 67.1ZM169.3 66.6L169.0 66.6L168.8 67.1ZM169.0 66.6L168.8 66.5L168.8 67.1ZM168.8 66.5L168.5 66.6L168.8 67.1ZM168.5 66.6L168.2 66.7L168.8 67.1ZM168.2 66.7L168.0 66.8L168.8 67.1ZM168.0 66.8L167.9 67.0L168.8 67.1ZM167.9 67.0L167.9 67.2L168.8 67.1ZM167.9 67.2L167.9 67.3L168.8 67.1ZM167.9 67.3L168.0 67.5L168.8 67.1ZM168.0 67.5L168.3 67.6L168.8 67.1Z" fill="#00ff3d" stroke="#000" stroke-opacity="0.85" stroke-width="0.3" stroke-linejoin="round"/><circle cx="168.78" cy="71.54" r="5.9" fill="none" stroke="#000" stroke-width="0.5"/><polygon points="126.42,88.47 135.62,79.71 147.14,84.85 147.14,94.17 137.93,102.94 126.42,97.8" fill="#a0ce3a" stroke="none" stroke-width="0"/><path d="M163.1 95.7L164.4 95.9L164.4 95.9L162.8 95.7ZM164.4 95.9L165.7 95.7L166.0 95.7L164.4 95.9Z" fill="#00ff67" stroke="#000" stroke-opacity="0.85" stroke-width="0.3" stroke-linejoin="round"/><path d="M161.3 95.3L162.8 95.7L162.6 95.5L160.9 95.0ZM162.8 95.7L164.4 95.9L164.5 95.7L162.6 95.5ZM164.4 95.9L166.0 95.7L166.3 95.5L164.5 95.7ZM166.0 95.7L167.5 95.2L167.9 94.9L166.3 95.5ZM160.2 94.5L161.3 95.3L160.9 95.0L159.6 94.2Z" fill="#00ff88" stroke="#000" stroke-opacity="0.85" stroke-width="0.3" stroke-linejoin="round"/><path d="M160.9 95.0L162.6 95.5L162.4 95.2L160.6 94.6ZM162.6 95.5L164.5 95.7L164.5 95.3L162.4 95.2ZM164.5 95.7L166.3 95.5L166.5 95.1L164.5 95.3ZM166.3 95.5L167.9 94.9L168.3 94.5L166.5 95.1ZM167.9 94.9L169.2 94.0L169.7 93.5L168.3 94.5ZM159.6 94.2L160.9 95.0L160.6 94.6L159.1 93.7Z" fill="#00ffae" stroke="#000" stroke-opacity="0.85" stroke-width="0.3" stroke-linejoin="round"/><path d="M160.6 94.6L162.4 95.2L162.3 94.6L160.3 94.0ZM162.4 95.2L164.5 95.3L164.5 94.8L162.3 94.6ZM164.5 95.3L166.5 95.1L166.6 94.6L164.5 94.8ZM166.5 95.1L168.3 94.5L168.6 93.9L166.6 94.6ZM168.3 94.5L169.7 93.5L170.1 92.8L168.6 93.9ZM169.7 93.5L170.6 92.3L171.0 91.5L170.1 92.8ZM158.1 92.5L159.1 93.7L158.7 93.0L157.7 91.8ZM159.1 93.7L160.6 94.6L160.3 94.0L158.7 93.0Z" fill="#00ffd9" stroke="#000" stroke-opacity="0.85" stroke-width="0.3" stroke-linejoin="round"/><path d="M160.3 94.0L162.3 94.6L162.2 94.0L160.2 93.3ZM162.3 94.6L164.5 94.8L164.5 94.2L162.2 94.0ZM164.5 94.8L166.6 94.6L166.7 93.9L164.5 94.2ZM166.6 94.6L168.6 93.9L168.7 93.2L166.7 93.9ZM168.6 93.9L170.1 92.8L170.3 92.1L168.7 93.2ZM170.1 92.8L171.0 91.5L171.3 90.7L170.3 92.1ZM157.3 90.4L157.7 91.8L157.4 91.0L157.0 89.5ZM157.7 91.8L158.7 93.0L158.5 92.3L157.4 91.0ZM158.7 93.0L160.3 94.0L160.2 93.3L158.5 92.3Z" fill="#00f7ff" stroke="#000" stroke-opacity="0.85" stroke-width="0.3" stroke-linejoin="round"/><path d="M160.2 93.3L162.2 94.0L162.2 93.2L160.1 92.5ZM162.2 94.0L164.5 94.2L164.5 93.4L162.2 93.2ZM164.5 94.2L166.7 93.9L166.8 93.1L164.5 93.4ZM166.7 93.9L168.7 93.2L168.8 92.4L166.8 93.1ZM168.7 93.2L170.3 92.1L170.4 91.3L168.8 92.4ZM170.3 92.1L171.3 90.7L171.4 89.9L170.4 91.3ZM171.3 90.7L171.6 89.3L171.7 88.4L171.4 89.9ZM157.0 89.5L157.4 91.0L157.3 90.1L156.9 88.6ZM157.4 91.0L158.5 92.3L158.5 91.5L157.3 90.1ZM158.5 92.3L160.2 93.3L160.1 92.5L158.5 91.5Z" fill="#00c7ff" stroke="#000" stroke-opacity="0.85" stroke-width="0.3" stroke-linejoin="round"/><path d="M160.1 92.5L162.2 93.2L162.2 92.2L160.2 91.6ZM162.2 93.2L164.5 93.4L164.5 92.4L162.2 92.2ZM164.5 93.4L166.8 93.1L166.7 92.1L164.5 92.4ZM166.8 93.1L168.8 92.4L168.7 91.4L166.7 92.1ZM168.8 92.4L170.4 91.3L170.3 90.3L168.7 91.4ZM170.4 91.3L171.4 89.9L171.3 89.0L170.3 90.3ZM171.4 89.9L171.7 88.4L171.6 87.5L171.3 89.0ZM156.9 88.6L157.3 90.1L157.4 89.2L157.0 87.8ZM157.3 90.1L158.5 91.5L158.5 90.6L157.4 89.2ZM158.5 91.5L160.1 92.5L160.2 91.6L158.5 90.6Z" fill="#0095ff" stroke="#000" stroke-opacity="0.85" stroke-width="0.3" stroke-linejoin="round"/><path d="M160.2 91.6L162.2 92.2L162.3 91.2L160.3 90.6ZM162.2 92.2L164.5 92.4L164.5 91.4L162.3 91.2ZM164.5 92.4L166.7 92.1L166.6 91.1L164.5 91.4ZM166.7 92.1L168.7 91.4L168.6 90.4L166.6 91.1ZM168.7 91.4L170.3 90.3L170.1 89.4L168.6 90.4ZM170.3 90.3L171.3 89.0L171.0 88.1L170.1 89.4ZM171.3 89.0L171.6 87.5L171.3 86.7L171.0 88.1ZM171.6 87.5L171.2 86.0L170.9 85.3L171.3 86.7ZM157.3 86.3L157.0 87.8L157.3 86.9L157.6 85.5ZM157.0 87.8L157.4 89.2L157.7 88.3L157.3 86.9ZM157.4 89.2L158.5 90.6L158.7 89.6L157.7 88.3ZM158.5 90.6L160.2 91.6L160.3 90.6L158.7 89.6Z" fill="#0063ff" stroke="#000" stroke-opacity="0.85" stroke-width="0.3" stroke-linejoin="round"/><path d="M160.3 90.6L162.3 91.2L162.4 90.1L160.6 89.5ZM162.3 91.2L164.5 91.4L164.5 90.3L162.4 90.1ZM164.5 91.4L166.6 91.1L166.5 90.1L164.5 90.3ZM166.6 91.1L168.6 90.4L168.3 89.4L166.5 90.1ZM168.6 90.4L170.1 89.4L169.7 88.4L168.3 89.4ZM170.1 89.4L171.0 88.1L170.6 87.2L169.7 88.4ZM171.0 88.1L171.3 86.7L170.9 85.9L170.6 87.2ZM171.3 86.7L170.9 85.3L170.5 84.5L170.9 85.9ZM157.6 85.5L157.3 86.9L157.7 86.1L158.0 84.8ZM157.3 86.9L157.7 88.3L158.1 87.4L157.7 86.1ZM157.7 88.3L158.7 89.6L159.1 88.6L158.1 87.4ZM158.7 89.6L160.3 90.6L160.6 89.5L159.1 88.6Z" fill="#0032ff" stroke="#000" stroke-opacity="0.85" stroke-width="0.3" stroke-linejoin="round"/><path d="M160.6 89.5L162.4 90.1L162.6 89.0L160.9 88.5ZM162.4 90.1L164.5 90.3L164.5 89.2L162.6 89.0ZM164.5 90.3L166.5 90.1L166.3 88.9L164.5 89.2ZM166.5 90.1L168.3 89.4L167.9 88.3L166.3 88.9ZM168.3 89.4L169.7 88.4L169.2 87.5L167.9 88.3ZM169.7 88.4L170.6 87.2L170.0 86.4L169.2 87.5ZM170.6 87.2L170.9 85.9L170.3 85.1L170.0 86.4ZM170.9 85.9L170.5 84.5L169.9 83.9L170.3 85.1ZM170.5 84.5L169.5 83.4L169.0 82.9L169.9 83.9ZM158.9 83.5L158.0 84.8L158.6 84.1L159.4 83.0ZM158.0 84.8L157.7 86.1L158.3 85.3L158.6 84.1ZM157.7 86.1L158.1 87.4L158.7 86.6L158.3 85.3ZM158.1 87.4L159.1 88.6L159.6 87.6L158.7 86.6ZM159.1 88.6L160.6 89.5L160.9 88.5L159.6 87.6Z" fill="#0004ff" stroke="#000" stroke-opacity="0.85" stroke-width="0.3" stroke-linejoin="round"/><path d="M160.9 88.5L162.6 89.0L162.8 87.9L161.3 87.4ZM162.6 89.0L164.5 89.2L164.4 88.0L162.8 87.9ZM164.5 89.2L166.3 88.9L166.0 87.8L164.4 88.0ZM166.3 88.9L167.9 88.3L167.5 87.3L166.0 87.8ZM167.9 88.3L169.2 87.5L168.6 86.5L167.5 87.3ZM169.2 87.5L170.0 86.4L169.3 85.5L168.6 86.5ZM170.0 86.4L170.3 85.1L169.5 84.5L169.3 85.5ZM170.3 85.1L169.9 83.9L169.2 83.4L169.5 84.5ZM169.9 83.9L169.0 82.9L168.4 82.5L169.2 83.4ZM169.0 82.9L167.7 82.0L167.2 81.8L168.4 82.5ZM160.6 82.1L159.4 83.0L160.0 82.6L161.1 81.9ZM159.4 83.0L158.6 84.1L159.3 83.6L160.0 82.6ZM158.6 84.1L158.3 85.3L159.1 84.7L159.3 83.6ZM158.3 85.3L158.7 86.6L159.4 85.7L159.1 84.7ZM158.7 86.6L159.6 87.6L160.2 86.7L159.4 85.7ZM159.6 87.6L160.9 88.5L161.3 87.4L160.2 86.7Z" fill="#2700ff" stroke="#000" stroke-opacity="0.85" stroke-width="0.3" stroke-linejoin="round"/><path d="M161.3 87.4L162.8 87.9L163.1 86.7L161.8 86.4ZM162.8 87.9L164.4 88.0L164.4 86.9L163.1 86.7ZM164.4 88.0L166.0 87.8L165.7 86.7L164.4 86.9ZM166.0 87.8L167.5 87.3L166.9 86.3L165.7 86.7ZM167.5 87.3L168.6 86.5L167.9 85.6L166.9 86.3ZM168.6 86.5L169.3 85.5L168.4 84.8L167.9 85.6ZM169.3 85.5L169.5 84.5L168.6 83.9L168.4 84.8ZM169.5 84.5L169.2 83.4L168.4 83.1L168.6 83.9ZM169.2 83.4L168.4 82.5L167.7 82.3L168.4 83.1ZM168.4 82.5L167.2 81.8L166.7 81.7L167.7 82.3ZM167.2 81.8L165.8 81.3L165.5 81.3L166.7 81.7ZM165.8 81.3L164.1 81.2L164.2 81.2L165.5 81.3ZM164.1 81.2L162.5 81.4L162.8 81.3L164.2 81.2ZM162.5 81.4L161.1 81.9L161.6 81.8L162.8 81.3ZM161.1 81.9L160.0 82.6L160.7 82.4L161.6 81.8ZM160.0 82.6L159.3 83.6L160.1 83.2L160.7 82.4ZM159.3 83.6L159.1 84.7L160.0 84.1L160.1 83.2ZM159.1 84.7L159.4 85.7L160.2 85.0L160.0 84.1ZM159.4 85.7L160.2 86.7L160.9 85.7L160.2 85.0ZM160.2 86.7L161.3 87.4L161.8 86.4L160.9 85.7Z" fill="#4d00ff" stroke="#000" stroke-opacity="0.85" stroke-width="0.3" stroke-linejoin="round"/><path d="M161.8 86.4L163.1 86.7L163.3 85.7L162.4 85.4ZM163.1 86.7L164.4 86.9L164.4 85.8L163.3 85.7ZM164.4 86.9L165.7 86.7L165.4 85.6L164.4 85.8ZM165.7 86.7L166.9 86.3L166.3 85.3L165.4 85.6ZM166.9 86.3L167.9 85.6L167.1 84.8L166.3 85.3ZM167.9 85.6L168.4 84.8L167.5 84.2L167.1 84.8ZM168.4 84.8L168.6 83.9L167.6 83.5L167.5 84.2ZM168.6 83.9L168.4 83.1L167.4 82.8L167.6 83.5ZM168.4 83.1L167.7 82.3L166.9 82.2L167.4 82.8ZM167.7 82.3L166.7 81.7L166.2 81.7L166.9 82.2ZM166.7 81.7L165.5 81.3L165.2 81.4L166.2 81.7ZM165.5 81.3L164.2 81.2L164.2 81.4L165.2 81.4ZM164.2 81.2L162.8 81.3L163.2 81.5L164.2 81.4ZM162.8 81.3L161.6 81.8L162.2 81.8L163.2 81.5ZM161.6 81.8L160.7 82.4L161.5 82.3L162.2 81.8ZM160.7 82.4L160.1 83.2L161.1 82.9L161.5 82.3ZM160.1 83.2L160.0 84.1L160.9 83.6L161.1 82.9ZM160.0 84.1L160.2 85.0L161.1 84.3L160.9 83.6ZM160.2 85.0L160.9 85.7L161.6 84.9L161.1 84.3ZM160.9 85.7L161.8 86.4L162.4 85.4L161.6 84.9Z" fill="#6d00ff" stroke="#000" stroke-opacity="0.85" stroke-width="0.3" stroke-linejoin="round"/><path d="M162.4 85.4L163.3 85.7L163.6 84.7L163.0 84.5ZM163.3 85.7L164.4 85.8L164.4 84.7L163.6 84.7ZM164.4 85.8L165.4 85.6L165.1 84.6L164.4 84.7ZM165.4 85.6L166.3 85.3L165.7 84.4L165.1 84.6ZM166.3 85.3L167.1 84.8L166.2 84.1L165.7 84.4ZM167.1 84.8L167.5 84.2L166.5 83.6L166.2 84.1ZM167.5 84.2L167.6 83.5L166.6 83.2L166.5 83.6ZM167.6 83.5L167.4 82.8L166.4 82.7L166.6 83.2ZM167.4 82.8L166.9 82.2L166.1 82.3L166.4 82.7ZM166.9 82.2L166.2 81.7L165.6 82.0L166.1 82.3ZM166.2 81.7L165.2 81.4L164.9 81.8L165.6 82.0ZM165.2 81.4L164.2 81.4L164.2 81.7L164.9 81.8ZM164.2 81.4L163.2 81.5L163.5 81.8L164.2 81.7ZM163.2 81.5L162.2 81.8L162.9 82.0L163.5 81.8ZM162.2 81.8L161.5 82.3L162.4 82.4L162.9 82.0ZM161.5 82.3L161.1 82.9L162.1 82.8L162.4 82.4ZM161.1 82.9L160.9 83.6L162.0 83.3L162.1 82.8ZM160.9 83.6L161.1 84.3L162.1 83.7L162.0 83.3ZM161.1 84.3L161.6 84.9L162.5 84.1L162.1 83.7ZM161.6 84.9L162.4 85.4L163.0 84.5L162.5 84.1Z" fill="#8700ff" stroke="#000" stroke-opacity="0.85" stroke-width="0.3" stroke-linejoin="round"/><path d="M163.0 84.5L163.6 84.7L164.0 83.7L163.6 83.6ZM163.6 84.7L164.4 84.7L164.3 83.8L164.0 83.7ZM164.4 84.7L165.1 84.6L164.7 83.7L164.3 83.8ZM165.1 84.6L165.7 84.4L165.0 83.6L164.7 83.7ZM165.7 84.4L166.2 84.1L165.2 83.4L165.0 83.6ZM166.2 84.1L166.5 83.6L165.4 83.2L165.2 83.4ZM166.5 83.6L166.6 83.2L165.4 83.0L165.4 83.2ZM166.6 83.2L166.4 82.7L165.4 82.8L165.4 83.0ZM166.4 82.7L166.1 82.3L165.2 82.6L165.4 82.8ZM166.1 82.3L165.6 82.0L164.9 82.4L165.2 82.6ZM165.6 82.0L164.9 81.8L164.6 82.3L164.9 82.4ZM164.9 81.8L164.2 81.7L164.3 82.3L164.6 82.3ZM164.2 81.7L163.5 81.8L163.9 82.3L164.3 82.3ZM163.5 81.8L162.9 82.0L163.6 82.4L163.9 82.3ZM162.9 82.0L162.4 82.4L163.3 82.6L163.6 82.4ZM162.4 82.4L162.1 82.8L163.2 82.8L163.3 82.6ZM162.1 82.8L162.0 83.3L163.1 83.0L163.2 82.8ZM162.0 83.3L162.1 83.7L163.2 83.3L163.1 83.0ZM162.1 83.7L162.5 84.1L163.4 83.5L163.2 83.3ZM162.5 84.1L163.0 84.5L163.6 83.6L163.4 83.5Z" fill="#9a00ff" stroke="#000" stroke-opacity="0.85" stroke-width="0.3" stroke-linejoin="round"/><path d="M163.6 83.6L164.0 83.7L164.3 82.9ZM164.0 83.7L164.3 83.8L164.3 82.9ZM164.3 83.8L164.7 83.7L164.3 82.9ZM164.7 83.7L165.0 83.6L164.3 82.9ZM165.0 83.6L165.2 83.4L164.3 82.9ZM165.2 83.4L165.4 83.2L164.3 82.9ZM165.4 83.2L165.4 83.0L164.3 82.9ZM165.4 83.0L165.4 82.8L164.3 82.9ZM165.4 82.8L165.2 82.6L164.3 82.9ZM165.2 82.6L164.9 82.4L164.3 82.9ZM164.9 82.4L164.6 82.3L164.3 82.9ZM164.6 82.3L164.3 82.3L164.3 82.9ZM164.3 82.3L163.9 82.3L164.3 82.9ZM163.9 82.3L163.6 82.4L164.3 82.9ZM163.6 82.4L163.3 82.6L164.3 82.9ZM163.3 82.6L163.2 82.8L164.3 82.9ZM163.2 82.8L163.1 83.0L164.3 82.9ZM163.1 83.0L163.2 83.3L164.3 82.9ZM163.2 83.3L163.4 83.5L164.3 82.9ZM163.4 83.5L163.6 83.6L164.3 82.9Z" fill="#a600ff" stroke="#000" stroke-opacity="0.85" stroke-width="0.3" stroke-linejoin="round"/><circle cx="164.29" cy="88.51" r="7.38" fill="none" stroke="#000" stroke-width="0.5"/><polygon points="93.22,108.11 102.43,99.34 113.45,104.26 113.45,114.25 104.25,123.02 93.22,118.1" fill="#a0ce3a" stroke="none" stroke-width="0"/><path d="M133.8 105.4L135.5 105.6L135.5 105.6L133.5 105.4ZM135.5 105.6L137.0 105.4L137.4 105.4L135.5 105.6Z" fill="#00ff82" stroke="#000" stroke-opacity="0.85" stroke-width="0.3" stroke-linejoin="round"/><path d="M131.8 104.9L133.5 105.4L133.3 105.2L131.3 104.6ZM133.5 105.4L135.5 105.6L135.5 105.4L133.3 105.2ZM135.5 105.6L137.4 105.4L137.7 105.1L135.5 105.4ZM137.4 105.4L139.1 104.7L139.7 104.4L137.7 105.1ZM130.3 104.0L131.8 104.9L131.3 104.6L129.6 103.5Z" fill="#00ffb0" stroke="#000" stroke-opacity="0.85" stroke-width="0.3" stroke-linejoin="round"/><path d="M131.3 104.6L133.3 105.2L133.1 104.8L130.9 104.1ZM133.3 105.2L135.5 105.4L135.5 105.0L133.1 104.8ZM135.5 105.4L137.7 105.1L138.0 104.7L135.5 105.0ZM137.7 105.1L139.7 104.4L140.1 103.9L138.0 104.7ZM139.7 104.4L141.2 103.3L141.8 102.7L140.1 103.9ZM129.6 103.5L131.3 104.6L130.9 104.1L129.1 102.9Z" fill="#00ffe7" stroke="#000" stroke-opacity="0.85" stroke-width="0.3" stroke-linejoin="round"/><path d="M130.9 104.1L133.1 104.8L132.9 104.1L130.6 103.4ZM133.1 104.8L135.5 105.0L135.5 104.3L132.9 104.1ZM135.5 105.0L138.0 104.7L138.1 104.0L135.5 104.3ZM138.0 104.7L140.1 103.9L140.4 103.2L138.1 104.0ZM140.1 103.9L141.8 102.7L142.2 102.0L140.4 103.2ZM141.8 102.7L142.9 101.3L143.4 100.4L142.2 102.0ZM127.9 101.5L129.1 102.9L128.6 102.2L127.4 100.7ZM129.1 102.9L130.9 104.1L130.6 103.4L128.6 102.2Z" fill="#00daff" stroke="#000" stroke-opacity="0.85" stroke-width="0.3" stroke-linejoin="round"/><path d="M130.6 103.4L132.9 104.1L132.8 103.3L130.4 102.5ZM132.9 104.1L135.5 104.3L135.6 103.5L132.8 103.3ZM135.5 104.3L138.1 104.0L138.2 103.2L135.6 103.5ZM138.1 104.0L140.4 103.2L140.6 102.4L138.2 103.2ZM140.4 103.2L142.2 102.0L142.5 101.1L140.6 102.4ZM142.2 102.0L143.4 100.4L143.7 99.4L142.5 101.1ZM126.9 99.0L127.4 100.7L127.1 99.7L126.6 98.0ZM127.4 100.7L128.6 102.2L128.4 101.3L127.1 99.7ZM128.6 102.2L130.6 103.4L130.4 102.5L128.4 101.3Z" fill="#0098ff" stroke="#000" stroke-opacity="0.85" stroke-width="0.3" stroke-linejoin="round"/><path d="M130.4 102.5L132.8 103.3L132.8 102.3L130.3 101.6ZM132.8 103.3L135.6 103.5L135.6 102.6L132.8 102.3ZM135.6 103.5L138.2 103.2L138.3 102.2L135.6 102.6ZM138.2 103.2L140.6 102.4L140.7 101.4L138.3 102.2ZM140.6 102.4L142.5 101.1L142.6 100.0L140.7 101.4ZM142.5 101.1L143.7 99.4L143.8 98.4L142.6 100.0ZM143.7 99.4L144.0 97.7L144.1 96.6L143.8 98.4ZM126.6 98.0L127.1 99.7L127.0 98.7L126.5 96.9ZM127.1 99.7L128.4 101.3L128.3 100.3L127.0 98.7ZM128.4 101.3L130.4 102.5L130.3 101.6L128.3 100.3Z" fill="#0052ff" stroke="#000" stroke-opacity="0.85" stroke-width="0.3" stroke-linejoin="round"/><path d="M130.3 101.6L132.8 102.3L132.8 101.2L130.4 100.4ZM132.8 102.3L135.6 102.6L135.6 101.5L132.8 101.2ZM135.6 102.6L138.3 102.2L138.2 101.1L135.6 101.5ZM138.3 102.2L140.7 101.4L140.6 100.3L138.2 101.1ZM140.7 101.4L142.6 100.0L142.5 99.0L140.6 100.3ZM142.6 100.0L143.8 98.4L143.7 97.3L142.5 99.0ZM143.8 98.4L144.1 96.6L144.0 95.6L143.7 97.3ZM126.5 96.9L127.0 98.7L127.1 97.6L126.6 95.9ZM127.0 98.7L128.3 100.3L128.4 99.2L127.1 97.6ZM128.3 100.3L130.3 101.6L130.4 100.4L128.4 99.2Z" fill="#000bff" stroke="#000" stroke-opacity="0.85" stroke-width="0.3" stroke-linejoin="round"/><path d="M130.4 100.4L132.8 101.2L132.9 100.0L130.6 99.3ZM132.8 101.2L135.6 101.5L135.5 100.2L132.9 100.0ZM135.6 101.5L138.2 101.1L138.1 99.9L135.5 100.2ZM138.2 101.1L140.6 100.3L140.4 99.1L138.1 99.9ZM140.6 100.3L142.5 99.0L142.2 97.8L140.4 99.1ZM142.5 99.0L143.7 97.3L143.4 96.3L142.2 97.8ZM143.7 97.3L144.0 95.6L143.7 94.5L143.4 96.3ZM144.0 95.6L143.5 93.8L143.2 92.8L143.7 94.5ZM126.9 94.1L126.6 95.9L126.9 94.8L127.2 93.1ZM126.6 95.9L127.1 97.6L127.4 96.5L126.9 94.8ZM127.1 97.6L128.4 99.2L128.6 98.1L127.4 96.5ZM128.4 99.2L130.4 100.4L130.6 99.3L128.6 98.1Z" fill="#3d00ff" stroke="#000" stroke-opacity="0.85" stroke-width="0.3" stroke-linejoin="round"/><path d="M130.6 99.3L132.9 100.0L133.1 98.7L130.9 98.0ZM132.9 100.0L135.5 100.2L135.5 98.9L133.1 98.7ZM135.5 100.2L138.1 99.9L138.0 98.6L135.5 98.9ZM138.1 99.9L140.4 99.1L140.1 97.8L138.0 98.6ZM140.4 99.1L142.2 97.8L141.8 96.7L140.1 97.8ZM142.2 97.8L143.4 96.3L142.9 95.2L141.8 96.7ZM143.4 96.3L143.7 94.5L143.2 93.6L142.9 95.2ZM143.7 94.5L143.2 92.8L142.7 92.0L143.2 93.6ZM127.2 93.1L126.9 94.8L127.4 93.9L127.7 92.3ZM126.9 94.8L127.4 96.5L127.9 95.5L127.4 93.9ZM127.4 96.5L128.6 98.1L129.1 96.9L127.9 95.5ZM128.6 98.1L130.6 99.3L130.9 98.0L129.1 96.9Z" fill="#8300ff" stroke="#000" stroke-opacity="0.85" stroke-width="0.3" stroke-linejoin="round"/><path d="M130.9 98.0L133.1 98.7L133.3 97.3L131.3 96.7ZM133.1 98.7L135.5 98.9L135.5 97.5L133.3 97.3ZM135.5 98.9L138.0 98.6L137.7 97.3L135.5 97.5ZM138.0 98.6L140.1 97.8L139.7 96.6L137.7 97.3ZM140.1 97.8L141.8 96.7L141.2 95.5L139.7 96.6ZM141.8 96.7L142.9 95.2L142.2 94.2L141.2 95.5ZM142.9 95.2L143.2 93.6L142.5 92.7L142.2 94.2ZM143.2 93.6L142.7 92.0L142.0 91.3L142.5 92.7ZM142.7 92.0L141.5 90.6L141.0 90.0L142.0 91.3ZM128.8 90.8L127.7 92.3L128.4 91.5L129.4 90.2ZM127.7 92.3L127.4 93.9L128.1 93.0L128.4 91.5ZM127.4 93.9L127.9 95.5L128.6 94.4L128.1 93.0ZM127.9 95.5L129.1 96.9L129.6 95.7L128.6 94.4ZM129.1 96.9L130.9 98.0L131.3 96.7L129.6 95.7Z" fill="#c500ff" stroke="#000" stroke-opacity="0.85" stroke-width="0.3" stroke-linejoin="round"/><path d="M131.3 96.7L133.3 97.3L133.5 96.0L131.8 95.4ZM133.3 97.3L135.5 97.5L135.5 96.1L133.5 96.0ZM135.5 97.5L137.7 97.3L137.4 95.9L135.5 96.1ZM137.7 97.3L139.7 96.6L139.1 95.3L137.4 95.9ZM139.7 96.6L141.2 95.5L140.5 94.4L139.1 95.3ZM141.2 95.5L142.2 94.2L141.3 93.2L140.5 94.4ZM142.2 94.2L142.5 92.7L141.6 91.9L141.3 93.2ZM142.5 92.7L142.0 91.3L141.2 90.7L141.6 91.9ZM142.0 91.3L141.0 90.0L140.3 89.5L141.2 90.7ZM141.0 90.0L139.3 89.0L138.8 88.7L140.3 89.5ZM130.9 89.1L129.4 90.2L130.1 89.7L131.5 88.8ZM129.4 90.2L128.4 91.5L129.3 90.9L130.1 89.7ZM128.4 91.5L128.1 93.0L129.0 92.2L129.3 90.9ZM128.1 93.0L128.6 94.4L129.4 93.4L129.0 92.2ZM128.6 94.4L129.6 95.7L130.3 94.5L129.4 93.4ZM129.6 95.7L131.3 96.7L131.8 95.4L130.3 94.5Z" fill="#ff00fc" stroke="#000" stroke-opacity="0.85" stroke-width="0.3" stroke-linejoin="round"/><path d="M131.8 95.4L133.5 96.0L133.8 94.6L132.4 94.2ZM133.5 96.0L135.5 96.1L135.5 94.8L133.8 94.6ZM135.5 96.1L137.4 95.9L137.0 94.6L135.5 94.8ZM137.4 95.9L139.1 95.3L138.5 94.1L137.0 94.6ZM139.1 95.3L140.5 94.4L139.6 93.3L138.5 94.1ZM140.5 94.4L141.3 93.2L140.3 92.3L139.6 93.3ZM141.3 93.2L141.6 91.9L140.5 91.3L140.3 92.3ZM141.6 91.9L141.2 90.7L140.2 90.2L140.5 91.3ZM141.2 90.7L140.3 89.5L139.4 89.3L140.2 90.2ZM140.3 89.5L138.8 88.7L138.2 88.5L139.4 89.3ZM138.8 88.7L137.1 88.1L136.8 88.1L138.2 88.5ZM137.1 88.1L135.1 87.9L135.1 87.9L136.8 88.1ZM135.1 87.9L133.2 88.2L133.6 88.1L135.1 87.9ZM133.2 88.2L131.5 88.8L132.1 88.7L133.6 88.1ZM131.5 88.8L130.1 89.7L131.0 89.4L132.1 88.7ZM130.1 89.7L129.3 90.9L130.3 90.4L131.0 89.4ZM129.3 90.9L129.0 92.2L130.1 91.5L130.3 90.4ZM129.0 92.2L129.4 93.4L130.4 92.5L130.1 91.5ZM129.4 93.4L130.3 94.5L131.2 93.4L130.4 92.5ZM130.3 94.5L131.8 95.4L132.4 94.2L131.2 93.4Z" fill="#ff00c6" stroke="#000" stroke-opacity="0.85" stroke-width="0.3" stroke-linejoin="round"/><path d="M132.4 94.2L133.8 94.6L134.2 93.3L133.0 93.0ZM133.8 94.6L135.5 94.8L135.4 93.5L134.2 93.3ZM135.5 94.8L137.0 94.6L136.7 93.3L135.4 93.5ZM137.0 94.6L138.5 94.1L137.8 92.9L136.7 93.3ZM138.5 94.1L139.6 93.3L138.6 92.3L137.8 92.9ZM139.6 93.3L140.3 92.3L139.2 91.6L138.6 92.3ZM140.3 92.3L140.5 91.3L139.3 90.7L139.2 91.6ZM140.5 91.3L140.2 90.2L139.1 89.9L139.3 90.7ZM140.2 90.2L139.4 89.3L138.5 89.2L139.1 89.9ZM139.4 89.3L138.2 88.5L137.6 88.6L138.5 89.2ZM138.2 88.5L136.8 88.1L136.4 88.3L137.6 88.6ZM136.8 88.1L135.1 87.9L135.2 88.2L136.4 88.3ZM135.1 87.9L133.6 88.1L133.9 88.3L135.2 88.2ZM133.6 88.1L132.1 88.7L132.8 88.7L133.9 88.3ZM132.1 88.7L131.0 89.4L132.0 89.3L132.8 88.7ZM131.0 89.4L130.3 90.4L131.4 90.1L132.0 89.3ZM130.3 90.4L130.1 91.5L131.3 90.9L131.4 90.1ZM130.1 91.5L130.4 92.5L131.5 91.7L131.3 90.9ZM130.4 92.5L131.2 93.4L132.1 92.4L131.5 91.7ZM131.2 93.4L132.4 94.2L133.0 93.0L132.1 92.4Z" fill="#ff0097" stroke="#000" stroke-opacity="0.85" stroke-width="0.3" stroke-linejoin="round"/><path d="M133.0 93.0L134.2 93.3L134.5 92.1L133.8 91.9ZM134.2 93.3L135.4 93.5L135.4 92.2L134.5 92.1ZM135.4 93.5L136.7 93.3L136.2 92.1L135.4 92.2ZM136.7 93.3L137.8 92.9L137.0 91.8L136.2 92.1ZM137.8 92.9L138.6 92.3L137.6 91.4L137.0 91.8ZM138.6 92.3L139.2 91.6L137.9 90.9L137.6 91.4ZM139.2 91.6L139.3 90.7L138.0 90.4L137.9 90.9ZM139.3 90.7L139.1 89.9L137.9 89.8L138.0 90.4ZM139.1 89.9L138.5 89.2L137.5 89.3L137.9 89.8ZM138.5 89.2L137.6 88.6L136.8 88.9L137.5 89.3ZM137.6 88.6L136.4 88.3L136.1 88.7L136.8 88.9ZM136.4 88.3L135.2 88.2L135.2 88.6L136.1 88.7ZM135.2 88.2L133.9 88.3L134.4 88.7L135.2 88.6ZM133.9 88.3L132.8 88.7L133.6 89.0L134.4 88.7ZM132.8 88.7L132.0 89.3L133.0 89.4L133.6 89.0ZM132.0 89.3L131.4 90.1L132.7 89.9L133.0 89.4ZM131.4 90.1L131.3 90.9L132.6 90.5L132.7 89.9ZM131.3 90.9L131.5 91.7L132.7 91.0L132.6 90.5ZM131.5 91.7L132.1 92.4L133.1 91.5L132.7 91.0ZM132.1 92.4L133.0 93.0L133.8 91.9L133.1 91.5Z" fill="#ff0072" stroke="#000" stroke-opacity="0.85" stroke-width="0.3" stroke-linejoin="round"/><path d="M133.8 91.9L134.5 92.1L134.9 91.0L134.5 90.9ZM134.5 92.1L135.4 92.2L135.3 91.1L134.9 91.0ZM135.4 92.2L136.2 92.1L135.8 91.0L135.3 91.1ZM136.2 92.1L137.0 91.8L136.1 90.9L135.8 91.0ZM137.0 91.8L137.6 91.4L136.4 90.7L136.1 90.9ZM137.6 91.4L137.9 90.9L136.6 90.4L136.4 90.7ZM137.9 90.9L138.0 90.4L136.7 90.1L136.6 90.4ZM138.0 90.4L137.9 89.8L136.6 89.9L136.7 90.1ZM137.9 89.8L137.5 89.3L136.4 89.6L136.6 89.9ZM137.5 89.3L136.8 88.9L136.1 89.4L136.4 89.6ZM136.8 88.9L136.1 88.7L135.7 89.3L136.1 89.4ZM136.1 88.7L135.2 88.6L135.3 89.3L135.7 89.3ZM135.2 88.6L134.4 88.7L134.8 89.3L135.3 89.3ZM134.4 88.7L133.6 89.0L134.5 89.4L134.8 89.3ZM133.6 89.0L133.0 89.4L134.2 89.7L134.5 89.4ZM133.0 89.4L132.7 89.9L134.0 89.9L134.2 89.7ZM132.7 89.9L132.6 90.5L133.9 90.2L134.0 89.9ZM132.6 90.5L132.7 91.0L134.0 90.5L133.9 90.2ZM132.7 91.0L133.1 91.5L134.2 90.7L134.0 90.5ZM133.1 91.5L133.8 91.9L134.5 90.9L134.2 90.7Z" fill="#ff0056" stroke="#000" stroke-opacity="0.85" stroke-width="0.3" stroke-linejoin="round"/><path d="M134.5 90.9L134.9 91.0L135.3 90.1ZM134.9 91.0L135.3 91.1L135.3 90.1ZM135.3 91.1L135.8 91.0L135.3 90.1ZM135.8 91.0L136.1 90.9L135.3 90.1ZM136.1 90.9L136.4 90.7L135.3 90.1ZM136.4 90.7L136.6 90.4L135.3 90.1ZM136.6 90.4L136.7 90.1L135.3 90.1ZM136.7 90.1L136.6 89.9L135.3 90.1ZM136.6 89.9L136.4 89.6L135.3 90.1ZM136.4 89.6L136.1 89.4L135.3 90.1ZM136.1 89.4L135.7 89.3L135.3 90.1ZM135.7 89.3L135.3 89.3L135.3 90.1ZM135.3 89.3L134.8 89.3L135.3 90.1ZM134.8 89.3L134.5 89.4L135.3 90.1ZM134.5 89.4L134.2 89.7L135.3 90.1ZM134.2 89.7L134.0 89.9L135.3 90.1ZM134.0 89.9L133.9 90.2L135.3 90.1ZM133.9 90.2L134.0 90.5L135.3 90.1ZM134.0 90.5L134.2 90.7L135.3 90.1ZM134.2 90.7L134.5 90.9L135.3 90.1Z" fill="#ff0045" stroke="#000" stroke-opacity="0.85" stroke-width="0.3" stroke-linejoin="round"/><circle cx="135.3" cy="96.76" r="8.85" fill="none" stroke="#000" stroke-width="0.5"/><polygon points="129.97,125.85 139.18,117.08 151.43,122.55 151.43,131.21 142.22,139.98 129.97,134.51" fill="#a0ce3a" stroke="none" stroke-width="0"/><path d="M154.3 141.6L155.4 141.6L155.4 141.7L154.1 141.5ZM155.4 141.6L156.5 141.5L156.7 141.5L155.4 141.7Z" fill="#ffd100" stroke="#000" stroke-opacity="0.85" stroke-width="0.3" stroke-linejoin="round"/><path d="M153.0 141.2L154.1 141.5L154.0 141.4L152.6 141.0ZM154.1 141.5L155.4 141.7L155.4 141.5L154.0 141.4ZM155.4 141.7L156.7 141.5L156.9 141.3L155.4 141.5ZM156.7 141.5L157.9 141.1L158.2 140.9L156.9 141.3ZM152.0 140.6L153.0 141.2L152.6 141.0L151.5 140.3Z" fill="#ffe500" stroke="#000" stroke-opacity="0.85" stroke-width="0.3" stroke-linejoin="round"/><path d="M152.6 141.0L154.0 141.4L153.8 141.1L152.3 140.6ZM154.0 141.4L155.4 141.5L155.5 141.2L153.8 141.1ZM155.4 141.5L156.9 141.3L157.1 141.0L155.5 141.2ZM156.9 141.3L158.2 140.9L158.5 140.5L157.1 141.0ZM158.2 140.9L159.3 140.2L159.7 139.7L158.5 140.5ZM151.5 140.3L152.6 141.0L152.3 140.6L151.1 139.9Z" fill="#fffd00" stroke="#000" stroke-opacity="0.85" stroke-width="0.3" stroke-linejoin="round"/><path d="M152.3 140.6L153.8 141.1L153.7 140.7L152.1 140.2ZM153.8 141.1L155.5 141.2L155.5 140.8L153.7 140.7ZM155.5 141.2L157.1 141.0L157.2 140.6L155.5 140.8ZM157.1 141.0L158.5 140.5L158.7 140.1L157.2 140.6ZM158.5 140.5L159.7 139.7L159.9 139.2L158.7 140.1ZM159.7 139.7L160.4 138.8L160.7 138.2L159.9 139.2ZM150.4 138.9L151.1 139.9L150.9 139.4L150.0 138.4ZM151.1 139.9L152.3 140.6L152.1 140.2L150.9 139.4Z" fill="#e6ff00" stroke="#000" stroke-opacity="0.85" stroke-width="0.3" stroke-linejoin="round"/><path d="M152.1 140.2L153.7 140.7L153.7 140.1L152.0 139.6ZM153.7 140.7L155.5 140.8L155.5 140.3L153.7 140.1ZM155.5 140.8L157.2 140.6L157.3 140.1L155.5 140.3ZM157.2 140.6L158.7 140.1L158.9 139.5L157.3 140.1ZM158.7 140.1L159.9 139.2L160.1 138.6L158.9 139.5ZM159.9 139.2L160.7 138.2L160.9 137.6L160.1 138.6ZM149.7 137.2L150.0 138.4L149.8 137.7L149.5 136.6ZM150.0 138.4L150.9 139.4L150.7 138.8L149.8 137.7ZM150.9 139.4L152.1 140.2L152.0 139.6L150.7 138.8Z" fill="#c9ff00" stroke="#000" stroke-opacity="0.85" stroke-width="0.3" stroke-linejoin="round"/><path d="M152.0 139.6L153.7 140.1L153.6 139.5L152.0 139.0ZM153.7 140.1L155.5 140.3L155.5 139.6L153.6 139.5ZM155.5 140.3L157.3 140.1L157.3 139.4L155.5 139.6ZM157.3 140.1L158.9 139.5L158.9 138.8L157.3 139.4ZM158.9 139.5L160.1 138.6L160.2 138.0L158.9 138.8ZM160.1 138.6L160.9 137.6L161.0 136.9L160.2 138.0ZM160.9 137.6L161.1 136.4L161.2 135.7L161.0 136.9ZM149.5 136.6L149.8 137.7L149.8 137.1L149.4 135.9ZM149.8 137.7L150.7 138.8L150.6 138.1L149.8 137.1ZM150.7 138.8L152.0 139.6L152.0 139.0L150.6 138.1Z" fill="#aaff00" stroke="#000" stroke-opacity="0.85" stroke-width="0.3" stroke-linejoin="round"/><path d="M152.0 139.0L153.6 139.5L153.7 138.7L152.0 138.2ZM153.6 139.5L155.5 139.6L155.5 138.9L153.7 138.7ZM155.5 139.6L157.3 139.4L157.3 138.7L155.5 138.9ZM157.3 139.4L158.9 138.8L158.9 138.1L157.3 138.7ZM158.9 138.8L160.2 138.0L160.1 137.2L158.9 138.1ZM160.2 138.0L161.0 136.9L160.9 136.2L160.1 137.2ZM161.0 136.9L161.2 135.7L161.1 135.0L160.9 136.2ZM149.4 135.9L149.8 137.1L149.8 136.4L149.5 135.2ZM149.8 137.1L150.6 138.1L150.7 137.4L149.8 136.4ZM150.6 138.1L152.0 139.0L152.0 138.2L150.7 137.4Z" fill="#8aff00" stroke="#000" stroke-opacity="0.85" stroke-width="0.3" stroke-linejoin="round"/><path d="M152.0 138.2L153.7 138.7L153.7 137.9L152.1 137.4ZM153.7 138.7L155.5 138.9L155.5 138.1L153.7 137.9ZM155.5 138.9L157.3 138.7L157.2 137.9L155.5 138.1ZM157.3 138.7L158.9 138.1L158.7 137.3L157.2 137.9ZM158.9 138.1L160.1 137.2L159.9 136.5L158.7 137.3ZM160.1 137.2L160.9 136.2L160.7 135.4L159.9 136.5ZM160.9 136.2L161.1 135.0L160.9 134.3L160.7 135.4ZM161.1 135.0L160.8 133.8L160.6 133.2L160.9 134.3ZM149.7 134.0L149.5 135.2L149.7 134.5L149.9 133.4ZM149.5 135.2L149.8 136.4L150.0 135.6L149.7 134.5ZM149.8 136.4L150.7 137.4L150.9 136.6L150.0 135.6ZM150.7 137.4L152.0 138.2L152.1 137.4L150.9 136.6Z" fill="#6bff00" stroke="#000" stroke-opacity="0.85" stroke-width="0.3" stroke-linejoin="round"/><path d="M152.1 137.4L153.7 137.9L153.8 137.1L152.3 136.6ZM153.7 137.9L155.5 138.1L155.5 137.2L153.8 137.1ZM155.5 138.1L157.2 137.9L157.1 137.0L155.5 137.2ZM157.2 137.9L158.7 137.3L158.5 136.5L157.1 137.0ZM158.7 137.3L159.9 136.5L159.7 135.7L158.5 136.5ZM159.9 136.5L160.7 135.4L160.4 134.7L159.7 135.7ZM160.7 135.4L160.9 134.3L160.6 133.7L160.4 134.7ZM160.9 134.3L160.6 133.2L160.3 132.6L160.6 133.7ZM149.9 133.4L149.7 134.5L150.1 133.8L150.3 132.8ZM149.7 134.5L150.0 135.6L150.4 134.9L150.1 133.8ZM150.0 135.6L150.9 136.6L151.1 135.9L150.4 134.9ZM150.9 136.6L152.1 137.4L152.3 136.6L151.1 135.9Z" fill="#4cff00" stroke="#000" stroke-opacity="0.85" stroke-width="0.3" stroke-linejoin="round"/><path d="M152.3 136.6L153.8 137.1L154.0 136.2L152.6 135.7ZM153.8 137.1L155.5 137.2L155.4 136.3L154.0 136.2ZM155.5 137.2L157.1 137.0L156.9 136.1L155.4 136.3ZM157.1 137.0L158.5 136.5L158.2 135.6L156.9 136.1ZM158.5 136.5L159.7 135.7L159.3 134.9L158.2 135.6ZM159.7 135.7L160.4 134.7L159.9 134.0L159.3 134.9ZM160.4 134.7L160.6 133.7L160.1 133.1L159.9 134.0ZM160.6 133.7L160.3 132.6L159.8 132.1L160.1 133.1ZM160.3 132.6L159.5 131.6L159.1 131.2L159.8 132.1ZM151.0 131.8L150.3 132.8L150.7 132.3L151.4 131.4ZM150.3 132.8L150.1 133.8L150.5 133.2L150.7 132.3ZM150.1 133.8L150.4 134.9L150.8 134.2L150.5 133.2ZM150.4 134.9L151.1 135.9L151.5 135.1L150.8 134.2ZM151.1 135.9L152.3 136.6L152.6 135.7L151.5 135.1Z" fill="#2eff00" stroke="#000" stroke-opacity="0.85" stroke-width="0.3" stroke-linejoin="round"/><path d="M152.6 135.7L154.0 136.2L154.1 135.3L153.0 134.9ZM154.0 136.2L155.4 136.3L155.4 135.4L154.1 135.3ZM155.4 136.3L156.9 136.1L156.7 135.2L155.4 135.4ZM156.9 136.1L158.2 135.6L157.9 134.8L156.7 135.2ZM158.2 135.6L159.3 134.9L158.8 134.2L157.9 134.8ZM159.3 134.9L159.9 134.0L159.3 133.4L158.8 134.2ZM159.9 134.0L160.1 133.1L159.5 132.6L159.3 133.4ZM160.1 133.1L159.8 132.1L159.2 131.7L159.5 132.6ZM159.8 132.1L159.1 131.2L158.6 131.0L159.2 131.7ZM159.1 131.2L158.0 130.6L157.7 130.4L158.6 131.0ZM152.4 130.7L151.4 131.4L151.9 131.1L152.8 130.5ZM151.4 131.4L150.7 132.3L151.3 131.8L151.9 131.1ZM150.7 132.3L150.5 133.2L151.1 132.7L151.3 131.8ZM150.5 133.2L150.8 134.2L151.4 133.5L151.1 132.7ZM150.8 134.2L151.5 135.1L152.0 134.3L151.4 133.5ZM151.5 135.1L152.6 135.7L153.0 134.9L152.0 134.3Z" fill="#13ff00" stroke="#000" stroke-opacity="0.85" stroke-width="0.3" stroke-linejoin="round"/><path d="M153.0 134.9L154.1 135.3L154.3 134.4L153.4 134.0ZM154.1 135.3L155.4 135.4L155.4 134.4L154.3 134.4ZM155.4 135.4L156.7 135.2L156.5 134.3L155.4 134.4ZM156.7 135.2L157.9 134.8L157.4 134.0L156.5 134.3ZM157.9 134.8L158.8 134.2L158.2 133.5L157.4 134.0ZM158.8 134.2L159.3 133.4L158.6 132.8L158.2 133.5ZM159.3 133.4L159.5 132.6L158.8 132.1L158.6 132.8ZM159.5 132.6L159.2 131.7L158.6 131.4L158.8 132.1ZM159.2 131.7L158.6 131.0L158.1 130.8L158.6 131.4ZM158.6 131.0L157.7 130.4L157.3 130.3L158.1 130.8ZM157.7 130.4L156.5 130.0L156.3 130.0L157.3 130.3ZM156.5 130.0L155.2 129.9L155.2 129.9L156.3 130.0ZM155.2 129.9L153.9 130.0L154.1 130.0L155.2 129.9ZM153.9 130.0L152.8 130.5L153.2 130.4L154.1 130.0ZM152.8 130.5L151.9 131.1L152.4 130.9L153.2 130.4ZM151.9 131.1L151.3 131.8L152.0 131.5L152.4 130.9ZM151.3 131.8L151.1 132.7L151.8 132.2L152.0 131.5ZM151.1 132.7L151.4 133.5L152.0 132.9L151.8 132.2ZM151.4 133.5L152.0 134.3L152.6 133.6L152.0 132.9ZM152.0 134.3L153.0 134.9L153.4 134.0L152.6 133.6Z" fill="#00ff05" stroke="#000" stroke-opacity="0.85" stroke-width="0.3" stroke-linejoin="round"/><path d="M153.4 134.0L154.3 134.4L154.6 133.5L153.8 133.3ZM154.3 134.4L155.4 134.4L155.4 133.6L154.6 133.5ZM155.4 134.4L156.5 134.3L156.2 133.5L155.4 133.6ZM156.5 134.3L157.4 134.0L156.9 133.2L156.2 133.5ZM157.4 134.0L158.2 133.5L157.5 132.8L156.9 133.2ZM158.2 133.5L158.6 132.8L157.9 132.3L157.5 132.8ZM158.6 132.8L158.8 132.1L158.0 131.8L157.9 132.3ZM158.8 132.1L158.6 131.4L157.8 131.2L158.0 131.8ZM158.6 131.4L158.1 130.8L157.4 130.7L157.8 131.2ZM158.1 130.8L157.3 130.3L156.8 130.4L157.4 130.7ZM157.3 130.3L156.3 130.0L156.1 130.1L156.8 130.4ZM156.3 130.0L155.2 129.9L155.2 130.0L156.1 130.1ZM155.2 129.9L154.1 130.0L154.4 130.1L155.2 130.0ZM154.1 130.0L153.2 130.4L153.7 130.4L154.4 130.1ZM153.2 130.4L152.4 130.9L153.1 130.8L153.7 130.4ZM152.4 130.9L152.0 131.5L152.7 131.3L153.1 130.8ZM152.0 131.5L151.8 132.2L152.6 131.9L152.7 131.3ZM151.8 132.2L152.0 132.9L152.8 132.4L152.6 131.9ZM152.0 132.9L152.6 133.6L153.2 132.9L152.8 132.4ZM152.6 133.6L153.4 134.0L153.8 133.3L153.2 132.9Z" fill="#00ff19" stroke="#000" stroke-opacity="0.85" stroke-width="0.3" stroke-linejoin="round"/><path d="M153.8 133.3L154.6 133.5L154.8 132.7L154.3 132.5ZM154.6 133.5L155.4 133.6L155.4 132.7L154.8 132.7ZM155.4 133.6L156.2 133.5L155.9 132.7L155.4 132.7ZM156.2 133.5L156.9 133.2L156.4 132.5L155.9 132.7ZM156.9 133.2L157.5 132.8L156.8 132.2L156.4 132.5ZM157.5 132.8L157.9 132.3L157.1 131.9L156.8 132.2ZM157.9 132.3L158.0 131.8L157.1 131.5L157.1 131.9ZM158.0 131.8L157.8 131.2L157.0 131.1L157.1 131.5ZM157.8 131.2L157.4 130.7L156.8 130.8L157.0 131.1ZM157.4 130.7L156.8 130.4L156.3 130.6L156.8 130.8ZM156.8 130.4L156.1 130.1L155.8 130.4L156.3 130.6ZM156.1 130.1L155.2 130.0L155.3 130.3L155.8 130.4ZM155.2 130.0L154.4 130.1L154.7 130.4L155.3 130.3ZM154.4 130.1L153.7 130.4L154.2 130.6L154.7 130.4ZM153.7 130.4L153.1 130.8L153.8 130.9L154.2 130.6ZM153.1 130.8L152.7 131.3L153.6 131.2L153.8 130.9ZM152.7 131.3L152.6 131.9L153.5 131.6L153.6 131.2ZM152.6 131.9L152.8 132.4L153.6 131.9L153.5 131.6ZM152.8 132.4L153.2 132.9L153.9 132.3L153.6 131.9ZM153.2 132.9L153.8 133.3L154.3 132.5L153.9 132.3Z" fill="#00ff2a" stroke="#000" stroke-opacity="0.85" stroke-width="0.3" stroke-linejoin="round"/><path d="M154.3 132.5L154.8 132.7L155.1 132.0L154.8 131.9ZM154.8 132.7L155.4 132.7L155.3 132.0L155.1 132.0ZM155.4 132.7L155.9 132.7L155.6 131.9L155.3 132.0ZM155.9 132.7L156.4 132.5L155.9 131.9L155.6 131.9ZM156.4 132.5L156.8 132.2L156.1 131.7L155.9 131.9ZM156.8 132.2L157.1 131.9L156.2 131.5L156.1 131.7ZM157.1 131.9L157.1 131.5L156.2 131.4L156.2 131.5ZM157.1 131.5L157.0 131.1L156.2 131.2L156.2 131.4ZM157.0 131.1L156.8 130.8L156.0 131.0L156.2 131.2ZM156.8 130.8L156.3 130.6L155.8 130.9L156.0 131.0ZM156.3 130.6L155.8 130.4L155.6 130.8L155.8 130.9ZM155.8 130.4L155.3 130.3L155.3 130.8L155.6 130.8ZM155.3 130.3L154.7 130.4L155.0 130.8L155.3 130.8ZM154.7 130.4L154.2 130.6L154.7 130.9L155.0 130.8ZM154.2 130.6L153.8 130.9L154.5 131.0L154.7 130.9ZM153.8 130.9L153.6 131.2L154.4 131.2L154.5 131.0ZM153.6 131.2L153.5 131.6L154.4 131.4L154.4 131.2ZM153.5 131.6L153.6 131.9L154.4 131.6L154.4 131.4ZM153.6 131.9L153.9 132.3L154.6 131.7L154.4 131.6ZM153.9 132.3L154.3 132.5L154.8 131.9L154.6 131.7Z" fill="#00ff36" stroke="#000" stroke-opacity="0.85" stroke-width="0.3" stroke-linejoin="round"/><path d="M154.8 131.9L155.1 132.0L155.3 131.3ZM155.1 132.0L155.3 132.0L155.3 131.3ZM155.3 132.0L155.6 131.9L155.3 131.3ZM155.6 131.9L155.9 131.9L155.3 131.3ZM155.9 131.9L156.1 131.7L155.3 131.3ZM156.1 131.7L156.2 131.5L155.3 131.3ZM156.2 131.5L156.2 131.4L155.3 131.3ZM156.2 131.4L156.2 131.2L155.3 131.3ZM156.2 131.2L156.0 131.0L155.3 131.3ZM156.0 131.0L155.8 130.9L155.3 131.3ZM155.8 130.9L155.6 130.8L155.3 131.3ZM155.6 130.8L155.3 130.8L155.3 131.3ZM155.3 130.8L155.0 130.8L155.3 131.3ZM155.0 130.8L154.7 130.9L155.3 131.3ZM154.7 130.9L154.5 131.0L155.3 131.3ZM154.5 131.0L154.4 131.2L155.3 131.3ZM154.4 131.2L154.4 131.4L155.3 131.3ZM154.4 131.4L154.4 131.6L155.3 131.3ZM154.4 131.6L154.6 131.7L155.3 131.3ZM154.6 131.7L154.8 131.9L155.3 131.3Z" fill="#00ff3d" stroke="#000" stroke-opacity="0.85" stroke-width="0.3" stroke-linejoin="round"/><circle cx="155.31" cy="135.77" r="5.9" fill="none" stroke="#000" stroke-width="0.5"/><polygon points="139.15,150.17 147.52,142.2 161.73,148.54 161.73,158.76 153.36,166.73 139.15,160.38" fill="#a0ce3a" stroke="none" stroke-width="0"/><polyline points="153.52,176.54 138.48,161.61 130.78,140.84 123.11,113.76 123.71,92.1 132.84,65.46 130.56,49.69" fill="none" stroke="#0000ff" stroke-width="0.6" stroke-linejoin="round" stroke-opacity="0.4"/><polyline points="153.07,176.09 138.03,161.16 130.33,140.39 122.66,113.31 123.26,91.65 132.39,65.01 130.11,49.24" fill="none" stroke="#ff1010" stroke-width="0.65" stroke-linejoin="round" stroke-opacity="0.62"/><polygon points="138.03,159.16 138.52,160.48 139.93,160.54 138.83,161.42 139.21,162.78 138.03,162 136.86,162.78 137.23,161.42 136.13,160.54 137.54,160.48" fill="#f89a70" stroke="#ff3030" stroke-width="0.55" fill-opacity="0.75"/><polygon points="130.33,138.39 130.82,139.72 132.23,139.78 131.13,140.65 131.5,142.01 130.33,141.23 129.15,142.01 129.53,140.65 128.43,139.78 129.84,139.72" fill="#f89a70" stroke="#ff3030" stroke-width="0.55" fill-opacity="0.75"/><polygon points="122.66,111.31 123.15,112.63 124.56,112.69 123.46,113.57 123.83,114.93 122.66,114.15 121.48,114.93 121.86,113.57 120.76,112.69 122.16,112.63" fill="#f89a70" stroke="#ff3030" stroke-width="0.55" fill-opacity="0.75"/><polygon points="123.26,89.65 123.75,90.97 125.16,91.03 124.06,91.91 124.43,93.27 123.26,92.49 122.08,93.27 122.46,91.91 121.36,91.03 122.76,90.97" fill="#f89a70" stroke="#ff3030" stroke-width="0.55" fill-opacity="0.75"/><polygon points="132.39,63.01 132.88,64.33 134.29,64.4 133.18,65.27 133.56,66.63 132.39,65.85 131.21,66.63 131.59,65.27 130.48,64.4 131.89,64.33" fill="#f89a70" stroke="#ff3030" stroke-width="0.55" fill-opacity="0.75"/><rect x="150.77" y="173.79" width="4.6" height="4.6" fill="#f2e600" stroke="#8080ff" stroke-width="0.6"/><line x1="154.7" y1="179.5" x2="238.4" y2="99.8" stroke="#666" stroke-width="0.65"/><line x1="154.7" y1="179.5" x2="32.2" y2="124.8" stroke="#666" stroke-width="0.65"/><line x1="32.2" y1="124.8" x2="32.2" y2="102.6" stroke="#777" stroke-width="0.65"/><line x1="154.7" y1="179.5" x2="157.7" y2="180.85" stroke="#777" stroke-width="0.55"/><line x1="154.7" y1="179.5" x2="152" y2="182.05" stroke="#777" stroke-width="0.55"/><line x1="171.44" y1="163.56" x2="174.44" y2="164.91" stroke="#777" stroke-width="0.55"/><line x1="130.2" y1="168.56" x2="127.5" y2="171.11" stroke="#777" stroke-width="0.55"/><line x1="188.18" y1="147.62" x2="191.18" y2="148.97" stroke="#777" stroke-width="0.55"/><line x1="105.7" y1="157.62" x2="103" y2="160.17" stroke="#777" stroke-width="0.55"/><line x1="204.92" y1="131.68" x2="207.92" y2="133.03" stroke="#777" stroke-width="0.55"/><line x1="81.2" y1="146.68" x2="78.5" y2="149.23" stroke="#777" stroke-width="0.55"/><line x1="221.66" y1="115.74" x2="224.66" y2="117.09" stroke="#777" stroke-width="0.55"/><line x1="56.7" y1="135.74" x2="54" y2="138.29" stroke="#777" stroke-width="0.55"/><line x1="238.4" y1="99.8" x2="241.4" y2="101.15" stroke="#777" stroke-width="0.55"/><line x1="32.2" y1="124.8" x2="29.5" y2="127.35" stroke="#777" stroke-width="0.55"/><line x1="32.2" y1="124.8" x2="29.1" y2="123.3" stroke="#777" stroke-width="0.55"/><line x1="32.2" y1="113.7" x2="29.1" y2="112.2" stroke="#777" stroke-width="0.55"/><line x1="32.2" y1="102.6" x2="29.1" y2="101.1" stroke="#777" stroke-width="0.55"/><text x="162.1" y="187" font-family="Liberation Sans, sans-serif" font-size="6.6" font-weight="normal" text-anchor="middle" dominant-baseline="central" fill="#333333" stroke="#333333" stroke-width="0.18">0</text><text x="182.8" y="170.8" font-family="Liberation Sans, sans-serif" font-size="6.6" font-weight="normal" text-anchor="middle" dominant-baseline="central" fill="#333333" stroke="#333333" stroke-width="0.18">100</text><text x="199.4" y="154.6" font-family="Liberation Sans, sans-serif" font-size="6.6" font-weight="normal" text-anchor="middle" dominant-baseline="central" fill="#333333" stroke="#333333" stroke-width="0.18">200</text><text x="216.5" y="138.7" font-family="Liberation Sans, sans-serif" font-size="6.6" font-weight="normal" text-anchor="middle" dominant-baseline="central" fill="#333333" stroke="#333333" stroke-width="0.18">300</text><text x="232.7" y="122.6" font-family="Liberation Sans, sans-serif" font-size="6.6" font-weight="normal" text-anchor="middle" dominant-baseline="central" fill="#333333" stroke="#333333" stroke-width="0.18">400</text><text x="249.8" y="106.6" font-family="Liberation Sans, sans-serif" font-size="6.6" font-weight="normal" text-anchor="middle" dominant-baseline="central" fill="#333333" stroke="#333333" stroke-width="0.18">500</text><text x="148.3" y="188.1" font-family="Liberation Sans, sans-serif" font-size="6.6" font-weight="normal" text-anchor="middle" dominant-baseline="central" fill="#333333" stroke="#333333" stroke-width="0.18">0</text><text x="120.1" y="177.5" font-family="Liberation Sans, sans-serif" font-size="6.6" font-weight="normal" text-anchor="middle" dominant-baseline="central" fill="#333333" stroke="#333333" stroke-width="0.18">100</text><text x="95.4" y="166.8" font-family="Liberation Sans, sans-serif" font-size="6.6" font-weight="normal" text-anchor="middle" dominant-baseline="central" fill="#333333" stroke="#333333" stroke-width="0.18">200</text><text x="70.7" y="155.9" font-family="Liberation Sans, sans-serif" font-size="6.6" font-weight="normal" text-anchor="middle" dominant-baseline="central" fill="#333333" stroke="#333333" stroke-width="0.18">300</text><text x="45.8" y="144.8" font-family="Liberation Sans, sans-serif" font-size="6.6" font-weight="normal" text-anchor="middle" dominant-baseline="central" fill="#333333" stroke="#333333" stroke-width="0.18">400</text><text x="21.6" y="133.9" font-family="Liberation Sans, sans-serif" font-size="6.6" font-weight="normal" text-anchor="middle" dominant-baseline="central" fill="#333333" stroke="#333333" stroke-width="0.18">500</text><text x="25.9" y="101.5" font-family="Liberation Sans, sans-serif" font-size="6.6" font-weight="normal" text-anchor="end" dominant-baseline="central" fill="#333333" stroke="#333333" stroke-width="0.18">100</text><text x="25.9" y="112.5" font-family="Liberation Sans, sans-serif" font-size="6.6" font-weight="normal" text-anchor="end" dominant-baseline="central" fill="#333333" stroke="#333333" stroke-width="0.18">50</text><text x="25.9" y="123.2" font-family="Liberation Sans, sans-serif" font-size="6.6" font-weight="normal" text-anchor="end" dominant-baseline="central" fill="#333333" stroke="#333333" stroke-width="0.18">0</text><text x="200.1" y="177.5" font-family="Liberation Sans, sans-serif" font-size="6.6" font-weight="normal" text-anchor="middle" dominant-baseline="central" fill="#333333" stroke="#333333" stroke-width="0.18">x</text><text x="99.4" y="183.6" font-family="Liberation Sans, sans-serif" font-size="6.6" font-weight="normal" text-anchor="middle" dominant-baseline="central" fill="#333333" stroke="#333333" stroke-width="0.18">y</text><text x="8.6" y="113.7" font-family="Liberation Sans, sans-serif" font-size="6.6" font-weight="normal" text-anchor="middle" dominant-baseline="central" fill="#333333" stroke="#333333" stroke-width="0.18" transform="rotate(-90 8.6 113.7)">z</text><rect x="177.6" y="77.2" width="60.5" height="15.1" fill="#ffffff" stroke="#8a8a8a" stroke-width="0.7"/><line x1="179.9" y1="81.8" x2="199.8" y2="81.8" stroke="#ff7070" stroke-width="0.6"/><polygon points="189.85,79.8 190.34,81.12 191.75,81.18 190.65,82.06 191.03,83.42 189.85,82.64 188.67,83.42 189.05,82.06 187.95,81.18 189.36,81.12" fill="#f89a70" stroke="#ff3030" stroke-width="0.55" fill-opacity="0.75"/><line x1="179.9" y1="87.9" x2="199.8" y2="87.9" stroke="#8080ff" stroke-width="0.8"/><text x="201.7" y="81.8" font-family="Liberation Serif, sans-serif" font-size="5.35" font-weight="bold" text-anchor="start" dominant-baseline="central" fill="#111" stroke="#111" stroke-width="0.18">Planning path</text><text x="201.7" y="87.9" font-family="Liberation Serif, sans-serif" font-size="5.35" font-weight="bold" text-anchor="start" dominant-baseline="central" fill="#111" stroke="#111" stroke-width="0.18">Following path</text><text x="124.2" y="220.6" font-family="Liberation Serif, serif" font-size="13.7" text-anchor="middle" fill="#000">(<tspan font-weight="bold">a</tspan>)</text><text x="409.2" y="220.6" font-family="Liberation Serif, serif" font-size="13.7" text-anchor="middle" fill="#000">(<tspan font-weight="bold">b</tspan>)</text><text x="124.1" y="455.2" font-family="Liberation Serif, serif" font-size="13.7" text-anchor="middle" fill="#000">(<tspan font-weight="bold">c</tspan>)</text><text x="409.3" y="455.2" font-family="Liberation Serif, serif" font-size="13.7" text-anchor="middle" fill="#000">(<tspan font-weight="bold">d</tspan>)</text></svg>
</body></html>
